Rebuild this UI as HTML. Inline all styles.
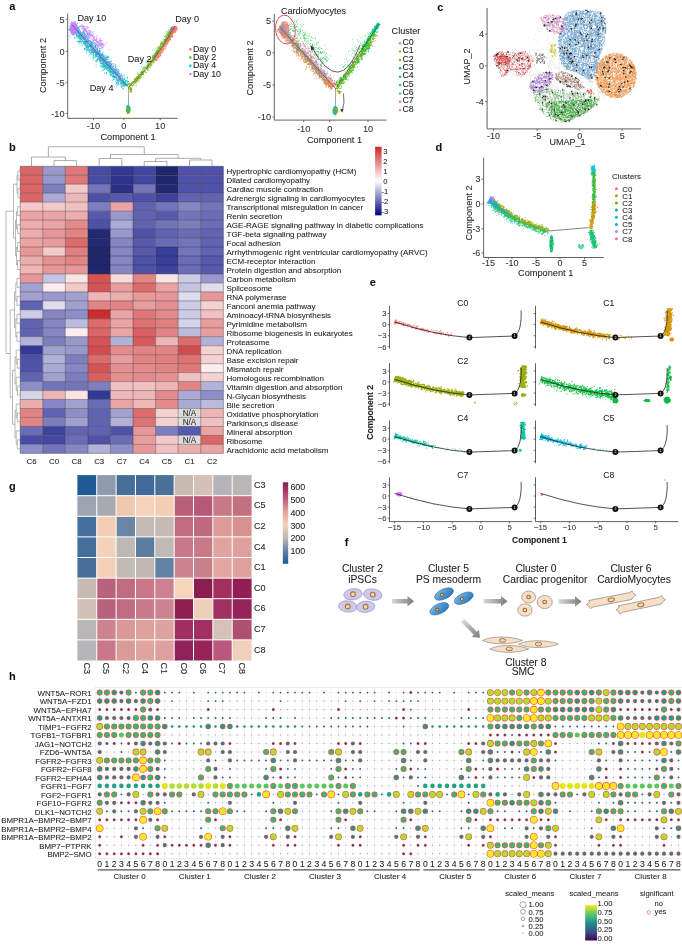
<!DOCTYPE html><html><head><meta charset="utf-8"><title>Figure</title><style>html,body{margin:0;padding:0;background:#fff;}svg{display:block;}svg text{font-family:"Liberation Sans",Arial,sans-serif;stroke:#333;stroke-width:0.18px;stroke-opacity:0.4;}</style></head><body><svg width="682" height="945" viewBox="0 0 682 945"><rect width="682" height="945" fill="#fff"/><text x="9.3" y="10" font-size="11.0" font-weight="bold" fill="#111">a</text>
<text x="9.1" y="151" font-size="11.0" font-weight="bold" fill="#111">b</text>
<text x="437.3" y="10.5" font-size="11.0" font-weight="bold" fill="#111">c</text>
<text x="435.4" y="151" font-size="11.0" font-weight="bold" fill="#111">d</text>
<text x="369.8" y="285.5" font-size="11.0" font-weight="bold" fill="#111">e</text>
<text x="344.8" y="546" font-size="11.0" font-weight="bold" fill="#111">f</text>
<text x="9" y="489.5" font-size="11.0" font-weight="bold" fill="#111">g</text>
<text x="9" y="680" font-size="11.0" font-weight="bold" fill="#111">h</text>
<rect x="20.2" y="166.3" width="22.6" height="9" fill="#db6666"/>
<rect x="42.8" y="166.3" width="22.6" height="9" fill="#9898cc"/>
<rect x="65.3" y="166.3" width="22.6" height="9" fill="#df7878"/>
<rect x="87.9" y="166.3" width="22.6" height="9" fill="#484ca4"/>
<rect x="110.5" y="166.3" width="22.6" height="9" fill="#323896"/>
<rect x="133" y="166.3" width="22.6" height="9" fill="#4347a1"/>
<rect x="155.6" y="166.3" width="22.6" height="9" fill="#1e266c"/>
<rect x="178.2" y="166.3" width="22.6" height="9" fill="#4e51a8"/>
<rect x="200.8" y="166.3" width="22.6" height="9" fill="#4e51a8"/>
<rect x="20.2" y="175.3" width="22.6" height="9" fill="#db6666"/>
<rect x="42.8" y="175.3" width="22.6" height="9" fill="#9898cc"/>
<rect x="65.3" y="175.3" width="22.6" height="9" fill="#df7878"/>
<rect x="87.9" y="175.3" width="22.6" height="9" fill="#484ca4"/>
<rect x="110.5" y="175.3" width="22.6" height="9" fill="#2e348e"/>
<rect x="133" y="175.3" width="22.6" height="9" fill="#4347a1"/>
<rect x="155.6" y="175.3" width="22.6" height="9" fill="#1e266c"/>
<rect x="178.2" y="175.3" width="22.6" height="9" fill="#4e51a8"/>
<rect x="200.8" y="175.3" width="22.6" height="9" fill="#4e51a8"/>
<rect x="20.2" y="184.2" width="22.6" height="9" fill="#db6666"/>
<rect x="42.8" y="184.2" width="22.6" height="9" fill="#7c7ebe"/>
<rect x="65.3" y="184.2" width="22.6" height="9" fill="#f3c9c9"/>
<rect x="87.9" y="184.2" width="22.6" height="9" fill="#7375ba"/>
<rect x="110.5" y="184.2" width="22.6" height="9" fill="#2a3185"/>
<rect x="133" y="184.2" width="22.6" height="9" fill="#7375ba"/>
<rect x="155.6" y="184.2" width="22.6" height="9" fill="#222a74"/>
<rect x="178.2" y="184.2" width="22.6" height="9" fill="#4e51a8"/>
<rect x="200.8" y="184.2" width="22.6" height="9" fill="#4e51a8"/>
<rect x="20.2" y="193.2" width="22.6" height="9" fill="#db6666"/>
<rect x="42.8" y="193.2" width="22.6" height="9" fill="#aaaad5"/>
<rect x="65.3" y="193.2" width="22.6" height="9" fill="#eeb6b6"/>
<rect x="87.9" y="193.2" width="22.6" height="9" fill="#4e51a8"/>
<rect x="110.5" y="193.2" width="22.6" height="9" fill="#575aac"/>
<rect x="133" y="193.2" width="22.6" height="9" fill="#4e51a8"/>
<rect x="155.6" y="193.2" width="22.6" height="9" fill="#3d429d"/>
<rect x="178.2" y="193.2" width="22.6" height="9" fill="#6063b1"/>
<rect x="200.8" y="193.2" width="22.6" height="9" fill="#6063b1"/>
<rect x="20.2" y="202.2" width="22.6" height="9" fill="#f3c9c9"/>
<rect x="42.8" y="202.2" width="22.6" height="9" fill="#f3c9c9"/>
<rect x="65.3" y="202.2" width="22.6" height="9" fill="#f1c0c0"/>
<rect x="87.9" y="202.2" width="22.6" height="9" fill="#7c7ebe"/>
<rect x="110.5" y="202.2" width="22.6" height="9" fill="#eaa4a4"/>
<rect x="133" y="202.2" width="22.6" height="9" fill="#6063b1"/>
<rect x="155.6" y="202.2" width="22.6" height="9" fill="#7375ba"/>
<rect x="178.2" y="202.2" width="22.6" height="9" fill="#8586c3"/>
<rect x="200.8" y="202.2" width="22.6" height="9" fill="#7375ba"/>
<rect x="20.2" y="211.2" width="22.6" height="9" fill="#eaa4a4"/>
<rect x="42.8" y="211.2" width="22.6" height="9" fill="#eaa4a4"/>
<rect x="65.3" y="211.2" width="22.6" height="9" fill="#ecadad"/>
<rect x="87.9" y="211.2" width="22.6" height="9" fill="#575aac"/>
<rect x="110.5" y="211.2" width="22.6" height="9" fill="#9898cc"/>
<rect x="133" y="211.2" width="22.6" height="9" fill="#6063b1"/>
<rect x="155.6" y="211.2" width="22.6" height="9" fill="#575aac"/>
<rect x="178.2" y="211.2" width="22.6" height="9" fill="#7375ba"/>
<rect x="200.8" y="211.2" width="22.6" height="9" fill="#6a6cb6"/>
<rect x="20.2" y="220.1" width="22.6" height="9" fill="#ecadad"/>
<rect x="42.8" y="220.1" width="22.6" height="9" fill="#eaa4a4"/>
<rect x="65.3" y="220.1" width="22.6" height="9" fill="#e48a8a"/>
<rect x="87.9" y="220.1" width="22.6" height="9" fill="#4e51a8"/>
<rect x="110.5" y="220.1" width="22.6" height="9" fill="#aaaad5"/>
<rect x="133" y="220.1" width="22.6" height="9" fill="#6063b1"/>
<rect x="155.6" y="220.1" width="22.6" height="9" fill="#7375ba"/>
<rect x="178.2" y="220.1" width="22.6" height="9" fill="#7c7ebe"/>
<rect x="200.8" y="220.1" width="22.6" height="9" fill="#6a6cb6"/>
<rect x="20.2" y="229.1" width="22.6" height="9" fill="#ecadad"/>
<rect x="42.8" y="229.1" width="22.6" height="9" fill="#e79797"/>
<rect x="65.3" y="229.1" width="22.6" height="9" fill="#e28484"/>
<rect x="87.9" y="229.1" width="22.6" height="9" fill="#222a74"/>
<rect x="110.5" y="229.1" width="22.6" height="9" fill="#9898cc"/>
<rect x="133" y="229.1" width="22.6" height="9" fill="#4e51a8"/>
<rect x="155.6" y="229.1" width="22.6" height="9" fill="#6063b1"/>
<rect x="178.2" y="229.1" width="22.6" height="9" fill="#6a6cb6"/>
<rect x="200.8" y="229.1" width="22.6" height="9" fill="#6063b1"/>
<rect x="20.2" y="238.1" width="22.6" height="9" fill="#eaa4a4"/>
<rect x="42.8" y="238.1" width="22.6" height="9" fill="#e89e9e"/>
<rect x="65.3" y="238.1" width="22.6" height="9" fill="#dc6c6c"/>
<rect x="87.9" y="238.1" width="22.6" height="9" fill="#222a74"/>
<rect x="110.5" y="238.1" width="22.6" height="9" fill="#8586c3"/>
<rect x="133" y="238.1" width="22.6" height="9" fill="#575aac"/>
<rect x="155.6" y="238.1" width="22.6" height="9" fill="#6a6cb6"/>
<rect x="178.2" y="238.1" width="22.6" height="9" fill="#7375ba"/>
<rect x="200.8" y="238.1" width="22.6" height="9" fill="#6063b1"/>
<rect x="20.2" y="247" width="22.6" height="9" fill="#e79797"/>
<rect x="42.8" y="247" width="22.6" height="9" fill="#f3c9c9"/>
<rect x="65.3" y="247" width="22.6" height="9" fill="#e17e7e"/>
<rect x="87.9" y="247" width="22.6" height="9" fill="#1e266c"/>
<rect x="110.5" y="247" width="22.6" height="9" fill="#8586c3"/>
<rect x="133" y="247" width="22.6" height="9" fill="#575aac"/>
<rect x="155.6" y="247" width="22.6" height="9" fill="#383d9a"/>
<rect x="178.2" y="247" width="22.6" height="9" fill="#7375ba"/>
<rect x="200.8" y="247" width="22.6" height="9" fill="#6063b1"/>
<rect x="20.2" y="256" width="22.6" height="9" fill="#ecadad"/>
<rect x="42.8" y="256" width="22.6" height="9" fill="#e59191"/>
<rect x="65.3" y="256" width="22.6" height="9" fill="#e28484"/>
<rect x="87.9" y="256" width="22.6" height="9" fill="#1e266c"/>
<rect x="110.5" y="256" width="22.6" height="9" fill="#8586c3"/>
<rect x="133" y="256" width="22.6" height="9" fill="#4e51a8"/>
<rect x="155.6" y="256" width="22.6" height="9" fill="#383d9a"/>
<rect x="178.2" y="256" width="22.6" height="9" fill="#6a6cb6"/>
<rect x="200.8" y="256" width="22.6" height="9" fill="#575aac"/>
<rect x="20.2" y="265" width="22.6" height="9" fill="#eeb6b6"/>
<rect x="42.8" y="265" width="22.6" height="9" fill="#e79797"/>
<rect x="65.3" y="265" width="22.6" height="9" fill="#e79797"/>
<rect x="87.9" y="265" width="22.6" height="9" fill="#1e266c"/>
<rect x="110.5" y="265" width="22.6" height="9" fill="#8586c3"/>
<rect x="133" y="265" width="22.6" height="9" fill="#4e51a8"/>
<rect x="155.6" y="265" width="22.6" height="9" fill="#3d429d"/>
<rect x="178.2" y="265" width="22.6" height="9" fill="#6a6cb6"/>
<rect x="200.8" y="265" width="22.6" height="9" fill="#575aac"/>
<rect x="20.2" y="273.9" width="22.6" height="9" fill="#e79797"/>
<rect x="42.8" y="273.9" width="22.6" height="9" fill="#c4c4e2"/>
<rect x="65.3" y="273.9" width="22.6" height="9" fill="#f9e4e4"/>
<rect x="87.9" y="273.9" width="22.6" height="9" fill="#d55353"/>
<rect x="110.5" y="273.9" width="22.6" height="9" fill="#f7dbdb"/>
<rect x="133" y="273.9" width="22.6" height="9" fill="#e28484"/>
<rect x="155.6" y="273.9" width="22.6" height="9" fill="#f9e4e4"/>
<rect x="178.2" y="273.9" width="22.6" height="9" fill="#cccce6"/>
<rect x="200.8" y="273.9" width="22.6" height="9" fill="#9898cc"/>
<rect x="20.2" y="282.9" width="22.6" height="9" fill="#a1a1d0"/>
<rect x="42.8" y="282.9" width="22.6" height="9" fill="#fbeded"/>
<rect x="65.3" y="282.9" width="22.6" height="9" fill="#f3c9c9"/>
<rect x="87.9" y="282.9" width="22.6" height="9" fill="#d55353"/>
<rect x="110.5" y="282.9" width="22.6" height="9" fill="#e89e9e"/>
<rect x="133" y="282.9" width="22.6" height="9" fill="#dc6c6c"/>
<rect x="155.6" y="282.9" width="22.6" height="9" fill="#eaa4a4"/>
<rect x="178.2" y="282.9" width="22.6" height="9" fill="#c4c4e2"/>
<rect x="200.8" y="282.9" width="22.6" height="9" fill="#ddddee"/>
<rect x="20.2" y="291.9" width="22.6" height="9" fill="#a1a1d0"/>
<rect x="42.8" y="291.9" width="22.6" height="9" fill="#9898cc"/>
<rect x="65.3" y="291.9" width="22.6" height="9" fill="#a1a1d0"/>
<rect x="87.9" y="291.9" width="22.6" height="9" fill="#eeb6b6"/>
<rect x="110.5" y="291.9" width="22.6" height="9" fill="#ecadad"/>
<rect x="133" y="291.9" width="22.6" height="9" fill="#e79797"/>
<rect x="155.6" y="291.9" width="22.6" height="9" fill="#e79797"/>
<rect x="178.2" y="291.9" width="22.6" height="9" fill="#ddddee"/>
<rect x="200.8" y="291.9" width="22.6" height="9" fill="#e79797"/>
<rect x="20.2" y="300.9" width="22.6" height="9" fill="#6063b1"/>
<rect x="42.8" y="300.9" width="22.6" height="9" fill="#ddddee"/>
<rect x="65.3" y="300.9" width="22.6" height="9" fill="#a1a1d0"/>
<rect x="87.9" y="300.9" width="22.6" height="9" fill="#e28484"/>
<rect x="110.5" y="300.9" width="22.6" height="9" fill="#e28484"/>
<rect x="133" y="300.9" width="22.6" height="9" fill="#e89e9e"/>
<rect x="155.6" y="300.9" width="22.6" height="9" fill="#e59191"/>
<rect x="178.2" y="300.9" width="22.6" height="9" fill="#cccce6"/>
<rect x="200.8" y="300.9" width="22.6" height="9" fill="#f5d2d2"/>
<rect x="20.2" y="309.8" width="22.6" height="9" fill="#cccce6"/>
<rect x="42.8" y="309.8" width="22.6" height="9" fill="#8586c3"/>
<rect x="65.3" y="309.8" width="22.6" height="9" fill="#8e8fc8"/>
<rect x="87.9" y="309.8" width="22.6" height="9" fill="#ca2c2e"/>
<rect x="110.5" y="309.8" width="22.6" height="9" fill="#eaa4a4"/>
<rect x="133" y="309.8" width="22.6" height="9" fill="#df7878"/>
<rect x="155.6" y="309.8" width="22.6" height="9" fill="#e48a8a"/>
<rect x="178.2" y="309.8" width="22.6" height="9" fill="#cccce6"/>
<rect x="200.8" y="309.8" width="22.6" height="9" fill="#f1c0c0"/>
<rect x="20.2" y="318.8" width="22.6" height="9" fill="#6063b1"/>
<rect x="42.8" y="318.8" width="22.6" height="9" fill="#8586c3"/>
<rect x="65.3" y="318.8" width="22.6" height="9" fill="#bbbbdd"/>
<rect x="87.9" y="318.8" width="22.6" height="9" fill="#dc6c6c"/>
<rect x="110.5" y="318.8" width="22.6" height="9" fill="#eaa4a4"/>
<rect x="133" y="318.8" width="22.6" height="9" fill="#de7272"/>
<rect x="155.6" y="318.8" width="22.6" height="9" fill="#e17e7e"/>
<rect x="178.2" y="318.8" width="22.6" height="9" fill="#d4d4ea"/>
<rect x="200.8" y="318.8" width="22.6" height="9" fill="#e89e9e"/>
<rect x="20.2" y="327.8" width="22.6" height="9" fill="#6063b1"/>
<rect x="42.8" y="327.8" width="22.6" height="9" fill="#8586c3"/>
<rect x="65.3" y="327.8" width="22.6" height="9" fill="#fbeded"/>
<rect x="87.9" y="327.8" width="22.6" height="9" fill="#db6666"/>
<rect x="110.5" y="327.8" width="22.6" height="9" fill="#eaa4a4"/>
<rect x="133" y="327.8" width="22.6" height="9" fill="#d96060"/>
<rect x="155.6" y="327.8" width="22.6" height="9" fill="#e28484"/>
<rect x="178.2" y="327.8" width="22.6" height="9" fill="#bbbbdd"/>
<rect x="200.8" y="327.8" width="22.6" height="9" fill="#e89e9e"/>
<rect x="20.2" y="336.7" width="22.6" height="9" fill="#b2b2d9"/>
<rect x="42.8" y="336.7" width="22.6" height="9" fill="#7c7ebe"/>
<rect x="65.3" y="336.7" width="22.6" height="9" fill="#9898cc"/>
<rect x="87.9" y="336.7" width="22.6" height="9" fill="#d55353"/>
<rect x="110.5" y="336.7" width="22.6" height="9" fill="#b2b2d9"/>
<rect x="133" y="336.7" width="22.6" height="9" fill="#d7595a"/>
<rect x="155.6" y="336.7" width="22.6" height="9" fill="#eeb6b6"/>
<rect x="178.2" y="336.7" width="22.6" height="9" fill="#dc6c6c"/>
<rect x="200.8" y="336.7" width="22.6" height="9" fill="#b2b2d9"/>
<rect x="20.2" y="345.7" width="22.6" height="9" fill="#323896"/>
<rect x="42.8" y="345.7" width="22.6" height="9" fill="#a1a1d0"/>
<rect x="65.3" y="345.7" width="22.6" height="9" fill="#9898cc"/>
<rect x="87.9" y="345.7" width="22.6" height="9" fill="#d34c4d"/>
<rect x="110.5" y="345.7" width="22.6" height="9" fill="#e48a8a"/>
<rect x="133" y="345.7" width="22.6" height="9" fill="#e28484"/>
<rect x="155.6" y="345.7" width="22.6" height="9" fill="#e28484"/>
<rect x="178.2" y="345.7" width="22.6" height="9" fill="#d34c4d"/>
<rect x="200.8" y="345.7" width="22.6" height="9" fill="#f5d2d2"/>
<rect x="20.2" y="354.7" width="22.6" height="9" fill="#4e51a8"/>
<rect x="42.8" y="354.7" width="22.6" height="9" fill="#b2b2d9"/>
<rect x="65.3" y="354.7" width="22.6" height="9" fill="#7c7ebe"/>
<rect x="87.9" y="354.7" width="22.6" height="9" fill="#dc6c6c"/>
<rect x="110.5" y="354.7" width="22.6" height="9" fill="#e89e9e"/>
<rect x="133" y="354.7" width="22.6" height="9" fill="#e28484"/>
<rect x="155.6" y="354.7" width="22.6" height="9" fill="#e17e7e"/>
<rect x="178.2" y="354.7" width="22.6" height="9" fill="#de7272"/>
<rect x="200.8" y="354.7" width="22.6" height="9" fill="#f5d2d2"/>
<rect x="20.2" y="363.6" width="22.6" height="9" fill="#4e51a8"/>
<rect x="42.8" y="363.6" width="22.6" height="9" fill="#aaaad5"/>
<rect x="65.3" y="363.6" width="22.6" height="9" fill="#8586c3"/>
<rect x="87.9" y="363.6" width="22.6" height="9" fill="#d55353"/>
<rect x="110.5" y="363.6" width="22.6" height="9" fill="#e59191"/>
<rect x="133" y="363.6" width="22.6" height="9" fill="#e48a8a"/>
<rect x="155.6" y="363.6" width="22.6" height="9" fill="#e28484"/>
<rect x="178.2" y="363.6" width="22.6" height="9" fill="#df7878"/>
<rect x="200.8" y="363.6" width="22.6" height="9" fill="#fbeded"/>
<rect x="20.2" y="372.6" width="22.6" height="9" fill="#6063b1"/>
<rect x="42.8" y="372.6" width="22.6" height="9" fill="#a1a1d0"/>
<rect x="65.3" y="372.6" width="22.6" height="9" fill="#7c7ebe"/>
<rect x="87.9" y="372.6" width="22.6" height="9" fill="#d96060"/>
<rect x="110.5" y="372.6" width="22.6" height="9" fill="#e59191"/>
<rect x="133" y="372.6" width="22.6" height="9" fill="#e48a8a"/>
<rect x="155.6" y="372.6" width="22.6" height="9" fill="#e59191"/>
<rect x="178.2" y="372.6" width="22.6" height="9" fill="#f1c0c0"/>
<rect x="200.8" y="372.6" width="22.6" height="9" fill="#f5d2d2"/>
<rect x="20.2" y="381.6" width="22.6" height="9" fill="#8e8fc8"/>
<rect x="42.8" y="381.6" width="22.6" height="9" fill="#7375ba"/>
<rect x="65.3" y="381.6" width="22.6" height="9" fill="#7375ba"/>
<rect x="87.9" y="381.6" width="22.6" height="9" fill="#7c7ebe"/>
<rect x="110.5" y="381.6" width="22.6" height="9" fill="#f1c0c0"/>
<rect x="133" y="381.6" width="22.6" height="9" fill="#f1c0c0"/>
<rect x="155.6" y="381.6" width="22.6" height="9" fill="#eeb6b6"/>
<rect x="178.2" y="381.6" width="22.6" height="9" fill="#e28484"/>
<rect x="200.8" y="381.6" width="22.6" height="9" fill="#b2b2d9"/>
<rect x="20.2" y="390.6" width="22.6" height="9" fill="#d4d4ea"/>
<rect x="42.8" y="390.6" width="22.6" height="9" fill="#eeb6b6"/>
<rect x="65.3" y="390.6" width="22.6" height="9" fill="#f9e4e4"/>
<rect x="87.9" y="390.6" width="22.6" height="9" fill="#323896"/>
<rect x="110.5" y="390.6" width="22.6" height="9" fill="#eeb6b6"/>
<rect x="133" y="390.6" width="22.6" height="9" fill="#eeb6b6"/>
<rect x="155.6" y="390.6" width="22.6" height="9" fill="#e48a8a"/>
<rect x="178.2" y="390.6" width="22.6" height="9" fill="#aaaad5"/>
<rect x="200.8" y="390.6" width="22.6" height="9" fill="#8e8fc8"/>
<rect x="20.2" y="399.5" width="22.6" height="9" fill="#ecadad"/>
<rect x="42.8" y="399.5" width="22.6" height="9" fill="#8586c3"/>
<rect x="65.3" y="399.5" width="22.6" height="9" fill="#a1a1d0"/>
<rect x="87.9" y="399.5" width="22.6" height="9" fill="#6a6cb6"/>
<rect x="110.5" y="399.5" width="22.6" height="9" fill="#eaa4a4"/>
<rect x="133" y="399.5" width="22.6" height="9" fill="#eeb6b6"/>
<rect x="155.6" y="399.5" width="22.6" height="9" fill="#e48a8a"/>
<rect x="178.2" y="399.5" width="22.6" height="9" fill="#aaaad5"/>
<rect x="200.8" y="399.5" width="22.6" height="9" fill="#bbbbdd"/>
<rect x="20.2" y="408.5" width="22.6" height="9" fill="#e28484"/>
<rect x="42.8" y="408.5" width="22.6" height="9" fill="#6063b1"/>
<rect x="65.3" y="408.5" width="22.6" height="9" fill="#8e8fc8"/>
<rect x="87.9" y="408.5" width="22.6" height="9" fill="#6063b1"/>
<rect x="110.5" y="408.5" width="22.6" height="9" fill="#a1a1d0"/>
<rect x="133" y="408.5" width="22.6" height="9" fill="#dc6c6c"/>
<rect x="155.6" y="408.5" width="22.6" height="9" fill="#f5d2d2"/>
<rect x="178.2" y="408.5" width="22.6" height="9" fill="#dcdcdc"/>
<text x="189.5" y="416.1" font-size="8.2" text-anchor="middle" fill="#333">N/A</text>
<rect x="200.8" y="408.5" width="22.6" height="9" fill="#eeb6b6"/>
<rect x="20.2" y="417.5" width="22.6" height="9" fill="#e28484"/>
<rect x="42.8" y="417.5" width="22.6" height="9" fill="#7c7ebe"/>
<rect x="65.3" y="417.5" width="22.6" height="9" fill="#a1a1d0"/>
<rect x="87.9" y="417.5" width="22.6" height="9" fill="#6063b1"/>
<rect x="110.5" y="417.5" width="22.6" height="9" fill="#b2b2d9"/>
<rect x="133" y="417.5" width="22.6" height="9" fill="#de7272"/>
<rect x="155.6" y="417.5" width="22.6" height="9" fill="#f5d2d2"/>
<rect x="178.2" y="417.5" width="22.6" height="9" fill="#dcdcdc"/>
<text x="189.5" y="425.1" font-size="8.2" text-anchor="middle" fill="#333">N/A</text>
<rect x="200.8" y="417.5" width="22.6" height="9" fill="#f1c0c0"/>
<rect x="20.2" y="426.4" width="22.6" height="9" fill="#6a6cb6"/>
<rect x="42.8" y="426.4" width="22.6" height="9" fill="#3d429d"/>
<rect x="65.3" y="426.4" width="22.6" height="9" fill="#6063b1"/>
<rect x="87.9" y="426.4" width="22.6" height="9" fill="#6063b1"/>
<rect x="110.5" y="426.4" width="22.6" height="9" fill="#4e51a8"/>
<rect x="133" y="426.4" width="22.6" height="9" fill="#e79797"/>
<rect x="155.6" y="426.4" width="22.6" height="9" fill="#7c7ebe"/>
<rect x="178.2" y="426.4" width="22.6" height="9" fill="#575aac"/>
<rect x="200.8" y="426.4" width="22.6" height="9" fill="#eaa4a4"/>
<rect x="20.2" y="435.4" width="22.6" height="9" fill="#484ca4"/>
<rect x="42.8" y="435.4" width="22.6" height="9" fill="#4347a1"/>
<rect x="65.3" y="435.4" width="22.6" height="9" fill="#6a6cb6"/>
<rect x="87.9" y="435.4" width="22.6" height="9" fill="#4e51a8"/>
<rect x="110.5" y="435.4" width="22.6" height="9" fill="#6a6cb6"/>
<rect x="133" y="435.4" width="22.6" height="9" fill="#e89e9e"/>
<rect x="155.6" y="435.4" width="22.6" height="9" fill="#f3c9c9"/>
<rect x="178.2" y="435.4" width="22.6" height="9" fill="#dcdcdc"/>
<text x="189.5" y="443.1" font-size="8.2" text-anchor="middle" fill="#333">N/A</text>
<rect x="200.8" y="435.4" width="22.6" height="9" fill="#db6666"/>
<rect x="20.2" y="444.4" width="22.6" height="9" fill="#8e8fc8"/>
<rect x="42.8" y="444.4" width="22.6" height="9" fill="#7375ba"/>
<rect x="65.3" y="444.4" width="22.6" height="9" fill="#8586c3"/>
<rect x="87.9" y="444.4" width="22.6" height="9" fill="#b2b2d9"/>
<rect x="110.5" y="444.4" width="22.6" height="9" fill="#8e8fc8"/>
<rect x="133" y="444.4" width="22.6" height="9" fill="#e79797"/>
<rect x="155.6" y="444.4" width="22.6" height="9" fill="#f1c0c0"/>
<rect x="178.2" y="444.4" width="22.6" height="9" fill="#ecadad"/>
<rect x="200.8" y="444.4" width="22.6" height="9" fill="#eaa4a4"/>
<path d="M20.2 166.30H223.3M20.2 175.27H223.3M20.2 184.24H223.3M20.2 193.21H223.3M20.2 202.18H223.3M20.2 211.15H223.3M20.2 220.12H223.3M20.2 229.09H223.3M20.2 238.06H223.3M20.2 247.03H223.3M20.2 256.00H223.3M20.2 264.97H223.3M20.2 273.94H223.3M20.2 282.91H223.3M20.2 291.88H223.3M20.2 300.85H223.3M20.2 309.82H223.3M20.2 318.79H223.3M20.2 327.76H223.3M20.2 336.73H223.3M20.2 345.70H223.3M20.2 354.67H223.3M20.2 363.64H223.3M20.2 372.61H223.3M20.2 381.58H223.3M20.2 390.55H223.3M20.2 399.52H223.3M20.2 408.49H223.3M20.2 417.46H223.3M20.2 426.43H223.3M20.2 435.40H223.3M20.2 444.37H223.3M20.2 453.34H223.3M20.20 166.3V453.3M42.77 166.3V453.3M65.34 166.3V453.3M87.91 166.3V453.3M110.48 166.3V453.3M133.05 166.3V453.3M155.62 166.3V453.3M178.19 166.3V453.3M200.76 166.3V453.3M223.33 166.3V453.3" stroke="#2e2630" stroke-width="0.75" stroke-opacity="0.5" fill="none"/>
<text x="226.5" y="174.4" font-size="8.0" fill="#1a1a1a">Hypertrophic cardiomyopathy (HCM)</text>
<text x="226.5" y="183.4" font-size="8.0" fill="#1a1a1a">Dilated cardiomyopathy</text>
<text x="226.5" y="192.3" font-size="8.0" fill="#1a1a1a">Cardiac muscle contraction</text>
<text x="226.5" y="201.3" font-size="8.0" fill="#1a1a1a">Adrenergic signaling in cardiomyocytes</text>
<text x="226.5" y="210.3" font-size="8.0" fill="#1a1a1a">Transcriptional misregulation in cancer</text>
<text x="226.5" y="219.2" font-size="8.0" fill="#1a1a1a">Renin secretion</text>
<text x="226.5" y="228.2" font-size="8.0" fill="#1a1a1a">AGE-RAGE signaling pathway in diabetic complications</text>
<text x="226.5" y="237.2" font-size="8.0" fill="#1a1a1a">TGF-beta signaling pathway</text>
<text x="226.5" y="246.1" font-size="8.0" fill="#1a1a1a">Focal adhesion</text>
<text x="226.5" y="255.1" font-size="8.0" fill="#1a1a1a">Arrhythmogenic right ventricular cardiomyopathy (ARVC)</text>
<text x="226.5" y="264.1" font-size="8.0" fill="#1a1a1a">ECM-receptor interaction</text>
<text x="226.5" y="273.1" font-size="8.0" fill="#1a1a1a">Protein digestion and absorption</text>
<text x="226.5" y="282" font-size="8.0" fill="#1a1a1a">Carbon metabolism</text>
<text x="226.5" y="291" font-size="8.0" fill="#1a1a1a">Spliceosome</text>
<text x="226.5" y="300" font-size="8.0" fill="#1a1a1a">RNA polymerase</text>
<text x="226.5" y="308.9" font-size="8.0" fill="#1a1a1a">Fanconi anemia pathway</text>
<text x="226.5" y="317.9" font-size="8.0" fill="#1a1a1a">Aminoacyl-tRNA biosynthesis</text>
<text x="226.5" y="326.9" font-size="8.0" fill="#1a1a1a">Pyrimidine metabolism</text>
<text x="226.5" y="335.8" font-size="8.0" fill="#1a1a1a">Ribosome biogenesis in eukaryotes</text>
<text x="226.5" y="344.8" font-size="8.0" fill="#1a1a1a">Proteasome</text>
<text x="226.5" y="353.8" font-size="8.0" fill="#1a1a1a">DNA replication</text>
<text x="226.5" y="362.8" font-size="8.0" fill="#1a1a1a">Base excision repair</text>
<text x="226.5" y="371.7" font-size="8.0" fill="#1a1a1a">Mismatch repair</text>
<text x="226.5" y="380.7" font-size="8.0" fill="#1a1a1a">Homologous recombination</text>
<text x="226.5" y="389.7" font-size="8.0" fill="#1a1a1a">Vitamin digestion and absorption</text>
<text x="226.5" y="398.6" font-size="8.0" fill="#1a1a1a">N-Glycan biosynthesis</text>
<text x="226.5" y="407.6" font-size="8.0" fill="#1a1a1a">Bile secretion</text>
<text x="226.5" y="416.6" font-size="8.0" fill="#1a1a1a">Oxidative phosphorylation</text>
<text x="226.5" y="425.5" font-size="8.0" fill="#1a1a1a">Parkinson,s disease</text>
<text x="226.5" y="434.5" font-size="8.0" fill="#1a1a1a">Mineral absorption</text>
<text x="226.5" y="443.5" font-size="8.0" fill="#1a1a1a">Ribosome</text>
<text x="226.5" y="452.5" font-size="8.0" fill="#1a1a1a">Arachidonic acid metabolism</text>
<text x="31.5" y="463.9" font-size="7.9" text-anchor="middle" fill="#1a1a1a">C6</text>
<text x="54.1" y="463.9" font-size="7.9" text-anchor="middle" fill="#1a1a1a">C0</text>
<text x="76.6" y="463.9" font-size="7.9" text-anchor="middle" fill="#1a1a1a">C8</text>
<text x="99.2" y="463.9" font-size="7.9" text-anchor="middle" fill="#1a1a1a">C3</text>
<text x="121.8" y="463.9" font-size="7.9" text-anchor="middle" fill="#1a1a1a">C7</text>
<text x="144.3" y="463.9" font-size="7.9" text-anchor="middle" fill="#1a1a1a">C4</text>
<text x="166.9" y="463.9" font-size="7.9" text-anchor="middle" fill="#1a1a1a">C5</text>
<text x="189.5" y="463.9" font-size="7.9" text-anchor="middle" fill="#1a1a1a">C1</text>
<text x="212" y="463.9" font-size="7.9" text-anchor="middle" fill="#1a1a1a">C2</text>
<defs><linearGradient id="gb" x1="0" y1="0" x2="0" y2="1"><stop offset="0" stop-color="#cd2626"/><stop offset="0.5" stop-color="#ffffff"/><stop offset="1" stop-color="#000080"/></linearGradient></defs>
<rect x="375.1" y="146.8" width="6.5" height="68.5" fill="url(#gb)"/>
<text x="383.2" y="154.1" font-size="7.6" fill="#222">3</text>
<text x="383.2" y="164.1" font-size="7.6" fill="#222">2</text>
<text x="383.2" y="174.1" font-size="7.6" fill="#222">1</text>
<text x="383.2" y="184.2" font-size="7.6" fill="#222">0</text>
<text x="381.6" y="194.2" font-size="7.6" fill="#222">-1</text>
<text x="381.6" y="204.2" font-size="7.6" fill="#222">-2</text>
<text x="381.6" y="214.2" font-size="7.6" fill="#222">-3</text>
<path d="M54.1 166.3V160.6H76.6V166.3M31.5 166.3V157.0H65.3V160.6M99.2 166.3V158.5H121.8V166.3M144.3 166.3V161.5H166.9V166.3M189.5 166.3V160.0H212.0V166.3M155.6 161.5V158.3H200.8V160.0M110.5 158.5V154.5H178.2V158.3M48.4 157.0V146.8H144.3V154.5" stroke="#8a8a8a" stroke-width="0.7" fill="none"/>
<path d="M17.9 175.3H17.0V193.2H17.9M20.2 170.8H17.9V179.8H20.2M20.2 188.7H17.9V197.7H20.2M16.5 220.1H15.5V256.0H16.5M17.6 211.2H16.5V229.1H17.6M20.2 206.7H17.6V215.6H20.2M20.2 224.6H17.6V233.6H20.2M17.6 247.0H16.5V265.0H17.6M20.2 242.5H17.6V251.5H20.2M20.2 260.5H17.6V269.5H20.2M15.8 291.9H14.5V327.8H15.8M17.0 282.9H15.8V300.9H17.0M20.2 278.4H17.0V287.4H20.2M20.2 296.4H17.0V305.3H20.2M17.0 318.8H15.8V336.7H17.0M20.2 314.3H17.0V323.3H20.2M20.2 332.2H17.0V341.2H20.2M16.2 356.9H15.0V383.8H16.2M20.2 350.2H16.2V363.6H17.3M20.2 359.2H17.3V368.1H20.2M20.2 377.1H16.2V390.6H17.3M20.2 386.1H17.3V395.0H20.2M16.2 410.7H15.0V437.6H16.2M20.2 404.0H16.2V417.5H17.3M20.2 413.0H17.3V421.9H20.2M20.2 430.9H16.2V444.4H17.3M20.2 439.9H17.3V448.9H20.2M17.0 184.2H13.5V238.1H15.5M15.0 370.4H12.5V424.2H15.0M14.5 309.8H10.2V397.3H12.5M13.5 211.2H6.0V353.5H10.2" stroke="#8a8a8a" stroke-width="0.6" fill="none"/>
<rect x="77.4" y="475.1" width="19.4" height="20.6" fill="#1F5A94"/>
<rect x="96.8" y="475.1" width="19.4" height="20.6" fill="#8E9BAE"/>
<rect x="116.1" y="475.1" width="19.4" height="20.6" fill="#456E99"/>
<rect x="135.5" y="475.1" width="19.4" height="20.6" fill="#41699A"/>
<rect x="154.8" y="475.1" width="19.4" height="20.6" fill="#4C7099"/>
<rect x="174.2" y="475.1" width="19.4" height="20.6" fill="#C9BAB0"/>
<rect x="193.5" y="475.1" width="19.4" height="20.6" fill="#D4C0B4"/>
<rect x="212.9" y="475.1" width="19.4" height="20.6" fill="#B4B4B8"/>
<rect x="232.2" y="475.1" width="19.4" height="20.6" fill="#B9B6B6"/>
<rect x="77.4" y="495.7" width="19.4" height="20.6" fill="#9DA5B0"/>
<rect x="96.8" y="495.7" width="19.4" height="20.6" fill="#A8AAB0"/>
<rect x="116.1" y="495.7" width="19.4" height="20.6" fill="#F0C8B0"/>
<rect x="135.5" y="495.7" width="19.4" height="20.6" fill="#F5D2B8"/>
<rect x="154.8" y="495.7" width="19.4" height="20.6" fill="#F3CDB4"/>
<rect x="174.2" y="495.7" width="19.4" height="20.6" fill="#B8607A"/>
<rect x="193.5" y="495.7" width="19.4" height="20.6" fill="#B65878"/>
<rect x="212.9" y="495.7" width="19.4" height="20.6" fill="#C87886"/>
<rect x="232.2" y="495.7" width="19.4" height="20.6" fill="#C27082"/>
<rect x="77.4" y="516.3" width="19.4" height="20.6" fill="#466F9B"/>
<rect x="96.8" y="516.3" width="19.4" height="20.6" fill="#F2CCB4"/>
<rect x="116.1" y="516.3" width="19.4" height="20.6" fill="#6A85A5"/>
<rect x="135.5" y="516.3" width="19.4" height="20.6" fill="#C6BCB6"/>
<rect x="154.8" y="516.3" width="19.4" height="20.6" fill="#C6BAB4"/>
<rect x="174.2" y="516.3" width="19.4" height="20.6" fill="#C06C80"/>
<rect x="193.5" y="516.3" width="19.4" height="20.6" fill="#C06A80"/>
<rect x="212.9" y="516.3" width="19.4" height="20.6" fill="#DC9A98"/>
<rect x="232.2" y="516.3" width="19.4" height="20.6" fill="#D8908F"/>
<rect x="77.4" y="536.9" width="19.4" height="20.6" fill="#456E9B"/>
<rect x="96.8" y="536.9" width="19.4" height="20.6" fill="#F4D2BA"/>
<rect x="116.1" y="536.9" width="19.4" height="20.6" fill="#BEB8B4"/>
<rect x="135.5" y="536.9" width="19.4" height="20.6" fill="#5C7CA0"/>
<rect x="154.8" y="536.9" width="19.4" height="20.6" fill="#C0BAB4"/>
<rect x="174.2" y="536.9" width="19.4" height="20.6" fill="#C87888"/>
<rect x="193.5" y="536.9" width="19.4" height="20.6" fill="#C87A88"/>
<rect x="212.9" y="536.9" width="19.4" height="20.6" fill="#E0A4A0"/>
<rect x="232.2" y="536.9" width="19.4" height="20.6" fill="#DEA09C"/>
<rect x="77.4" y="557.5" width="19.4" height="20.6" fill="#476F9A"/>
<rect x="96.8" y="557.5" width="19.4" height="20.6" fill="#F3CFB5"/>
<rect x="116.1" y="557.5" width="19.4" height="20.6" fill="#C2BAB4"/>
<rect x="135.5" y="557.5" width="19.4" height="20.6" fill="#BEB7B4"/>
<rect x="154.8" y="557.5" width="19.4" height="20.6" fill="#6383A5"/>
<rect x="174.2" y="557.5" width="19.4" height="20.6" fill="#CE8490"/>
<rect x="193.5" y="557.5" width="19.4" height="20.6" fill="#C8808A"/>
<rect x="212.9" y="557.5" width="19.4" height="20.6" fill="#E2A8A0"/>
<rect x="232.2" y="557.5" width="19.4" height="20.6" fill="#DEA29E"/>
<rect x="77.4" y="578.1" width="19.4" height="20.6" fill="#C8BBB4"/>
<rect x="96.8" y="578.1" width="19.4" height="20.6" fill="#B8627C"/>
<rect x="116.1" y="578.1" width="19.4" height="20.6" fill="#C06C80"/>
<rect x="135.5" y="578.1" width="19.4" height="20.6" fill="#C87888"/>
<rect x="154.8" y="578.1" width="19.4" height="20.6" fill="#CC8090"/>
<rect x="174.2" y="578.1" width="19.4" height="20.6" fill="#F6D6BA"/>
<rect x="193.5" y="578.1" width="19.4" height="20.6" fill="#8A1E50"/>
<rect x="212.9" y="578.1" width="19.4" height="20.6" fill="#A0305E"/>
<rect x="232.2" y="578.1" width="19.4" height="20.6" fill="#921E55"/>
<rect x="77.4" y="598.7" width="19.4" height="20.6" fill="#D0C0B6"/>
<rect x="96.8" y="598.7" width="19.4" height="20.6" fill="#B8627C"/>
<rect x="116.1" y="598.7" width="19.4" height="20.6" fill="#C06C80"/>
<rect x="135.5" y="598.7" width="19.4" height="20.6" fill="#C87A88"/>
<rect x="154.8" y="598.7" width="19.4" height="20.6" fill="#CC8290"/>
<rect x="174.2" y="598.7" width="19.4" height="20.6" fill="#8C1E50"/>
<rect x="193.5" y="598.7" width="19.4" height="20.6" fill="#F0CFB8"/>
<rect x="212.9" y="598.7" width="19.4" height="20.6" fill="#A0305E"/>
<rect x="232.2" y="598.7" width="19.4" height="20.6" fill="#96245A"/>
<rect x="77.4" y="619.3" width="19.4" height="20.6" fill="#B8B6B6"/>
<rect x="96.8" y="619.3" width="19.4" height="20.6" fill="#CC8490"/>
<rect x="116.1" y="619.3" width="19.4" height="20.6" fill="#DA9896"/>
<rect x="135.5" y="619.3" width="19.4" height="20.6" fill="#DEA29C"/>
<rect x="154.8" y="619.3" width="19.4" height="20.6" fill="#DEA29E"/>
<rect x="174.2" y="619.3" width="19.4" height="20.6" fill="#A02E60"/>
<rect x="193.5" y="619.3" width="19.4" height="20.6" fill="#A03060"/>
<rect x="212.9" y="619.3" width="19.4" height="20.6" fill="#D4C2B8"/>
<rect x="232.2" y="619.3" width="19.4" height="20.6" fill="#B05070"/>
<rect x="77.4" y="639.9" width="19.4" height="20.6" fill="#B6B6B8"/>
<rect x="96.8" y="639.9" width="19.4" height="20.6" fill="#C8788A"/>
<rect x="116.1" y="639.9" width="19.4" height="20.6" fill="#DA9A98"/>
<rect x="135.5" y="639.9" width="19.4" height="20.6" fill="#E0A49E"/>
<rect x="154.8" y="639.9" width="19.4" height="20.6" fill="#DEA09E"/>
<rect x="174.2" y="639.9" width="19.4" height="20.6" fill="#90205A"/>
<rect x="193.5" y="639.9" width="19.4" height="20.6" fill="#962458"/>
<rect x="212.9" y="639.9" width="19.4" height="20.6" fill="#B8587A"/>
<rect x="232.2" y="639.9" width="19.4" height="20.6" fill="#F0D0B8"/>
<path d="M77.4 495.70H251.6M96.75 475.1V660.5M77.4 516.30H251.6M116.10 475.1V660.5M77.4 536.90H251.6M135.45 475.1V660.5M77.4 557.50H251.6M154.80 475.1V660.5M77.4 578.10H251.6M174.15 475.1V660.5M77.4 598.70H251.6M193.50 475.1V660.5M77.4 619.30H251.6M212.85 475.1V660.5M77.4 639.90H251.6M232.20 475.1V660.5" stroke="#fff" stroke-width="1" fill="none"/>
<text x="254" y="487.8" font-size="9.1" fill="#222">C3</text>
<text x="0" y="0" transform="translate(83.9,662.4) rotate(90)" font-size="9.1" fill="#222">C3</text>
<text x="254" y="508.4" font-size="9.1" fill="#222">C5</text>
<text x="0" y="0" transform="translate(103.2,662.4) rotate(90)" font-size="9.1" fill="#222">C5</text>
<text x="254" y="529" font-size="9.1" fill="#222">C2</text>
<text x="0" y="0" transform="translate(122.6,662.4) rotate(90)" font-size="9.1" fill="#222">C2</text>
<text x="254" y="549.6" font-size="9.1" fill="#222">C4</text>
<text x="0" y="0" transform="translate(141.9,662.4) rotate(90)" font-size="9.1" fill="#222">C4</text>
<text x="254" y="570.2" font-size="9.1" fill="#222">C1</text>
<text x="0" y="0" transform="translate(161.3,662.4) rotate(90)" font-size="9.1" fill="#222">C1</text>
<text x="254" y="590.8" font-size="9.1" fill="#222">C0</text>
<text x="0" y="0" transform="translate(180.6,662.4) rotate(90)" font-size="9.1" fill="#222">C0</text>
<text x="254" y="611.4" font-size="9.1" fill="#222">C6</text>
<text x="0" y="0" transform="translate(200.0,662.4) rotate(90)" font-size="9.1" fill="#222">C6</text>
<text x="254" y="632" font-size="9.1" fill="#222">C7</text>
<text x="0" y="0" transform="translate(219.3,662.4) rotate(90)" font-size="9.1" fill="#222">C7</text>
<text x="254" y="652.6" font-size="9.1" fill="#222">C8</text>
<text x="0" y="0" transform="translate(238.7,662.4) rotate(90)" font-size="9.1" fill="#222">C8</text>
<defs><linearGradient id="gg" x1="0" y1="0" x2="0" y2="1"><stop offset="0" stop-color="#8b1a4f"/><stop offset="0.18" stop-color="#b85476"/><stop offset="0.36" stop-color="#e4a29c"/><stop offset="0.52" stop-color="#f3d2b9"/><stop offset="0.68" stop-color="#bbb8b8"/><stop offset="0.85" stop-color="#5f7fa3"/><stop offset="1" stop-color="#1f5a94"/></linearGradient></defs>
<rect x="282.8" y="482.3" width="5.4" height="81.5" fill="url(#gg)"/>
<text x="290.4" y="490.1" font-size="8.9" fill="#222">600</text>
<text x="290.4" y="502.9" font-size="8.9" fill="#222">500</text>
<text x="290.4" y="515.7" font-size="8.9" fill="#222">400</text>
<text x="290.4" y="528.5" font-size="8.9" fill="#222">300</text>
<text x="290.4" y="541.2" font-size="8.9" fill="#222">200</text>
<text x="290.4" y="554" font-size="8.9" fill="#222">100</text>
<path d="M99.70 687.3V858.5M106.94 687.3V858.5M114.17 687.3V858.5M121.41 687.3V858.5M128.64 687.3V858.5M135.88 687.3V858.5M143.11 687.3V858.5M150.34 687.3V858.5M157.58 687.3V858.5M164.81 687.3V858.5M172.05 687.3V858.5M179.29 687.3V858.5M186.52 687.3V858.5M193.75 687.3V858.5M200.99 687.3V858.5M208.23 687.3V858.5M215.46 687.3V858.5M222.69 687.3V858.5M229.93 687.3V858.5M237.17 687.3V858.5M244.40 687.3V858.5M251.63 687.3V858.5M258.87 687.3V858.5M266.11 687.3V858.5M273.34 687.3V858.5M280.57 687.3V858.5M287.81 687.3V858.5M295.05 687.3V858.5M302.28 687.3V858.5M309.51 687.3V858.5M316.75 687.3V858.5M323.99 687.3V858.5M331.22 687.3V858.5M338.46 687.3V858.5M345.69 687.3V858.5M352.93 687.3V858.5M360.16 687.3V858.5M367.39 687.3V858.5M374.63 687.3V858.5M381.87 687.3V858.5M389.10 687.3V858.5M396.33 687.3V858.5M403.57 687.3V858.5M410.81 687.3V858.5M418.04 687.3V858.5M425.27 687.3V858.5M432.51 687.3V858.5M439.75 687.3V858.5M446.98 687.3V858.5M454.22 687.3V858.5M461.45 687.3V858.5M468.69 687.3V858.5M475.92 687.3V858.5M483.16 687.3V858.5M490.39 687.3V858.5M497.62 687.3V858.5M504.86 687.3V858.5M512.10 687.3V858.5M519.33 687.3V858.5M526.57 687.3V858.5M533.80 687.3V858.5M541.04 687.3V858.5M548.27 687.3V858.5M555.50 687.3V858.5M562.74 687.3V858.5M569.98 687.3V858.5M577.21 687.3V858.5M584.45 687.3V858.5M591.68 687.3V858.5M598.92 687.3V858.5M606.15 687.3V858.5M613.39 687.3V858.5M620.62 687.3V858.5M627.86 687.3V858.5M635.09 687.3V858.5M642.33 687.3V858.5M649.56 687.3V858.5M656.80 687.3V858.5M664.03 687.3V858.5M671.27 687.3V858.5M678.50 687.3V858.5M95.3 692.60H681M95.3 701.08H681M95.3 709.56H681M95.3 718.04H681M95.3 726.52H681M95.3 735.00H681M95.3 743.48H681M95.3 751.96H681M95.3 760.44H681M95.3 768.92H681M95.3 777.40H681M95.3 785.88H681M95.3 794.36H681M95.3 802.84H681M95.3 811.32H681M95.3 819.80H681M95.3 828.28H681M95.3 836.76H681M95.3 845.24H681M95.3 853.72H681" stroke="#e6e6e6" stroke-width="0.4" fill="none"/>
<rect x="95.3" y="687.3" width="587" height="171.2" fill="none" stroke="#e2e2e2" stroke-width="0.6"/>
<path d="M106.9 752h0m0 76.3h0m0 8.5h0m0 8.4h0m7.3-93.2h0m0 76.3h0m0 8.5h0m0 8.4h0m7.2-16.9h0m0 16.9h0m7.2-93.2h0m0 76.3h0m0 8.5h0m0 8.4h0m7.3 0h0m7.2-50.8h0m7.2-42.4h0m0 76.3h0m0 8.5h0m0 8.4h0m14.5-144.1h0m0 8.5h0m0 25.4h0m0 84.8h0m0 33.9h0m7.3-144.1h0m0 25.4h0m0 17h0m0 8.4h0m0 8.5h0m0 8.5h0m0 25.4h0m0 17h0m0 8.5h0m0 8.5h0m0 16.9h0m7.2-152.6h0m0 8.5h0m0 25.4h0m0 17h0m0 8.4h0m0 8.5h0m0 8.5h0m0 25.4h0m0 17h0m0 8.5h0m0 8.5h0m0 16.9h0m7.2-152.6h0m0 8.5h0m0 8.4h0m0 17h0m0 17h0m0 8.4h0m0 8.5h0m0 8.5h0m0 17h0m0 8.4h0m0 17h0m0 8.5h0m0 8.5h0m0 16.9h0m7.3-152.6h0m0 8.5h0m0 25.4h0m0 17h0m0 8.4h0m0 8.5h0m0 8.5h0m0 25.4h0m0 17h0m0 8.5h0m0 8.5h0m0 16.9h0m7.2-152.6h0m0 8.5h0m0 25.4h0m0 25.4h0m0 8.5h0m0 33.9h0m0 17h0m0 33.9h0m7.2-118.7h0m0 42.4h0m0 17h0m0 33.9h0m0 25.4h0m7.3-144.1h0m0 25.4h0m0 17h0m0 50.8h0m0 25.5h0m0 8.5h0m0 16.9h0m7.2-144.1h0m0 25.4h0m0 25.4h0m0 8.5h0m0 33.9h0m0 17h0m0 33.9h0m7.2-152.6h0m0 8.5h0m0 25.4h0m0 84.8h0m0 33.9h0m7.3-152.6h0m0 8.5h0m0 8.4h0m0 17h0m0 8.5h0m0 8.5h0m0 16.9h0m0 8.5h0m0 25.4h0m0 17h0m0 8.5h0m0 8.5h0m0 8.4h0m0 8.5h0m7.2-152.6h0m0 8.5h0m0 8.4h0m0 17h0m0 8.5h0m0 8.5h0m0 16.9h0m0 8.5h0m0 25.4h0m0 17h0m0 8.5h0m0 8.5h0m0 8.4h0m0 8.5h0m7.2-152.6h0m0 8.5h0m0 8.4h0m0 17h0m0 8.5h0m0 8.5h0m0 16.9h0m0 8.5h0m0 25.4h0m0 8.5h0m0 8.5h0m0 8.5h0m0 8.5h0m0 8.4h0m0 8.5h0m7.3-152.6h0m0 8.5h0m0 8.4h0m0 17h0m0 8.5h0m0 8.5h0m0 16.9h0m0 8.5h0m0 25.4h0m0 8.5h0m0 8.5h0m0 8.5h0m0 8.5h0m0 8.4h0m0 8.5h0m7.2-152.6h0m0 8.5h0m0 25.4h0m0 8.5h0m0 59.3h0m0 17h0m0 25.4h0m0 8.5h0m7.2-152.6h0m0 33.9h0m0 59.4h0m0 59.3h0m7.3-144.1h0m0 25.4h0m0 17h0m0 50.8h0m0 25.5h0m0 8.5h0m0 8.4h0m0 8.5h0m7.2-152.6h0m0 8.5h0m0 8.4h0m0 17h0m0 67.8h0m0 17h0m0 33.9h0m7.2-152.6h0m0 8.5h0m0 25.4h0m0 84.8h0m0 33.9h0m7.3-152.6h0m0 8.5h0m0 8.4h0m0 17h0m0 8.5h0m0 8.5h0m0 16.9h0m0 8.5h0m0 25.4h0m0 8.5h0m0 8.5h0m0 8.5h0m0 8.5h0m0 8.4h0m0 8.5h0m7.2-152.6h0m0 8.5h0m0 8.4h0m0 17h0m0 8.5h0m0 8.5h0m0 16.9h0m0 8.5h0m0 25.4h0m0 8.5h0m0 8.5h0m0 8.5h0m0 8.5h0m0 8.4h0m0 8.5h0m7.3-152.6h0m0 8.5h0m0 8.4h0m0 17h0m0 8.5h0m0 8.5h0m0 16.9h0m0 8.5h0m0 25.4h0m0 8.5h0m0 8.5h0m0 8.5h0m0 8.5h0m0 8.4h0m0 8.5h0m7.2-152.6h0m0 8.5h0m0 8.4h0m0 17h0m0 8.5h0m0 8.5h0m0 16.9h0m0 8.5h0m0 25.4h0m0 8.5h0m0 8.5h0m0 8.5h0m0 8.5h0m0 8.4h0m0 8.5h0m7.2-152.6h0m0 8.5h0m0 25.4h0m0 8.5h0m0 59.3h0m0 17h0m0 25.4h0m0 8.5h0m7.3-152.6h0m0 33.9h0m0 118.7h0m7.2-144.1h0m0 25.4h0m0 17h0m0 50.8h0m0 25.5h0m0 8.5h0m0 8.4h0m0 8.5h0m7.2-152.6h0m0 8.5h0m0 25.4h0m0 67.8h0m0 17h0m0 33.9h0m7.3-144.1h0m0 25.4h0m0 50.9h0m0 33.9h0m0 33.9h0m7.2-152.6h0m0 8.5h0m0 25.4h0m0 8.5h0m0 8.5h0m0 8.4h0m0 8.5h0m0 8.5h0m0 8.5h0m0 16.9h0m0 17h0m0 8.5h0m0 8.5h0m0 8.4h0m0 8.5h0m7.2-144.1h0m0 16.9h0m0 8.5h0m0 8.5h0m0 8.5h0m0 8.4h0m0 8.5h0m0 8.5h0m0 8.5h0m0 16.9h0m0 17h0m0 8.5h0m0 8.5h0m0 8.4h0m0 8.5h0m7.3-152.6h0m0 8.5h0m0 16.9h0m0 8.5h0m0 8.5h0m0 8.5h0m0 8.4h0m0 8.5h0m0 8.5h0m0 8.5h0m0 16.9h0m0 8.5h0m0 8.5h0m0 8.5h0m0 8.5h0m0 8.4h0m0 8.5h0m7.2-144.1h0m0 16.9h0m0 8.5h0m0 8.5h0m0 8.5h0m0 8.4h0m0 8.5h0m0 8.5h0m0 8.5h0m0 16.9h0m0 8.5h0m0 8.5h0m0 8.5h0m0 8.5h0m0 8.4h0m0 8.5h0m7.2-144.1h0m0 16.9h0m0 8.5h0m0 8.5h0m0 16.9h0m0 25.5h0m0 16.9h0m0 17h0m0 25.4h0m0 8.5h0m7.3-118.7h0m0 50.9h0m0 8.5h0m7.2-67.9h0m0 8.5h0m0 17h0m0 33.9h0m0 16.9h0m0 25.5h0m0 8.5h0m0 8.4h0m7.2-135.6h0m0 16.9h0m0 8.5h0m0 25.4h0m0 42.4h0m0 17h0m0 33.9h0m7.3-152.6h0m0 8.5h0m0 25.4h0m0 84.8h0m0 33.9h0m7.2-152.6h0m0 8.5h0m0 8.4h0m0 17h0m0 8.5h0m0 8.5h0m0 8.4h0m0 8.5h0m0 8.5h0m0 25.4h0m0 17h0m0 8.5h0m0 8.5h0m0 8.4h0m0 8.5h0m7.2-152.6h0m0 8.5h0m0 8.4h0m0 17h0m0 8.5h0m0 8.5h0m0 8.4h0m0 8.5h0m0 8.5h0m0 25.4h0m0 17h0m0 8.5h0m0 8.5h0m0 8.4h0m0 8.5h0m7.3-152.6h0m0 8.5h0m0 8.4h0m0 17h0m0 8.5h0m0 8.5h0m0 8.4h0m0 8.5h0m0 8.5h0m0 25.4h0m0 8.5h0m0 8.5h0m0 8.5h0m0 8.5h0m0 8.4h0m0 8.5h0m7.2-152.6h0m0 8.5h0m0 8.4h0m0 17h0m0 8.5h0m0 8.5h0m0 8.4h0m0 8.5h0m0 8.5h0m0 25.4h0m0 8.5h0m0 8.5h0m0 8.5h0m0 8.5h0m0 8.4h0m0 8.5h0m7.2-152.6h0m0 8.5h0m0 25.4h0m0 8.5h0m0 16.9h0m0 42.4h0m0 17h0m0 25.4h0m0 8.5h0m7.3-152.6h0m0 33.9h0m0 118.7h0m7.2-152.6h0m0 8.5h0m0 25.4h0m0 17h0m0 8.4h0m0 42.4h0m0 25.5h0m0 8.5h0m0 8.4h0m0 8.5h0m7.3-152.6h0m0 8.5h0m0 25.4h0m0 67.8h0m0 17h0m0 33.9h0m7.2-67.8h0m7.2 0h0m0 42.4h0m0 8.5h0m7.3-50.9h0m0 50.9h0m7.2-50.9h0m0 8.5h0m0 16.9h0m0 25.5h0m7.2-50.9h0m0 42.4h0m0 8.5h0m7.3-50.9h0m7.2 0h0m0 8.5h0m7.2-8.5h0m0 50.9h0m7.3-50.9h0m7.2-17h0m0 8.5h0m0 42.4h0m7.2-76.3h0m0 8.5h0m0 8.4h0m0 8.5h0m0 8.5h0m0 25.4h0m0 8.5h0m0 8.5h0m0 8.5h0m0 8.5h0m0 8.4h0m7.3-101.7h0m0 8.5h0m0 8.4h0m0 8.5h0m0 8.5h0m0 25.4h0m0 17h0m0 8.5h0m0 8.5h0m0 8.4h0m7.2-101.7h0m0 8.5h0m0 8.4h0m0 8.5h0m0 8.5h0m0 25.4h0m0 8.5h0m0 8.5h0m0 8.5h0m0 8.5h0m0 8.4h0m7.2-101.7h0m0 8.5h0m0 8.4h0m0 8.5h0m0 8.5h0m0 25.4h0m0 8.5h0m0 8.5h0m0 8.5h0m0 8.5h0m0 8.4h0m7.3-101.7h0m0 16.9h0m0 8.5h0m0 33.9h0m0 17h0m0 25.4h0m7.2-50.8h0m0 33.9h0m7.3-76.3h0m0 50.8h0m0 25.5h0m0 8.5h0m0 8.4h0m7.2-84.8h0m0 8.5h0m0 8.5h0m0 42.4h0m14.5 8.5h0m0 8.5h0m0 8.4h0m7.2-16.9h0m0 8.5h0m0 8.4h0m7.2-33.9h0m0 17h0m0 8.5h0m0 8.4h0m7.3-16.9h0m0 8.5h0m0 8.4h0m7.2 0h0m7.2-50.8h0m7.3 42.4h0m0 8.4h0m7.2 0h0" stroke="#6f7fae" stroke-width="0.90" stroke-linecap="round" fill="none" opacity="1.0"/>
<path d="M106.9 811.3h0m14.5-67.8h0m0 8.5h0m0 42.4h0m0 16.9h0m7.2 0h0m7.3-118.7h0m7.2 135.7h0m21.7-135.7h0m0 25.4h0m0 42.4h0m0 8.5h0m0 8.5h0m0 25.4h0m7.3-110.2h0m0 8.5h0m0 16.9h0m0 25.5h0m0 67.8h0m7.2-118.7h0m0 25.4h0m0 93.3h0m7.2-67.8h0m0 67.8h0m7.3-118.7h0m0 25.4h0m0 25.5h0m0 67.8h0m7.2-93.3h0m0 25.5h0m0 67.8h0m0 17h0m7.2-135.7h0m0 8.5h0m0 16.9h0m0 84.8h0m7.3-110.2h0m0 8.5h0m0 16.9h0m0 42.4h0m7.2-67.8h0m0 8.5h0m0 16.9h0m0 59.4h0m7.2-84.8h0m0 25.4h0m0 50.9h0m0 8.5h0m7.3-84.8h0m0 67.8h0m0 50.9h0m7.2-118.7h0m0 67.8h0m0 50.9h0m7.2-50.9h0m0 34h0m7.3-101.8h0m0 67.8h0m7.2-42.4h0m0 42.4h0m0 8.5h0m0 42.4h0m0 17h0m7.2-135.7h0m0 25.4h0m0 59.4h0m0 25.4h0m0 25.5h0m7.3-135.7h0m0 8.5h0m0 16.9h0m0 42.4h0m7.2-67.8h0m0 67.8h0m0 8.5h0m0 8.5h0m7.2-84.8h0m0 25.4h0m0 50.9h0m0 8.5h0m7.3-84.8h0m0 33.9h0m0 33.9h0m7.2-67.8h0m0 33.9h0m0 33.9h0m7.3-33.9h0m0 33.9h0m0 34h0m7.2-101.8h0m0 33.9h0m0 33.9h0m7.2-42.4h0m0 8.5h0m0 33.9h0m0 8.5h0m0 42.4h0m0 17h0m7.3-135.7h0m0 25.4h0m0 8.5h0m0 50.9h0m0 17h0m0 8.4h0m0 25.5h0m7.2-135.7h0m0 8.5h0m0 16.9h0m0 8.5h0m0 33.9h0m7.2-67.8h0m0 25.4h0m0 8.5h0m0 33.9h0m0 8.5h0m0 8.5h0m7.3-84.8h0m0 8.5h0m0 16.9h0m0 8.5h0m0 42.4h0m0 8.5h0m7.2-84.8h0m0 25.4h0m0 8.5h0m0 84.8h0m7.2-118.7h0m0 8.5h0m0 16.9h0m0 93.3h0m7.3-93.3h0m0 76.4h0m7.2-101.8h0m0 8.5h0m0 16.9h0m7.2-16.9h0m0 67.8h0m0 42.4h0m0 17h0m7.3-135.7h0m0 8.5h0m0 25.4h0m0 17h0m0 33.9h0m0 25.4h0m0 25.5h0m7.2-127.2h0m0 8.5h0m0 8.4h0m0 25.5h0m0 16.9h0m7.2-67.8h0m0 8.5h0m0 16.9h0m0 50.9h0m0 8.5h0m0 8.5h0m7.3-93.3h0m0 25.4h0m0 50.9h0m0 8.5h0m7.2-84.8h0m0 118.7h0m7.2-118.7h0m0 118.7h0m7.3-16.9h0m7.2-101.8h0m7.2 25.4h0m0 50.9h0m0 42.4h0m0 17h0m7.3-135.7h0m0 25.4h0m0 59.4h0m0 17h0m0 8.4h0m0 25.5h0m7.2-135.7h0m0 25.4h0m7.3-25.4h0m0 25.4h0m0 42.4h0m0 8.5h0m0 8.5h0m14.4-25.4h0m0 25.4h0m0 33.9h0m7.3-59.3h0m0 16.9h0m0 8.5h0m0 33.9h0m0 17h0m7.2-93.3h0m0 33.9h0m0 8.5h0m0 50.9h0m7.2-76.3h0m0 16.9h0m0 8.5h0m0 33.9h0m7.3 0h0m7.2 17h0m7.2-76.3h0m14.5-25.5h0m0 33.9h0m0 42.4h0m7.2-76.3h0m7.3 0h0m0 84.8h0m7.2-84.8h0m0 67.9h0m7.2-67.9h0m7.3 0h0m0 84.8h0m0 17h0m7.2-101.8h0m0 17h0m0 33.9h0m0 25.4h0m7.3-76.3h0m0 17h0m0 16.9h0m7.2-33.9h0m0 76.3h0m14.5-50.8h0m0 8.4h0m0 8.5h0m0 8.5h0m0 25.4h0m0 8.5h0m7.2-59.3h0m0 8.4h0m0 8.5h0m0 8.5h0m0 25.4h0m0 8.5h0m7.2-50.9h0m0 8.5h0m0 8.5h0m0 17h0m0 8.4h0m7.3-50.8h0m0 8.4h0m0 8.5h0m0 8.5h0m0 25.4h0m0 8.5h0m7.2-50.9h0m0 42.4h0m0 8.5h0m7.2-33.9h0m0 50.9h0m7.3-76.3h0m0 50.8h0m0 25.5h0m7.2-67.9h0m0 8.5h0m0 8.5h0" stroke="#3a5a8c" stroke-width="1.90" stroke-linecap="round" fill="none" opacity="1.0"/>
<path d="M172.1 726.5h0m7.2 0h0m7.2 0h0m7.3 0h0m7.2 0h0m14.5 0h0m21.7 0h0m7.2 0h0m7.2 0h0m7.3 0h0m7.2 0h0m7.2 0h0m7.3 0h0m7.2 0h0m7.2 0h0m137.5 0h0m7.2 0h0m7.3 0h0m7.2 0h0m7.2 0h0m7.3 0h0m7.2 0h0m7.3 0h0" stroke="#2a8a8c" stroke-width="2.70" stroke-linecap="round" fill="none" opacity="1.0"/>
<path d="M99.7 709.6h0m0 110.2h0m0 17h0m0 8.4h0m0 8.5h0m7.2-144.1h0m0 33.9h0m0 76.3h0m0 33.9h0m7.3-144.1h0m0 33.9h0m0 76.3h0m0 33.9h0m7.2-144.1h0m0 93.2h0m0 17h0m0 17h0m0 16.9h0m7.2-144.1h0m0 33.9h0m0 59.3h0m0 17h0m0 33.9h0m7.3-144.1h0m0 93.2h0m0 17h0m0 33.9h0m7.2-8.5h0m0 8.5h0m7.2 0h0m7.3-144.1h0m0 110.2h0m0 25.4h0m0 8.5h0m7.2-16.9h0m7.3 8.4h0m7.2-101.7h0m0 101.7h0m7.2 0h0m7.3 0h0m7.2 0h0m7.2-135.6h0m7.3 110.2h0m0 25.4h0m14.4-101.7h0m0 93.3h0m0 8.4h0m43.4-135.6h0m0 33.9h0m0 101.7h0m7.3-101.7h0m0 25.4h0m0 8.5h0m0 42.4h0m7.2 25.4h0m7.2-101.7h0m0 93.3h0m0 8.4h0m43.5-135.6h0m0 33.9h0m0 101.7h0m7.2-101.7h0m0 25.4h0m0 8.5h0m0 42.4h0m7.2 25.4h0m7.3-101.7h0m0 93.3h0m0 8.4h0m36.1-127.2h0m7.3-8.4h0m0 8.4h0m0 127.2h0m0 8.5h0m7.2-161.1h0m0 76.3h0m0 50.9h0m0 33.9h0m7.2-110.2h0m0 101.7h0m7.3-101.7h0m0 93.3h0m0 8.4h0m43.4-135.6h0m0 33.9h0m0 101.7h0m7.2-101.7h0m0 25.4h0m0 8.5h0m0 42.4h0m7.3 25.4h0m7.2-110.2h0m0 84.8h0m0 17h0m7.2-101.8h0m0 33.9h0m0 50.9h0m7.3-84.8h0m0 84.8h0m7.2-67.8h0m0 67.8h0m7.2-84.8h0m0 84.8h0m7.3-84.8h0m0 84.8h0m7.2-84.8h0m0 42.4h0m7.2-42.4h0m0 84.8h0m7.3-84.8h0m0 84.8h0m7.2-76.3h0m0 8.5h0m0 84.8h0m0 8.4h0m43.4 0h0m7.3-76.3h0m0 8.5h0m0 42.4h0m7.2-76.3h0m0 101.7h0m7.2-135.6h0m0 59.3h0m0 8.5h0m0 42.4h0m0 17h0m0 8.4h0m7.3-135.6h0m0 33.9h0m0 76.3h0m7.2-110.2h0m0 33.9h0m0 76.3h0m7.2-110.2h0m0 33.9h0m0 8.5h0m0 67.8h0m7.3-110.2h0m0 33.9h0m0 76.3h0m7.2-110.2h0m0 59.3h0m0 50.9h0m7.2 25.4h0m7.3-135.6h0m0 110.2h0m7.2 0h0" stroke="#e5533d" stroke-width="3.00" stroke-linecap="round" fill="none" opacity="1.0"/>
<path d="M99.7 709.6h0m0 110.2h0m0 17h0m0 8.4h0m0 8.5h0m7.2-144.1h0m0 33.9h0m0 76.3h0m0 33.9h0m7.3-144.1h0m0 33.9h0m0 76.3h0m0 33.9h0m7.2-144.1h0m0 93.2h0m0 17h0m0 17h0m0 16.9h0m7.2-144.1h0m0 33.9h0m0 59.3h0m0 17h0m0 33.9h0m7.3-144.1h0m0 93.2h0m0 17h0m0 33.9h0m7.2-8.5h0m0 8.5h0m7.2 0h0m7.3-144.1h0m0 110.2h0m0 25.4h0m0 8.5h0m7.2-16.9h0m7.3 8.4h0m7.2-101.7h0m0 101.7h0m7.2 0h0m7.3 0h0m7.2 0h0m7.2-135.6h0m7.3 110.2h0m0 25.4h0m14.4-101.7h0m0 93.3h0m0 8.4h0m43.4-135.6h0m0 33.9h0m0 101.7h0m7.3-101.7h0m0 25.4h0m0 8.5h0m0 42.4h0m7.2 25.4h0m7.2-101.7h0m0 93.3h0m0 8.4h0m43.5-135.6h0m0 33.9h0m0 101.7h0m7.2-101.7h0m0 25.4h0m0 8.5h0m0 42.4h0m7.2 25.4h0m7.3-101.7h0m0 93.3h0m0 8.4h0m36.1-127.2h0m7.3-8.4h0m0 8.4h0m0 127.2h0m0 8.5h0m7.2-161.1h0m0 76.3h0m0 50.9h0m0 33.9h0m7.2-110.2h0m0 101.7h0m7.3-101.7h0m0 93.3h0m0 8.4h0m43.4-135.6h0m0 33.9h0m0 101.7h0m7.2-101.7h0m0 25.4h0m0 8.5h0m0 42.4h0m7.3 25.4h0m7.2-110.2h0m0 84.8h0m0 17h0m7.2-101.8h0m0 33.9h0m0 50.9h0m7.3-84.8h0m0 84.8h0m7.2-67.8h0m0 67.8h0m7.2-84.8h0m0 84.8h0m7.3-84.8h0m0 84.8h0m7.2-84.8h0m0 42.4h0m7.2-42.4h0m0 84.8h0m7.3-84.8h0m0 84.8h0m7.2-76.3h0m0 8.5h0m0 84.8h0m0 8.4h0m43.4 0h0m7.3-76.3h0m0 8.5h0m0 42.4h0m7.2-76.3h0m0 101.7h0m7.2-135.6h0m0 59.3h0m0 8.5h0m0 42.4h0m0 17h0m0 8.4h0m7.3-135.6h0m0 33.9h0m0 76.3h0m7.2-110.2h0m0 33.9h0m0 76.3h0m7.2-110.2h0m0 33.9h0m0 8.5h0m0 67.8h0m7.3-110.2h0m0 33.9h0m0 76.3h0m7.2-110.2h0m0 59.3h0m0 50.9h0m7.2 25.4h0m7.3-135.6h0m0 110.2h0m7.2 0h0" stroke="#453a80" stroke-width="2.00" stroke-linecap="round" fill="none" opacity="1.0"/>
<path d="M99.7 743.5h0m0 8.5h0m0 42.4h0m7.2-76.4h0m0 50.9h0m0 8.5h0m0 25.4h0m7.3-84.8h0m0 50.9h0m0 8.5h0m0 25.4h0m0 8.5h0m7.2-118.7h0m0 8.5h0m0 16.9h0m0 50.9h0m0 8.5h0m7.2-59.4h0m0 50.9h0m0 8.5h0m0 17h0m7.3-93.3h0m0 42.4h0m0 67.8h0m0 17h0m0 8.5h0m14.4-127.2h0m0 33.9h0m0 59.3h0m0 17h0m7.3-50.9h0m0 25.5h0m0 8.4h0m0 34h0m7.2-93.3h0m0 8.5h0m0 42.4h0m0 50.8h0m29-50.8h0m7.2 42.4h0m7.2-93.3h0m0 16.9h0m7.3-16.9h0m0 25.4h0m0 8.5h0m7.2-33.9h0m0 8.5h0m0 84.8h0m0 8.4h0m7.2-93.2h0m0 8.4h0m0 42.4h0m36.2 34h0m21.7-93.3h0m0 8.5h0m0 84.8h0m7.2-84.8h0m0 8.4h0m0 42.4h0m36.2 34h0m21.7-93.3h0m0 8.5h0m0 84.8h0m7.3-84.8h0m0 8.4h0m0 42.4h0m36.1 34h0m14.5-59.4h0m7.2-25.4h0m0 84.8h0m7.3-84.8h0m0 8.4h0m0 42.4h0m36.1 34h0m21.8-93.3h0m0 8.5h0m0 84.8h0m7.2-67.9h0m0 8.5h0m0 17h0m7.2-34h0m7.3 0h0m0 34h0m7.2-34h0m7.2 0h0m0 34h0m7.3-34h0m0 67.9h0m0 8.5h0m14.4-76.4h0m0 17h0m0 50.9h0m7.3-67.9h0m0 8.5h0m0 8.5h0m0 17h0m0 42.4h0m7.2-42.4h0m0 59.3h0m7.2 0h0m7.3 0h0m7.2 0h0m7.2-59.3h0m0 59.3h0m7.3-16.9h0m0 16.9h0m7.2-93.3h0m0 93.3h0m7.3 0h0m7.2-101.7h0m0 84.8h0m0 16.9h0m7.2-93.3h0m0 34h0m0 59.3h0m7.3-152.6h0m0 16.9h0m0 135.7h0m7.2-152.6h0m0 16.9h0m0 135.7h0m7.2-161.1h0m0 8.5h0m0 16.9h0m0 135.7h0m7.3-152.6h0m0 16.9h0m0 76.4h0m0 59.3h0m7.2-161.1h0m0 8.5h0m0 42.4h0m0 84.8h0m0 8.5h0m0 16.9h0m7.2-50.9h0m0 50.9h0m7.3-110.2h0m0 16.9h0m0 8.5h0m0 8.5h0m0 76.3h0m7.2-144.1h0m0 84.8h0m0 8.4h0m0 34h0m0 16.9h0" stroke="#e5533d" stroke-width="4.20" stroke-linecap="round" fill="none" opacity="1.0"/>
<path d="M99.7 743.5h0m0 8.5h0m0 42.4h0m7.2-76.4h0m0 50.9h0m0 8.5h0m0 25.4h0m7.3-84.8h0m0 50.9h0m0 8.5h0m0 25.4h0m0 8.5h0m7.2-118.7h0m0 8.5h0m0 16.9h0m0 50.9h0m0 8.5h0m7.2-59.4h0m0 50.9h0m0 8.5h0m0 17h0m7.3-93.3h0m0 42.4h0m0 67.8h0m0 17h0m0 8.5h0m14.4-127.2h0m0 33.9h0m0 59.3h0m0 17h0m7.3-50.9h0m0 25.5h0m0 8.4h0m0 34h0m7.2-93.3h0m0 8.5h0m0 42.4h0m0 50.8h0m29-50.8h0m7.2 42.4h0m7.2-93.3h0m0 16.9h0m7.3-16.9h0m0 25.4h0m0 8.5h0m7.2-33.9h0m0 8.5h0m0 84.8h0m0 8.4h0m7.2-93.2h0m0 8.4h0m0 42.4h0m36.2 34h0m21.7-93.3h0m0 8.5h0m0 84.8h0m7.2-84.8h0m0 8.4h0m0 42.4h0m36.2 34h0m21.7-93.3h0m0 8.5h0m0 84.8h0m7.3-84.8h0m0 8.4h0m0 42.4h0m36.1 34h0m14.5-59.4h0m7.2-25.4h0m0 84.8h0m7.3-84.8h0m0 8.4h0m0 42.4h0m36.1 34h0m21.8-93.3h0m0 8.5h0m0 84.8h0m7.2-67.9h0m0 8.5h0m0 17h0m7.2-34h0m7.3 0h0m0 34h0m7.2-34h0m7.2 0h0m0 34h0m7.3-34h0m0 67.9h0m0 8.5h0m14.4-76.4h0m0 17h0m0 50.9h0m7.3-67.9h0m0 8.5h0m0 8.5h0m0 17h0m0 42.4h0m7.2-42.4h0m0 59.3h0m7.2 0h0m7.3 0h0m7.2 0h0m7.2-59.3h0m0 59.3h0m7.3-16.9h0m0 16.9h0m7.2-93.3h0m0 93.3h0m7.3 0h0m7.2-101.7h0m0 84.8h0m0 16.9h0m7.2-93.3h0m0 34h0m0 59.3h0m7.3-152.6h0m0 16.9h0m0 135.7h0m7.2-152.6h0m0 16.9h0m0 135.7h0m7.2-161.1h0m0 8.5h0m0 16.9h0m0 135.7h0m7.3-152.6h0m0 16.9h0m0 76.4h0m0 59.3h0m7.2-161.1h0m0 8.5h0m0 42.4h0m0 84.8h0m0 8.5h0m0 16.9h0m7.2-50.9h0m0 50.9h0m7.3-110.2h0m0 16.9h0m0 8.5h0m0 8.5h0m0 76.3h0m7.2-144.1h0m0 84.8h0m0 8.4h0m0 34h0m0 16.9h0" stroke="#2b7d8c" stroke-width="3.20" stroke-linecap="round" fill="none" opacity="1.0"/>
<path d="M99.7 785.9h0m7.2 0h0m7.3 0h0m7.2 0h0m7.2 0h0m7.3 0h0m7.2 0h0m7.2 0h0m7.3 0h0m101.3 8.5h0m101.3 0h0m28.9 0h0m36.2-8.5h0m7.2 0h0m7.2 0h0m7.3 0h0m7.2 0h0m7.2 0h0m7.3 0h0m7.2 0h0m7.3 0h0m14.4 8.5h0" stroke="#22a384" stroke-width="4.60" stroke-linecap="round" fill="none" opacity="1.0"/>
<path d="M99.7 701.1h0m0 16.9h0m0 50.9h0m0 8.5h0m7.2-76.3h0m7.3-8.5h0m0 8.5h0m14.4 0h0m7.3 67.8h0m7.2-67.8h0m0 42.4h0m0 33.9h0m0 25.4h0m7.2-84.8h0m7.3-25.4h0m0 8.5h0m0 16.9h0m0 25.5h0m0 8.5h0m0 25.4h0m7.2-50.9h0m43.4 0h0m0 118.7h0m14.5-118.7h0m7.2 0h0m36.2 50.9h0m7.2-17h0m7.3 50.9h0m7.2 17h0m50.7-67.9h0m7.2 50.9h0m7.2 17h0m43.4-50.9h0m7.3-17h0m0 50.9h0m7.2 0h0m7.2 17h0m7.3-101.8h0m0 84.8h0m36.1-33.9h0m7.3-17h0m0 50.9h0m7.2 0h0m7.3 17h0m7.2-76.3h0m0 8.4h0m7.2-33.9h0m7.3 0h0m7.2 0h0m0 17h0m0 59.3h0m7.2-76.3h0m7.3 0h0m0 42.4h0m14.4-42.4h0m0 42.4h0m0 25.5h0m0 8.4h0m0 8.5h0m7.3-84.8h0m0 25.5h0m7.2-42.4h0m0 101.7h0m7.2-101.7h0m7.3 0h0m7.2-17h0m0 8.5h0m0 8.5h0m7.2 0h0m7.3-17h0m0 17h0m0 67.8h0m7.2-8.5h0m7.3 42.4h0m7.2-101.7h0m0 118.7h0m7.2-135.7h0m0 8.5h0m0 16.9h0m0 25.5h0m0 8.5h0m0 50.8h0m7.3-110.2h0m7.2 0h0m14.5 0h0m7.2 25.4h0m7.2-25.4h0m0 8.5h0m0 16.9h0m0 25.5h0m0 16.9h0m7.3-42.4h0m0 93.3h0m7.2-118.7h0m0 8.5h0m0 16.9h0m0 34h0m0 76.3h0" stroke="#e5533d" stroke-width="5.55" stroke-linecap="round" fill="none" opacity="1.0"/>
<path d="M99.7 701.1h0m0 16.9h0m0 50.9h0m0 8.5h0m7.2-76.3h0m7.3-8.5h0m0 8.5h0m14.4 0h0m7.3 67.8h0m7.2-67.8h0m0 42.4h0m0 33.9h0m0 25.4h0m7.2-84.8h0m7.3-25.4h0m0 8.5h0m0 16.9h0m0 25.5h0m0 8.5h0m0 25.4h0m7.2-50.9h0m43.4 0h0m0 118.7h0m14.5-118.7h0m7.2 0h0m36.2 50.9h0m7.2-17h0m7.3 50.9h0m7.2 17h0m50.7-67.9h0m7.2 50.9h0m7.2 17h0m43.4-50.9h0m7.3-17h0m0 50.9h0m7.2 0h0m7.2 17h0m7.3-101.8h0m0 84.8h0m36.1-33.9h0m7.3-17h0m0 50.9h0m7.2 0h0m7.3 17h0m7.2-76.3h0m0 8.4h0m7.2-33.9h0m7.3 0h0m7.2 0h0m0 17h0m0 59.3h0m7.2-76.3h0m7.3 0h0m0 42.4h0m14.4-42.4h0m0 42.4h0m0 25.5h0m0 8.4h0m0 8.5h0m7.3-84.8h0m0 25.5h0m7.2-42.4h0m0 101.7h0m7.2-101.7h0m7.3 0h0m7.2-17h0m0 8.5h0m0 8.5h0m7.2 0h0m7.3-17h0m0 17h0m0 67.8h0m7.2-8.5h0m7.3 42.4h0m7.2-101.7h0m0 118.7h0m7.2-135.7h0m0 8.5h0m0 16.9h0m0 25.5h0m0 8.5h0m0 50.8h0m7.3-110.2h0m7.2 0h0m14.5 0h0m7.2 25.4h0m7.2-25.4h0m0 8.5h0m0 16.9h0m0 25.5h0m0 16.9h0m7.3-42.4h0m0 93.3h0m7.2-118.7h0m0 8.5h0m0 16.9h0m0 34h0m0 76.3h0" stroke="#23978a" stroke-width="4.45" stroke-linecap="round" fill="none" opacity="1.0"/>
<path d="M121.4 735h0m115.8 50.9h0m7.2 0h0m7.2 0h0m7.3 0h0m7.2 0h0m14.5 0h0m21.7 0h0m7.2 0h0m7.3 0h0m7.2 0h0m7.2 0h0m14.5 0h0m231.5-50.9h0m50.7 50.9h0m7.2 0h0m7.2 0h0m7.3 0h0m7.2 0h0m14.5 0h0" stroke="#5cc65e" stroke-width="5.00" stroke-linecap="round" fill="none" opacity="1.0"/>
<path d="M99.7 692.6h0m0 42.4h0m0 67.8h0m7.2-110.2h0m0 33.9h0m0 8.5h0m0 25.4h0m0 34h0m7.3-67.9h0m0 8.5h0m0 25.4h0m0 34h0m7.2-67.9h0m0 33.9h0m7.2-67.8h0m0 33.9h0m0 8.5h0m0 25.4h0m7.3-42.4h0m0 8.5h0m0 8.5h0m0 25.4h0m7.2-67.8h0m0 17h0m0 8.4h0m0 8.5h0m0 8.5h0m7.2-42.4h0m0 8.5h0m0 25.4h0m0 8.5h0m0 25.4h0m0 8.5h0m0 8.5h0m0 17h0m0 16.9h0m7.3-84.8h0m0 8.5h0m0 25.4h0m0 67.9h0m7.2-17h0m7.3-16.9h0m7.2 0h0m21.7-17h0m7.2-8.5h0m0 42.4h0m0 8.5h0m7.3-25.4h0m0 16.9h0m7.2-16.9h0m0 33.9h0m7.2-42.4h0m0 8.5h0m0 16.9h0m7.3-16.9h0m7.2 0h0m21.7-42.4h0m7.2 16.9h0m0 17h0m0 25.4h0m0 8.5h0m14.5-33.9h0m0 8.5h0m7.2-8.5h0m0 8.5h0m0 16.9h0m7.3-16.9h0m7.2 0h0m14.5 0h0m7.2-42.4h0m0 25.4h0m7.3-8.5h0m0 17h0m0 25.4h0m0 8.5h0m14.4-33.9h0m0 8.5h0m7.3 16.9h0m7.2-16.9h0m7.2 0h0m21.7-42.4h0m7.3 0h0m0 16.9h0m0 50.9h0m14.4-25.4h0m7.3 0h0m28.9 0h0m7.2-42.4h0m7.3 16.9h0m0 50.9h0m14.5-25.4h0m7.2-84.8h0m0 16.9h0m0 84.8h0m7.2-101.7h0m0 33.9h0m0 59.3h0m0 42.4h0m7.3-135.6h0m0 33.9h0m0 59.3h0m0 42.4h0m7.2-152.6h0m0 17h0m0 135.6h0m7.2-135.6h0m0 8.4h0m0 25.5h0m0 59.3h0m0 42.4h0m7.3-152.6h0m0 17h0m0 33.9h0m0 59.3h0m0 42.4h0m7.2-118.7h0m0 33.9h0m0 8.5h0m0 42.4h0m7.2-101.7h0m0 33.9h0m0 101.7h0m7.3-152.6h0m0 17h0m0 93.2h0m0 25.5h0m7.2-135.7h0m0 8.5h0m0 16.9h0m0 17h0m7.2-42.4h0m0 8.5h0m0 16.9h0m0 17h0m0 59.4h0m7.3-101.8h0m0 8.5h0m0 16.9h0m0 17h0m0 59.4h0m7.2-76.4h0m7.2-25.4h0m0 8.5h0m0 16.9h0m0 17h0m7.3-33.9h0m0 33.9h0m0 17h0m7.2-59.4h0m0 42.4h0m0 76.3h0m7.3-110.2h0m0 8.5h0m0 25.4h0m7.2-42.4h0m0 8.5h0m0 16.9h0m0 17h0m0 59.4h0m0 16.9h0m7.2-25.4h0m0 25.4h0m7.3-16.9h0m7.2 0h0m21.7-17h0m7.2-67.8h0m0 59.3h0m0 17h0m0 25.4h0m7.3-118.7h0m0 8.5h0m0 93.3h0m7.2-50.9h0m0 42.4h0" stroke="#e5533d" stroke-width="6.05" stroke-linecap="round" fill="none" opacity="1.0"/>
<path d="M99.7 692.6h0m0 42.4h0m0 67.8h0m7.2-110.2h0m0 33.9h0m0 8.5h0m0 25.4h0m0 34h0m7.3-67.9h0m0 8.5h0m0 25.4h0m0 34h0m7.2-67.9h0m0 33.9h0m7.2-67.8h0m0 33.9h0m0 8.5h0m0 25.4h0m7.3-42.4h0m0 8.5h0m0 8.5h0m0 25.4h0m7.2-67.8h0m0 17h0m0 8.4h0m0 8.5h0m0 8.5h0m7.2-42.4h0m0 8.5h0m0 25.4h0m0 8.5h0m0 25.4h0m0 8.5h0m0 8.5h0m0 17h0m0 16.9h0m7.3-84.8h0m0 8.5h0m0 25.4h0m0 67.9h0m7.2-17h0m7.3-16.9h0m7.2 0h0m21.7-17h0m7.2-8.5h0m0 42.4h0m0 8.5h0m7.3-25.4h0m0 16.9h0m7.2-16.9h0m0 33.9h0m7.2-42.4h0m0 8.5h0m0 16.9h0m7.3-16.9h0m7.2 0h0m21.7-42.4h0m7.2 16.9h0m0 17h0m0 25.4h0m0 8.5h0m14.5-33.9h0m0 8.5h0m7.2-8.5h0m0 8.5h0m0 16.9h0m7.3-16.9h0m7.2 0h0m14.5 0h0m7.2-42.4h0m0 25.4h0m7.3-8.5h0m0 17h0m0 25.4h0m0 8.5h0m14.4-33.9h0m0 8.5h0m7.3 16.9h0m7.2-16.9h0m7.2 0h0m21.7-42.4h0m7.3 0h0m0 16.9h0m0 50.9h0m14.4-25.4h0m7.3 0h0m28.9 0h0m7.2-42.4h0m7.3 16.9h0m0 50.9h0m14.5-25.4h0m7.2-84.8h0m0 16.9h0m0 84.8h0m7.2-101.7h0m0 33.9h0m0 59.3h0m0 42.4h0m7.3-135.6h0m0 33.9h0m0 59.3h0m0 42.4h0m7.2-152.6h0m0 17h0m0 135.6h0m7.2-135.6h0m0 8.4h0m0 25.5h0m0 59.3h0m0 42.4h0m7.3-152.6h0m0 17h0m0 33.9h0m0 59.3h0m0 42.4h0m7.2-118.7h0m0 33.9h0m0 8.5h0m0 42.4h0m7.2-101.7h0m0 33.9h0m0 101.7h0m7.3-152.6h0m0 17h0m0 93.2h0m0 25.5h0m7.2-135.7h0m0 8.5h0m0 16.9h0m0 17h0m7.2-42.4h0m0 8.5h0m0 16.9h0m0 17h0m0 59.4h0m7.3-101.8h0m0 8.5h0m0 16.9h0m0 17h0m0 59.4h0m7.2-76.4h0m7.2-25.4h0m0 8.5h0m0 16.9h0m0 17h0m7.3-33.9h0m0 33.9h0m0 17h0m7.2-59.4h0m0 42.4h0m0 76.3h0m7.3-110.2h0m0 8.5h0m0 25.4h0m7.2-42.4h0m0 8.5h0m0 16.9h0m0 17h0m0 59.4h0m0 16.9h0m7.2-25.4h0m0 25.4h0m7.3-16.9h0m7.2 0h0m21.7-17h0m7.2-67.8h0m0 59.3h0m0 17h0m0 25.4h0m7.3-118.7h0m0 8.5h0m0 93.3h0m7.2-50.9h0m0 42.4h0" stroke="#3cb574" stroke-width="4.95" stroke-linecap="round" fill="none" opacity="1.0"/>
<path d="M172.1 785.9h0m7.2 0h0m7.2 0h0m7.3 0h0m7.2 0h0m14.5 0h0" stroke="#b2dd2c" stroke-width="5.50" stroke-linecap="round" fill="none" opacity="1.0"/>
<path d="M99.7 726.5h0m0 33.9h0m0 50.9h0m36.2-59.3h0m0 42.4h0m7.2-42.4h0m0 59.3h0m21.7 17h0m36.2-76.3h0m0 42.4h0m7.2-42.4h0m21.7 76.3h0m43.4-76.3h0m0 84.8h0m7.3-42.4h0m7.2 16.9h0m7.2 17h0m43.5-76.3h0m0 84.8h0m7.2-42.4h0m7.2 16.9h0m7.3 17h0m36.1-33.9h0m7.3 42.4h0m7.2-42.4h0m7.2 16.9h0m7.3 17h0m7.2-33.9h0m7.2 0h0m29-42.4h0m0 84.8h0m7.2-42.4h0m7.3 16.9h0m7.2-118.7h0m0 8.5h0m0 42.4h0m0 101.7h0m7.2-152.6h0m0 8.5h0m0 16.9h0m0 135.7h0m7.3-161.1h0m0 8.5h0m0 16.9h0m0 135.7h0m7.2-152.6h0m0 16.9h0m0 135.7h0m7.2-161.1h0m0 8.5h0m0 152.6h0m7.3-152.6h0m0 50.9h0m0 25.4h0m0 17h0m0 59.3h0m7.2-161.1h0m0 50.9h0m0 59.3h0m7.2-84.8h0m7.3-16.9h0m0 16.9h0m0 93.3h0m0 33.9h0m0 8.5h0m7.2-25.4h0m36.2-110.3h0m0 76.4h0m7.2-93.3h0m0 8.5h0m0 8.4h0m0 34h0m0 67.8h0m0 17h0m7.3-144.2h0m0 25.4h0m0 76.4h0m21.7-67.9h0m7.2 0h0m7.2 0h0m7.3 0h0m7.2 0h0m0 25.5h0m0 42.4h0m7.2-67.9h0m0 93.3h0m0 17h0m7.3-110.3h0m7.2 0h0m0 84.8h0" stroke="#e5533d" stroke-width="6.80" stroke-linecap="round" fill="none" opacity="1.0"/>
<path d="M99.7 726.5h0m0 33.9h0m0 50.9h0m36.2-59.3h0m0 42.4h0m7.2-42.4h0m0 59.3h0m21.7 17h0m36.2-76.3h0m0 42.4h0m7.2-42.4h0m21.7 76.3h0m43.4-76.3h0m0 84.8h0m7.3-42.4h0m7.2 16.9h0m7.2 17h0m43.5-76.3h0m0 84.8h0m7.2-42.4h0m7.2 16.9h0m7.3 17h0m36.1-33.9h0m7.3 42.4h0m7.2-42.4h0m7.2 16.9h0m7.3 17h0m7.2-33.9h0m7.2 0h0m29-42.4h0m0 84.8h0m7.2-42.4h0m7.3 16.9h0m7.2-118.7h0m0 8.5h0m0 42.4h0m0 101.7h0m7.2-152.6h0m0 8.5h0m0 16.9h0m0 135.7h0m7.3-161.1h0m0 8.5h0m0 16.9h0m0 135.7h0m7.2-152.6h0m0 16.9h0m0 135.7h0m7.2-161.1h0m0 8.5h0m0 152.6h0m7.3-152.6h0m0 50.9h0m0 25.4h0m0 17h0m0 59.3h0m7.2-161.1h0m0 50.9h0m0 59.3h0m7.2-84.8h0m7.3-16.9h0m0 16.9h0m0 93.3h0m0 33.9h0m0 8.5h0m7.2-25.4h0m36.2-110.3h0m0 76.4h0m7.2-93.3h0m0 8.5h0m0 8.4h0m0 34h0m0 67.8h0m0 17h0m7.3-144.2h0m0 25.4h0m0 76.4h0m21.7-67.9h0m7.2 0h0m7.2 0h0m7.3 0h0m7.2 0h0m0 25.5h0m0 42.4h0m7.2-67.9h0m0 93.3h0m0 17h0m7.3-110.3h0m7.2 0h0m0 84.8h0" stroke="#b2dd2c" stroke-width="5.60" stroke-linecap="round" fill="none" opacity="1.0"/>
<path d="M164.8 785.9h0m43.4 0h0m14.5 0h0m340 0h0m7.3 0h0m7.2 0h0m7.2 0h0m7.3 0h0m50.6-50.9h0" stroke="#e3e418" stroke-width="6.00" stroke-linecap="round" fill="none" opacity="1.0"/>
<path d="M99.7 828.3h0m36.2-50.9h0m7.2-17h0m0 8.5h0m0 50.9h0m0 17h0m14.5-25.5h0m50.6 25.5h0m14.5-25.5h0m43.4-16.9h0m65.1 0h0m130.2 0h0m29-76.4h0m0 84.8h0m0 25.5h0m0 25.4h0m36.2-135.7h0m7.2-16.9h0m0 8.5h0m0 8.4h0m0 34h0m0 67.8h0m0 17h0m0 8.4h0m0 8.5h0m7.2-161.1h0m0 8.5h0m0 152.6h0m7.3-110.2h0m7.2 42.4h0m43.4 0h0m7.3 0h0m7.2 0h0m7.2-59.4h0m0 8.5h0m0 93.3h0m7.3-93.3h0m7.2 0h0m14.5 0h0m7.2 0h0m7.2 0h0m0 17h0m7.3-17h0m7.2 0h0" stroke="#e5533d" stroke-width="7.60" stroke-linecap="round" fill="none" opacity="1.0"/>
<path d="M99.7 828.3h0m36.2-50.9h0m7.2-17h0m0 8.5h0m0 50.9h0m0 17h0m14.5-25.5h0m50.6 25.5h0m14.5-25.5h0m43.4-16.9h0m65.1 0h0m130.2 0h0m29-76.4h0m0 84.8h0m0 25.5h0m0 25.4h0m36.2-135.7h0m7.2-16.9h0m0 8.5h0m0 8.4h0m0 34h0m0 67.8h0m0 17h0m0 8.4h0m0 8.5h0m7.2-161.1h0m0 8.5h0m0 152.6h0m7.3-110.2h0m7.2 42.4h0m43.4 0h0m7.3 0h0m7.2 0h0m7.2-59.4h0m0 8.5h0m0 93.3h0m7.3-93.3h0m7.2 0h0m14.5 0h0m7.2 0h0m7.2 0h0m0 17h0m7.3-17h0m7.2 0h0" stroke="#fde725" stroke-width="6.40" stroke-linecap="round" fill="none" opacity="1.0"/>
<text x="91.6" y="696" font-size="7.9" text-anchor="end" fill="#1a1a1a">WNT5A−ROR1</text>
<text x="91.6" y="704.4" font-size="7.9" text-anchor="end" fill="#1a1a1a">WNT5A−FZD1</text>
<text x="91.6" y="712.9" font-size="7.9" text-anchor="end" fill="#1a1a1a">WNT5A−EPHA7</text>
<text x="91.6" y="721.4" font-size="7.9" text-anchor="end" fill="#1a1a1a">WNT5A−ANTXR1</text>
<text x="91.6" y="729.9" font-size="7.9" text-anchor="end" fill="#1a1a1a">TIMP1−FGFR2</text>
<text x="91.6" y="738.4" font-size="7.9" text-anchor="end" fill="#1a1a1a">TGFB1−TGFBR1</text>
<text x="91.6" y="746.8" font-size="7.9" text-anchor="end" fill="#1a1a1a">JAG1−NOTCH2</text>
<text x="91.6" y="755.3" font-size="7.9" text-anchor="end" fill="#1a1a1a">FZD6−WNT5A</text>
<text x="91.6" y="763.8" font-size="7.9" text-anchor="end" fill="#1a1a1a">FGFR2−FGFR3</text>
<text x="91.6" y="772.3" font-size="7.9" text-anchor="end" fill="#1a1a1a">FGFR2−FGF8</text>
<text x="91.6" y="780.8" font-size="7.9" text-anchor="end" fill="#1a1a1a">FGFR2−EPHA4</text>
<text x="91.6" y="789.2" font-size="7.9" text-anchor="end" fill="#1a1a1a">FGFR1−FGF7</text>
<text x="91.6" y="797.7" font-size="7.9" text-anchor="end" fill="#1a1a1a">FGF2−FGFR1</text>
<text x="91.6" y="806.2" font-size="7.9" text-anchor="end" fill="#1a1a1a">FGF10−FGFR2</text>
<text x="91.6" y="814.7" font-size="7.9" text-anchor="end" fill="#1a1a1a">DLK1−NOTCH2</text>
<text x="91.6" y="823.2" font-size="7.9" text-anchor="end" fill="#1a1a1a">BMPR1A−BMPR2−BMP7</text>
<text x="91.6" y="831.6" font-size="7.9" text-anchor="end" fill="#1a1a1a">BMPR1A−BMPR2−BMP4</text>
<text x="91.6" y="840.1" font-size="7.9" text-anchor="end" fill="#1a1a1a">BMPR1A−BMPR2−BMP2</text>
<text x="91.6" y="848.6" font-size="7.9" text-anchor="end" fill="#1a1a1a">BMP7−PTPRK</text>
<text x="91.6" y="857.1" font-size="7.9" text-anchor="end" fill="#1a1a1a">BMP2−SMO</text>
<text x="99.7" y="867.4" font-size="8.6" text-anchor="middle" fill="#222">0</text>
<text x="106.9" y="867.4" font-size="8.6" text-anchor="middle" fill="#222">1</text>
<text x="114.2" y="867.4" font-size="8.6" text-anchor="middle" fill="#222">2</text>
<text x="121.4" y="867.4" font-size="8.6" text-anchor="middle" fill="#222">3</text>
<text x="128.6" y="867.4" font-size="8.6" text-anchor="middle" fill="#222">4</text>
<text x="135.9" y="867.4" font-size="8.6" text-anchor="middle" fill="#222">5</text>
<text x="143.1" y="867.4" font-size="8.6" text-anchor="middle" fill="#222">6</text>
<text x="150.3" y="867.4" font-size="8.6" text-anchor="middle" fill="#222">7</text>
<text x="157.6" y="867.4" font-size="8.6" text-anchor="middle" fill="#222">8</text>
<text x="164.8" y="867.4" font-size="8.6" text-anchor="middle" fill="#222">0</text>
<text x="172.1" y="867.4" font-size="8.6" text-anchor="middle" fill="#222">1</text>
<text x="179.3" y="867.4" font-size="8.6" text-anchor="middle" fill="#222">2</text>
<text x="186.5" y="867.4" font-size="8.6" text-anchor="middle" fill="#222">3</text>
<text x="193.8" y="867.4" font-size="8.6" text-anchor="middle" fill="#222">4</text>
<text x="201" y="867.4" font-size="8.6" text-anchor="middle" fill="#222">5</text>
<text x="208.2" y="867.4" font-size="8.6" text-anchor="middle" fill="#222">6</text>
<text x="215.5" y="867.4" font-size="8.6" text-anchor="middle" fill="#222">7</text>
<text x="222.7" y="867.4" font-size="8.6" text-anchor="middle" fill="#222">8</text>
<text x="229.9" y="867.4" font-size="8.6" text-anchor="middle" fill="#222">0</text>
<text x="237.2" y="867.4" font-size="8.6" text-anchor="middle" fill="#222">1</text>
<text x="244.4" y="867.4" font-size="8.6" text-anchor="middle" fill="#222">2</text>
<text x="251.6" y="867.4" font-size="8.6" text-anchor="middle" fill="#222">3</text>
<text x="258.9" y="867.4" font-size="8.6" text-anchor="middle" fill="#222">4</text>
<text x="266.1" y="867.4" font-size="8.6" text-anchor="middle" fill="#222">5</text>
<text x="273.3" y="867.4" font-size="8.6" text-anchor="middle" fill="#222">6</text>
<text x="280.6" y="867.4" font-size="8.6" text-anchor="middle" fill="#222">7</text>
<text x="287.8" y="867.4" font-size="8.6" text-anchor="middle" fill="#222">8</text>
<text x="295" y="867.4" font-size="8.6" text-anchor="middle" fill="#222">0</text>
<text x="302.3" y="867.4" font-size="8.6" text-anchor="middle" fill="#222">1</text>
<text x="309.5" y="867.4" font-size="8.6" text-anchor="middle" fill="#222">2</text>
<text x="316.8" y="867.4" font-size="8.6" text-anchor="middle" fill="#222">3</text>
<text x="324" y="867.4" font-size="8.6" text-anchor="middle" fill="#222">4</text>
<text x="331.2" y="867.4" font-size="8.6" text-anchor="middle" fill="#222">5</text>
<text x="338.5" y="867.4" font-size="8.6" text-anchor="middle" fill="#222">6</text>
<text x="345.7" y="867.4" font-size="8.6" text-anchor="middle" fill="#222">7</text>
<text x="352.9" y="867.4" font-size="8.6" text-anchor="middle" fill="#222">8</text>
<text x="360.2" y="867.4" font-size="8.6" text-anchor="middle" fill="#222">0</text>
<text x="367.4" y="867.4" font-size="8.6" text-anchor="middle" fill="#222">1</text>
<text x="374.6" y="867.4" font-size="8.6" text-anchor="middle" fill="#222">2</text>
<text x="381.9" y="867.4" font-size="8.6" text-anchor="middle" fill="#222">3</text>
<text x="389.1" y="867.4" font-size="8.6" text-anchor="middle" fill="#222">4</text>
<text x="396.3" y="867.4" font-size="8.6" text-anchor="middle" fill="#222">5</text>
<text x="403.6" y="867.4" font-size="8.6" text-anchor="middle" fill="#222">6</text>
<text x="410.8" y="867.4" font-size="8.6" text-anchor="middle" fill="#222">7</text>
<text x="418" y="867.4" font-size="8.6" text-anchor="middle" fill="#222">8</text>
<text x="425.3" y="867.4" font-size="8.6" text-anchor="middle" fill="#222">0</text>
<text x="432.5" y="867.4" font-size="8.6" text-anchor="middle" fill="#222">1</text>
<text x="439.7" y="867.4" font-size="8.6" text-anchor="middle" fill="#222">2</text>
<text x="447" y="867.4" font-size="8.6" text-anchor="middle" fill="#222">3</text>
<text x="454.2" y="867.4" font-size="8.6" text-anchor="middle" fill="#222">4</text>
<text x="461.4" y="867.4" font-size="8.6" text-anchor="middle" fill="#222">5</text>
<text x="468.7" y="867.4" font-size="8.6" text-anchor="middle" fill="#222">6</text>
<text x="475.9" y="867.4" font-size="8.6" text-anchor="middle" fill="#222">7</text>
<text x="483.2" y="867.4" font-size="8.6" text-anchor="middle" fill="#222">8</text>
<text x="490.4" y="867.4" font-size="8.6" text-anchor="middle" fill="#222">0</text>
<text x="497.6" y="867.4" font-size="8.6" text-anchor="middle" fill="#222">1</text>
<text x="504.9" y="867.4" font-size="8.6" text-anchor="middle" fill="#222">2</text>
<text x="512.1" y="867.4" font-size="8.6" text-anchor="middle" fill="#222">3</text>
<text x="519.3" y="867.4" font-size="8.6" text-anchor="middle" fill="#222">4</text>
<text x="526.6" y="867.4" font-size="8.6" text-anchor="middle" fill="#222">5</text>
<text x="533.8" y="867.4" font-size="8.6" text-anchor="middle" fill="#222">6</text>
<text x="541" y="867.4" font-size="8.6" text-anchor="middle" fill="#222">7</text>
<text x="548.3" y="867.4" font-size="8.6" text-anchor="middle" fill="#222">8</text>
<text x="555.5" y="867.4" font-size="8.6" text-anchor="middle" fill="#222">0</text>
<text x="562.7" y="867.4" font-size="8.6" text-anchor="middle" fill="#222">1</text>
<text x="570" y="867.4" font-size="8.6" text-anchor="middle" fill="#222">2</text>
<text x="577.2" y="867.4" font-size="8.6" text-anchor="middle" fill="#222">3</text>
<text x="584.4" y="867.4" font-size="8.6" text-anchor="middle" fill="#222">4</text>
<text x="591.7" y="867.4" font-size="8.6" text-anchor="middle" fill="#222">5</text>
<text x="598.9" y="867.4" font-size="8.6" text-anchor="middle" fill="#222">6</text>
<text x="606.2" y="867.4" font-size="8.6" text-anchor="middle" fill="#222">7</text>
<text x="613.4" y="867.4" font-size="8.6" text-anchor="middle" fill="#222">8</text>
<text x="620.6" y="867.4" font-size="8.6" text-anchor="middle" fill="#222">0</text>
<text x="627.9" y="867.4" font-size="8.6" text-anchor="middle" fill="#222">1</text>
<text x="635.1" y="867.4" font-size="8.6" text-anchor="middle" fill="#222">2</text>
<text x="642.3" y="867.4" font-size="8.6" text-anchor="middle" fill="#222">3</text>
<text x="649.6" y="867.4" font-size="8.6" text-anchor="middle" fill="#222">4</text>
<text x="656.8" y="867.4" font-size="8.6" text-anchor="middle" fill="#222">5</text>
<text x="664" y="867.4" font-size="8.6" text-anchor="middle" fill="#222">6</text>
<text x="671.3" y="867.4" font-size="8.6" text-anchor="middle" fill="#222">7</text>
<text x="678.5" y="867.4" font-size="8.6" text-anchor="middle" fill="#222">8</text>
<line x1="97.7" y1="869.8" x2="159.4" y2="869.8" stroke="#555" stroke-width="1.3"/>
<text x="129.6" y="879.2" font-size="8.0" text-anchor="middle" fill="#222">Cluster 0</text>
<line x1="162.8" y1="869.8" x2="224.5" y2="869.8" stroke="#555" stroke-width="1.3"/>
<text x="194.8" y="879.2" font-size="8.0" text-anchor="middle" fill="#222">Cluster 1</text>
<line x1="227.9" y1="869.8" x2="289.6" y2="869.8" stroke="#555" stroke-width="1.3"/>
<text x="259.9" y="879.2" font-size="8.0" text-anchor="middle" fill="#222">Cluster 2</text>
<line x1="293" y1="869.8" x2="354.7" y2="869.8" stroke="#555" stroke-width="1.3"/>
<text x="325" y="879.2" font-size="8.0" text-anchor="middle" fill="#222">Cluster 3</text>
<line x1="358.2" y1="869.8" x2="419.8" y2="869.8" stroke="#555" stroke-width="1.3"/>
<text x="390.1" y="879.2" font-size="8.0" text-anchor="middle" fill="#222">Cluster 4</text>
<line x1="423.3" y1="869.8" x2="485" y2="869.8" stroke="#555" stroke-width="1.3"/>
<text x="455.2" y="879.2" font-size="8.0" text-anchor="middle" fill="#222">Cluster 5</text>
<line x1="488.4" y1="869.8" x2="550.1" y2="869.8" stroke="#555" stroke-width="1.3"/>
<text x="520.3" y="879.2" font-size="8.0" text-anchor="middle" fill="#222">Cluster 6</text>
<line x1="553.5" y1="869.8" x2="615.2" y2="869.8" stroke="#555" stroke-width="1.3"/>
<text x="585.4" y="879.2" font-size="8.0" text-anchor="middle" fill="#222">Cluster 7</text>
<line x1="618.6" y1="869.8" x2="680.3" y2="869.8" stroke="#555" stroke-width="1.3"/>
<text x="650.6" y="879.2" font-size="8.0" text-anchor="middle" fill="#222">Cluster 8</text>
<text x="529.8" y="895.8" font-size="7.6" text-anchor="middle" fill="#222">scaled_means</text>
<circle cx="523" cy="904.7" r="3.1" fill="none" stroke="#555" stroke-width="0.5"/>
<text x="528.6" y="907.4" font-size="7.6" fill="#222">1.00</text>
<circle cx="523" cy="911.8" r="2.4" fill="none" stroke="#555" stroke-width="0.5"/>
<text x="528.6" y="914.5" font-size="7.6" fill="#222">0.75</text>
<circle cx="523" cy="918.9" r="1.7" fill="none" stroke="#555" stroke-width="0.5"/>
<text x="528.6" y="921.6" font-size="7.6" fill="#222">0.50</text>
<circle cx="523" cy="926" r="1" fill="none" stroke="#555" stroke-width="0.5"/>
<text x="528.6" y="928.7" font-size="7.6" fill="#222">0.25</text>
<circle cx="523" cy="933.1" r="0.3" fill="none" stroke="#555" stroke-width="0.5"/>
<text x="528.6" y="935.8" font-size="7.6" fill="#222">0.00</text>
<text x="594" y="895.8" font-size="7.6" text-anchor="middle" fill="#222">scaled_means</text>
<defs><linearGradient id="gv" x1="0" y1="0" x2="0" y2="1"><stop offset="0" stop-color="#fde725"/><stop offset="0.25" stop-color="#5dc863"/><stop offset="0.5" stop-color="#21908c"/><stop offset="0.75" stop-color="#3b528b"/><stop offset="1" stop-color="#440154"/></linearGradient></defs>
<rect x="585.2" y="905" width="11.8" height="35.5" fill="url(#gv)"/>
<text x="597.6" y="906.3" font-size="7.6" fill="#222">1.00</text>
<text x="597.6" y="915" font-size="7.6" fill="#222">0.75</text>
<text x="597.6" y="923.7" font-size="7.6" fill="#222">0.50</text>
<text x="597.6" y="932.4" font-size="7.6" fill="#222">0.25</text>
<text x="597.6" y="941.1" font-size="7.6" fill="#222">0.00</text>
<text x="656.8" y="895.8" font-size="7.6" text-anchor="middle" fill="#222">significant</text>
<text x="654.6" y="906.3" font-size="7.6" fill="#222">no</text>
<text x="654.6" y="913.6" font-size="7.6" fill="#222">yes</text>
<circle cx="648.8" cy="912.4" r="1.8" fill="none" stroke="#e5533d" stroke-width="0.6"/>
<defs><linearGradient id="arr" x1="0" y1="0" x2="1" y2="0"><stop offset="0" stop-color="#d8d8d8"/><stop offset="1" stop-color="#7a7a7a"/></linearGradient><linearGradient id="arrd" x1="0" y1="0" x2="1" y2="1"><stop offset="0" stop-color="#d8d8d8"/><stop offset="1" stop-color="#7a7a7a"/></linearGradient><linearGradient id="blu" x1="0" y1="0" x2="1" y2="1"><stop offset="0" stop-color="#7cc0ea"/><stop offset="1" stop-color="#1c6fb6"/></linearGradient></defs>
<text x="362.5" y="572.4" font-size="10.3" text-anchor="middle" fill="#222">Cluster 2</text>
<text x="362.5" y="583.2" font-size="10.3" text-anchor="middle" fill="#222">iPSCs</text>
<text x="448.5" y="572.4" font-size="10.3" text-anchor="middle" fill="#222">Cluster 5</text>
<text x="448.5" y="583.2" font-size="10.3" text-anchor="middle" fill="#222">PS mesoderm</text>
<text x="536" y="572.4" font-size="10.3" text-anchor="middle" fill="#222">Cluster 0</text>
<text x="545.1" y="583.2" font-size="10.3" text-anchor="middle" fill="#222">Cardiac progenitor</text>
<text x="631" y="572.4" font-size="10.3" text-anchor="middle" fill="#222">Cluster 6</text>
<text x="634.1" y="583.2" font-size="10.3" text-anchor="middle" fill="#222">CardioMyocytes</text>
<text x="525.8" y="665.6" font-size="10.3" text-anchor="middle" fill="#222">Cluster 8</text>
<text x="523.1" y="675" font-size="10.3" text-anchor="middle" fill="#222">SMC</text>
<ellipse cx="353.0" cy="594.3" rx="9.3" ry="5.6" transform="rotate(-8 353.0 594.3)" fill="#cdc8ec" stroke="#8e88b8" stroke-width="0.6"/>
<circle cx="353.0" cy="594.3" r="2.4" fill="#f0d8b0" stroke="#a8743c" stroke-width="1.1"/>
<ellipse cx="372.8" cy="594.6" rx="9.3" ry="5.6" transform="rotate(8 372.8 594.6)" fill="#cdc8ec" stroke="#8e88b8" stroke-width="0.6"/>
<circle cx="372.8" cy="594.6" r="2.4" fill="#f0d8b0" stroke="#a8743c" stroke-width="1.1"/>
<ellipse cx="347.8" cy="606.5" rx="9.3" ry="5.6" transform="rotate(5 347.8 606.5)" fill="#cdc8ec" stroke="#8e88b8" stroke-width="0.6"/>
<circle cx="347.8" cy="606.5" r="2.4" fill="#f0d8b0" stroke="#a8743c" stroke-width="1.1"/>
<ellipse cx="365.6" cy="606.8" rx="9.3" ry="5.6" transform="rotate(-5 365.6 606.8)" fill="#cdc8ec" stroke="#8e88b8" stroke-width="0.6"/>
<circle cx="365.6" cy="606.8" r="2.4" fill="#f0d8b0" stroke="#a8743c" stroke-width="1.1"/>
<path d="M392.0 599.1H407.5V596.1L414.0 601.3L407.5 606.5V603.5H392.0Z" fill="url(#arr)"/>
<ellipse cx="444.0" cy="594.0" rx="10.2" ry="5.0" transform="rotate(-25 444.0 594.0)" fill="url(#blu)" stroke="#2a5f95" stroke-width="0.5"/>
<circle cx="442.0" cy="594.8" r="1.5" fill="#f0d8b0" stroke="#8a5a2a" stroke-width="1.1"/>
<ellipse cx="463.8" cy="598.2" rx="10.2" ry="5.0" transform="rotate(-25 463.8 598.2)" fill="url(#blu)" stroke="#2a5f95" stroke-width="0.5"/>
<circle cx="461.8" cy="599.0" r="1.5" fill="#f0d8b0" stroke="#8a5a2a" stroke-width="1.1"/>
<ellipse cx="439.3" cy="608.8" rx="10.2" ry="5.0" transform="rotate(-25 439.3 608.8)" fill="url(#blu)" stroke="#2a5f95" stroke-width="0.5"/>
<circle cx="437.3" cy="609.6" r="1.5" fill="#f0d8b0" stroke="#8a5a2a" stroke-width="1.1"/>
<path d="M483.5 599.1H501.0V596.1L507.5 601.3L501.0 606.5V603.5H483.5Z" fill="url(#arr)"/>
<ellipse cx="528.6" cy="597.0" rx="7.0" ry="6.0" fill="#f6dfc6" stroke="#6d6258" stroke-width="0.5"/>
<circle cx="528.6" cy="597.0" r="1.8" fill="#f0d8b0" stroke="#9a6a3a" stroke-width="1.1"/>
<ellipse cx="544.7" cy="602.0" rx="7.6" ry="6.6" fill="#f6dfc6" stroke="#6d6258" stroke-width="0.5"/>
<circle cx="544.7" cy="602.0" r="1.8" fill="#f0d8b0" stroke="#9a6a3a" stroke-width="1.1"/>
<ellipse cx="524.9" cy="610.0" rx="7.2" ry="6.2" fill="#f6dfc6" stroke="#6d6258" stroke-width="0.5"/>
<circle cx="524.9" cy="610.0" r="1.8" fill="#f0d8b0" stroke="#9a6a3a" stroke-width="1.1"/>
<path d="M558.5 599.3H575.0V596.3L581.5 601.5L575.0 606.7V603.7H558.5Z" fill="url(#arr)"/>
<g transform="translate(611.2,599.8) rotate(-10.9)"><path d="M-25.2 0 L-21.2 -2.5 L-22.2 -3.6 L19.2 -3.6 L22.2 -4.7 L23.2 -1.8 L25.2 0 L21.2 2.2 L20.2 3.6 L-19.2 3.6 L-22.2 4.7 L-23.2 1.8Z" fill="#f6dfc6" stroke="#6d6258" stroke-width="0.5" stroke-dasharray=""/><ellipse cx="0" cy="0" rx="3.2" ry="1.9" fill="#f0d8b0" stroke="#a8743c" stroke-width="1"/></g>
<g transform="translate(640.8,604.8) rotate(-12.0)"><path d="M-25.3 0 L-21.3 -2.5 L-22.3 -3.6 L19.3 -3.6 L22.3 -4.7 L23.3 -1.8 L25.3 0 L21.3 2.2 L20.3 3.6 L-19.3 3.6 L-22.3 4.7 L-23.3 1.8Z" fill="#f6dfc6" stroke="#6d6258" stroke-width="0.5" stroke-dasharray=""/><ellipse cx="0" cy="0" rx="3.2" ry="1.9" fill="#f0d8b0" stroke="#a8743c" stroke-width="1"/></g>
<g transform="translate(462.6,620.5) rotate(45)"><path d="M0 -2.2H18V-5.2L24.5 0L18 5.2V2.2H0Z" fill="url(#arr)"/></g>
<g transform="translate(502.5,640.4) rotate(0.0)"><path d="M-20.0 0 C-10.0 -4.6 8.0 -4.6 20.0 0 C8.0 4.6 -10.0 4.6 -20.0 0Z" fill="#f6dfc6" stroke="#6d6258" stroke-width="0.5" stroke-dasharray=""/><ellipse cx="0" cy="0" rx="3.2" ry="1.9" fill="#f0d8b0" stroke="#a8743c" stroke-width="1"/></g>
<g transform="translate(538.5,644.1) rotate(0.0)"><path d="M-20.0 0 C-10.0 -4.6 8.0 -4.6 20.0 0 C8.0 4.6 -10.0 4.6 -20.0 0Z" fill="#f6dfc6" stroke="#6d6258" stroke-width="0.5" stroke-dasharray=""/><ellipse cx="0" cy="0" rx="3.2" ry="1.9" fill="#f0d8b0" stroke="#a8743c" stroke-width="1"/></g>
<g transform="translate(509.3,648.9) rotate(0.0)"><path d="M-19.5 0 C-9.7 -4.6 7.8 -4.6 19.5 0 C7.8 4.6 -9.7 4.6 -19.5 0Z" fill="#f6dfc6" stroke="#6d6258" stroke-width="0.5" stroke-dasharray=""/><ellipse cx="0" cy="0" rx="3.2" ry="1.9" fill="#f0d8b0" stroke="#a8743c" stroke-width="1"/></g>
<line x1="67.7" y1="13.5" x2="67.7" y2="118.3" stroke="#3a3a3a" stroke-width="0.8"/>
<line x1="65.7" y1="19.4" x2="67.7" y2="19.4" stroke="#3a3a3a" stroke-width="0.7"/>
<text x="64.5" y="22.6" font-size="9.2" text-anchor="end" fill="#333">5</text>
<line x1="65.7" y1="51.4" x2="67.7" y2="51.4" stroke="#3a3a3a" stroke-width="0.7"/>
<text x="64.5" y="54.6" font-size="9.2" text-anchor="end" fill="#333">0</text>
<line x1="65.7" y1="82.8" x2="67.7" y2="82.8" stroke="#3a3a3a" stroke-width="0.7"/>
<text x="64.5" y="86" font-size="9.2" text-anchor="end" fill="#333">-5</text>
<line x1="65.7" y1="113.5" x2="67.7" y2="113.5" stroke="#3a3a3a" stroke-width="0.7"/>
<text x="64.5" y="116.7" font-size="9.2" text-anchor="end" fill="#333">-10</text>
<line x1="67.7" y1="118.3" x2="177.5" y2="118.3" stroke="#3a3a3a" stroke-width="0.8"/>
<line x1="93.4" y1="118.3" x2="93.4" y2="120.3" stroke="#3a3a3a" stroke-width="0.7"/>
<text x="93.4" y="129" font-size="9.2" text-anchor="middle" fill="#333">-10</text>
<line x1="123.9" y1="118.3" x2="123.9" y2="120.3" stroke="#3a3a3a" stroke-width="0.7"/>
<text x="123.9" y="129" font-size="9.2" text-anchor="middle" fill="#333">0</text>
<line x1="160.2" y1="118.3" x2="160.2" y2="120.3" stroke="#3a3a3a" stroke-width="0.7"/>
<text x="160.2" y="129" font-size="9.2" text-anchor="middle" fill="#333">10</text>
<text x="128" y="139.6" font-size="9.2" text-anchor="middle" fill="#222">Component 1</text>
<text x="0" y="0" transform="translate(43.6,65.5) rotate(-90)" font-size="9.2" text-anchor="middle" fill="#222" dominant-baseline="middle">Component 2</text>
<path d="M73.9 24.9h0m.5 .6h0m-.8 .1h0m-.6 .1h0m.8 0h0m1.1 .4h0m-1 .2h0m-1.8 .2h0m2.3 .4h0m.4 .3h0m-1.1 .1h0m-2.8 .1h0m-.2 .2h0m.7 .3h0m2.2 .2h0m1.2 0h0m-4.6 0h0m2.7 .1h0m.5 .1h0m.8 .1h0m-.8 .1h0m-.2 .2h0m1 .1h0m-1 0h0m-2.1 .2h0m1.6 0h0m-1 .1h0m1.3 .2h0m-.7 .1h0m2.3 0h0m-.9 .1h0m-.8 .2h0m-1.1 .1h0m.3 0h0m-2.7 .2h0m3.2 .4h0m-1.3 .1h0m-.8 .2h0m3.8 .6h0m-.1 .2h0m-2.4 .2h0m3.1 .5h0m-2.1 .1h0m.4 0h0m1 .1h0m.3 1.5h0m.3 3.7h0m-.3 .4h0m2.7-14.5h0m-2 1.2h0m1.2 .2h0m-.1 .5h0m-.2 .2h0m3.6 1.1h0m-3.9 .2h0m-.3 .3h0m3 .1h0m-2 .1h0m1 .1h0m-1.2 .1h0m-1.2 .1h0m3 .3h0m-1.4 0h0m1.5 .1h0m-.5 .1h0m-.9 .2h0m.3 0h0m-.8 0h0m2.5 .4h0m-.8 0h0m-1.8 .1h0m3.2 .4h0m-3.9 .4h0m1 .3h0m1.3 0h0m-.1 .1h0m2 0h0m-4.4 .2h0m1.3 0h0m-.6 .1h0m.4 .1h0m-.1 .2h0m.4 0h0m1.4 0h0m-2.5 .2h0m2.4 .2h0m2.1 0h0m-1.7 .2h0m-2.5 .1h0m1.3 0h0m1 0h0m-.6 .2h0m.7 0h0m1.5 .1h0m-.1 .1h0m-1.4 .1h0m.5 .3h0m-2.3 0h0m-.9 .1h0m5 .2h0m0 .1h0m-2.9 0h0m1.9 .2h0m-3.6 .1h0m3.3 .3h0m-.3 0h0m1.4 0h0m-2.5 0h0m.9 .1h0m-1.2 0h0m-1.8 .3h0m4.5 .1h0m-1.6 .1h0m1.4 .2h0m-1.1 .1h0m1.8 0h0m-1.5 .1h0m-.7 0h0m.5 .1h0m.1 .2h0m-.6 0h0m.6 .1h0m-3 0h0m2.7 .2h0m-1.8 .1h0m-.6 0h0m2.7 0h0m.1 .1h0m.9 .5h0m-2.7 0h0m-.9 .1h0m.5 .4h0m2.7 0h0m1.1 .1h0m-3.2 0h0m1.6 .1h0m-1.7 .1h0m1.7 0h0m.7 .2h0m-.4 .3h0m-2.8 0h0m1.4 .1h0m1.7 .2h0m-4.8 .6h0m5.6 .3h0m-1.6 0h0m1.6 .4h0m-1.4 .1h0m1.1 .1h0m-.1 .4h0m.3 .2h0m-.9 1.3h0m-2.1 .7h0m1.6 .1h0m1.4 .2h0m-1.2 .3h0m-.9 .1h0m4.8-10.2h0m-.2 .5h0m-1.2 .5h0m1.9 .8h0m-2 .2h0m2.7 0h0m.7 .5h0m-3.4 0h0m-.7 .1h0m1.5 0h0m-.1 0h0m-.5 .3h0m-.8 .3h0m.9 .1h0m.8 0h0m.6 .2h0m.6 0h0m2.4 .1h0m-2.8 .2h0m-2.2 .1h0m.8 .1h0m1.5 .1h0m.4 .1h0m0 .1h0m-1.5 .5h0m3.6 0h0m-.8 .1h0m-3.7 .2h0m2.8 0h0m-2.3 .1h0m.1 .2h0m-1.2 0h0m1.9 0h0m.8 .1h0m-2.9 0h0m1.5 .2h0m3.2 0h0m-2.5 .1h0m.1 0h0m-.8 .1h0m2.9 .1h0m-1 0h0m-1.8 .2h0m2.8 0h0m-2.2 .2h0m1.6 .4h0m-.6 .1h0m-2 0h0m1.8 .1h0m1.1 .1h0m0 .2h0m-1.6 .2h0m-1.5 0h0m-.4 .1h0m-.6 .9h0m3.6 0h0m-2.3 .1h0m2.8 .1h0m.7 0h0m0 .1h0m.3 .1h0m-.4 .2h0m.6 0h0m.1 .1h0m.3 0h0m-.7 .2h0m-.9 .2h0m-1.4 .1h0m-.8 0h0m-.4 .1h0m-.7 .1h0m3.9 0h0m-.9 .3h0m-.7 0h0m2.4 .1h0m.1 .2h0m-1.8 0h0m-.6 .1h0m2.5 .1h0m-1.8 .1h0m-1.3 .1h0m2.7 .3h0m-5.1 .1h0m5.2 .1h0m-2.8 .2h0m2 0h0m-.2 0h0m1.3 0h0m-2.5 .9h0m1 .4h0m.7 .6h0m.6 .7h0m.1 .3h0m-.3 .5h0m.2 .5h0m-.2 .1h0m-1.6 .9h0m.6 .2h0m-.7 1h0m2.8-15.2h0m-.3 1.5h0m.1 .1h0m1.8 1.1h0m-1.1 2.5h0m0 .5h0m2 .8h0m-2.1 .2h0m1.2 .3h0m-1.2 0h0m2.8 .1h0m-3.3 .1h0m1.5 0h0m1.5 .1h0m-3.1 0h0m0 .2h0m.1 .1h0m1 .2h0m-1.1 .2h0m1.6 0h0m-.5 .1h0m.2 0h0m3 .1h0m.3 .1h0m-1.2 .2h0m.4 .2h0m-.8 .2h0m-3 .2h0m4.4 .1h0m-4 .1h0m2.7 .3h0m.9 .1h0m-3.7 .2h0m3.5 0h0m.5 .1h0m-1.3 0h0m2.6 0h0m-4.8 .3h0m-.1 0h0m4.3 0h0m-.5 .1h0m-4.5 .2h0m4.5 .3h0m0 .2h0m-.7 0h0m-3.8 .2h0m-.1 0h0m5 0h0m-4.8 0h0m3.4 .1h0m-.2 0h0m-1 0h0m-1.4 .1h0m4.3 0h0m-1.8 0h0m-.3 .5h0m1.2 .1h0m-3.4 0h0m2.2 0h0m.8 .2h0m-1.1 .1h0m-.9 .1h0m-.7 0h0m-.2 .1h0m3.9 0h0m-4.8 0h0m-.1 .4h0m1.1 .2h0m.1 .4h0m3.5 .1h0m.9 .6h0m-.4 .5h0m-.9 .2h0m.7 .2h0m-.7 0h0m.2 0h0m-2 .2h0m2.9 .3h0m-.1 0h0m-2.3 .2h0m2.1 .6h0m-2.2 0h0m-2.2 .1h0m3.4 .3h0m1.2 .1h0m-.9 .3h0m1.3 .8h0m-2.9 .2h0m1.9 .2h0m0 0h0m-1.1 .8h0m2.1 1.2h0m1.6-11.7h0m-1.5 0h0m3.3 1.8h0m-.4 .1h0m-2.8 .7h0m2.1 .1h0m-2.2 .1h0m4.9 .1h0m-2.1 0h0m-.2 .1h0m-1.4 .8h0m3.8 0h0m-4 .1h0m.7 .2h0m.9 0h0m-1.5 .1h0m0 .2h0m.1 .2h0m-1 0h0m.9 .2h0m-.3 .3h0m-.4 0h0m.5 .6h0m-.7 0h0m4.3 0h0m-1.1 .4h0m-1.3 .2h0m2.3 .1h0m-.4 .1h0m-2.1 0h0m.9 .1h0m-2 0h0m.7 .3h0m2.6 .2h0m-4 .3h0m1.5 .1h0m1.1 .2h0m-1.8 .1h0m.5 0h0m3.1 .1h0m1.2 .1h0m-1.6 .1h0m-3.8 .2h0m2.5 .2h0m2.4 0h0m-.5 .1h0m-3.3 .1h0m2.2 0h0m.8 .1h0m-1.6 .4h0m-1.8 0h0m4.6 0h0m-3.5 .1h0m.1 0h0m-1.1 0h0m2 .2h0m-3 0h0m4.5 0h0m0 .2h0m-.9 .1h0m2 .1h0m-2.9 0h0m2.7 .2h0m.3 .1h0m-1.7 .2h0m-.6 .1h0m.3 0h0m-1.4 .2h0m.1 0h0m.2 0h0m.9 .1h0m1.2 .2h0m.2 0h0m.5 .2h0m.3 .1h0m-.3 0h0m-2.4 .2h0m1.3 0h0m-1.5 .2h0m.8 .1h0m-2.9 .3h0m3.5 .1h0m-.9 .2h0m-.5 .2h0m.2 0h0m.3 .3h0m-2.8 .4h0m2.2 .1h0m1.3 .1h0m1.5 0h0m-1.1 .1h0m1.1 1.7h0m.2 .1h0m-.3 .1h0m.5 .6h0m-1.5 .5h0m1.8-10.8h0m.4 .1h0m-.3 1.4h0m.3 .4h0m-.5 1h0m.7 .3h0m-.4 .2h0m3.4 .1h0m-3.7 .2h0m.8 .2h0m-.7 .3h0m1.2 .6h0m1.8 .2h0m-1.9 .1h0m1.2 .7h0m-1.5 .1h0m2.5 .1h0m-2.1 0h0m3 .1h0m-3.9 0h0m3.5 .1h0m-2.2 .1h0m.5 .1h0m-.4 .3h0m1.7 .2h0m-.3 0h0m-1.6 .2h0m3.9 0h0m-3.9 .3h0m-.9 .2h0m1.2 .3h0m-.1 .1h0m-1.5 0h0m.5 .3h0m2.9 .1h0m-2.1 0h0m.2 .1h0m-1.1 .1h0m3.3 .2h0m-1.2 .4h0m-2.4 0h0m1.8 .2h0m.9 .2h0m.2 .1h0m-3 .1h0m.4 .1h0m1 0h0m3.6 .2h0m-.1 .1h0m-2 .1h0m-.2 0h0m1.3 .2h0m.5 .1h0m-1.9 .1h0m-.3 0h0m2.4 0h0m-1.4 0h0m1.7 .1h0m-2.1 .2h0m1.5 .2h0m-3.6 0h0m3.7 .1h0m-3 .1h0m-.4 0h0m-.9 .1h0m1.5 0h0m-.3 0h0m.1 .1h0m1.5 0h0m1.5 .1h0m-3.8 .1h0m1.7 .1h0m-.7 .2h0m-.1 0h0m1.1 .3h0m2.5 .1h0m-.2 .6h0m-1.6 .1h0m.6 .3h0m.5 .3h0m-3.5 .2h0m4.2 .1h0m-2.4 .4h0m-1.5 .2h0m2.8 0h0m-2.4 .2h0m1.9 .2h0m0 1.2h0m1.7 .3h0m-1.1 .1h0m-2.2 .3h0m2.7 .1h0m-.1 .4h0m-1.8 .6h0m1.1 0h0m1.3 .3h0m-.1 2.1h0m3.4-13.1h0m-.8 .9h0m-1.7 .5h0m1.9 .1h0m1.1 0h0m-1.7 .4h0m-.6 .1h0m-1.2 .5h0m2 .7h0m0 .1h0m-2 .2h0m3.9 0h0m-3.8 .2h0m.4 .5h0m1.1 .2h0m-1.6 0h0m1.6 .4h0m0 .4h0m-1.5 .3h0m1.3 0h0m1.3 0h0m.1 0h0m-2.4 0h0m2.9 .6h0m-.3 0h0m-2 0h0m3 0h0m-.3 0h0m-3.2 .1h0m2.1 .1h0m-1.1 0h0m3.4 .2h0m-4.5 0h0m.1 .2h0m2 .3h0m-.9 .1h0m1 .2h0m2.6 0h0m-3.4 0h0m-1.5 .3h0m-.1 0h0m2.3 .2h0m3.3 0h0m-3.3 .1h0m-.4 .1h0m.6 0h0m-1.8 .1h0m3.5 0h0m-2.6 0h0m.1 .1h0m.4 .1h0m2.4 .1h0m-3.3 .1h0m4 .1h0m-1.4 .3h0m-1.3 0h0m-1.2 .1h0m4 0h0m-4.3 .1h0m2.7 .2h0m-.8 .2h0m2 .1h0m-2.4 .1h0m-2.7 .1h0m3.2 .1h0m1.6 .1h0m-4.5 .3h0m3.2 0h0m1.9 .1h0m-.7 .1h0m-.8 .2h0m-2.5 .2h0m.5 0h0m1.6 .1h0m1.7 .2h0m-2.8 .3h0m-.2 .2h0m1.7 .1h0m.3 .3h0m-3.1 .3h0m4.7 0h0m-3 .1h0m-.7 .1h0m1.8 0h0m.6 0h0m-2.7 .2h0m2.2 0h0m1.9 .1h0m-1.5 .2h0m.3 .2h0m.6 .9h0m-1.7 .2h0m-.9 .2h0m1.7 .3h0m1.1 .3h0m-1.2 .1h0m1 .1h0m-.5 .7h0m1 .1h0m-4.5 .2h0m-.1 .9h0m4.1 .2h0m-.1 .9h0m0 1.1h0m.9-14.5h0m2.2 2.6h0m-1.8 .9h0m-.1 .1h0m.2 .3h0m-.5 .2h0m4.3 .6h0m-3.6 .4h0m1.5 .2h0m-1.2 .4h0m3.7 0h0m-3.1 .5h0m-.7 0h0m3.5 .1h0m-2.4 .4h0m1.7 .4h0m-3.2 0h0m1.4 .2h0m-1.7 0h0m1.4 .2h0m2 .2h0m-2.7 .1h0m-.8 .2h0m1.6 0h0m3 .1h0m-3.8 .1h0m2.5 0h0m2.3 .5h0m-1.7 0h0m.2 0h0m-.6 .1h0m-2 0h0m2.1 0h0m-3.2 .1h0m-.3 .2h0m4.3 .2h0m-.5 .1h0m-.4 .2h0m-.8 .4h0m-2.7 .1h0m1.1 0h0m3.8 .1h0m-2.7 0h0m.2 .1h0m.4 0h0m0 0h0m-2.5 .1h0m1.7 0h0m-.5 .1h0m1.7 0h0m-2.1 0h0m.4 0h0m-.1 0h0m-.2 .1h0m.2 .1h0m.5 0h0m1.8 0h0m-.9 .4h0m-1.6 0h0m4.2 .1h0m-4.8 0h0m2.1 0h0m.4 .1h0m1.7 .1h0m-3.8 .5h0m.3 .1h0m.3 0h0m-.6 .2h0m2.2 0h0m-1 .3h0m2.9 .4h0m-3.4 .1h0m2.4 .1h0m1.6 .3h0m-5.3 .1h0m4.6 0h0m-.7 0h0m.9 .3h0m-5.1 .1h0m3.7 .1h0m-1.3 .1h0m-1 .9h0m-.1 .1h0m2.8 0h0m-1.2 .1h0m-1 .1h0m.2 .1h0m3.1 .3h0m-4.1 .1h0m1 .1h0m1.4 .1h0m1.1 0h0m-1.5 .1h0m-.1 .2h0m1.4 .1h0m-.3 0h0m1.3 .2h0m-.3 1h0m-2.7 .7h0m3.2 .3h0m-4.1 .3h0m4.1 .3h0m-.3 2.3h0m0 1h0m.4-15h0m1.7 1h0m-1.2 1.3h0m.9 .3h0m-.6 .7h0m.1 .2h0m.3 .2h0m-.1 .2h0m-.8 .4h0m0 0h0m1.6 0h0m-.9 .3h0m1 0h0m.4 .3h0m.2 0h0m-1.2 0h0m3.2 .2h0m-4 .2h0m0 .3h0m0 0h0m.6 .5h0m-.8 .3h0m4.5 .2h0m0 .2h0m-4.5 0h0m.6 .1h0m1.8 .1h0m-1.5 .1h0m1.6 0h0m-.6 .1h0m-1.6 .1h0m1.3 0h0m.8 .2h0m2 .4h0m-2.2 0h0m-.8 .3h0m3.1 .1h0m-1.9 0h0m-1.4 .6h0m2.2 .1h0m-.3 .3h0m-3.4 0h0m2.9 .2h0m0 .2h0m3 .1h0m-4.4 0h0m.5 0h0m1.2 .3h0m.4 .1h0m1.6 0h0m-3.9 .3h0m1.8 .1h0m-1.1 .1h0m.8 0h0m-2 .3h0m2 0h0m.4 0h0m.1 .1h0m2.6 0h0m-3.1 .1h0m.6 .2h0m-.6 .1h0m.3 .1h0m-1.5 .1h0m1.9 .1h0m2.3 0h0m-1.3 .1h0m-1.1 0h0m.7 0h0m.7 .1h0m.6 .3h0m-4.9 .2h0m3.2 .1h0m-2.8 .2h0m3.3 .5h0m.2 0h0m.1 .4h0m0 0h0m.1 0h0m-.5 .1h0m-.1 .1h0m.8 .1h0m-1 .3h0m-2.3 .1h0m2.7 0h0m.3 .5h0m1.1 .3h0m-1.6 .5h0m0 .3h0m1.8 .8h0m-1.1 .9h0m1.2 2.1h0m1.1-13.3h0m.2 1.9h0m3.2 0h0m.1 .8h0m-2.7 .5h0m-.1 .1h0m-.5 .9h0m.4 .2h0m-1.2 .2h0m0 0h0m-.1 .2h0m3.8 .1h0m-3.7 .2h0m2.8 .3h0m-.6 .1h0m.1 .1h0m2.7 .5h0m-5.2 .1h0m4 .1h0m-3.2 0h0m0 .4h0m1.4 0h0m.1 .1h0m0 .1h0m-1.1 .1h0m-.8 0h0m4 .2h0m-4 0h0m-.4 .3h0m1.1 .3h0m0 .3h0m1.7 .2h0m-1.1 .2h0m-.4 .1h0m-.2 0h0m-1.3 0h0m.2 .1h0m3.4 .1h0m-3.2 0h0m5 .1h0m-3.2 0h0m2.8 0h0m-.2 0h0m-3.1 .1h0m1.5 .3h0m-1.9 .3h0m2.8 .2h0m-.5 0h0m-3 0h0m2.1 .1h0m-1.4 .1h0m2.9 0h0m.2 0h0m-.1 .1h0m-2.8 .5h0m-1.3 0h0m2.7 0h0m3-2.5h0m.3 .5h0" stroke="#00bfc4" stroke-width="1.20" stroke-linecap="round" fill="none" opacity="0.9"/>
<path d="M68.7 29.4h0m.1 6.6h0m6.1-10.9h0m-1.5 1.1h0m1.1 .2h0m-.1 .3h0m-1.7 .4h0m1.6 .2h0m-.5 .2h0m.7 .1h0m-2.1 0h0m-.8 .2h0m-.3 .2h0m3.4 .6h0m-2.3 .7h0m1.2 .3h0m-4.3 .1h0m3.4 1h0m-1.1 .9h0m3 1h0m-.7 .2h0m-2.3 .2h0m.8 .1h0m2.6 .2h0m-3.6 .2h0m1.2 .1h0m-2.2 1.1h0m2.6 .4h0m-.2 0h0m-2.4 2.2h0m4.9-14h0m.6 2.1h0m2.1 2h0m-1.9 .3h0m-.2 .7h0m2.4 .2h0m-.3 .6h0m0 .8h0m-1.6 .3h0m2 .3h0m-1.9 .4h0m3.8 .1h0m-3.8 .6h0m4.4 .2h0m-2.9 .1h0m-2.6 0h0m.8 .2h0m1.4 .1h0m1.9 .7h0m.1 0h0m-2.7 .4h0m2.5 .3h0m-.4 0h0m-3.4 .2h0m.9 .4h0m4.1 .1h0m-4.2 .7h0m2.3 .6h0m.1 .7h0m-.4 .3h0m-.1 .2h0m1.6 .1h0m-1.6 .1h0m2.2 .4h0m-3 .9h0m2 .2h0m.3 .6h0m.7 2.6h0m-4.1 0h0m3.7 .4h0m-.2 .8h0m-.9 .6h0m3.4-18.3h0m-.4 7.1h0m4.5 .5h0m-2.7 .4h0m.2 0h0m-2.8 1.2h0m1.1 .2h0m2.9 .2h0m-2.5 .5h0m1.3 0h0m-2.1 .3h0m3.1 1h0m-3.9 0h0m4 .2h0m-2.7 .2h0m1.8 .1h0m.8 .1h0m-2.3 .1h0m-1 .2h0m1.3 .2h0m-1.1 .4h0m0 0h0m1.3 .4h0m-.8 .2h0m2.3 .1h0m0 .1h0m-.5 .5h0m2.7 0h0m-1.5 .5h0m-.3 0h0m-.9 1.4h0m2.6 .2h0m-1.8 .6h0m-.8 .8h0m1.4 0h0m-3.7 .2h0m2.6 .4h0m1.2 .3h0m-1 .1h0m0 .7h0m-2.3 .2h0m2.4 0h0m1.4 .4h0m-5 .4h0m5.8 .2h0m-.8 .5h0m.1 1.6h0m.2 1.7h0m.1 .8h0m.2 1.6h0m-.6 1.2h0m2.5-17.7h0m.2 .8h0m-.5 .5h0m-.8 .2h0m0 1.2h0m-.4 .1h0m.4 .5h0m.8 .3h0m.4 1.3h0m-.1 .2h0m-.4 .5h0m-.6 .8h0m-.6 .8h0m4 .1h0m-3.3 .3h0m5 .1h0m-3.6 1h0m-1 .5h0m3.1 .2h0m-1.7 .1h0m-.8 .5h0m2.1 .1h0m-.1 0h0m2.1 .1h0m-2.3 .1h0m-2.2 0h0m2.9 1.5h0m-1.1 .1h0m.3 .3h0m.5 .4h0m-2.2 .3h0m-1.3 0h0m.9 .2h0m3.8 .1h0m-.9 .6h0m-2.3 .3h0m-1.9 .3h0m1.3 .2h0m1.9 .2h0m-1.2 .1h0m-.5 .3h0m3.9 .1h0m-1.5 .9h0m-1.4 .1h0m2.3 1.1h0m.8 4.5h0m2.5-14.5h0m-2.1 .1h0m3.7 1.5h0m-2.3 0h0m.8 .8h0m.6 .4h0m-2.8 .3h0m2.3 .7h0m.8 .5h0m-2.1 .1h0m.9 .3h0m.9 .1h0m-2.6 .1h0m.1 .7h0m3.7 .4h0m-2 .1h0m.3 .1h0m-1.2 .4h0m2.8 .4h0m-1.9 .5h0m-1.3 .5h0m.4 0h0m-.2 .2h0m.1 .1h0m2 .3h0m-1 0h0m2.3 .1h0m-4 0h0m4.9 .1h0m-3.3 .5h0m3.3 .1h0m-1.3 .3h0m.3 .1h0m-.2 .1h0m-.3 .1h0m-.7 .1h0m.5 .2h0m-2.9 0h0m1.9 .4h0m-1.8 .1h0m-.3 .1h0m5.2 .7h0m-1.3 .2h0m-1 .1h0m-.8 .4h0m3.4 .4h0m-.2 .3h0m-3.4 0h0m3.4 .4h0m-1.1 .2h0m-1.8 .1h0m-1.9 1.4h0m4.7 .6h0m-2.3 1.7h0m1.2 0h0m-1.5 .1h0m1.4 .1h0m-.2 .3h0m-1.9 .2h0m1 .6h0m-.2 4.2h0m4.4-25.4h0m-.3 4.8h0m.4 3.5h0m.5 1.6h0m-1.3 1.4h0m-.6 1h0m2.3 .8h0m-2 0h0m1.1 .8h0m-.8 .2h0m.8 .4h0m.7 .1h0m-.5 .3h0m-1.5 0h0m2.9 .4h0m1.9 .4h0m-1.4 .2h0m.4 .3h0m-.2 .1h0m.7 .4h0m.9 .1h0m-4.3 .1h0m.6 .1h0m-.4 .1h0m4.3 .1h0m-1.8 .2h0m-1.4 .1h0m-.9 .1h0m1.9 .1h0m-2.2 .2h0m3 0h0m-3.2 .2h0m-.1 .1h0m.2 0h0m3.2 0h0m-3.5 .7h0m-.4 .3h0m4 .2h0m-.1 0h0m1 .4h0m-4.4 .1h0m4.5 .1h0m-3.1 .1h0m-1.2 .4h0m3.9 .2h0m-4.5 .1h0m.2 .3h0m2.3 .1h0m1.3 .1h0m-1.5 .4h0m1.3 .1h0m.5 .3h0m-.2 .2h0m.2 0h0m.4 .2h0m-2.2 .5h0m.3 .7h0m.2 .1h0m.8 .1h0m.5 0h0m-.3 .6h0m.8 1.1h0m-.6 .2h0m-1 .1h0m2.2 0h0m-3 .2h0m2.7 1.7h0m-1.7 2.2h0m1.6 2.6h0m4.2-23.2h0m-3.4 4.7h0m1.4 1.4h0m-.6 .7h0m.9 .1h0m2.1 .1h0m-2.2 .5h0m-1.2 .6h0m.5 1.7h0m-.4 0h0m.4 .4h0m-.3 .2h0m-.4 .4h0m2.8 1h0m2.7 .1h0m-5 0h0m3.8 .1h0m-1.4 0h0m-2.5 .1h0m-.2 .1h0m3.6 .3h0m.6 .5h0m-1.8 .3h0m.6 0h0m.8 .4h0m-3.7 .1h0m2.1 0h0m-1.9 1.7h0m4 .1h0m-2.8 .4h0m1 0h0m-2.3 .3h0m4.9 .2h0m-2.2 .2h0m-.7 0h0m.8 .2h0m2.2 .3h0m-3 .3h0m2.3 .5h0m-4.6 .3h0m3.9 .2h0m-3.2 .4h0m3.7 .3h0m-.2 0h0m-1.1 .4h0m1.2 .2h0m-1.1 .6h0m2.3-8.7h0m4.2 2.6h0m-3.2 .7h0m2.1 .1h0" stroke="#00bfc4" stroke-width="1.00" stroke-linecap="round" fill="none" opacity="0.75"/>
<path d="M73.9 24.6h0m-1 .9h0m-.3 .2h0m-1.1 .9h0m1.8 .4h0m-1.5 .8h0m2.1 .3h0m.6 .5h0m-3.2 0h0m-.4 .2h0m3.8 .5h0m0 .2h0m-.3 0h0m-.9 .2h0m1.3 1.1h0m-1.2 .5h0m.9 .1h0m-1.1 .4h0m3.5-7.6h0m-.9 1.4h0m.8 .4h0m.8 .3h0m-1.3 1.7h0m1.2 .3h0m-1.4 .6h0m.7 .9h0m.1 .3h0m1.7 .4h0m1.1 .4h0m-4.6 .4h0m2.4 0h0m-1 .3h0m.2 0h0m-1.1 .1h0m.2 .2h0m2.4 .6h0m-1.4 .2h0m-1 0h0m4.2 .1h0m-.8 .1h0m-1.3 .1h0m-1.5 .1h0m4 .4h0m-4.6 .3h0m4.7 .5h0m-1.3 .4h0m-1.2 .8h0m2.8 1.5h0m3.4-4.6h0m-.9 1.4h0m-1.2 .7h0m.6 .8h0m-.7 0h0m2.9 .1h0m-.7 .6h0m-1.6 .1h0m-.1 .3h0m1 .2h0m1.7 .1h0m-1.1 .1h0m-2.8 .2h0m-.3 0h0m3 .2h0m-.7 .1h0m3.1 .1h0m-3.1 .1h0m-1.2 .1h0m2.9 .3h0m1.6 .7h0m-.7 0h0m-2.1 .1h0m.7 .2h0m.3 0h0m-1.4 0h0m-.6 .1h0m3.2 .1h0m-1.7 .2h0m2.1 .1h0m-2.3 .1h0m1.4 .9h0m.2 .1h0m-1.3 .5h0m-.2 2.9h0m1.7 2.5h0m3-8.3h0m-1.6 .5h0m.7 0h0m-.5 .3h0m.4 1.2h0m3 .9h0m-1.5 .4h0m-1.7 .3h0m3.7 .2h0m-3.7 0h0m3.3 .6h0m-3.6 .3h0m2.6 0h0m-.4 .1h0m-1.4 .3h0m-1.1 .3h0m3 .1h0m-3 .3h0m.5 0h0m.1 .5h0m4.6 .1h0m.1 1.2h0m-.4 .3h0m-.6 .1h0m1.1 .6h0m-.4 .5h0m-.5 .4h0m1.1 0h0m-.2 .1h0m-1.5 .5h0m.1 .4h0m1.1 .9h0m1.7-6.7h0m.7 3.5h0m-.3 .7h0m-.4 0h0m-.6 .3h0m4 0h0m-3.4 .7h0m.9 .1h0m-1 .2h0m.3 .3h0m3 .2h0m-.4 .1h0m-1.4 .4h0m-1.7 0h0m3.3 .2h0m-2.5 .1h0m.2 .1h0m1.5 .1h0m-2.2 0h0m.1 0h0m3.6 .1h0m-1.1 .3h0m-2.4 .1h0m1.1 .8h0m-1.6 .1h0m3 .2h0m-.1 .3h0m1 .1h0m-2.3 .3h0m.2 0h0m1.4 .3h0m2.2 .3h0m-5.3 .3h0m2.1 .1h0m.1 .1h0m2.2 .1h0m-.9 1.4h0m-1.4 .3h0m.7 .1h0m-.2 .5h0m2.3 1.2h0m-.9 1h0m-.3 1.2h0m2.1-6.5h0m.8 .5h0m-.9 .3h0m.8 .7h0m.5 .5h0m2 0h0m-1.9 .1h0m-1.4 0h0m.3 .9h0m.8 .2h0m2.6 .3h0m-.1 0h0m-2.5 0h0m1.3 .4h0m1.9 .4h0m-1.8 .4h0m1.7 .3h0m-1.1 .1h0m-2.1 .6h0m2.3 .5h0m.1 0h0m-.1 .4h0m1.4 .2h0m-2.7 .2h0m1 .5h0m.3 0h0m-.4 .3h0m.9 .1h0m.7 .3h0m-.2 .2h0m-1.6 .1h0m1.7 0h0m-1.6 .1h0m-.1 .3h0m2.5 .1h0m0 1.1h0m-1.6 1h0m2.1-5.2h0m1.9 1.1h0m-.4 .4h0m-.4 .3h0m.6 1h0m-1 0h0m-.3 .1h0m.5 .2h0m1 .3h0m-1 .2h0m3.7 0h0m-4.7 .1h0m2.4 .3h0m-1.1 .1h0m.7 .5h0m1.7 .3h0m1.6 0h0m-2.6 .4h0m.4 .1h0m-.2 .4h0m-1 .2h0m-1.3 .1h0m4.3 0h0m-2.3 .3h0m.4 .1h0m1.3 .3h0m.6 .1h0m-3.6 .2h0m3.3 2.2h0m1.1 1.6h0m1-5.7h0m1.5 .2h0m-1.4 2h0m.1 .9h0m.7 .1h0m-1.1 .8h0m2.4 .9h0m.2 .4h0m-1.4 .1h0m1.5 .2h0m-.5 .1h0m-.4 .2h0m-.6 .2h0m-.7 0h0m1.1 .1h0m1 .3h0m2.8 .3h0m-3.2 .7h0m.9 0h0m2.2 .1h0m-.5 .1h0m-.9 .2h0m-2.2 0h0m.3 .3h0m-.7 .1h0m.6 .3h0m2.1 .1h0m-2.1 .1h0m2.9 .6h0m-.9 0h0m.7 .2h0m-.1 .1h0m.8 1.1h0m-.1 .5h0m-.4 .3h0m-2.3 .5h0m.6 .3h0m1.4 .5h0m.3 .1h0m1-6.3h0m2 .8h0m-1.6 .2h0m-.2 1h0m-.1 .3h0m.1 0h0m1 1.6h0m.1 0h0m.5 .4h0m1.5 .3h0m-.7 .2h0m-2.2 .1h0m4.1 .5h0m-2 .1h0m1.4 .2h0m1.5 .2h0m-5.2 .1h0m3.5 .2h0m-2.1 0h0m1.1 .1h0m.5 .1h0m-2.2 .3h0m.6 .6h0m2 .1h0m-2.7 .2h0m.5 .1h0m3.7 .1h0m-2.1 .1h0m.5 .4h0m-1.1 .2h0m-1.1 .5h0m.4 .2h0m2.5 .7h0m-.3 .3h0m-2.2 .3h0" stroke="#c77cff" stroke-width="1.10" stroke-linecap="round" fill="none" opacity="0.8"/>
<path d="M80.1 26.1h0m.8 .1h0m-1.4 .5h0m1 .2h0m-1.8 .9h0m-.4 0h0m.4 0h0m.1 1.9h0m3.4-5.4h0m.2 .8h0m-.2 .5h0m-.2 .2h0m1.6 .2h0m-.2 .2h0m-.7 .1h0m-1.1 .1h0m-.5 0h0m0 .1h0m3.3 0h0m.7 .2h0m1.3 0h0m-2.8 0h0m-.5 .2h0m3 .3h0m-3.2 .1h0m-.2 .2h0m1.5 .3h0m1.8 .2h0m-2 .1h0m-.6 .3h0m1.4 .1h0m-2.2 .1h0m-1 0h0m3.5 .2h0m0 .2h0m-2.2 0h0m1.5 .1h0m1 0h0m-.7 .1h0m0 0h0m.7 .5h0m.6 0h0m-2 0h0m.5 .1h0m-1 .1h0m-.1 .1h0m3.1 0h0m-1.4 .3h0m-.5 .1h0m.1 .1h0m-1.4 .3h0m3.7 .2h0m-.7 0h0m-.5 .1h0m.5 .1h0m-3.3 .1h0m3.9 .1h0m-.3 0h0m-.9 0h0m-1.6 .2h0m.2 .2h0m-.2 .2h0m.7 .1h0m-.2 .2h0m2.1 .5h0m-4.6 .3h0m3.8 .5h0m1 .3h0m-1.7 0h0m-2.5 .3h0m2.8 .9h0m2.1-8h0m.9 .4h0m.3 0h0m-1.4 .1h0m-.2 1.2h0m2.3 1.9h0m-1.1 0h0m.4 .1h0m2 0h0m-1.5 .2h0m1.6 .5h0m-3.7 .1h0m3.2 .3h0m-.4 .1h0m.9 .3h0m-1.1 0h0m-1.2 0h0m4.2 .3h0m-5.6 0h0m.2 .4h0m.5 0h0m2.2 .1h0m-.2 .1h0m-.9 0h0m-1.8 .4h0m1.8 .1h0m2.9 0h0m-3.3 .1h0m-.9 0h0m1.3 .1h0m1.7 .2h0m-1.2 0h0m.4 .2h0m-1.9 0h0m.4 .2h0m1.2 0h0m-.4 .2h0m2.1 0h0m-1.1 .1h0m-.2 0h0m.6 .2h0m1 .2h0m-1.7 0h0m.4 .1h0m1.7 0h0m.3 .1h0m-1 .2h0m-2.6 .2h0m1.8 .2h0m1.8 .1h0m.5 .2h0m-.4 .1h0m-1.1 .3h0m-3.6 .6h0m2.4 .3h0m-.5 .3h0m2.7 0h0m-2.2 .9h0m2.7 .2h0m-2 1h0m.8 0h0m1.2 1.4h0m-.4 .1h0m.9-10.1h0m-.1 .3h0m.1 2.2h0m-.3 .9h0m.2 .5h0m3.7 .1h0m0 .9h0m-2.8 .4h0m.4 0h0m.5 .3h0m2.6 .7h0m-3.2 .1h0m-.8 0h0m-.1 .1h0m3.2 .1h0m-3.2 .1h0m2.9 .5h0m-2.2 .1h0m2.7 .6h0m-1.1 .1h0m-1.9 0h0m1.9 0h0m-1.6 .1h0m2.5 .2h0m-.6 .3h0m-.7 0h0m-1.1 0h0m-1.3 .1h0m2.6 .1h0m-.8 0h0m.2 .3h0m-.6 .1h0m-1 .1h0m2.8 0h0m-.2 .1h0m-2.6 0h0m-.1 .2h0m4.2 .2h0m.4 .1h0m-1.2 0h0m1.1 .3h0m-4.6 0h0m3.8 .1h0m-.4 .1h0m1.5 0h0m.3 .2h0m-.7 .2h0m-1.8 .1h0m2.2 .1h0m-.9 .1h0m-.8 0h0m1.4 .4h0m-1.9 .1h0m-2.6 .1h0m5 .2h0m-2.4 .3h0m1.9 .3h0m-3.3 .3h0m3.1 .4h0m-1.8 0h0m2.9 .2h0m-.6 .1h0m-.2 .1h0m-1 .1h0m.9 .5h0m.4 2h0m2-9.3h0m.7 .5h0m-1.3 .7h0m-.2 .5h0m.1 .5h0m.5 0h0m2.1 .1h0m-.5 0h0m-.6 .2h0m-.8 .6h0m-.3 .1h0m.5 .2h0m.5 .5h0m-.7 .4h0m1 0h0m.9 .5h0m-3 0h0m.3 0h0m2.4 .1h0m.3 .4h0m-2.9 0h0m1.3 .1h0m.9 .1h0m-1.4 .1h0m.7 0h0m2.5 0h0m-.5 0h0m-3.6 .1h0m2.1 .3h0m1.1 .1h0m-.2 0h0m1.8 .1h0m-4.6 .2h0m2.6 .1h0m.3 .1h0m-1.5 0h0m.5 0h0m2.3 .2h0m-4 .1h0m2 0h0m0 .1h0m1.6 0h0m1.1 .1h0m-4.1 .2h0m-.5 0h0m1.4 .3h0m1.5 0h0m.9 .1h0m-3.8 .1h0m1.8 .5h0m-1.9 .3h0m.9 0h0m2.9 .3h0m-1.2 .2h0m-.4 .2h0m.4 .2h0m.8 .1h0m-.7 .2h0m3.7-5h0m-.7 .9h0" stroke="#c77cff" stroke-width="1.00" stroke-linecap="round" fill="none" opacity="0.75"/>
<path d="M74.6 21.9h0m-1.8 .2h0m-.9 .1h0m.8 0h0m.1 .1h0m-.2 .1h0m-1.1 0h0m1.1 .1h0m.2 .2h0m1.7 0h0m-2.7 .2h0m.6 .2h0m1.2 0h0m-1.5 0h0m-.1 0h0m.6 .1h0m.3 .3h0m-.2 0h0m-.5 0h0m1.8 .1h0m-1.1 .1h0m-2.2 0h0m-.1 .2h0m4.3 0h0m-3.1 .2h0m-.9 0h0m3.1 0h0m-1.2 .1h0m-1.3 0h0m2.7 .3h0m-.7 .1h0m-1.6 .1h0m1.9 0h0m-2.4 0h0m1 .1h0m.4 0h0m.8 0h0m-2.5 .2h0m1.3 0h0m-1.3 0h0m-.5 .1h0m1.4 .1h0m-1 0h0m1.6 .1h0m-2.1 0h0m2.6 .2h0m-1.8 .1h0m3.4 .2h0m-.4 0h0m-2.1 0h0m-2.1 0h0m2 0h0m.5 0h0m1.3 .1h0m-.3 .1h0m-2.1 0h0m1.3 0h0m1.7 .1h0m.5 .1h0m-4.8 0h0m3.8 .3h0m.1 0h0m-.2 .1h0m-3 0h0m3 0h0m-.1 .1h0m-1.9 .1h0m-.5 .1h0m-.3 0h0m.1 0h0m1.2 0h0m-.7 .2h0m-.7 0h0m1.7 0h0m-.4 .1h0m1 0h0m-1.9 .1h0m1.8 0h0m-2.8 0h0m4.2 0h0m-3.8 .1h0m2.3 .2h0m1 .1h0m-2.5 0h0m.3 .1h0m-1.9 .1h0m4.5 0h0m-3.1 0h0m.1 0h0m.1 .2h0m-.8 0h0m3.1 .1h0m-.6 0h0m1.4 0h0m-3.9 0h0m2.5 0h0m-1.7 .1h0m.7 .2h0m-.8 .1h0m3.3 0h0m-2.9 0h0m-1.2 0h0m4.2 .1h0m-1.3 0h0m-3.1 .1h0m2.7 0h0m-2.9 0h0m3.2 0h0m-3 0h0m.9 .1h0m.3 .1h0m3.3 .1h0m-4.9 0h0m2.8 .1h0m1.1 .1h0m.4 .1h0m-2.4 0h0m1.7 0h0m-.5 0h0m-.9 .1h0m-.5 0h0m.1 0h0m2.9 0h0m-.1 .1h0m.2 0h0m-2.8 .1h0m-.4 0h0m-1.5 0h0m2.8 .1h0m-2.8 0h0m.2 0h0m4.5 .1h0m-2.1 0h0m1.9 .1h0m.3 0h0m-1.8 .1h0m-2.3 0h0m3.4 0h0m0 .1h0m-1.3 .1h0m1.1 0h0m-3.9 .1h0m2.8 0h0m-2.5 0h0m.8 .1h0m2.7 0h0m-1.3 .1h0m1.2 0h0m1 0h0m-.3 0h0m-2.7 .1h0m-1.1 .1h0m.9 .1h0m.5 0h0m1.2 0h0m-2.4 .1h0m-.4 0h0m1.9 0h0m-.4 .2h0m2 .1h0m.4 0h0m-2.4 0h0m-1.4 .1h0m1.9 0h0m1.3 0h0m-1.4 .1h0m.5 .1h0m.5 0h0m-.1 0h0m-1.2 .1h0m-.2 0h0m-1.3 .1h0m2.3 0h0m-.6 0h0m.8 .1h0m-2.4 .1h0m3.4 0h0m-1.5 0h0m.4 .1h0m1.8 .1h0m-2.9 .1h0m2.5 0h0m-2.8 .2h0m2.9 .2h0m-1.2 0h0m1.2 0h0m-1.2 .1h0m-1 .1h0m.7 0h0m-1.3 .1h0m-.6 0h0m3.2 0h0m-.1 .1h0m-.6 .3h0m-2.2 0h0m.1 0h0m2 0h0m-1.9 .1h0m1 .2h0m1.5 0h0m-1.2 0h0m1.1 .2h0m-.9 .2h0m-.5 .4h0m1.1 0h0m-.2 .2h0m1.6-12.5h0m-.1 0h0m.4 1.2h0m-.4 .5h0m.2 .2h0m.5 .1h0m-.2 .2h0m.6 .3h0m-.3 .3h0m-.1 .2h0m.2 .4h0m-.2 .1h0m1.1 .2h0m-.3 .1h0m-.6 .1h0m0 0h0m-.1 .1h0m.9 .2h0m-.9 .2h0m-.8 .1h0m.4 .7h0m.8 0h0m-.8 .3h0m.1 .2h0m.1 0h0m-.6 .3h0m1.8 .1h0m-1.8 .2h0m1.8 .2h0m-1.5 .4h0m1.3 0h0m-.3 0h0m-1.2 0h0m1.2 .2h0m-1.2 .2h0m.1 .2h0m-.2 .1h0m.3 .4h0m1.3 0h0m-.7 .1h0m-.2 0h0m.4 0h0m.6 .1h0m-.3 0h0m-.7 .2h0m.4 .1h0m0 .6h0m-.6 .4h0m-.5 .2h0m.5 .4h0m.6 .1h0m0 .2h0m-1.1 .7h0m.2 .2h0" stroke="#c77cff" stroke-width="1.30" stroke-linecap="round" fill="none" opacity="0.9"/>
<path d="M85.9 49h0m4.2-2.6h0m2 .2h0m-2.9 .1h0m1.6 0h0m-3.6 1h0m4.6 .3h0m-3.9 .1h0m2.9 1.1h0m-3.3 .3h0m2.4 .1h0m-2.8 0h0m4.2 .1h0m-1.4 .6h0m-2.3 .3h0m4.9 .1h0m-2.6 .3h0m1.5 1.1h0m1.2 .1h0m-3.5 .1h0m2.4 .5h0m-.7 1.4h0m.1 .5h0m-1.7 .1h0m0 .6h0m3.6 4.1h0m1.8-8h0m1.3 .4h0m-.6 .6h0m1.8 1.4h0m-1.1 .2h0m2 .2h0m.9 .4h0m-2.7 .1h0m-2.7 .1h0m-.4 0h0m3 .3h0m-2.2 0h0m3.2 1.4h0m-3.1 .5h0m-1 .1h0m5.8 .1h0m-3.4 .4h0m-1.1 .2h0m3.8 .3h0m-4.3 .2h0m3.6 1h0m-.7 .5h0m-3 .2h0m4.1 .1h0m-1.5 2h0m-.1 2.5h0m3.3-11h0m-.3 1.7h0m4.1 1.3h0m-3 .3h0m-.9 .6h0m.4 .7h0m.3 .1h0m4.5 .4h0m-3 .8h0m2.6 .2h0m-1.4 .3h0m1.4 1.1h0m-1.6 .2h0m-1.4 .5h0m2.4 0h0m-.9 .4h0m-.9 .1h0m-1.8 .4h0m3.5 .2h0m-1.1 .3h0m.2 1h0m2.1 0h0m0 .1h0m-.5 .6h0m-3.6 .4h0m2.5 .5h0m-2.8 .2h0m-.5 .3h0m5.1 .5h0m-.9 .3h0m-.5 .8h0m-1.8 0h0m2.3 1.1h0m-.7 .3h0m.5 .5h0m-.8 .5h0m-1.8 1h0m4.1-8.9h0m1.1 1.7h0m2.3 .1h0m-2.1 .7h0m.5 .6h0m-1.3 .4h0m.1 .5h0m3.7 0h0m.9 .5h0m-5 .4h0m.3 .1h0m.3 .1h0m3.9 .2h0m0 .6h0m-2.9 .3h0m-1 0h0m.4 .9h0m2.8 2.7h0m-2.7 1.5h0m7.5-4h0m-1 2.2h0m2.5 .6h0m.1 .5h0m-1.3 0h0m-2.6 1h0m2.2 .3h0m-2.3 1.1h0m1.4 .2h0m-1 .1h0m1.4 .1h0m-.2 0h0m1.6 1.1h0m-.3 .4h0m-.3 .2h0m-.5 .9h0m2.2 2.1h0m-.6 .7h0m1.5 1h0m-1.3 1.9h0m1 2.4h0m1.1-14h0m.3 1.8h0m2.2 3.5h0m-.1 .6h0m1.4 .7h0m-1.9 1.7h0m-.8 .5h0m-1.1 .8h0m2.7 .1h0m-2.4 .1h0m4.4 0h0m-1.1 .2h0m-3.7 .3h0m1.1 0h0m3 .3h0m.9 .4h0m-4.8 .2h0m2.8 0h0m-1.9 .3h0m-1 .4h0m3 .4h0m-3.5 .2h0m.7 .5h0m4.8 .2h0m-.2 .2h0m-1.4 .4h0m.5 .6h0m1.7-5.5h0m.5 5.1h0m-.7 2.4h0m.1 .1h0" stroke="#00bfc4" stroke-width="0.90" stroke-linecap="round" fill="none" opacity="0.6"/>
<path d="M97.8 58.7h0m5-4.4h0m-.8 1.3h0m-2.5 1.9h0m3.9 .3h0m-1.6 .2h0m.1 .7h0m1.2 .8h0m-3.4 .4h0m.8 .3h0m-.5 .1h0m1.2 .2h0m2.3 .2h0m.9 .2h0m-1 4.9h0m3.6-6.6h0m3.2 1.9h0m-3.2 1.5h0m-.9 .2h0m3.6 .4h0m-3.7 .1h0m.1 .3h0m.1 .2h0m0 .7h0m1.4 .1h0m2.8 1.1h0m-2.2 0h0m-2.1 .5h0m0 .2h0m1.2 .1h0m1 .2h0m-1.4 .1h0m.8 .3h0m2 .2h0m.5 .1h0m-1 .3h0m.4 .2h0m-2.7 .1h0m3.7 .1h0m-3.4 .1h0m2.2 .1h0m-1.9 .1h0m.6 1.6h0m1 .1h0m-1.6 .7h0m3.6-7.7h0m.5 1.6h0m-.1 .6h0m2.3 .3h0m-.5 2.7h0m-.8 1.2h0m3.9 .6h0m-3.3 .3h0m-.7 .7h0m2.4 .4h0m-2.7 .3h0m1.5 .9h0m1.8 .2h0m-1.4 .2h0m-.7 .2h0m.8 0h0m2 .1h0m-3.4 .2h0m3.4 .6h0m.3 .5h0m-1.1 1.7h0m.2 .4h0m-.8 .4h0m-.5 1.1h0m.6 1.1h0m.4 0h0m2.3-7.6h0m3.5 2.9h0m-3.9 .3h0m3.8 .9h0m-.8 .4h0m-.1 .2h0m-.8 .1h0m1.2 1h0m-3.3 .3h0m-.1 .4h0m1.2 .1h0m1.5 .3h0m-.3 .4h0m-.4 1.2h0m3.5 .3h0m-5.1 .1h0m1.7 .5h0m.9 .1h0m3 .7h0m0 .1h0m-1.3 .1h0m.8 .1h0m-1.6 .5h0m1.7 .4h0m-.5 .3h0m.3 .3h0m-2.2 .1h0m2.8 .3h0m-4.6 .5h0m1.1 0h0m2.3 2.1h0m.8 1.3h0m.8-8.8h0m-.2 1.6h0m2.2 0h0m-.4 .7h0m-1.9 .2h0m1.6 .1h0m1 .7h0m.1 .3h0m-.6 .6h0m.7 .7h0m1.9 0h0m-2.2 .3h0m-.4 .2h0m-1.1 .1h0m2.5 .3h0m-3.3 .5h0m1.4 .8h0" stroke="#5aa0c8" stroke-width="0.90" stroke-linecap="round" fill="none" opacity="0.6"/>
<path d="M127 84.8h0m1.8 .9h0m.1 1h0m5.7-8.3h0m.4 .6h0m-.1 .6h0m-.6 .3h0m-1.3 1.3h0m1.3 .1h0m.3 .1h0m-.5 0h0m.1 .1h0m-.6 0h0m1 .1h0m.3 .5h0m-2.3 0h0m-.4 .2h0m.8 0h0m1.5 .1h0m-2.9 0h0m3.1 .2h0m-.3 .2h0m-3.1 0h0m-.1 .1h0m2.7 .2h0m-2.3 0h0m2.3 .3h0m.1 .1h0m-3.1 0h0m3 0h0m-3.2 .2h0m-1.1 .1h0m2.4 0h0m1.8 0h0m-3.5 .2h0m-.2 .3h0m3.3 0h0m-2.5 .2h0m.5 .2h0m2.2 .1h0m-3.1 0h0m-.8 .2h0m1.9 .1h0m1.4 .1h0m-1.1 .1h0m.3 .3h0m-.5 0h0m-1.8 .2h0m2.5 .1h0m-2.6 .9h0m-.3 .5h0m1.3 .2h0m-.3 .5h0m1.1 .6h0m9-15.9h0m-1.3 1h0m-1 .6h0m.7 .1h0m1.2 .2h0m-1.1 0h0m-.2 .6h0m-.5 .1h0m.4 .1h0m0 .1h0m1.6 .8h0m-1 .1h0m-1.8 0h0m2.7 0h0m-.9 0h0m.8 .1h0m-1.6 .2h0m-1.9 0h0m2.5 0h0m-1.3 .1h0m1.3 .3h0m1.3 .1h0m-4.4 .1h0m.8 .1h0m2.1 0h0m-.9 0h0m1.4 .4h0m-.8 0h0m-1.8 0h0m2.6 0h0m-.4 .1h0m-1.5 .2h0m.4 .1h0m-2.2 .3h0m1 .1h0m3.4 0h0m-.8 .1h0m-3.2 0h0m3.7 .1h0m-2.4 0h0m1.7 0h0m-3.5 .1h0m2.8 .1h0m-3.1 .1h0m2.2 .2h0m-1.8 .4h0m1.2 .3h0m2.2 0h0m-1.5 .1h0m-.3 .3h0m-1 .1h0m1.1 .4h0m0 .1h0m-1.9 .1h0m.9 .3h0m2.2 .2h0m-3.2 .6h0m.5 0h0m-.8 .5h0m1 .7h0m0 2.3h0m10.8-19.9h0m-.1 .5h0m-1.3 1.2h0m.5 .3h0m-1.6 0h0m-.8 0h0m3 .1h0m-.6 0h0m-2.4 .6h0m3.3 0h0m-2.8 .1h0m2.2 .1h0m-.5 .2h0m.1 0h0m.7 .3h0m-4.5 .4h0m1.9 .7h0m-.1 .3h0m1.1 .1h0m-3.1 .3h0m1.6 0h0m.7 .1h0m-3.2 .2h0m1.2 .3h0m2 0h0m.5 0h0m-1.6 .3h0m.3 .1h0m2.1 .1h0m-4.4 0h0m2 .1h0m-.1 .1h0m-1.1 0h0m1 .4h0m-.7 0h0m.7 0h0m3.1 0h0m-2.9 .2h0m-.3 .1h0m.5 .1h0m-1 0h0m-.3 .1h0m-.4 .1h0m-.3 0h0m-.3 .6h0m1.6 0h0m.3 .1h0m-1.3 .1h0m.2 .3h0m-.4 .1h0m1.4 0h0m.7 .1h0m-2.4 .3h0m.1 .3h0m.2 .4h0m-.4 1.6h0m.1 .2h0m11.3-21.1h0m-.1 1.9h0m-3.7 .6h0m2.2 .4h0m1.9 .4h0m-.3 .4h0m-1.9 .1h0m.9 .1h0m.6 .1h0m-1.1 .2h0m1.4 .2h0m-.5 .2h0m-.9 .4h0m-.6 .4h0m1.9 .1h0m-1.9 0h0m2 .2h0m-1.1 .2h0m.1 0h0m.6 0h0m-3.7 0h0m3 .1h0m.8 0h0m-.9 .2h0m-3.8 .1h0m3.9 .1h0m-1.2 0h0m.5 .1h0m-.6 .1h0m-2.8 0h0m1.4 .3h0m2.4 .1h0m0 0h0m-2.5 .1h0m2 .1h0m-.1 0h0m0 0h0m-1.5 .5h0m3 .2h0m-3.8 0h0m1 .1h0m2 0h0m-1.4 .1h0m.2 .1h0m-2 0h0m-.1 0h0m.8 .4h0m0 .2h0m-.4 .1h0m-.3 0h0m3.7 .1h0m-3.8 .2h0m2.8 .1h0m-2.7 0h0m2.1 .1h0m-1.3 0h0m1.9 0h0m-.7 .2h0m-2.8 .4h0m1.4 0h0m-.1 .3h0m.6 .1h0m-1.6 0h0m1.2 .2h0m2.1 .1h0m-3.4 0h0m1.4 .1h0m.7 0h0m.1 .2h0m-1.5 .5h0m-.9 .1h0m.9 .4h0m-.5 .3h0m-.4 .6h0m1.1 .4h0m-.8 .7h0m8.7-19.1h0m.4 .2h0m1.9 .2h0m0 .1h0m.3 .3h0m-1 .1h0m-.4 .2h0m.4 .1h0m.4 0h0m-.1 .3h0m-1.4 .1h0m1.7 .2h0m-.2 .1h0m.2 0h0m.7 .2h0m-2.3 0h0m-.3 .1h0m-.1 0h0m1.8 0h0m-2 .3h0m.7 .5h0m.6 0h0m-1.6 .2h0m-1.6 .3h0m1.7 .1h0m1.5 .1h0m.6 0h0m-1.1 0h0m-.5 .1h0m-.5 0h0m.5 0h0m1.1 .1h0m-2.5 .1h0m.4 0h0m-2 .1h0m.6 .2h0m4.4 .1h0m-2.2 .1h0m-.9 .1h0m2.7 .2h0m-1.1 .1h0m-1.3 .1h0m2 .1h0m-2.5 0h0m3.1 .3h0m0 .1h0m-3.5 .1h0m2.3 .1h0m-1.5 0h0m-.9 .1h0m.2 .1h0m.8 .2h0m-.4 0h0m0 0h0m.1 .2h0m-1.7 .1h0m4.8 0h0m-2.9 0h0m-.8 0h0m-.4 .5h0m1.4 .3h0m-2.5 .1h0m1 .3h0m1.7 .5h0m-2.6 .1h0m2.2 .1h0m-1.7 .1h0m1.5 .7h0m1.1 .1h0m-3.1 .3h0m.3 0h0m-.4 .2h0m0 0h0m-.2 .3h0m1.4 .7h0m-.4 0h0m.2 .3h0m-1.2 .9h0m6.6-10.8h0m-.4 .7h0m0 .9h0m-.1 1h0" stroke="#7cae00" stroke-width="1.10" stroke-linecap="round" fill="none" opacity="0.9"/>
<path d="M152.9 57.3h0m-.3 1.2h0m5.7-7.5h0m-.5 1.7h0m1.2 .2h0m-.8 .2h0m.4 .1h0m-1.3 0h0m-1.3 .1h0m2.7 .1h0m-.4 0h0m-1.7 .3h0m1.5 0h0m.3 0h0m-2.2 .2h0m1.8 0h0m-1.7 .3h0m-.1 .1h0m1.3 0h0m-.5 .1h0m1.1 .1h0m-.1 .1h0m-1.2 0h0m.7 .1h0m.3 .1h0m-.2 .1h0m-.5 .1h0m.9 0h0m-2.7 0h0m.7 0h0m-.2 .2h0m1.5 0h0m-.2 .1h0m1.3 .1h0m-1.8 .1h0m-1.1 0h0m2.2 .1h0m.4 .1h0m-.5 .4h0m-.7 .1h0m-.4 0h0m-.2 .1h0m1.6 .1h0m-3.5 0h0m.5 .1h0m.7 .2h0m1.1 .1h0m-.1 .1h0m-2.9 0h0m3.9 0h0m.5 .2h0m-2.1 0h0m.4 .1h0m-2.9 0h0m3.5 0h0m-1.9 .1h0m-.9 .1h0m1.4 0h0m1 .1h0m2.3 .2h0m-3.6 0h0m-.7 .2h0m2.3 0h0m.5 .1h0m-.5 .2h0m-2.1 .1h0m-.4 .3h0m.8 .2h0m-1.2 .2h0m3.3 .1h0m-3.1 0h0m3 .1h0m-1 .2h0m-.8 0h0m-1.4 .1h0m1.7 .1h0m.1 .1h0m-1.3 0h0m.3 .1h0m.3 .2h0m.5 0h0m.4 0h0m-.6 .2h0m.6 .1h0m-.7 .1h0m1.4 0h0m7.5-18.1h0m-1.5 1h0m-.6 .8h0m2.8 0h0m-1.1 .8h0m.9 0h0m-.1 .3h0m-.8 .2h0m-.7 .1h0m1.6 .1h0m-.4 .6h0m-1.8 0h0m0 .1h0m-.4 0h0m1.9 .1h0m-4.8 .2h0m4.3 .1h0m-.1 .1h0m-.1 .2h0m.1 .1h0m1.5 .3h0m-2.6 0h0m.8 .1h0m1.8 0h0m-2.7 .1h0m.7 0h0m-.1 0h0m-3.2 .2h0m2.5 0h0m1 .1h0m-.6 .1h0m.4 0h0m-1.6 .2h0m-1.6 .1h0m-.1 .1h0m4 .4h0m0 .1h0m-3.3 0h0m2.2 0h0m-.4 0h0m2 .1h0m-2.9 .1h0m-1.4 0h0m4 .1h0m-1.6 .1h0m1.1 .1h0m-.6 .3h0m-1.6 0h0m2.3 0h0m-2 .2h0m-.4 0h0m-1.2 0h0m1.1 .1h0m-1.1 .1h0m.4 .1h0m3.3 0h0m-1.7 0h0m-2.3 0h0m2.4 .1h0m.3 0h0m-2.3 .3h0m.6 0h0m.5 0h0m-.6 .3h0m.7 .1h0m-.4 0h0m-.6 .1h0m2.8 .3h0m-2.9 0h0m-.9 .1h0m1.6 0h0m1.1 .2h0m-1.8 .1h0m2.5 0h0m-3.1 .2h0m3.4 .1h0m-2.1 .2h0m-.9 .1h0m.2 .2h0m2.1 .1h0m-2 .1h0m-.5 .3h0m.8 .2h0m1 .2h0m-1.7 .1h0m-.3 .1h0m.3 .1h0m-.2 0h0m-.3 .3h0m1.3 .1h0m-.1 .3h0m.4 .9h0m-.2 0h0m-.4 .1h0m0 .5h0m-.5 .1h0m-.4 .3h0m10.5-27.1h0m1.2 2h0m-.7 1.4h0m.3 .1h0m-1.1 1.1h0m-.4 .4h0m.8 .1h0m-1 0h0m1.4 .4h0m.1 .3h0m.1 .3h0m.3 0h0m-2.4 0h0m2.3 .1h0m.1 .1h0m-.5 .3h0m-.3 0h0m-2 .4h0m2.8 .2h0m0 0h0m-1.4 .1h0m1.2 .1h0m-.2 .2h0m-.6 .1h0m-.3 0h0m-1.3 .2h0m2.3 .4h0m-1.9 0h0m-1.1 0h0m1 .1h0m1.3 .1h0m-.4 .1h0m-2.2 .1h0m1.1 .1h0m.3 .2h0m.8 .1h0m-1.4 .1h0m-.3 0h0m.3 0h0m-.9 .2h0m2.8 .1h0m-.4 0h0m.7 0h0m-1.6 .1h0m1.5 0h0m-2.3 .3h0m1.5 0h0m-2.4 .1h0m.8 .1h0m2.1 .1h0m-2.7 .1h0m.1 0h0m-1 0h0m2.2 .2h0m-1.4 .1h0m.7 0h0m2.9 .1h0m-2.2 .2h0m-2 .1h0m2.3 0h0m-1.7 .2h0m.3 .2h0m-1.4 .2h0m1.1 0h0m1.6 .5h0m-.6 0h0m-1.1 .1h0m.5 .1h0m-.3 .2h0m1.3 .1h0m-1.6 .1h0m-.4 0h0m.4 .1h0m1.6 .2h0m-2.7 0h0m1.6 .1h0m.7 0h0m-2.2 0h0m.6 .1h0m1.6 0h0m-1.6 .3h0m1.2 .2h0m-.9 0h0m.2 0h0m-.6 .4h0m.8 .3h0m-1.4 .2h0m-.2 .1h0m-.4 .1h0m.9 0h0m.3 0h0m-.3 0h0m1.7 .1h0m-1.7 0h0m-.7 .1h0m.8 .5h0m-.2 0h0m.1 .4h0m.1 0h0m-.4 0h0m-.1 .1h0m-.3 0h0m.5 .3h0m-.2 .7h0m1.1 .4h0m-1.7 1.4h0m.7 .1h0m8.4-22h0m.4 .3h0m-1.4 0h0m2.5 .2h0m.3 0h0m.3 0h0m-.3 .1h0m-1.8 .4h0m1.4 .1h0m.1 .1h0m0 0h0m-2.8 .1h0m1.8 .3h0m-1.1 .2h0m.2 .1h0m1.5 0h0m.3 0h0m-1.3 .1h0m1.4 .1h0m1.3 0h0m-4.1 .2h0m0 0h0m2.3 .2h0m-2.9 .1h0m2.9 .1h0m-1.8 0h0m1.5 .1h0m.7 .3h0m-2.1 .2h0m1.1 0h0m-.6 0h0m-.7 .1h0m.2 .3h0m1.4 .4h0m.2 0h0m.6 .3h0m-1.5 0h0m.7 .1h0m2.1 .3h0m-4 .1h0m.8 0h0m-1.7 0h0m2.3 0h0m1 .1h0m-2.3 .1h0m1.5 0h0m-.9 .1h0m.7 .2h0m-1.6 0h0m1.1 .1h0m-.8 0h0m.3 0h0m-.4 .1h0m.1 .2h0m.4 .1h0m-.1 .1h0m1.1 0h0m1.2 .1h0m-1.4 .1h0m-1.8 .1h0m-.3 0h0m-.1 .2h0m-.5 .1h0m.5 0h0m.9 0h0m-1.7 .2h0m1.1 0h0m-.2 .5h0m-.9 .2h0m.3 .1h0m.2 .4h0m.2 0h0m.4 .1h0m-.2 0h0m.4 .8h0m.1 0h0m-.1 0h0m0 0h0m-1.2 .2h0m1.2 .4h0m-.4 .4h0m-.6 .3h0m.1 .1h0m1.6 .4h0m-1.1 .1h0m-.6 .1h0m5.6-8.5h0m.1 .1h0m-.2 .3h0m.2 .8h0" stroke="#f8766d" stroke-width="1.10" stroke-linecap="round" fill="none" opacity="0.95"/>
<path d="M170.5 31.5h0m-.5 .8h0m1 .5h0m-.9 1h0m-.3 .9h0m.9 0h0m-1.7 .1h0m.9 .4h0m.7 0h0m-.5 .2h0m-.3 .1h0m-.2 .1h0m0 .1h0m.2 .1h0m.5 0h0m-.3 .2h0m-.6 0h0m-.5 0h0m-.5 .1h0m1.1 .1h0m-1.7 .6h0m2.5 .1h0m-2.2 .1h0m1.5 .1h0m1.1 0h0m-2.2 .1h0m1.3 .2h0m-1.6 .1h0m-1.1 .3h0m1.6 0h0m-1.4 .1h0m2.2 0h0m-1.6 .1h0m1.6 0h0m-.7 0h0m.2 .2h0m-1.2 0h0m.1 .1h0m.1 0h0m-1.2 .3h0m3 0h0m-1.1 .2h0m-.4 0h0m-1.3 0h0m1 .2h0m0 0h0m-.2 .2h0m.5 0h0m-2.7 0h0m2 .2h0m-.4 0h0m1.8 .1h0m-.2 0h0m-1.7 0h0m3.1 .2h0m-1.4 .1h0m-2.2 .2h0m1.5 0h0m-2.1 0h0m.5 0h0m2.9 .1h0m-1.5 0h0m.1 .1h0m-1.3 0h0m1.4 0h0m-.1 0h0m-2.2 .2h0m.4 .2h0m-.2 .6h0m.4 .3h0m1.1 .2h0m.2 .2h0m-.5 .2h0m8.4-15.6h0m-.6 0h0m-1 0h0m1.3 .1h0m.5 .2h0m-.7 0h0m-.6 0h0m.4 .1h0m1.8 .2h0m-.8 .3h0m-.5 .1h0m-.9 0h0m-1.3 0h0m2 .2h0m1.4 0h0m-.1 .2h0m-.2 0h0m-1.5 .1h0m.4 .2h0m-2.3 .3h0m.6 0h0m2 0h0m.8 .2h0m-3.5 0h0m3.7 0h0m-2.6 .1h0m.9 .1h0m.3 0h0m-.1 0h0m-1.4 .1h0m1 .1h0m-.3 .3h0m-1.3 0h0m0 .1h0m-.7 0h0m3.9 .2h0m-1.7 .1h0m-1 .2h0m1.8 0h0m-2.3 .1h0m.9 0h0m-1.3 .3h0m.1 .3h0m-.2 .1h0m-1.3 .1h0m1.4 0h0m1.4 .4h0m-1.2 0h0m.8 .1h0m-2.2 0h0m3.4 .3h0m-3.2 .3h0m1.1 0h0m.3 .1h0m-1.4 0h0m0 0h0m1.2 0h0m.1 .1h0m.5 .1h0m-1.2 0h0m.1 .2h0m.3 0h0m-1.2 .1h0m1.7 .1h0m-1 .1h0m0 0h0m1.8 .1h0m-1.9 .1h0m1.1 .5h0m-1.4 .2h0m.9 0h0m-.7 .3h0m-.4 .2h0m-.3 .2h0m.5 0h0m.1 .7h0m.7 .8h0" stroke="#f8766d" stroke-width="1.20" stroke-linecap="round" fill="none" opacity="0.95"/>
<path d="M152.6 55.1h0m-.2 1.6h0m-.3 1.1h0m.4 .3h0m4.9-10.7h0m.9 .4h0m-.1 .3h0m-.1 .4h0m.5 .6h0m-.4 .3h0m.6 .5h0m-.8 .3h0m-1.4 .2h0m.5 .1h0m.8 .3h0m.2 0h0m-1.3 .3h0m1.3 0h0m-.8 0h0m-.2 .1h0m0 0h0m.8 .2h0m.7 .1h0m-.9 .2h0m.1 .1h0m.4 .2h0m-2.8 .5h0m1 .1h0m-.5 .4h0m.8 0h0m-1 0h0m.6 0h0m.8 .1h0m-1.3 .2h0m-.6 .1h0m1.8 0h0m-.2 .2h0m.1 .3h0m-.8 0h0m-1.1 0h0m-.8 .1h0m2.6 .9h0m-1.4 .2h0m-1.1 .5h0m-1.1 .4h0m1.6 .4h0m-.3 .2h0m0 0h0m3.9 .1h0m-3.9 .1h0m-.7 .1h0m-.6 .1h0m-.1 .6h0m.2 0h0m2.4 .1h0m-1.3 .9h0m10-21.6h0m.3 2.8h0m-1.7 .2h0m1.9 0h0m-.2 0h0m-.1 .3h0m.3 .2h0m-.7 .5h0m.3 .2h0m-.3 .2h0m.5 .2h0m-2.5 .1h0m2.1 .2h0m-.7 .3h0m.8 .1h0m-1.5 .2h0m-1.3 .3h0m2.3 .1h0m-.1 0h0m-1.8 .2h0m.5 .1h0m.1 0h0m-1.1 0h0m-.8 .2h0m-.3 .1h0m2.3 0h0m-.1 0h0m.8 .1h0m-2.3 .3h0m2.6 .1h0m.3 0h0m-1.4 .1h0m.1 0h0m1.2 .2h0m-3.1 0h0m2 0h0m1.3 .2h0m-.3 0h0m.2 0h0m-3.2 .3h0m2.6 .4h0m-.9 .4h0m-.5 0h0m-1.4 .1h0m-.5 .2h0m1.2 .1h0m.1 .1h0m2.3 .3h0m-3.8 0h0m.1 .1h0m.3 .1h0m-.2 .1h0m1.1 .6h0m.4 .1h0m-2.1 0h0m.5 .4h0m1.2 0h0m-1.1 0h0m-.5 .5h0m1.1 .1h0m-1 .3h0m1.2 .4h0m-1.4 .3h0m1.4 .3h0m-1.4 .4h0m2.3 0h0m7.2-19.9h0m-.8 .4h0m.9 .2h0m.5 .7h0m-.3 0h0m.9 .2h0m-3.5 .2h0m3.3 0h0m-.7 0h0m1 .1h0m-.4 0h0m.6 .2h0m.2 0h0m-1.5 .1h0m.1 .1h0m-1.1 .2h0m-.7 0h0m2.2 .2h0m-1.1 .1h0m.7 0h0m.3 0h0m-1.2 0h0m1.6 .1h0m-1.4 .3h0m.6 .1h0m.2 0h0m.9 .1h0m.7 .1h0m-2.2 .3h0m.3 0h0m-2.7 .1h0m1.2 .1h0m3.2 .1h0m-1.9 0h0m-1.9 .1h0m.2 .3h0m1.9 .1h0m-1.9 .1h0m.3 0h0m.3 .4h0m1.8 .1h0m-1.5 .1h0m-2.6 0h0m2.6 .4h0m.7 .1h0m-1.9 .3h0m1.3 0h0m-.8 .1h0m-1 .2h0m-.9 .1h0m1.2 .2h0m.5 .8h0m-.3 .3h0m-.7 0h0m1.8 .1h0m-1.8 .6h0m-.4 .1h0m.6 .5h0m-.8 .1h0m-.6 0h0m1.2 .1h0m-.4 0h0m.6 .1h0m-.5 .1h0m-.8 .3h0m.4 .2h0m1.6 .1h0m1.2 0h0m-3.3 0h0m.3 .1h0m-.2 0h0m.9 .1h0m-.4 .1h0m0 .5h0m-.5 0h0m.6 .1h0m-.4 .3h0m.2 1.5h0" stroke="#7cae00" stroke-width="1.00" stroke-linecap="round" fill="none" opacity="0.85"/>
<path d="M140 68.8h0m-1.9 3.7h0m2.2 .5h0m-3.2 .6h0m3.5 .9h0m5.5-14.3h0m.6 1.2h0m-.8 .5h0m.7 .8h0m-4.1 2h0m3.7 1h0m-1.8 .3h0m-2.5 .6h0m-.6 .1h0m3.6 0h0m.2 0h0m-1.6 .3h0m-2 .1h0m5.3 .8h0m-4.2 .3h0m.8 1.6h0m-1.6 2.4h0m1.5 1.2h0m-.3 3h0m9.4-26.3h0m-1.4 4h0m-1.1 5.1h0m-2.4 .9h0m1.6 1h0m1.9 .3h0m-3.1 3.6h0m2.2 .3h0m7.9-18.9h0m-1.7 1.5h0m1.3 .4h0m-1.5 .5h0m-1.2 .8h0m2.6 .2h0m.6 .4h0m-3.9 .3h0m1.9 1.7h0m1.7 1.1h0m-3.9 .6h0m.9 0h0m1.4 1h0m-1.7 0h0m.8 .5h0m.9 .3h0m-2.3 .1h0m1.8 .1h0m-1.6 .1h0m-.4 .6h0m.7 3h0m-1.4 .5h0m0 1.9h0m9.3-25.2h0m2.4 .1h0m.1 3h0m-1.3 0h0m-.4 .1h0m-1.5 1.5h0m-.8 .3h0m.6 2.2h0m2.5 0h0m-2.6 .3h0m.7 2.5h0m-1.4 .1h0m5.9-15.6h0m.3 .5h0m2.5 1.1h0m-4.1 .5h0m3.7 .4h0m-2.2 .4h0m3.6 1.3h0m-1.9 .4h0m.2 .2h0m-2.8 .3h0m3.2 .2h0m-3.8 0h0m.5 .5h0" stroke="#00bfc4" stroke-width="0.80" stroke-linecap="round" fill="none" opacity="0.6"/>
<path d="M170.8 28.9h0m-.4 .8h0m.3 .2h0m-.1 .4h0m.3 .4h0m1.2-3.5h0m-.6 .1h0m-.4 .2h0m.6 .1h0m-.2 0h0m-.3 .4h0m1.7 .3h0m-.6 .2h0m-1.1 0h0m1.2 .7h0m.3 0h0m-.1 0h0m-.3 .1h0m-.5 .3h0m-.5 .2h0" stroke="#6a7fd0" stroke-width="1.20" stroke-linecap="round" fill="none" opacity="1.0"/>
<line x1="128.5" y1="87.5" x2="128.5" y2="106" stroke="#666" stroke-width="0.6"/>
<path d="M72 25 L128.5 87.5 Q155 62 175 26" stroke="#2a2a2a" stroke-width="0.55" fill="none" opacity="0.8"/>
<path d="M128.3 104.8h0m-.1 .4h0m-.2 .2h0m-.7 .1h0m.7 .5h0m.7 .1h0m-1.7 0h0m-.1 .1h0m1.6 0h0m.1 .3h0m-.3 .1h0m-1.2 .1h0m1.5 0h0m.1 0h0m-1.5 .3h0m-.6 0h0m1.5 .1h0m-.1 .3h0m-1 .1h0m-.3 0h0m1 0h0m-.8 .1h0m.2 .1h0m1.7 .1h0m-1.7 .1h0m1.7 .1h0m-1.3 .1h0m-.4 .2h0m1.4 0h0m-.7 .2h0m.2 .1h0m-.3 .1h0m-.4 .2h0m-.7 0h0m.7 .2h0m1.5 .1h0m-2.1 .3h0m.6 .3h0m1.3 0h0m-.9 .2h0m.8 .1h0m-.5 0h0m.2 0h0m-1.4 .1h0m.7 .1h0m1.2 .1h0m-1.2 0h0m-.8 .2h0m1 0h0m-1 .2h0m.3 0h0m.9 .1h0m-.2 0h0m.3 .2h0m.8 .2h0m-1.9 .2h0m1.2 .3h0m.5 0h0m-.4 .3h0m-1 .2h0m1.4 .1h0m-1.1 .2h0m.7 .2h0m1.5-6.3h0m0 .8h0m.5 .7h0m-.6 .1h0m-.3 .2h0m.6 0h0m-.5 .1h0m0 .1h0m.5 .1h0m0 .1h0m0 .1h0m.3 .2h0m-.2 .1h0m0 .7h0m-1 .2h0m.1 .3h0m-.1 .1h0m.7 0h0m-.4 .1h0m.8 .1h0m-.9 0h0m.2 .3h0m.3 .1h0m0 .6h0m-.4 .7h0m0 .3h0m-.2 .2h0" stroke="#00bfc4" stroke-width="1.20" stroke-linecap="round" fill="none" opacity="1.0"/>
<path d="M128.3 108.6h0m-.1 .2h0m0 .1h0m.4 .1h0m-1 0h0m.6 .3h0m-.6 0h0m0 .2h0m-.5 .3h0m-.2 0h0m1.2 0h0m-.2 .1h0m-1.5 .2h0m1.8 .1h0m-.5 .1h0m.1 0h0m-.3 .4h0m1 .2h0m-1.4 0h0m1.3 .3h0m.3 0h0m-1.4 .1h0m1 0h0m-1.1 .8h0m1 0h0m-.3 .1h0m1 .2h0m-1.4 0h0m.1 .2h0m.1 0h0m-.3 .1h0m.1 .1h0m0 .1h0m.3 0h0m.5 .1h0m-.4 .1h0m-.3 .3h0m1.7-4.1h0m-.2 .5h0m-.1 0h0m.5 .1h0m0 0h0m0 .7h0m-.4 0h0m.1 .5h0m.3 .3h0m-.5 .2h0m.6 .1h0m-.1 .1h0m-.5 .9h0" stroke="#7cae00" stroke-width="1.20" stroke-linecap="round" fill="none" opacity="1.0"/>
<path d="M131 87.9h0m-.7 .1h0m-.3 .2h0m-.2 .2h0m1.2 .2h0m.1 0h0m-1.5 .4h0m.6 .1h0m-.2 .1h0m1.1 .1h0m.8 .2h0m-.1 .3h0m-1.1 .4h0m0 .5h0m-.1 .2h0m.2 .3h0m.9 .1h0m-.3 0h0m-.8 .7h0m-.7 0h0" stroke="#7cae00" stroke-width="1.20" stroke-linecap="round" fill="none" opacity="1.0"/>
<text x="77.4" y="20.8" font-size="9.1" fill="#222">Day 10</text>
<text x="175.2" y="22" font-size="9.1" fill="#222">Day 0</text>
<text x="127.8" y="62.4" font-size="9.1" fill="#222">Day 2</text>
<text x="89.7" y="91" font-size="9.1" fill="#222">Day 4</text>
<circle cx="190.4" cy="49.2" r="1.2" fill="#f8766d"/>
<text x="192.9" y="51.7" font-size="8.9" fill="#222">Day 0</text>
<circle cx="190.4" cy="57.5" r="1.2" fill="#7cae00"/>
<text x="192.9" y="60" font-size="8.9" fill="#222">Day 2</text>
<circle cx="190.4" cy="65.7" r="1.2" fill="#00bfc4"/>
<text x="192.9" y="68.2" font-size="8.9" fill="#222">Day 4</text>
<circle cx="190.4" cy="73.9" r="1.2" fill="#c77cff"/>
<text x="192.9" y="76.5" font-size="8.9" fill="#222">Day 10</text>
<line x1="274.3" y1="14" x2="274.3" y2="120.1" stroke="#3a3a3a" stroke-width="0.8"/>
<line x1="272.3" y1="21.1" x2="274.3" y2="21.1" stroke="#3a3a3a" stroke-width="0.7"/>
<text x="271.1" y="24.3" font-size="9.2" text-anchor="end" fill="#333">5</text>
<line x1="272.3" y1="52.8" x2="274.3" y2="52.8" stroke="#3a3a3a" stroke-width="0.7"/>
<text x="271.1" y="56" font-size="9.2" text-anchor="end" fill="#333">0</text>
<line x1="272.3" y1="85" x2="274.3" y2="85" stroke="#3a3a3a" stroke-width="0.7"/>
<text x="271.1" y="88.2" font-size="9.2" text-anchor="end" fill="#333">-5</text>
<line x1="272.3" y1="117" x2="274.3" y2="117" stroke="#3a3a3a" stroke-width="0.7"/>
<text x="271.1" y="120.2" font-size="9.2" text-anchor="end" fill="#333">-10</text>
<line x1="274.3" y1="120.1" x2="386.5" y2="120.1" stroke="#3a3a3a" stroke-width="0.8"/>
<line x1="303.7" y1="120.1" x2="303.7" y2="122.1" stroke="#3a3a3a" stroke-width="0.7"/>
<text x="303.7" y="131.8" font-size="9.2" text-anchor="middle" fill="#333">-10</text>
<line x1="329.7" y1="120.1" x2="329.7" y2="122.1" stroke="#3a3a3a" stroke-width="0.7"/>
<text x="329.7" y="131.8" font-size="9.2" text-anchor="middle" fill="#333">0</text>
<line x1="368" y1="120.1" x2="368" y2="122.1" stroke="#3a3a3a" stroke-width="0.7"/>
<text x="368" y="131.8" font-size="9.2" text-anchor="middle" fill="#333">10</text>
<text x="334.5" y="142.6" font-size="9.2" text-anchor="middle" fill="#222">Component 1</text>
<text x="0" y="0" transform="translate(250.5,68) rotate(-90)" font-size="9.2" text-anchor="middle" fill="#222" dominant-baseline="middle">Component 2</text>
<text x="313.5" y="14" font-size="9.1" text-anchor="middle" fill="#222">CardioMyocytes</text>
<path d="M278.3 29.1h0m.4 .2h0m-.1 .1h0m-.6 .4h0m.8 .3h0m-1.5 1.2h0m6.5-6.9h0m.9 1.7h0m-2.3 .7h0m-2.2 .5h0m3.9 0h0m-.3 .5h0m-2.2 .1h0m-2 .1h0m2.8 .2h0m-2.7 0h0m2.4 .3h0m-1.2 .3h0m-1.2 .2h0m.4 0h0m2.2 .1h0m-3 .1h0m1.2 0h0m-.2 .1h0m-1.2 .1h0m2.1 .1h0m.2 .2h0m1 0h0m0 0h0m-.7 .4h0m.1 .3h0m-1.3 .1h0m-.4 .5h0m-.4 .2h0m5.2 .1h0m-2 .1h0m-.4 0h0m-2.8 .1h0m5.1 0h0m.1 .1h0m-2.1 0h0m-3.1 .1h0m.6 .2h0m4.3 .1h0m-2.6 0h0m.8 0h0m-1.4 .3h0m-.6 .1h0m3.9 .3h0m.2 0h0m-4.7 .1h0m2.5 .2h0m-.7 .1h0m2.4 0h0m-.4 .1h0m-2.8 .4h0m.8 0h0m1.5 .1h0m-.9 .1h0m1 .1h0m-.2 .2h0m.7 0h0m.4 1.4h0m-1 .9h0m-1.8 0h0m2.1 .3h0m1 .4h0m-2 1.2h0m0 .1h0m2.7-9.8h0m-.2 .7h0m0 .1h0m.3 1.3h0m.8 .6h0m-.5 .2h0m2.5 .1h0m-2.8 .3h0m3 .9h0m-1.5 .4h0m-.4 0h0m1 .1h0m-2.3 .1h0m-.3 .6h0m4.1 0h0m-1 .1h0m-.9 .1h0m-2.2 .1h0m2.5 .2h0m-1.6 .1h0m0 .2h0m1.1 .1h0m1.4 0h0m.2 .3h0m1.3 .2h0m-2.7 .5h0m.1 0h0m-1.5 0h0m.8 .3h0m.6 .2h0m2.9 .1h0m-2.8 0h0m1 .2h0m2.3 .1h0m-.9 .2h0m1 0h0m-2.8 .3h0m-3 0h0m5.5 0h0m-2.5 .2h0m-2.9 0h0m3.8 .1h0m1.1 .2h0m-.9 .1h0m.1 .1h0m.2 .1h0m.5 0h0m.1 .2h0m-2.9 .1h0m2.7 .3h0m-2.7 .2h0m1.3 .3h0m1.1 .1h0m0 .1h0m1.2 .3h0m-.6 .4h0m-3.1 .1h0m.4 0h0m-1.4 0h0m3.1 .4h0m-.8 .4h0m-.3 0h0m-2.6 .1h0m4.8 .5h0m-3.3 .3h0m2.7 .4h0m-2 .6h0m4.5-7.4h0m0 .1h0m3.3 .8h0m-4 .5h0m5 .9h0m-3.7 .4h0m3.1 .3h0m-3.6 .4h0m-.3 .1h0m1.7 .7h0m-1.2 .2h0m-.8 .4h0m2.3 .2h0m-2.6 0h0m5.5 .1h0m-5 .9h0m.2 .2h0m.9 0h0m3.8 .3h0m-3.2 .1h0m-1 .6h0m2.1 .1h0m1.5 .1h0m-5 0h0m3.9 .4h0m.6 0h0m-3.3 0h0m2.1 .1h0m1.1 0h0m-4.2 .1h0m2.2 .1h0m-.2 .2h0m-.6 0h0m1.4 0h0m-.5 .1h0m-1.4 0h0m.4 .2h0m4.3 0h0m-1.4 .1h0m.2 .1h0m1.1 .6h0m-1.4 .3h0m1.2 .1h0m-.5 .1h0m-3 .1h0m-.4 .1h0m-.5 0h0m-.8 .1h0m1 .2h0m.4 0h0m1.1 0h0m2.8 .1h0m-3.8 .3h0m.4 .2h0m2.9 0h0m-.3 0h0m-.6 .3h0m.7 .8h0m-.7 0h0m-2.2 .1h0m1.6 .2h0m-1.2 1.3h0m3.2 .1h0m-.3 .4h0m-1.7 1.5h0m-1.1 .2h0m1.3 .6h0m-.5 .1h0m1.7 .8h0m.7 2.2h0m.4-14h0m.5 .6h0m1 1.7h0m1.7 .4h0m-3 .5h0m.9 .3h0m-.6 .2h0m.8 .1h0m1.9 0h0m-3.4 .8h0m.8 .1h0m.1 .1h0m2.6 .3h0m-3.1 .1h0m1.7 .2h0m.1 .2h0m-1.9 .2h0m0 .2h0m-.2 .2h0m.1 0h0m1.8 .2h0m-.1 .1h0m-1.7 .5h0m.4 .5h0m1.9 .1h0m3.2 0h0m-2.7 .4h0m-1.3 .1h0m1.8 .1h0m-.9 .2h0m.8 .2h0m.6 .1h0m-1.8 .1h0m-1.8 0h0m1.9 .2h0m2.4 0h0m-1.2 .1h0m-2 .2h0m-1.4 .1h0m2.7 .1h0m-2.6 0h0m4.8 .3h0m-2.2 0h0m1.2 0h0m-4 .1h0m5.8 .5h0m-4 .1h0m-1.7 .3h0m1 .1h0m2.8 0h0m1.2 0h0m.2 0h0m.5 .1h0m-4.4 0h0m-.1 .1h0m1.9 .3h0m-2.4 0h0m4.3 0h0m.9 .2h0m-5.8 .8h0m1 0h0m2.3 .1h0m1.1 0h0m1.3 .2h0m-2.3 .2h0m1.6 .2h0m-3.7 .5h0m2.4 .2h0m-.2 0h0m-.3 .2h0m-1.6 .3h0m2.7 .5h0m.2 1h0m.7 1.4h0m-1 .5h0m-1.4 1h0m5.8-11.2h0m-2.1 .5h0m1.4 1h0m2.8 0h0m-4 1.5h0m-.3 .1h0m1 .8h0m4 .1h0m-1.7 0h0m1.6 .6h0m-4.3 .3h0m-1 .1h0m2.8 .2h0m-1.4 .4h0m2.3 .2h0m-1.8 .1h0m-1.3 .1h0m-.3 0h0m2.5 .1h0m1.2 0h0m-3.1 .1h0m.1 0h0m2.1 .1h0m-1.3 .1h0m.1 .1h0m.7 .6h0m.9 0h0m-2.4 0h0m4.6 .1h0m-3.1 .1h0m-1.9 .5h0m2.9 .1h0m1.1 .1h0m-.1 0h0m-2.7 .1h0m-.7 0h0m4 .3h0m-.9 0h0m-2.5 .8h0m2 .1h0m-1.8 0h0m2.5 .2h0m1 0h0m-1.2 .1h0m1.2 .6h0m-2.7 .1h0m-1.7 .2h0m-.8 0h0m2.6 .1h0m1.9 0h0m-2.2 0h0m2.8 .3h0m-2 .1h0m1.4 .1h0m-1 0h0m-1.2 0h0m.4 .1h0m-2.3 .1h0m3.7 0h0m-2.8 .1h0m3.1 .1h0m-3.8 0h0m2.8 .4h0m1.2 .1h0m-.8 .1h0m1.5 .1h0m-.5 .1h0m-1.5 .5h0m2.1 0h0m-5.6 .2h0m3.1 .3h0m-.1 0h0m-1.9 .5h0m1.4 .1h0m3.1 .9h0m-1.8 .7h0m1.1 .5h0m.6 0h0m-2.3 2.3h0m2.4 .7h0m-2.9 1.1h0m4.6-13.9h0m-1.2 .4h0m1.2 1.2h0m3.2 .8h0m-2.7 .5h0m-1.8 .6h0m.5 1.2h0m1.8 .1h0m-.7 .3h0m-.8 .1h0m2.7 .6h0m-2.6 .3h0m2.6 .1h0m-1.5 .1h0m1.3 .5h0m-3.6 .2h0m1.4 .1h0m2.2 .2h0m-1.6 .3h0m2.2 .4h0m-1.7 .2h0m1.8 .1h0m-4.1 .1h0m3.5 .2h0m-1.3 .1h0m2.1 .1h0m-2.6 .1h0m.1 0h0m-.6 .1h0m-.2 .2h0m1.5 .1h0m-.6 .1h0m-1.9 .4h0m4.5 .1h0m-1.6 0h0m-1.1 .2h0m4 .3h0m-5.4 0h0m1.6 .1h0m2 .3h0m.8 0h0m-1.2 .1h0m.2 .2h0m1.5 0h0m-.8 .5h0m.2 .1h0m1 .1h0m-2 0h0m2 .2h0m-1.7 .9h0m1.1 .2h0m0 0h0m-.2 .9h0m-1.9 0h0m1.7 .1h0m-.5 .2h0m0 .2h0m-2.7 .6h0m3 1.1h0m-1.4 .1h0m2.3 1.4h0m-.1 .8h0m-.5 .6h0m1.6-13h0m-.3 1.4h0m1.5 2h0m-1.3 .3h0m.1 .3h0m1.2 .1h0m.1 .6h0m-1.2 .9h0m0 .1h0m-.5 .7h0m2.2 .1h0m-1.6 .5h0m-.5 0h0m4.8 .1h0m-3.7 .2h0m2.3 0h0m-.5 .1h0m-1.1 .3h0m1.2 .1h0m-2.1 0h0m2 0h0m.2 .2h0m-.1 0h0m.7 .5h0m.4 0h0m-.7 .1h0m-1.4 .2h0m1.2 0h0m-3.2 .1h0m.5 .1h0m1 0h0m-.3 .1h0m.7 .1h0m-1.1 .1h0m2.2 .2h0m-2.6 0h0m1.1 .2h0m-1.1 .3h0m.7 .1h0m1.8 .2h0m-.7 .2h0m3 .2h0m-.4 .1h0m.8 .1h0m-1 0h0m-4.4 0h0m3.4 .4h0m1.3 .1h0m-1.2 .1h0m-2.5 0h0m.8 .2h0m2.7 .3h0m-1.4 .1h0m-2.1 .2h0m1.3 0h0m1.9 .1h0m-.4 .2h0m-2 .1h0m2.9 .2h0m-1.9 .2h0m2.3 .1h0m-3 .1h0m2 0h0m-.7 .3h0m-.1 0h0m.5 .2h0m1.3 .1h0m-.1 .6h0m-4.6 .3h0m4 .3h0m-.6 .7h0m.8 .5h0m-.3 .2h0m-3.1 .9h0m2.4 .2h0m2.3-12.7h0m0 2.9h0m.7 1.6h0m1.9 .6h0m-2.1 1.2h0m2.3 .2h0m-.4 .2h0m-2 .3h0m1.3 .1h0m1.6 .1h0m-1.1 .5h0m1.7 .1h0m.8 .1h0m-4.8 .1h0m3.3 0h0m-.7 .4h0m-.5 .1h0m.3 0h0m1.3 .2h0m-3.6 .3h0m3.3 0h0m-3 .2h0m-.3 .2h0m1.9 .2h0m-.3 .3h0m3.1 .5h0m-4.8 0h0m1.4 .1h0m1.6 0h0m-2 .1h0m1.4 .1h0m.7 0h0m-3.4 .4h0m5.7 .1h0m-3.2 0h0m-2.1 .1h0m3.5 0h0m-3.5 .2h0m2.4 .3h0m-.7 0h0m1.8 0h0m1.8 .3h0m-2.9 .1h0m2.7 .2h0m-.3 .1h0m-3.7 0h0m3.8 0h0m.4 0h0m-4.4 0h0m2.2 .1h0m-1.9 .8h0m.3 .2h0m1.6 .1h0m.6 .1h0m.2 .2h0m-1.6 0h0m.7 .3h0m2.6 0h0m-.4 .1h0m-4 .2h0m3.6 .8h0m-1.5 .3h0m.4 .2h0m-.7 0h0m2 .4h0m-2.1 .5h0m2 .2h0m-2.2 .7h0m1.5 .3h0m.8 .5h0m-1.2 .1h0m1.3 .4h0m0 .7h0m-.1 1.6h0m3.9-11.7h0m-1.6 1.2h0m2.2 .5h0m-3.3 .2h0m1.4 .5h0m2.7 .2h0m-1.9 .7h0m.6 .4h0m2.1 1.3h0m-1.8 .2h0m-2.7 .1h0m1.5 .1h0m-2.2 .3h0m1.2 .1h0m0 .2h0m-1.3 .2h0m1.7 .3h0m-1.1 .1h0m1 .1h0m-.8 0h0m1.7 .3h0m-1.6 .5h0m-.2 .2h0m1 .2h0m-1.8 .2h0m.8 .1h0m-.3 .1h0m4.6 .1h0m0 0h0m.5 .2h0m-2.2 .1h0m-.7 0h0m-1.5 .3h0m3.7 .1h0m-2.8 .1h0m-1.1 0h0m2.2 .2h0m-.3 .2h0m2.5 .1h0m0 .6h0m-2.8 0h0m.9 0h0m.3 0h0m1.5 .1h0m-3.6 .1h0m4.1 .4h0m-1.3 .2h0m-.2 .1h0m.4 .1h0m-3.2 0h0m2.1 0h0m-1.3 .1h0m2.2 .1h0m-.6 .1h0m1.3 0h0m-1.8 0h0m.1 .7h0m-.2 0h0m-.2 .3h0m1.7 .4h0m-1.7 .2h0m4.3-8h0m-1.4 2.1h0m1.2 .1h0m-.6 .8h0m.9 .7h0m-.4 .3h0m-.7 .2h0m.7 0h0m-1.1 .2h0m2.6 .3h0m-2.5 .3h0m0 .1h0m.8 .9h0m.4 .1h0" stroke="#f8766d" stroke-width="1.20" stroke-linecap="round" fill="none" opacity="0.85"/>
<path d="M278.8 28.9h0m-.8 .1h0m.9 .5h0m-.1 .5h0m2.6-3h0m-.7 .5h0m.5 .5h0m1.3 .4h0m-.1 0h0m.5 .5h0m-2.1 .6h0m.6 0h0m-.7 .4h0m2.7 0h0m-.5 .1h0m-2.6 .3h0m1.3 .1h0m.6 .4h0m.5 .2h0m.6 .6h0m-4.2 0h0m2.2 0h0m2.1 .1h0m-.3 .2h0m-1.6 .2h0m1.9 .1h0m-3.5 0h0m3.6 .1h0m1 0h0m-5.3 .1h0m3.1 0h0m.4 0h0m1.5 .2h0m-2.7 .1h0m-.9 .3h0m1.2 .4h0m.8 .1h0m.9 0h0m.6 .1h0m-3.6 .1h0m2.2 0h0m1.1 .1h0m-1.7 .5h0m1.6 .2h0m1.2 .1h0m-3.4 .1h0m1.6 1.4h0m.2 .8h0m1.2 .6h0m-.5 1.1h0m1.2-7.5h0m.1 .1h0m-.1 .9h0m-.1 .3h0m1 .1h0m1.1 .3h0m-.1 .4h0m.4 .2h0m2.4 0h0m-3 .3h0m-.3 .5h0m2.3 0h0m-2.6 .1h0m1 .9h0m-2 .1h0m-.1 .2h0m1.7 .4h0m-.7 .5h0m-.8 .1h0m3.2 .4h0m.7 .1h0m-.8 .1h0m-1.4 .1h0m-.5 0h0m-.9 .7h0m2.2 0h0m2.5 .1h0m-1.9 .1h0m-.9 .1h0m1.6 .3h0m-.5 .1h0m1.5 .2h0m0 .5h0m-3.2 .5h0m3.7 .1h0m-2.7 .5h0m2.5 .4h0m.1 .9h0m-1.1 .3h0m-.6 .7h0m2.8-6.1h0m3 2.7h0m-1 .2h0m.6 .6h0m1.2 .4h0m-2.3 .1h0m.1 1h0m2 .2h0m-2.5 .2h0m1.6 .3h0m-1.3 .1h0m-1.3 .1h0m2.2 0h0m.5 .2h0m-.5 .1h0m1 .3h0m1.6 .1h0m-2.8 .5h0m1.2 .2h0m-1.6 0h0m0 .4h0m-.7 .6h0m2.2 0h0m-.7 .4h0m.7 .1h0m-1.9 .2h0m1.5 .2h0m-1.9 .3h0m1.5 .2h0m2.5 .3h0m-1.6 .9h0m.8 .2h0m-.9 .2h0m.7 0h0m1.1 .7h0m-.8 .7h0m.3 .1h0m.1 .3h0m.6 .6h0m-5.1 .4h0m5 1h0m-.7 .2h0m.2 1.9h0m2.1-9.5h0m-.1 1.1h0m.2 .3h0m.4 1.2h0m-1 .1h0m.8 .1h0m2.5 1.1h0m-2 0h0m-1.3 .5h0m4.6 .1h0m-3.6 .2h0m-1.6 0h0m2.5 .3h0m-1.9 .1h0m1.9 .5h0m-1.5 0h0m.6 .3h0m2.4 .2h0m-.7 .4h0m.4 .2h0m-3.8 .2h0m4.2 0h0m-.2 .1h0m.5 .1h0m-.4 0h0m-.1 0h0m1.6 .1h0m-.8 0h0m-2.4 .3h0m1.2 .5h0m2.2 .2h0m-5.9 .1h0m3.7 .2h0m.4 0h0m1.4 1h0m-.1 2.1h0m-4.5 .1h0m1.3 .1h0m3.4 .5h0m-.5 .6h0m-3.5 1.1h0m4.1 0h0m3.1-11h0m-.3 5h0m-1 .8h0m-1.1 .5h0m-.2 .5h0m3.5 .5h0m-2.5 .1h0m2.7 0h0m-1.3 1h0m-2.2 .2h0m-.2 0h0m-.2 .1h0m1.3 .1h0m-1.2 .1h0m4 0h0m-2.2 .3h0m1.2 .3h0m-2.6 0h0m1.8 .7h0m-.8 .2h0m1.6 .1h0m2.3 .5h0m-3.3 .3h0m1.4 .2h0m0 .2h0m1.4 .3h0m-2.4 0h0m-.5 .1h0m1.5 .1h0m.6 .1h0m1.5 0h0m-.8 .6h0m-4 .1h0m5 .2h0m-1.4 .1h0m-1.5 .2h0m1.1 .5h0m-2.1 .3h0m.6 .5h0m.6 .3h0m2.2 1.2h0m-.6 .2h0m.6 .2h0m-.9 0h0m1.1 .5h0m-2.4 2h0m4.8-9.6h0m-.7 1.6h0m3.7 .1h0m-2.9 .1h0m0 .9h0m.8 .7h0m-1.9 .4h0m-.6 0h0m1.2 0h0m-.7 .7h0m1.2 .1h0m-.7 0h0m1.7 .4h0m-1 .3h0m-1.5 .1h0m4.9 .1h0m-4.5 .1h0m-1 .2h0m3.8 .2h0m-2.9 .1h0m.5 0h0m.4 .2h0m2 .1h0m-1.2 0h0m.2 .2h0m-1.1 .1h0m.1 .2h0m1.4 .2h0m-.2 .2h0m.5 1.1h0m2 .1h0m-2.2 .3h0m-1 .5h0m.3 .1h0m1.3 .4h0m1.8 .1h0m-2 .2h0m-3.6 0h0m5.4 .7h0m-2.3 .2h0m2.5 .3h0m-.9 .7h0m-1.5 .1h0m-.7 .1h0m1.8 2.5h0m2.3-7.9h0m-.4 .6h0m2.5 .5h0m-1.6 1.3h0m-.6 .5h0m2.5 .2h0m-2.2 .5h0m.4 .2h0m-1 .1h0m1.1 1.4h0m.6 .1h0m3.5 0h0m-1.6 .2h0m-2.4 0h0m1.1 .2h0m2.1 .1h0m-3.9 0h0m2.4 .6h0m1 .3h0m-2.6 0h0m-.4 .2h0m3 .1h0m-4.1 .1h0m2.3 .2h0m1.4 0h0m-2.3 .6h0m-.5 0h0m.5 0h0m3 0h0m.9 0h0m.1 .2h0m-3.3 .2h0m2.3 .7h0m-.7 .5h0m.9 .1h0m1.1 .1h0m-.8 .3h0m.1 .2h0m-2 .3h0m1.9 0h0m-.3 .5h0m-1.8 .1h0m1.5 .5h0m.2 .1h0m.4 .3h0m.4 .2h0m-1.7 .5h0m.8 .1h0m.9 1.2h0m1-11h0m-.4 2.5h0m0 .1h0m1 1.8h0m.2 2.2h0m4.4 0h0m-1.8 .5h0m-3.5 .2h0m-.3 .2h0m4.3 .2h0m-2 .8h0m2.4 .1h0m-1.8 0h0m1.6 .7h0m-1.5 .3h0m-.7 .3h0m-.4 .3h0m-1.7 .1h0m2.3 0h0m-1.8 .2h0m-.4 .1h0m4.9 .7h0m.2 0h0m.1 .1h0m-2.9 .1h0m-.2 .1h0m-.1 .8h0m.6 0h0m-2.5 .1h0m4.4 .3h0m-2 .3h0m2.8 .3h0m-1.1 .1h0m-1.2 0h0m1.4 .4h0m1.2 0h0m-2.6 .2h0m-.2 .2h0m2.6 .5h0m-3.4 .4h0m1.7 .1h0m.4 .2h0m-.4 1h0m.6 .3h0m1 .3h0m-1 2.2h0m1.6-8.4h0m1 .3h0m1.3 .1h0m1 .3h0m-3.4 1.1h0m1.5 0h0m2.6 .4h0m-2.9 .3h0m-1.2 .1h0m1.5 .1h0m-1.5 .2h0m0 .1h0m1.8 .3h0m.8 .2h0m2.7 .1h0m-2.5 .5h0m-1.4 .1h0m3.3 .1h0m-2.2 .1h0m-1.7 .1h0m2.3 .1h0m1 0h0m-3.7 .1h0m2.8 .2h0m-1.5 0h0m.1 .1h0m1.2 .2h0m1.4 .4h0m-3.1 .1h0m3.5 .1h0m-.5 0h0m-1 .2h0m-3 .3h0m1.2 .1h0m.9 .1h0m.2 .3h0m-1.3 0h0m-.2 .1h0m1.6 0h0m-1.5 .8h0m.4 0h0m3.5 .2h0m-2.2 .3h0m.2 0h0m-2.1 .1h0m1 0h0m2.2 .1h0m-2.2 .1h0m2.6 0h0m-2.1 .2h0m1.5 .1h0m-2.4 .4h0m2.8 .9h0m-.4 .9h0m.4 .4h0m-1.4 1.1h0m5.5-6.4h0m-2.4 1.2h0m.4 1.5h0" stroke="#d39200" stroke-width="1.10" stroke-linecap="round" fill="none" opacity="0.8"/>
<path d="M277.7 30.4h0m-.5 .1h0m6.3-4h0m-1.6 .2h0m-.5 .3h0m-.4 1.1h0m-.8 .1h0m-1 .5h0m5.6 1h0m-4.5 .6h0m2.2 .2h0m-.6 .2h0m-1.9 .7h0m4 .6h0m-.7 0h0m1.6 .1h0m-1.9 1.7h0m-.7 .3h0m.6 .5h0m.2 .5h0m5.6-4.7h0m-2.1 .3h0m-.2 .4h0m-.9 .8h0m3.8 .9h0m-4 .4h0m3.8 .3h0m-1.4 1h0m2.8 .3h0m-.9 .2h0m-2.5 .1h0m1.8 .4h0m-2.8 .1h0m1.7 .2h0m3.2 .3h0m-5.4 0h0m.5 .5h0m.7 .2h0m3.3 .1h0m-1.9 .9h0m2.1 .2h0m-3.1 .5h0m-1.6 .2h0m4.5 1.1h0m.4 0h0m-.6 .2h0m.5 .6h0m-1 .5h0m-1 .8h0m5.3-6.1h0m-.7 1.4h0m-.9 .6h0m.5 .1h0m.7 .5h0m-1.4 .4h0m2.9 .1h0m-.9 .7h0m-1.9 .3h0m-.9 .2h0m1.3 0h0m.9 .8h0m-2.2 .1h0m5.2 .4h0m-2.6 1.7h0m-2.5 .6h0m1.7 .1h0m1.7 .4h0m.4 .1h0m.8 .9h0m1.1 1.3h0m-2.9 1.7h0m2.9 2.5h0m1.4-9h0m-1.2 2h0m-.1 .5h0m.6 .1h0m1.6 1.8h0m-1.2 1.7h0m3.2 .1h0m1.4 .5h0m-4.2 .2h0m-.9 .9h0m0 .3h0m5.4 .1h0m-5.1 0h0m4.2 .7h0m-1.2 .2h0m1.7 .2h0m-.1 1h0m.2 2.2h0m-3.1 .1h0m3 0h0m-.6 .2h0m2.9-4h0m-1.7 .6h0m2.5 .6h0m-1.4 .2h0m-.7 .7h0m.8 .5h0m.9 0h0m1.9 .3h0m-2.2 .4h0m-.5 1.3h0m.3 .1h0m1.2 .2h0m-1.7 .3h0m2 .4h0m-.9 .4h0m.6 .4h0m-.3 0h0m3.3 .3h0m-3.7 .1h0m.7 .3h0m1.7 .3h0m.3 3.2h0m-2 0h0m2.9 .1h0m-3.5 .3h0m6.3-5h0m-1.9 1.4h0m1 0h0m-1.1 .5h0m-.4 1.7h0m1.2 .1h0m.2 .1h0m1.3 .9h0m1.2 .4h0m-3.2 .1h0m1.1 .1h0m1.1 0h0m.6 .8h0m2 .2h0m-1.3 1h0m1.5 0h0m-2.5 .2h0m-1.8 .3h0m3.8 .4h0m-1.6 .7h0m-.6 1h0m-.7 .9h0m2.7 .8h0m.2 .9h0m.1 0h0m.3 .3h0m.5-8.3h0m2.6 3.4h0m-2.6 .3h0m-.1 .3h0m2.9 .6h0m1.1 .9h0m-1.4 0h0m-2.5 .5h0m5.4 .2h0m-3.4 0h0m1.6 .3h0m-.4 .4h0m-3.1 .5h0m3.1 .3h0m.7 .6h0m-.3 .6h0m0 .2h0m1.1 0h0m-.6 .7h0m-3.2 .6h0m4.7 .1h0m-1.9 .7h0m.2 .3h0m-3.9 .8h0m1.8 .3h0m7.3-2.8h0m.5 .4h0m-.2 1.1h0m-1.4 .5h0m1.3 1h0m-.3 .1h0m2.4 .8h0m-1.3 .4h0m-2.7 .4h0m-1.5 0h0m1.5 .3h0m1.3 0h0m-1.4 .1h0m-1.1 .3h0m.1 .1h0m3.7 .1h0m.4 1.1h0m-3.5 .2h0m3.1 0h0m.6 .2h0m1.1 .9h0m-2.4 .5h0m1.1 1.1h0m.5 2h0m-1.1 .8h0m4.2-5.1h0m.4 .6h0m1 .7h0m-2.7 1h0m2.2 .8h0m-1.4 1.5h0" stroke="#619cff" stroke-width="1.00" stroke-linecap="round" fill="none" opacity="0.6"/>
<path d="M279 29.2h0m4.6-4.1h0m-.5 2h0m-2.4 .6h0m.7 1.1h0m1.5 .1h0m-3.6 .1h0m3.3 .3h0m1.4 .7h0m-1.7 .1h0m0 1.5h0m.8 .7h0m-1.7 .3h0m2.6 1.8h0m4.4-3.9h0m-2.2 .8h0m2.4 .1h0m-2.2 .4h0m3.8 1.1h0m-4.4 .2h0m2.2 1.2h0m-2.4 0h0m3.5 .4h0m-3 .5h0m3.3 .1h0m-2.7 .2h0m1.5 1h0m2.4 .6h0m-2.4 .6h0m-3.1 1.2h0m6.4-2.2h0m-.3 3.3h0m2.2 0h0m-.9 .1h0m.4 1.9h0m3.2 1.4h0m-1.7 .2h0m2.5 .4h0m-3.7 .3h0m.1 .1h0m.4 .8h0m.9 2.2h0m1.5 .2h0m.6 1.4h0m.8-6.2h0m.1 .7h0m-.2 2h0m1.1 .1h0m2.1 1.2h0m-1.7 .1h0m-1.6 .5h0m2.1 .2h0m-.3 .3h0m-1.5 .3h0m.7 .3h0m-.4 .5h0m.3 .4h0m.7 .1h0m4.1 .4h0m-5 .6h0m-.8 .1h0m5.6 .7h0m-3 .1h0m-.1 .3h0m1.9 .5h0m1.1 2h0m-1.8 3.1h0m3.2-6.7h0m4.2 .5h0m-3.8 .9h0m-1.1 .1h0m1.5 .5h0m3.8 1.3h0m-3.5 1.6h0m.6 .8h0m2.8 0h0m-1.8 .1h0m-1.3 .1h0m1.5 .5h0m.6 1.7h0m-.3 .3h0m.2 .8h0m2.7-4h0m-1.1 3.6h0m.2 .4h0m1.2 0h0m1.4 .4h0m-2.5 .4h0m.9 .2h0m-.8 .4h0m.6 1h0m1.8 1.4h0m-.5 .7h0m2.6 .1h0m-.7 .8h0m.2 2.5h0m-2.2 .3h0m1.3 .9h0m3.6-7.5h0m.3 0h0m-.1 1.6h0m2.6 .3h0m1.7 1.5h0m-5.6 .2h0m3.1 2.5h0m-1.9 .2h0m-.4 .3h0m-.5 .3h0m-.3 0h0m4.9 .9h0m-3.5 1.2h0m1.4 .6h0m-1.6 1.7h0m2.1 .2h0m.9 .6h0m-.9 .4h0m.8 1.5h0m.5 .6h0m1.6-10.2h0m1.6 .9h0m.6 3.6h0m-2.5 .1h0m.5 .2h0m.9 1.3h0m-.2 .1h0m1.2 .6h0m1.2 .2h0m-3.4 .1h0m3.8 .5h0m-2.8 .4h0m.4 .3h0m1.2 .9h0m2.9 .3h0m-1 .4h0m-4.4 .3h0m3.9 .2h0m-.2 .8h0m.4 0h0m.9 .9h0m.1 .1h0m-.6 1.5h0m-.2 1.5h0m-.7 .4h0m2.4-9.4h0m.3 .9h0m2.3 5.9h0m-1.7 .5h0m3.1 .3h0m-2.7 1.6h0m4.8-3.8h0" stroke="#00b9e3" stroke-width="1.00" stroke-linecap="round" fill="none" opacity="0.6"/>
<path d="M290.8 24.2h0m-1.1 .7h0m-.2 .2h0m1 1.3h0m-.3 2.2h0m-1.9 .6h0m2.6 .3h0m-.5 0h0m-5.4 .1h0m5.5 2.7h0m-.5 2.5h0m6.9-13.5h0m-2.4 .3h0m1.8 .3h0m-4.6 1.7h0m.9 1.1h0m3.1 .1h0m-1 .5h0m1.5 1h0m.4 .1h0m-5.5 .1h0m2 .1h0m3.3 0h0m-1.3 .3h0m0 .1h0m-1.6 0h0m.4 1.4h0m.9 0h0m-2.8 .3h0m4.5 1.2h0m-3.8 .1h0m2.6 .5h0m-2.9 .1h0m.6 .1h0m.4 0h0m-.2 .5h0m1.8 .1h0m-1.1 .1h0m2.3 2.8h0m-.3 4.4h0m1.8-18.6h0m-.2 3.6h0m.1 .8h0m2.6 .3h0m1 1.1h0m1 .6h0m-4.8 .4h0m2.5 2h0m.6 .6h0m-3 .8h0m1 0h0m1.8 .7h0m2.5 .1h0m-2.7 .1h0m.3 .4h0m-2.7 .2h0m.2 0h0m-.5 0h0m2.5 .5h0m-.5 .8h0m1.1 .1h0m-2.1 .5h0m3.9 .2h0m-3.9 .2h0m.4 1h0m.5 0h0m-1.8 .1h0m4.6 .7h0m-4.7 1.1h0m3.5 1.4h0m0 .4h0m-3.7 .1h0m1.9 1.2h0m-1 .3h0m1 .9h0m3.7 .8h0m-2 1.2h0m-1.7 .7h0m4.6-19.3h0m1.9 7.4h0m-2.2 .4h0m.7 .5h0m1.8 .5h0m-1.5 .5h0m.8 .6h0m-.8 .5h0m-.8 .3h0m1.1 0h0m1.5 .2h0m1.9 .5h0m-4 .1h0m-.5 .1h0m3.5 .7h0m-2.4 .7h0m-1.3 .2h0m2 0h0m-1.2 .1h0m-.4 .4h0m2.1 0h0m2.4 .1h0m-3.3 .2h0m1 .1h0m-1.4 .6h0m2.5 .9h0m-2.5 .5h0m3.3 .1h0m-2.8 .2h0m3 .7h0m-1.5 .5h0m-3 1.1h0m2 0h0m2.3 .4h0m-4 1.1h0m.9 1.6h0m4.4-12.6h0m.6 1.9h0m1.8 1h0m.1 .5h0m1.3 1.2h0m-2.3 .5h0m-.2 1.6h0m1.2 .2h0m-2.7 2.2h0m1.5 .5h0m4.2 .7h0m-2.5 .2h0m-2.4 .3h0m2.5 .2h0m.3 .5h0m-.1 0h0m.4 .2h0m.1 .8h0m1.1 .4h0m-5.1 .3h0m4.1 .7h0m-.4 .3h0m-3.3 .2h0m-.4 .4h0m5.4 .6h0m-1.8 .1h0m.4 0h0m1.2 .7h0m-1.5 .4h0m-.5 1h0m-2.3 .1h0m-.5 .2h0m5.5 .3h0m-3.6 .2h0m-.7 .1h0m3.9 1.7h0m-.3 .4h0m-.3 .2h0m.5 .9h0m-3 1.8h0m1.6 10.1h0m2.1-29.7h0m.5 1.3h0m2.8 3.5h0m-.5 0h0m-1.2 .8h0m.3 .8h0m-.3 .6h0m2.8 2.6h0m-3 .2h0m-1.4 .3h0m3.4 .4h0m-.5 .4h0m-.8 .5h0m2.5 .4h0m-3.9 0h0m2.9 1.7h0m-2.6 .1h0m4.3 .2h0m-3.7 0h0m.6 .1h0m.7 .3h0m.9 .3h0m1.4 .1h0m.3 .1h0m-.6 .8h0m-1.5 .7h0m-2 .5h0m-.6 .2h0m1.5 .1h0m-.9 .4h0m.7 .4h0m-1.2 .1h0m2 .8h0m-.5 .2h0m1 0h0m-2.6 .7h0m5 0h0m-.1 1.3h0m-.1 .3h0m-3 .2h0m.6 .3h0m-1.7 1.3h0m-.8 1.3h0m4.7 2.6h0m-4.2 5.1h0m8.5-24.1h0m-3.6 2.7h0m-.1 0h0m.7 .3h0m2.3 3.3h0m-1.8 .2h0m1.9 .1h0m-1.6 .2h0m1.7 .4h0m-3.3 0h0m.2 .3h0m5.3 .1h0m-4.9 .4h0m4 1.1h0m-.1 1.6h0m1 0h0m-3.1 1.2h0m1.6 .4h0m-.6 .3h0m-1.8 0h0m1.1 0h0m1.9 .5h0m1.2 .5h0m-1.3 .2h0m-.3 0h0m-1.1 .2h0m-2.6 .1h0m5.5 .7h0m-4.5 .5h0m3.8 .5h0m.5 0h0m-3.8 .6h0m-1.2 1h0m-.5 .3h0m1.6 .3h0m-1.4 1.2h0m8.7-8.9h0m-3 1.5h0m1.1 1.7h0m-.8 1.7h0" stroke="#00ba38" stroke-width="0.90" stroke-linecap="round" fill="none" opacity="0.7"/>
<path d="M302.4 42.4h0m-3.5 1.4h0m3.4 .8h0m.1 .1h0m-.9 .6h0m-1.6 .3h0m-.2 2.2h0m6.8-5.4h0m-3.2 .9h0m1.2 1.5h0m3.2 .1h0m-2.7 .4h0m-.1 .4h0m-1.8 .3h0m1.2 .3h0m1 .2h0m-.2 .1h0m2.3 .4h0m-3.5 .4h0m2.5 1.2h0m2 .3h0m-1 .1h0m-2.8 .5h0m-.1 2h0m1.1 .1h0m1.4 .1h0m-3.5 .2h0m3.8 0h0m.9 .5h0m-2.5 .5h0m1.5 .3h0m-1 .3h0m2.4 1.7h0m.5-7h0m.9 2.5h0m2.3 .2h0m-.2 .1h0m-2.5 .2h0m1 .1h0m2 .9h0m-1.6 1.4h0m-.4 .6h0m1.1 .8h0m-1.6 .3h0m.5 .7h0m1.8 0h0m-.6 .1h0m.1 .1h0m.7 .4h0m-.7 .3h0m-.8 .3h0m1.4 .4h0m1.4 .4h0m.2 .1h0m-3.5 .1h0m1.8 .2h0m-.9 .1h0m1.3 .4h0m1.3 2.2h0m.4 1.1h0m-.6 .4h0m.1 .1h0m-2 .6h0m2.9 .1h0m-1.8 .4h0m-.5 1.5h0m5.6-9.9h0m-1.6 3.3h0m-1.5 .4h0m1.4 .8h0m-.3 .3h0m1.9 .5h0m2.5 .4h0m-5.2 .7h0m1 .8h0m1.2 .4h0m-1 .2h0m-.5 .1h0m2 .5h0m-2.6 .4h0m3.6 .3h0m-1.5 .8h0m3 .2h0m-2.6 1.1h0m2.8 .1h0m-3.6 .5h0m1.3 .4h0m-1.3 .2h0m3.6 1.2h0m-.2 1h0m-1.7 .8h0m1.9 0h0m-2.8 .1h0m7.5-1.8h0m-2.6 1.1h0m1.1 .5h0m-2.2 .1h0m2.2 .7h0m-.3 .3h0m-2.1 1.5h0m2 1.3h0m3.1 .6h0m-3.8 .9h0m1 .9h0m2 .5h0m1 .7h0m-3.2 .9h0m2.9 .5h0m-1.7 .3h0m1.4 .1h0m.1 .4h0m1.4-5.7h0m0 3h0m-.6 2.1h0m1.2 0h0m-.7 0h0m.8 .1h0m3.2 .4h0m-.3 .8h0m-2.7 .1h0m2.4 .1h0m-2.4 0h0m2.8 .4h0m-2 .7h0m-2.3 .1h0m3.7 .3h0m-.6 1.1h0m2 0h0m.5 0h0m.1 .7h0m-1.3 .3h0m1.2 1.2h0m-.7 .2h0m.3 1.7h0m2.3-6.2h0m.5 1.2h0m-1.1 .3h0m-.4 .3h0m1.4 1.1h0m-.1 .9h0" stroke="#ff61c3" stroke-width="1.00" stroke-linecap="round" fill="none" opacity="0.6"/>
<path d="M283.9 21.8h0m-.4 .1h0m1.2 .4h0m-.9 .1h0m-1.6 .1h0m1.4 .3h0m1.2 .1h0m-1.8 .1h0m-1.3 .1h0m.2 .1h0m1.8 .1h0m-.1 .2h0m-.6 .1h0m.8 .1h0m-1.8 .1h0m-.2 .3h0m.5 .1h0m-.1 .2h0m.9 0h0m-1.6 0h0m2.8 .3h0m-2.1 .1h0m-.2 .1h0m2.7 .1h0m-3.5 0h0m-.2 .3h0m2.1 0h0m.2 .1h0m-1.3 .1h0m1.7 .2h0m-2.6 .2h0m1 .2h0m-1.7 .1h0m1.1 0h0m-.2 .3h0m1.2 0h0m1.3 0h0m0 .1h0m1 0h0m-.8 .2h0m-3.5 0h0m3.2 0h0m-3.2 .1h0m.9 0h0m-.3 0h0m.2 0h0m-.3 0h0m-.1 .3h0m.3 0h0m1.7 .2h0m-1.4 0h0m.2 .1h0m-1.8 .1h0m3.4 .1h0m-2.8 0h0m3.7 .3h0m.2 0h0m-4.4 0h0m.1 .3h0m1.6 .1h0m-.3 0h0m2.2 0h0m-2.7 .1h0m-1 .2h0m3.2 .1h0m-2 0h0m1.2 .2h0m-.1 0h0m-.7 .1h0m1.4 0h0m-1.9 .2h0m.4 0h0m1.4 .2h0m-2.2 .3h0m1.2 .2h0m2.8 .1h0m-1.6 .1h0m.5 0h0m.7 0h0m-.4 0h0m-3.7 0h0m.7 .1h0m-.4 .1h0m-.3 .1h0m4.8 0h0m-1.4 .2h0m-2.8 0h0m.9 .1h0m-.3 0h0m.7 .1h0m.7 .1h0m.8 0h0m-1.7 .1h0m1 0h0m1.2 0h0m-3.5 .1h0m.6 0h0m3.3 .2h0m-.5 0h0m-.2 .1h0m.6 .1h0m.4 0h0m-2.8 .1h0m-.6 .1h0m3 .7h0m-1.4 .1h0m-1.3 .1h0m2.8 .2h0m.4 .1h0m-2.8 .1h0m-1.1 .1h0m2.7 .1h0m1.3 0h0m-2.9 .1h0m-.6 .1h0m1.3 0h0m1.7 .1h0m-3.6 .3h0m2.2 0h0m1.3 .2h0m-2.1 0h0m.8 .3h0m1.9 .2h0m-2.9 .1h0m2.5 0h0m-3 .1h0m1.2 .2h0m-.2 .2h0m-1.2 .1h0m2 0h0m1.5 .3h0m-.2 0h0m.2 .2h0m-.7 .1h0m-.4 0h0m-.7 0h0m0 .1h0m1.9 .1h0m-1.1 .1h0m-.9 .2h0m2 0h0m-1.4 .1h0m1.1 .1h0m-1.8 .3h0m.8 .1h0m.8 .3h0m1.1-15.5h0m-.2 .1h0m-.2 0h0m.7 .3h0m.4 .1h0m.7 .4h0m.8 1h0m-1.6 .3h0m.7 .1h0m0 .1h0m.7 .1h0m-1.2 .1h0m-1.3 .1h0m3 .3h0m-1.5 .1h0m-1.5 0h0m1.1 0h0m.5 .1h0m1.2 .1h0m-.3 0h0m-.6 .1h0m1.2 .1h0m-3 .1h0m1.4 0h0m1.2 0h0m-1.9 .1h0m2.9 .2h0m-1.7 .1h0m-1.3 .1h0m-.4 0h0m2.4 .1h0m.4 .1h0m-.5 .5h0m1.1 .2h0m-2.5 0h0m1.4 .1h0m.5 .3h0m-1.9 0h0m-.8 0h0m2.7 .1h0m-1.6 .2h0m2.6 .1h0m-1.3 .1h0m-2.1 0h0m2.6 .3h0m-2.3 .2h0m-.6 .3h0m2.8 0h0m-1.7 .1h0m-.6 0h0m.1 .1h0m1.4 .1h0m-.1 .1h0m-1.4 .1h0m.7 .1h0m-1.6 .4h0m2.7 .1h0m.8 .1h0m-1.6 0h0m2 .1h0m-2.1 .1h0m2.3 0h0m-2.2 .1h0m1.9 .2h0m-3.2 .1h0m2.8 .4h0m-3.1 .2h0m-.3 .1h0m3.3 0h0m-1.3 .1h0m-.6 0h0m-1.2 .2h0m.2 .1h0m.1 0h0m-.1 .3h0m3 .1h0m-3.4 0h0m1.3 .1h0m-1.2 .1h0m2 0h0m-.9 0h0m1.4 0h0m-2.5 .1h0m1.1 .3h0m.7 .1h0m-1.8 .1h0m2.7 .2h0m-1.9 0h0m.6 .1h0m.6 .1h0m.2 .3h0m-.6 .2h0m-.8 .2h0m1.7 .5h0m-1.8 .3h0m2.3 0h0m0 0h0m-2.6 .4h0m.5 0h0m.1 .2h0m-.2 0h0m.7 .1h0m-.5 .1h0m-.8 .1h0m.6 .1h0m-.9 .3h0m1 .3h0m.3 .2h0m-.7 .3h0m-.5 .2h0m1 0h0m-1 0h0m.9 0h0m-.9 .4h0" stroke="#e58472" stroke-width="1.30" stroke-linecap="round" fill="none" opacity="0.9"/>
<path d="M283.4 25h0m-1.4 .3h0m1.1 .2h0m.6 .2h0m-2.1 .1h0m2 0h0m-1.6 .4h0m1.9 .7h0m.4 0h0m-.3 .3h0m-1.1 .2h0m1.1 .1h0m-2.8 0h0m3.1 .1h0m-.1 0h0m-2.5 0h0m2.6 .1h0m-1.5 .3h0m-1.8 .9h0m2.9 .8h0m-1.2 .3h0m-.2 0h0m.8 .1h0m.4 .1h0m-1.5 0h0m-1.4 .2h0m-.1 .4h0m2.3 0h0m-2.1 0h0m1.2 .1h0m.1 0h0m1.3 .1h0m-1.6 0h0m2.6 .4h0m-.9 .2h0m-1.3 .5h0m2.6 .1h0m-3.3 .1h0m2 0h0m1 0h0m-.7 .3h0m-2.1 0h0m.6 .1h0m-.6 .2h0m.1 .2h0m3 .3h0m-.4 .2h0m-1 .1h0m.1 .2h0m.2 0h0m-.9 .2h0m3.2-6.8h0m0 2.8h0m0 .1h0m-.7 0h0m-.4 .2h0m1.3 .1h0m-1.3 0h0m1.1 .6h0m-.4 1.4h0" stroke="#619cff" stroke-width="1.10" stroke-linecap="round" fill="none" opacity="0.6"/>
<path d="M337.2 80.7h0m-.2 .4h0m2 .3h0m-2.9 .3h0m.7 0h0m-.2 .8h0m1.5 .7h0m-2.3 .4h0m.6 .7h0m-.8 .1h0m2 .1h0m.5 0h0m-.9 1h0m.5 .8h0m.5 0h0m.6 0h0m-1.2 .1h0m.8 1.2h0m5.1-12.6h0m.4 0h0m-.5 .5h0m0 .9h0m.7 .1h0m.1 .1h0m.6 .1h0m-.7 .4h0m.8 .3h0m-4.8 0h0m1.3 0h0m3 .4h0m-1 .3h0m-2.4 .5h0m-.8 .3h0m2.7 .1h0m.3 0h0m-3 .1h0m.3 0h0m1.2 .1h0m2.6 .3h0m-1 0h0m-1.9 .3h0m-.8 .1h0m2.2 .2h0m-3.7 0h0m4.3 0h0m-1.2 0h0m-2.4 .1h0m1.1 0h0m1.4 .2h0m1.1 .2h0m-2.7 .2h0m-.9 0h0m3.2 0h0m-.1 0h0m-1.2 .1h0m-.2 .1h0m.6 .1h0m.1 .1h0m.6 .1h0m-1 0h0m-1.8 .1h0m-.1 .2h0m4.3 .3h0m-2.8 .1h0m-1.3 .3h0m.2 .2h0m-.8 .1h0m.3 .1h0m4.3 0h0m-.9 .3h0m-2.8 .2h0m.5 0h0m2.8 0h0m-2.9 .1h0m2 .2h0m-3.1 .1h0m-.3 1.1h0m1.3 .2h0m-1 1.8h0m1.7 .2h0m-.6 1.6h0m-1.4 .1h0m9.6-22.6h0m1.2 .6h0m.1 .4h0m.4 .2h0m-1.9 .3h0m1.4 .2h0m.4 0h0m-.5 .4h0m.6 .1h0m-.2 .6h0m-.3 0h0m-.7 .6h0m-.9 0h0m-1.4 .3h0m1.8 .2h0m1.2 0h0m-.8 .1h0m1.5 .5h0m-1.3 .1h0m-2.1 .2h0m3.5 .2h0m-2.9 .3h0m1.2 0h0m1.7 .4h0m-5.1 .3h0m0 .2h0m2.3 .4h0m1.6 0h0m-1.8 .2h0m1.4 .2h0m.3 .2h0m-2.9 .2h0m1.4 .2h0m-.9 .1h0m-.7 0h0m1.9 .1h0m1 .2h0m-3.3 0h0m1.8 .1h0m-2 .1h0m1.1 .1h0m-.7 .1h0m2.4 0h0m-3 0h0m.8 .1h0m-1.6 .1h0m.3 .1h0m0 .2h0m.5 0h0m-.5 1.2h0m.6 .1h0m3.3 .1h0m-3.2 .1h0m-.4 .2h0m.7 .1h0m-.8 .1h0m1.8 .1h0m-2.1 .4h0m.6 .2h0m.4 .3h0m-.6 .3h0m-.3 .6h0m.5 .2h0m.8 .1h0m.1 .2h0m-1 .6h0m2.4 .1h0m8.7-22.1h0m0 .8h0m-.1 .2h0m-1.7 .8h0m1.6 .5h0m.1 0h0m-1.6 1.3h0m-.9 .1h0m1.2 0h0m-2.6 .1h0m2.7 .4h0m-1.5 0h0m-1.7 .4h0m2.8 .2h0m-1.9 0h0m2.8 .1h0m-.6 0h0m-1.6 0h0m1.3 .2h0m-1.7 .9h0m-.1 .1h0m3.1 .3h0m-1.7 .3h0m-1 .3h0m1.3 0h0m-.9 0h0m-.6 .3h0m-.8 .1h0m2 .1h0m-3.2 .1h0m3.5 0h0m-2.9 .2h0m.7 0h0m1 .6h0m-1.6 .3h0m1.5 0h0m-.7 .1h0m-.3 0h0m-.8 .3h0m2.7 .1h0m-2.1 .1h0m1 .1h0m-.1 .3h0m0 .1h0m1.7 0h0m-3.7 .2h0m.5 .8h0m.1 .5h0m1.3 1h0m-1.2 .2h0m1.1 .1h0m-1 .3h0m-.4 .5h0m-.1 .1h0m.3 1.3h0m.1 .1h0m0 .2h0m10.4-24.8h0m0 2.1h0m-1.5 .4h0m1.2 .2h0m-.4 .1h0m1.2 0h0m-2.1 .4h0m-1 .2h0m2.4 .8h0m-2.8 .1h0m2 .1h0m1 .4h0m-1.1 .2h0m.6 .1h0m.9 .3h0m-.9 .3h0m-1.3 0h0m2.3 .1h0m-2.3 .1h0m1.4 0h0m-.6 0h0m-.9 .1h0m-2.6 .1h0m3.4 .4h0m-1.3 0h0m.3 .1h0m-2.4 .3h0m4.5 .5h0m-.9 0h0m-1.1 .1h0m.5 0h0m-1.5 .1h0m1.8 .1h0m-1.5 .4h0m.8 .1h0m-3.2 .2h0m4.9 0h0m-1.8 .1h0m-2 .2h0m1.3 .1h0m2 .1h0m-.6 0h0m.1 .6h0m-3.1 .1h0m3 0h0m.3 .5h0m-.1 .4h0m-3.8 .1h0m-.3 .1h0m.2 .2h0m.6 0h0m2.9 .2h0m-2.6 0h0m2.8 .3h0m-3.9 .2h0m4.9 0h0m-3.5 .1h0m.2 .1h0m-1 .7h0m-.6 .2h0m.6 .2h0m.3 .3h0m-1.2 .1h0m2.4 .2h0m-1.2 .4h0m.5 .1h0m-.8 .3h0m.8 0h0m.4 .1h0m-2 .1h0m.5 .3h0m-.3 .9h0m-.1 3.1h0m11.5-22.9h0m-.8 .9h0m-2 .2h0m2.2 .3h0m-.9 .2h0m.2 .3h0m1.5 .1h0m-.3 .2h0m-.1 .1h0m-3.1 .3h0m3.4 .1h0m-2.2 .2h0m-2.5 .1h0m-.5 0h0m5.1 .5h0m-3 .3h0m.2 0h0m.7 0h0m1.9 .2h0m-1 0h0m-.3 .1h0m1 .1h0m.5 0h0m-1.3 0h0m-3 .2h0m3.2 0h0m-1 .1h0m.1 .3h0m-2.7 0h0m3.3 .1h0m-3.2 0h0m0 .1h0m3.1 .3h0m-1.7 .1h0m2.8 0h0m0 .3h0m-2.3 .3h0m.2 .1h0m-.9 .4h0m2.9 .4h0m-2.6 .2h0m-.6 .1h0m0 .1h0m.3 .1h0m-.6 0h0m-.9 .2h0m4.8 0h0m-4.7 .3h0m1 1h0m1.1 .6h0m-1.2 .1h0m-.6 .1h0m.9 .7h0m.3 .1h0m-1.4 0h0m-.7 .2h0m6.3-10.9h0m.3 .2h0m-.4 .1h0m.4 .6h0m1.4 .4h0m-2 .3h0m1.2 0h0m-1 .2h0m3.1 .5h0m-3.5 .3h0m.1 .1h0m.3 .2h0m0 .8h0m.3 .6h0m-.6 .6h0" stroke="#00ba38" stroke-width="1.10" stroke-linecap="round" fill="none" opacity="0.85"/>
<path d="M339 78.7h0m-.9 2.7h0m-1.5 1h0m1.3 .1h0m0 .3h0m-1.3 .8h0m1.8 .5h0m-.5 .2h0m.6 .9h0m-2.5 .1h0m1.9 0h0m-.8 0h0m.9 .3h0m.3 .1h0m.5 0h0m.2 .5h0m-.2 .4h0m-1.5 .6h0m7.3-13.9h0m-.7 1.6h0m1 .8h0m-.6 .8h0m-1.1 .2h0m1.3 .2h0m0 1.5h0m-1.8 .3h0m-1.1 .1h0m1.2 0h0m-1.3 .4h0m-1.4 .8h0m1.9 .1h0m-1.5 .1h0m1.1 .4h0m-.6 .3h0m.1 .1h0m-1.6 0h0m.1 .2h0m2.1 0h0m.1 .3h0m-.8 .3h0m.5 .4h0m-2.4 .2h0m.4 .1h0m1.9 0h0m.8 0h0m-1.1 .1h0m.4 .1h0m-1.4 0h0m0 .4h0m-.6 0h0m1.8 .3h0m1.2 0h0m-.7 .2h0m-1.6 .9h0m1.5 .7h0m9.1-19.9h0m-1 .9h0m1.2 .9h0m-.1 .2h0m-1.2 .7h0m-.3 .8h0m-1.2 .6h0m1.7 .7h0m.1 .1h0m-.7 .6h0m.8 0h0m-5 .3h0m5.3 0h0m-2 .3h0m.2 .1h0m-.6 0h0m-.3 .2h0m1.8 .3h0m-1.1 .2h0m-.3 0h0m-.5 0h0m1 .1h0m.7 .2h0m1.5 .1h0m-.9 .1h0m-3.5 .2h0m2.4 0h0m.7 .2h0m-3.2 .1h0m1.1 .2h0m-1.4 0h0m1.6 .1h0m-1.7 .2h0m.5 .5h0m-.8 .1h0m2.5 .3h0m-1 .2h0m1.4 .6h0m-1.6 .1h0m-1.7 .4h0m2.2 .2h0m-2.4 .1h0m.5 0h0m.5 .2h0m-.4 .1h0m.4 .4h0m-.2 .6h0m-.8 .9h0m11.9-22.2h0m-.3 1.8h0m-1.3 .4h0m1.2 1h0m-.2 0h0m.5 .8h0m-3.9 .7h0m3 .4h0m.9 .1h0m-3.9 .4h0m2.3 .4h0m-.4 .1h0m.8 .4h0m.6 .3h0m-.7 0h0m-1.8 .1h0m.2 .5h0m1.1 .4h0m-2 .1h0m-.3 .2h0m-.5 .2h0m.4 1.1h0m.9 .2h0m.4 .3h0m-1 .1h0m.4 .1h0m1 .3h0m-.9 0h0m-1 .5h0m1.4 .1h0m-1.3 .1h0m-1.1 .4h0m.4 0h0m.4 .2h0m1.3 .8h0m-1.6 .5h0m.5 .8h0m-.4 .4h0m-.5 .2h0m11.2-21.4h0m-.7 .5h0m.3 .3h0m-2.8 0h0m2.9 .6h0m-.5 .2h0m.9 .4h0m.1 .3h0m-2.5 .1h0m-1.1 .9h0m.1 .1h0m1.7 .7h0m.5 .2h0m-.4 .2h0m0 .1h0m-1.5 .1h0m2.8 .1h0m-.6 0h0m-.9 .2h0m.5 .2h0m.8 .6h0m.1 .1h0m-3.3 .2h0m3.2 0h0m-1.1 .3h0m-1 .1h0m-2 .2h0m2.7 0h0m0 .3h0m-3.6 .3h0m3 .2h0m-2.1 .2h0m-.2 .1h0m3.3 0h0m-4.1 .8h0m.4 .3h0m.3 .1h0m.9 0h0m4 .3h0m-4.9 0h0m-.9 .2h0m0 .1h0m2.8 .4h0m-1.5 0h0m1.3 .3h0m-1.1 .2h0m.1 .4h0m.1 .5h0m-1.2 .5h0m-.3 1.4h0m11.7-20.4h0m-.9 .8h0m.4 .2h0m.1 .4h0m-1.1 .1h0m1 .6h0m.1 .1h0m-2.1 .2h0m1.8 .1h0m-.4 .2h0m-.4 .5h0m-3 .1h0m3.6 0h0m-1.8 .2h0m2.2 .1h0m.4 .1h0m-.3 .9h0m-2.8 0h0m-.6 .3h0m2.7 .1h0m-2.8 .2h0m3 .1h0m-1.4 .1h0m.6 .1h0m-1.1 .1h0m-.3 .9h0m-1.7 .3h0m-.5 .2h0m2.6 0h0m-3.1 .2h0m2.6 .1h0m-2.5 0h0m2.1 .1h0m.6 .1h0m-1.3 .1h0m.4 .1h0m.9 .2h0m-1 .7h0m-1.3 .1h0m.3 .2h0m0 .3h0m-.2 0h0m0 .1h0m3 .5h0m-3.4 1.1h0m.2 .6h0m.5 .5h0m0 .6h0m10.3-20.7h0m-.2 .3h0m.7 .8h0m-3.4 .2h0m1.9 .2h0m.8 .3h0m.8 .1h0m-.2 .3h0m-1 .1h0m-.4 0h0m.1 .2h0m.4 .4h0m.1 1h0m-2.5 0h0m2.7 .4h0m-1.6 .1h0m1.8 .2h0m-3.6 .4h0m2.3 0h0m-1.7 .1h0m1.4 0h0m-.5 .1h0m.9 .1h0m.5 .5h0m-3 .1h0m-1.3 .5h0m1.9 .2h0m-1.4 .2h0m1.7 .3h0m-1.1 0h0m3.1 .2h0m-.8 .3h0m-2.5 .1h0m2.4 .2h0m-1.8 .1h0m.4 0h0m-1.9 .2h0m2.3 .5h0m-1.1 .2h0m-.1 0h0m.3 .1h0m.4 0h0m.1 .3h0m-1.8 .2h0m-.1 .2h0m.1 0h0m.8 .2h0m-1 1.1h0m0 2.7h0m6-13.1h0m1.6 .1h0m-1.7 0h0m1.2 .6h0m1.5 .4h0m-2.1 .1h0m-.1 .1h0m.4 .1h0m1.2 1.1h0m-1.9 1.1h0m0 2.3h0" stroke="#93aa00" stroke-width="1.00" stroke-linecap="round" fill="none" opacity="0.85"/>
<path d="M363 44.6h0m-.1 .2h0m-.1 1.3h0m0 .4h0m-.1 1.1h0m-.9 .4h0m-.2 .2h0m1.4 .3h0m-.1 .1h0m-1.7 0h0m1.8 .1h0m-.9 0h0m-.7 .2h0m.4 .1h0m.9 .3h0m.3 .5h0m5.4-13.2h0m-.5 1.2h0m.6 .6h0m-.8 .1h0m.5 .2h0m-.4 .2h0m.6 0h0m.4 .1h0m-.9 .1h0m-.6 .7h0m.6 .1h0m.4 .1h0m-1.8 0h0m2.4 0h0m-1.4 .1h0m.8 .4h0m-1 .1h0m.6 .5h0m.5 .1h0m-.6 .1h0m-3.1 .2h0m-.3 .1h0m2 0h0m1.1 .1h0m-.8 0h0m1.6 .1h0m-.1 0h0m-1 .1h0m.3 0h0m-1.2 0h0m.3 .1h0m.9 .1h0m.3 .2h0m-1.3 .1h0m.8 0h0m.4 .2h0m-2.1 .2h0m.1 .1h0m1.7 .1h0m-1.8 0h0m0 .2h0m1.9 0h0m-1.8 .1h0m.9 0h0m-.8 0h0m2.1 .2h0m-1.3 0h0m.3 .1h0m.3 .1h0m0 .1h0m-2.4 0h0m.5 .3h0m1 0h0m-.7 .1h0m-1.6 .6h0m.7 .2h0m.3 0h0m.3 .1h0m-1.6 0h0m1.9 .1h0m.8 .1h0m-2.8 0h0m3.6 .1h0m-1.8 0h0m-.6 .1h0m1 .2h0m-.7 0h0m1.2 .1h0m-1.9 0h0m0 .2h0m1.7 .1h0m-2 .1h0m.3 0h0m1.4 .1h0m-.5 .1h0m-.8 0h0m-.3 .3h0m-.2 0h0m-.1 .2h0m-.5 .2h0m-.2 1.6h0m0 .1h0m0 .4h0m.9 .1h0m.2 .4h0m-1.2 .3h0m2.3 .9h0m9.2-24.8h0m0 .6h0m-.4 2h0m-2 .4h0m.1 .5h0m2.4 .1h0m-1.1 .1h0m-.1 .2h0m.9 .1h0m-.1 .1h0m-1.6 .4h0m1.9 .3h0m-1 .2h0m.5 .1h0m-.4 .1h0m0 .5h0m-1.9 0h0m1 .1h0m1.1 0h0m-.6 .3h0m.6 .5h0m-.1 .2h0m-1.3 .1h0m-.2 .1h0m0 .1h0m-1.8 .1h0m1.6 .2h0m1 0h0m1.5 .1h0m-2.2 .1h0m-1.8 .1h0m.7 .4h0m2.9 0h0m-1.3 .3h0m-1.6 .3h0m1.4 0h0m-1.3 .1h0m.6 0h0m-2.4 .4h0m3.1 .3h0m-1.7 0h0m1.1 .3h0m.1 .2h0m-1.8 0h0m.7 .1h0m-.8 .2h0m0 .1h0m-1.3 .1h0m2.7 0h0m-.6 0h0m-.6 0h0m.9 .2h0m-.5 .2h0m-.5 0h0m2.4 .3h0m-2.8 .3h0m-.3 .1h0m-.1 .3h0m1 0h0m-.3 .2h0m-.9 .1h0m.9 .1h0m-1.3 0h0m1.4 .3h0m-1 .4h0m.8 .2h0m-.4 .2h0m.1 .4h0m-.7 .5h0m1.5 .6h0m-.6 1.4h0m7.7-18.9h0m0 0h0m.7 .3h0m.8 .5h0m-2.2 .1h0m1.5 .1h0m1.3 .3h0m-1.6 0h0m.7 .5h0m-2.9 .2h0m1.7 .6h0m-.1 0h0m-.1 0h0m-2.2 .1h0m1.7 .1h0m.1 .2h0m-.6 .1h0m.4 0h0m.4 0h0m-.3 .1h0m1.3 .2h0m-2.2 .3h0m2.4 .3h0m-1.4 0h0m-.2 .1h0m1.7 0h0m-3.6 0h0m3.6 .1h0m-2.5 .2h0m.8 .2h0m.1 .1h0m-1.5 0h0m.4 .1h0m-.2 .2h0m0 .1h0m1.1 .4h0m-.2 .1h0m-1.5 .4h0m.1 .3h0m.3 .8h0m0 0h0m-.5 .2h0m.2 .6h0m2.6 .3h0m-2.6 .4h0m1.5 .2h0" stroke="#00ba38" stroke-width="1.10" stroke-linecap="round" fill="none" opacity="0.9"/>
<path d="M374.5 27.8h0m-.1 .4h0m-.4 1.1h0m.4 .2h0m0 .1h0m-.1 0h0m-1.4 .4h0m-.1 .1h0m1.3 0h0m.3 .6h0m.5 0h0m-1.8 .6h0m.5 .4h0m.7 .2h0m-3.2 .1h0m1.5 0h0m-.2 .2h0m1.2 0h0m-1.5 .2h0m-2.2 .3h0m4.3 .4h0m-1.8 .6h0m1 .3h0m.2 .1h0m-.5 .3h0m5.3-11.3h0m.2 .1h0m.4 0h0m-1.7 .2h0m-.2 .3h0m1.7 .1h0m0 .2h0m-1.7 .1h0m1.3 .2h0m-.5 .1h0m-.7 0h0m.5 0h0m1.1 0h0m.4 .1h0m.4 .3h0m-2.3 0h0m.8 0h0m-1.6 .1h0m2.1 .1h0m-.8 0h0m-.4 0h0m-.6 0h0m1.7 .2h0m-.4 .1h0m.6 0h0m-1.6 .3h0m.6 0h0m-.6 .1h0m-.5 0h0m.6 .2h0m0 .4h0m-.3 .1h0m.1 0h0m.4 .3h0m-.3 .1h0m.7 .1h0m-1.7 .1h0m-1 .3h0m3.3 .3h0m-1.1 .1h0m-2.1 .6h0m1.2 .2h0m-.8 0h0m.2 .1h0m.5 .1h0m-1.1 0h0m.6 .1h0m0 0h0m-.5 .3h0m-.2 0h0m2.2 .1h0m-1.4 .3h0m-.6 .8h0m.3 1.2h0m1.3 .2h0" stroke="#00c19f" stroke-width="1.10" stroke-linecap="round" fill="none" opacity="0.9"/>
<path d="M344.4 59.7h0m-.1 2.6h0m-2.9 2h0m-1.5 .9h0m4.5 .5h0m-1.1 .7h0m-.1 .7h0m.3 .1h0m-.9 .5h0m2 1.2h0m5.7-18.3h0m-1.6 1h0m-3.3 2.6h0m4.2 1h0m-2.8 1.6h0m-.5 2.1h0m1.8 1.6h0m-.6 1.4h0m2.1 2h0m-4.1 .2h0m2.6 .7h0m-.4 .1h0m.9 .4h0m-3.4 1.2h0m4.2 .3h0m-1.3 4.1h0m4.8-31.4h0m1.9 6.9h0m1.6 1.1h0m-4.3 .4h0m3.6 .8h0m-3.6 .5h0m4.6 .2h0m-2.1 .9h0m-1.5 .2h0m2.1 .6h0m-2.2 .2h0m.9 .1h0m.2 1.4h0m-1.5 .9h0m1.7 .2h0m.8 .4h0m1.7 .1h0m-5.3 .5h0m4.8 1h0m-3.3 .9h0m1 1.3h0m2.7 1h0m-4.9 2.8h0m7.3-26.9h0m3.1 1.9h0m-1.8 .8h0m-2.8 1.8h0m1.5 2h0m-1 .1h0m4.9 .9h0m-2 .3h0m-2.9 .4h0m2.4 .4h0m1.4 1h0m-.8 .4h0m1.1 .7h0m-.2 .3h0m.5 1h0m-5.3 1.2h0m2.8 .1h0m2.6 .9h0m-3.2 0h0m2.2 .1h0m-3.9 1.1h0m4.8 .9h0m-1.4 .1h0m-.6 .3h0m-1.7 .6h0m0 .4h0m.5 0h0m-1.7 .9h0m.3 1.2h0m-.8 2h0m10.9-23.6h0m-1 1.1h0m1.6 .1h0m-3.9 .9h0m.5 .4h0m2.8 .7h0m-2 .3h0m1.7 1.7h0m-2.5 1.2h0m-.2 1.3h0m-1.8 2.1h0m1.1 0h0m3.1 .8h0m-3.9 1.9h0m-.4 1.7h0m6.1-12.3h0m.5 1.4h0m3.8 2.1h0m-3.1 .3h0m2.7 .1h0m1.1 2.1h0" stroke="#00ba38" stroke-width="0.80" stroke-linecap="round" fill="none" opacity="0.6"/>
<path d="M338.5 87.5h0m-1.4 .7h0m.7 0h0m-.5 .2h0m-1.2 .1h0m1.3 .3h0m-1.7 .1h0m1.8 0h0m-.2 2h0m.7 .3h0m0 0h0m-.3 .3h0m.3 0h0m-.7 .1h0m1.3 0h0m0 1.7h0m.5-2.5h0m.6 .2h0m1 .6h0m-1.3 .4h0m-.2 .1h0m1.2 .2h0m-.6 .6h0m-.3 .5h0m-.3 .1h0" stroke="#93aa00" stroke-width="1.20" stroke-linecap="round" fill="none" opacity="1.0"/>
<line x1="335.5" y1="88.5" x2="335.5" y2="107.5" stroke="#666" stroke-width="0.6"/>
<path d="M279 26 L335.5 88.5 L379 24" stroke="#2a2a2a" stroke-width="0.55" fill="none" opacity="0.8"/>
<path d="M335.9 106.5h0m-1 .2h0m-.6 .1h0m.1 .3h0m-.6 .2h0m1.4 .1h0m-.4 .1h0m1.2 0h0m.9 .1h0m-.8 .4h0m-2.1 .1h0m3.1 .1h0m-2.2 .3h0m-.9 .1h0m2.3 .1h0m-2.1 0h0m-.8 .1h0m2.7 0h0m1.3 .1h0m-1.2 0h0m-1.4 .1h0m.6 .1h0m-.4 .3h0m-1.6 0h0m1.6 0h0m-.4 0h0m-.7 .1h0m.9 .2h0m-.4 0h0m-.5 .1h0m-.8 .1h0m-.1 0h0m2.5 .1h0m1.9 .2h0m-.6 .1h0m.5 0h0m-3.6 0h0m1.7 .1h0m-.7 0h0m2.3 .1h0m-.9 0h0m-.2 0h0m.8 .1h0m-2.6 .1h0m2.7 0h0m-3.7 .1h0m3.9 .1h0m-1.1 0h0m1.1 .1h0m-.1 0h0m-3.7 0h0m2.7 .1h0m-1.6 .1h0m-.8 0h0m4 .1h0m-3.8 .2h0m3.2 .1h0m-2.6 0h0m1.1 .1h0m-.8 0h0m.2 .1h0m-1.7 .1h0m0 .2h0m.6 .2h0m3.3 .2h0m-1.3 0h0m-2.3 .1h0m.1 .1h0m2.9 0h0m-2.5 .1h0m-.4 .1h0m2.6 .2h0m-1.7 .2h0m-.8 0h0m-.1 .1h0m2.2 .1h0m-.1 0h0m-.7 .1h0m.6 .1h0m-.5 0h0m-.5 0h0m1.2 .1h0m-.5 .1h0m.6 .3h0m-.2 .1h0m-1 .1h0m1.3 0h0m-1 .1h0m.1 .1h0m.7 .1h0" stroke="#00b9e3" stroke-width="1.20" stroke-linecap="round" fill="none" opacity="1.0"/>
<path d="M336.4 108.5h0m-.5 0h0m-.1 0h0m.2 0h0m-.7 .1h0m.4 0h0m1.1 .4h0m-2.1 .1h0m.6 .1h0m-.5 .4h0m.3 0h0m2.2 .5h0m-2.1 .2h0m.3 .1h0m-.4 .2h0m1.8 0h0m.4 .1h0m-2.2 0h0m-.2 0h0m1.7 0h0m1.2 .2h0m-3.3 0h0m1.3 .1h0m-.8 .1h0m1.7 0h0m-2.5 0h0m2.1 .1h0m-1.6 .1h0m1.1 .1h0m-1.3 .2h0m2.2 .1h0m-1.8 .1h0m1.7 .1h0m1 .2h0m-2.6 .2h0m-.4 .3h0m.6 .3h0m1.2 0h0m-.7 .1h0m.8 .3h0" stroke="#93aa00" stroke-width="1.20" stroke-linecap="round" fill="none" opacity="1.0"/>
<ellipse cx="285.4" cy="29.6" rx="9.8" ry="14.6" transform="rotate(-8 285.4 29.6)" fill="none" stroke="#e0303c" stroke-width="0.8"/>
<path d="M360 45 Q339.6 98.5 311.5 46.6" stroke="#333" stroke-width="0.8" fill="none"/>
<path d="M310.5 45.0 L311.2 50.6 L314.6 48.2 Z" fill="#333"/>
<path d="M343.5 93.5 Q345 103 342.3 111.2" stroke="#333" stroke-width="0.7" fill="none"/>
<path d="M342.0 112.8 L340.3 108.8 L343.6 109.4 Z" fill="#333"/>
<text x="391.6" y="33.8" font-size="9.1" fill="#222">Cluster</text>
<circle cx="400" cy="43.3" r="1.2" fill="#f8766d"/>
<text x="402.5" y="44.9" font-size="8.8" fill="#222">C0</text>
<circle cx="400" cy="51.6" r="1.2" fill="#d39200"/>
<text x="402.5" y="53.2" font-size="8.8" fill="#222">C1</text>
<circle cx="400" cy="60" r="1.2" fill="#93aa00"/>
<text x="402.5" y="61.6" font-size="8.8" fill="#222">C2</text>
<circle cx="400" cy="68.3" r="1.2" fill="#00ba38"/>
<text x="402.5" y="69.9" font-size="8.8" fill="#222">C3</text>
<circle cx="400" cy="76.7" r="1.2" fill="#00c19f"/>
<text x="402.5" y="78.3" font-size="8.8" fill="#222">C4</text>
<circle cx="400" cy="85" r="1.2" fill="#00b9e3"/>
<text x="402.5" y="86.6" font-size="8.8" fill="#222">C5</text>
<circle cx="400" cy="93.4" r="1.2" fill="#619cff"/>
<text x="402.5" y="95" font-size="8.8" fill="#222">C6</text>
<circle cx="400" cy="101.8" r="1.2" fill="#db72fb"/>
<text x="402.5" y="103.3" font-size="8.8" fill="#222">C7</text>
<circle cx="400" cy="110.1" r="1.2" fill="#ff61c3"/>
<text x="402.5" y="111.7" font-size="8.8" fill="#222">C8</text>
<line x1="487.1" y1="7.9" x2="487.1" y2="128.8" stroke="#3a3a3a" stroke-width="0.8"/>
<line x1="485.1" y1="34.2" x2="487.1" y2="34.2" stroke="#3a3a3a" stroke-width="0.7"/>
<text x="483.9" y="37.4" font-size="9.0" text-anchor="end" fill="#333">4</text>
<line x1="485.1" y1="65.7" x2="487.1" y2="65.7" stroke="#3a3a3a" stroke-width="0.7"/>
<text x="483.9" y="68.9" font-size="9.0" text-anchor="end" fill="#333">0</text>
<line x1="485.1" y1="101.6" x2="487.1" y2="101.6" stroke="#3a3a3a" stroke-width="0.7"/>
<text x="483.9" y="104.8" font-size="9.0" text-anchor="end" fill="#333">-4</text>
<line x1="487.1" y1="128.9" x2="641" y2="128.9" stroke="#3a3a3a" stroke-width="0.8"/>
<line x1="493.6" y1="128.9" x2="493.6" y2="130.9" stroke="#3a3a3a" stroke-width="0.7"/>
<text x="493.6" y="139.3" font-size="9.0" text-anchor="middle" fill="#333">-10</text>
<line x1="537.2" y1="128.9" x2="537.2" y2="130.9" stroke="#3a3a3a" stroke-width="0.7"/>
<text x="537.2" y="139.3" font-size="9.0" text-anchor="middle" fill="#333">-5</text>
<line x1="579.7" y1="128.9" x2="579.7" y2="130.9" stroke="#3a3a3a" stroke-width="0.7"/>
<text x="579.7" y="139.3" font-size="9.0" text-anchor="middle" fill="#333">0</text>
<line x1="622.2" y1="128.9" x2="622.2" y2="130.9" stroke="#3a3a3a" stroke-width="0.7"/>
<text x="622.2" y="139.3" font-size="9.0" text-anchor="middle" fill="#333">5</text>
<text x="567.5" y="145" font-size="9.0" text-anchor="middle" fill="#222">UMAP_1</text>
<text x="0" y="0" transform="translate(467.2,66.5) rotate(-90)" font-size="9.0" text-anchor="middle" fill="#222" dominant-baseline="middle">UMAP_2</text>
<path d="M618.5 92.7 619.3 93.9 620.2 95.1 621.1 96.3 M560.6 102.6 559.4 103.5 558.3 104.5 557.2 105.4 555.9 106.2 554.7 107.1 553.5 108.0 M590.9 106.5 590.1 107.8 589.5 109.2 588.7 110.5 588.0 111.7 587.3 113.1 M613.3 81.0 612.0 81.8 610.7 82.6 609.4 83.3 608.0 83.9 606.6 84.3 M570.3 105.2 568.9 104.6 567.6 103.9 566.2 103.4 564.9 102.6 M631.1 80.8 631.4 82.2 631.7 83.7 632.3 85.1 633.0 86.4 633.6 87.8 634.3 89.1 M587.3 64.8 585.9 64.2 584.5 63.6 583.1 63.1 581.7 62.6 580.3 61.9 578.9 61.4 577.5 60.8 M627.1 69.2 628.0 70.5 628.9 71.6 629.9 72.8 630.8 74.0 M563.0 59.8 562.7 58.3 562.4 56.8 562.0 55.4 561.7 53.9 561.4 52.4 561.1 51.0 560.8 49.5 560.6 48.0 M497.1 66.0 498.0 67.2 498.9 68.4 500.0 69.4 501.2 70.4 M551.5 60.0 552.2 61.3 553.0 62.6 553.8 63.8 554.6 65.1 M558.5 26.4 558.1 24.9 558.0 23.4 557.8 22.0 557.8 20.5 558.1 19.0 558.3 17.5 558.6 16.0 M562.2 63.3 563.4 64.1 564.7 64.9 565.9 65.8 567.1 66.7 568.2 67.7 569.4 68.6 M547.3 96.2 546.2 97.3 545.2 98.3 544.0 99.3 542.8 100.1 541.4 100.7 540.1 101.4 538.7 102.1 537.4 102.7 M548.4 59.2 547.1 58.3 545.9 57.5 544.6 56.7 543.3 56.0 542.0 55.2 540.8 54.4 539.6 53.5 538.3 52.6 M583.0 65.2 583.9 64.0 584.8 62.8 585.7 61.6 586.6 60.4 M598.0 77.2 599.0 78.4 599.9 79.6 600.8 80.8 601.6 82.0 602.6 83.2 603.6 84.3 M536.9 32.4 536.1 33.6 535.4 35.0 534.7 36.3 534.0 37.6 M574.4 18.3 575.1 17.0 575.6 15.6 576.2 14.2 576.9 12.9 577.7 11.6 M584.1 98.0 582.8 98.8 581.5 99.5 580.2 100.2 578.9 100.9 577.4 101.3 576.0 101.7 574.5 102.1 573.1 102.5 M534.4 76.1 535.9 76.0 537.4 76.2 538.9 76.1 540.4 76.0 541.9 76.2 M500.7 58.6 499.5 57.8 498.1 57.1 496.8 56.4 495.4 55.8 494.0 55.3 492.5 54.9 M546.7 62.5 547.5 63.7 548.3 65.0 549.1 66.3 549.9 67.5 550.7 68.8 551.4 70.1 552.1 71.5 552.7 72.8 M603.6 29.5 602.1 29.3 600.6 29.2 599.1 29.1 597.6 29.1 596.1 29.0 594.6 28.8 593.1 28.8 M615.7 54.9 616.8 56.0 618.0 56.8 619.3 57.5 620.6 58.3 621.9 59.0 623.2 59.9 624.4 60.8 625.5 61.7 M575.4 92.7 576.9 92.5 578.4 92.5 579.9 92.5 581.3 92.6 582.8 92.7 584.3 92.8 M600.5 93.3 599.7 92.1 598.8 90.9 597.7 89.8 596.7 88.7 M584.9 94.4 584.6 93.0 584.6 91.5 584.9 90.0 585.3 88.6 585.6 87.1 585.8 85.6 586.0 84.1 M556.6 108.2 556.4 109.7 556.1 111.2 555.9 112.7 555.7 114.2 M564.0 98.9 563.8 97.4 563.8 95.9 563.8 94.4 563.8 92.9 563.6 91.4 563.3 89.9 563.0 88.4 562.7 87.0 562.3 85.5 M615.9 87.4 616.9 88.6 617.8 89.8 618.7 90.9 619.8 92.0 M589.3 79.6 589.2 78.1 589.1 76.6 588.9 75.1 588.7 73.7 588.7 72.2 588.8 70.7 589.0 69.2 589.1 67.7 M568.0 27.7 566.5 27.9 565.0 27.8 563.5 27.6 562.0 27.5 560.5 27.6 M569.6 80.6 571.1 81.0 572.5 81.4 574.0 81.8 575.5 82.0 577.0 82.2 M551.3 34.2 552.1 35.5 552.9 36.7 553.5 38.1 554.0 39.5 M628.9 68.7 627.5 69.1 626.0 69.3 624.5 69.5 623.0 69.6 621.5 69.7 620.0 69.9 618.5 70.0 617.0 70.2 615.5 70.3 M573.4 28.7 572.3 27.6 571.1 26.7 570.1 25.6 569.1 24.5 M571.5 65.5 573.0 65.9 574.4 66.4 575.7 67.1 577.0 67.9 578.3 68.6 579.6 69.4 580.9 70.1 582.3 70.7 M582.4 48.2 583.1 46.9 583.9 45.6 584.6 44.3 585.2 42.9 585.8 41.5 586.4 40.2 587.1 38.8 587.6 37.4 M618.9 58.0 617.7 58.8 616.4 59.7 615.4 60.7 614.4 61.9 613.6 63.2 612.7 64.4 611.8 65.5 610.8 66.7 M587.9 51.4 587.2 50.1 586.3 48.9 585.4 47.7 584.6 46.4 583.6 45.3 M560.4 50.0 561.9 50.1 563.4 50.5 564.8 51.0 566.1 51.7 567.5 52.3 M575.0 83.1 575.5 84.4 576.2 85.8 576.7 87.2 577.3 88.6 577.8 90.0 M566.0 74.1 566.0 72.6 566.1 71.1 566.1 69.6 566.2 68.1 566.2 66.6 M617.8 55.9 616.7 54.9 615.6 53.9 614.5 52.9 M578.0 42.7 577.7 44.1 577.3 45.6 577.0 47.1 576.5 48.5 575.9 49.9 575.3 51.2 M537.7 73.4 536.3 73.8 534.8 74.1 533.3 74.4 531.9 74.8 530.4 75.0 528.9 75.2 527.4 75.2 M547.2 18.6 545.7 19.0 544.2 19.2 542.8 19.5 541.3 19.8 539.9 20.3 M593.2 78.7 592.0 79.6 591.0 80.7 590.1 81.9 589.5 83.3 M602.6 72.0 601.7 73.1 600.7 74.3 600.0 75.6 599.0 76.8 598.0 77.9 597.0 79.0 595.8 79.9 594.7 80.9 M601.0 62.2 602.0 61.1 602.9 59.9 603.9 58.8 604.7 57.5 605.5 56.2 606.3 55.0 M530.4 79.3 530.3 77.8 530.1 76.3 529.9 74.8 529.7 73.3 529.3 71.9 528.8 70.5 M597.6 96.2 598.3 94.8 598.9 93.5 599.5 92.1 599.9 90.6 600.4 89.2 M565.2 120.7 566.4 121.6 567.6 122.4 M541.5 58.5 543.0 58.5 544.5 58.2 546.0 57.8 547.4 57.7 548.9 57.7 550.4 57.6 551.9 57.5 553.4 57.4 M545.8 22.7 546.7 21.5 547.6 20.3 548.5 19.1 549.5 18.0 550.6 16.9 551.6 15.8 M570.2 29.5 569.2 28.4 568.3 27.2 567.2 26.1 566.1 25.1 565.1 24.0 564.0 22.9 563.1 21.8 M610.4 79.9 611.8 79.4 613.3 79.0 614.7 78.4 616.0 77.8 617.3 77.0 M625.9 69.1 625.4 70.5 624.7 71.9 624.1 73.3 623.7 74.7 623.4 76.2 622.9 77.6 622.5 79.0 621.9 80.4 M553.0 100.3 551.7 99.5 550.4 98.8 549.1 98.1 547.9 97.2 546.6 96.5 545.2 95.8 M605.6 62.4 604.2 62.0 602.7 61.7 601.2 61.5 599.7 61.3 M515.3 55.6 514.4 56.8 513.6 58.1 512.8 59.4 512.0 60.6 511.2 61.9 M547.4 32.4 547.1 30.9 546.8 29.4 546.5 28.0 546.2 26.5 546.0 25.0 545.7 23.5 M572.9 89.1 572.1 90.4 571.4 91.7 570.6 93.0 569.9 94.3 569.2 95.6 568.8 97.1 568.3 98.5 567.8 99.9 567.3 101.3 M588.0 21.7 587.9 20.2 588.0 18.7 587.9 17.2 587.7 15.7 587.3 14.2 587.2 12.8 M598.2 95.8 598.1 94.3 598.0 92.8 597.9 91.3 597.8 89.8 597.8 88.3 M520.8 61.6 522.1 60.7 523.3 59.9 524.6 59.1 525.7 58.1 527.0 57.3 528.1 56.3 529.1 55.2 530.2 54.2 M579.3 13.0 578.3 11.9 577.2 10.8 M513.5 53.0 513.0 51.6 512.6 50.2 512.4 48.7 M612.5 91.8 611.2 92.5 609.8 93.1 608.5 93.7 607.2 94.5 606.0 95.4 M576.1 73.1 574.9 72.3 573.7 71.4 572.4 70.6 571.0 69.9 569.7 69.2 M517.0 75.7 515.5 75.4 514.0 75.2 512.5 75.2 511.0 75.3 M598.6 34.4 598.8 32.9 598.9 31.4 599.0 29.9 599.1 28.4 599.3 27.0 599.6 25.5 M543.8 56.3 542.7 55.3 541.7 54.2 540.6 53.2 539.5 52.1 M590.0 19.1 588.5 19.5 587.2 20.1 585.8 20.7 584.4 21.3 583.0 21.8 M551.5 47.3 550.8 46.0 550.1 44.6 549.5 43.3 549.0 41.9 548.5 40.5 547.9 39.1 547.4 37.6 546.9 36.2 M557.5 92.9 557.8 94.3 558.0 95.8 558.3 97.3 558.3 98.8 558.4 100.3 558.2 101.8 558.2 103.3 M551.0 26.7 549.9 25.8 548.6 24.9 547.5 24.0 546.3 23.0 545.2 22.1 543.9 21.3 542.5 20.6 541.1 20.1 M553.2 106.6 553.0 105.1 552.9 103.7 552.9 102.2 552.7 100.7 552.6 99.2 552.3 97.7 552.1 96.2 M550.0 63.4 551.3 64.2 552.6 64.8 554.0 65.5 555.3 66.1 556.7 66.7 M628.5 66.5 629.8 67.2 631.2 67.8 632.6 68.4 633.9 69.2 635.2 69.8 636.6 70.3 M510.9 57.7 511.9 58.8 513.0 59.8 514.3 60.7 515.3 61.8 516.5 62.8 517.5 63.9 518.6 64.9 M506.3 70.2 507.7 70.6 509.2 71.0 510.7 71.2 512.2 71.4 513.6 71.5 515.1 71.5 516.6 71.4 518.1 71.6 M601.8 65.4 600.4 64.9 599.0 64.3 597.6 63.7 596.3 63.0 595.1 62.1 593.8 61.3 M604.5 26.1 603.1 25.5 601.7 25.0 600.2 24.6 598.8 24.3 597.3 23.9 595.9 23.4 594.6 22.7 M587.1 98.5 586.0 99.6 585.2 100.8 584.3 102.0 583.5 103.2 582.4 104.4 581.5 105.5 580.4 106.6 M557.0 106.0 555.6 106.4 554.1 106.8 552.7 107.1 551.2 107.5 549.8 108.0 548.4 108.4 M583.2 49.7 584.4 48.8 585.7 48.0 586.8 47.0 587.9 46.0 M542.1 24.5 543.3 25.4 544.4 26.4 545.5 27.4 546.6 28.5 547.7 29.5 548.8 30.4 550.0 31.4 M622.0 70.7 621.7 72.2 621.4 73.6 621.0 75.1 620.6 76.5 M554.0 35.1 553.7 33.6 553.5 32.1 553.1 30.6 552.8 29.2 M595.4 93.1 593.9 92.8 592.4 92.7 590.9 92.6 589.4 92.4 M627.0 76.0 628.3 76.8 629.7 77.5 630.9 78.3 632.1 79.2 633.3 80.1 634.4 81.1 M575.7 27.0 574.4 27.8 573.1 28.6 571.7 29.2 570.3 29.7 568.9 30.1 567.4 30.4 M568.2 103.3 568.9 104.6 569.7 105.9 570.4 107.2 571.3 108.4 572.1 109.7 573.0 110.9 573.9 112.1 574.9 113.2 M577.8 95.6 576.3 95.7 574.8 95.8 573.3 95.8 571.9 96.0 570.4 96.2 568.9 96.3 567.4 96.3 565.9 96.3 M542.9 73.2 541.5 72.8 540.1 72.2 538.8 71.5 537.4 70.8 536.2 69.9 M592.5 76.1 593.2 77.5 593.9 78.8 594.6 80.1 595.2 81.5 595.9 82.8 M603.4 35.4 602.2 36.3 600.9 37.0 599.6 37.7 598.2 38.3 596.9 39.0 595.4 39.4 594.0 39.7 592.5 40.0 M545.4 83.8 546.7 84.4 548.1 85.1 549.3 85.8 550.6 86.6 552.0 87.3 553.4 87.7 M608.5 64.5 607.1 64.8 605.6 65.0 604.1 65.3 602.6 65.5 601.2 66.0 599.8 66.5 M597.5 68.8 597.3 67.4 596.9 65.9 596.6 64.4 596.4 62.9 596.2 61.5 596.0 60.0 M605.2 72.7 606.7 72.5 608.2 72.2 609.6 71.9 611.1 71.5 M595.4 66.3 594.1 65.5 592.8 64.8 591.4 64.2 590.0 63.7 M564.6 39.9 566.0 40.4 567.4 40.9 568.9 41.3 570.3 41.8 571.7 42.4 573.1 42.8 M591.8 70.9 593.1 70.2 594.4 69.5 595.8 68.9 597.1 68.2 598.5 67.7 599.9 67.1 601.3 66.6 M496.7 67.1 496.9 65.6 497.1 64.1 497.3 62.6 497.4 61.1 497.6 59.6 M516.6 75.4 515.3 74.7 514.0 74.0 512.6 73.3 511.4 72.5 510.1 71.8 508.7 71.2 507.3 70.6 M569.8 16.9 570.0 18.4 570.1 19.9 570.2 21.4 570.3 22.9 M617.0 72.9 617.6 71.5 618.2 70.2 618.8 68.8 619.6 67.5 620.3 66.2 621.1 64.9 621.8 63.6 M538.0 92.3 536.5 92.6 535.0 92.9 533.6 93.2 532.1 93.4 M574.1 42.1 575.5 42.6 576.9 43.2 578.3 43.9 579.6 44.5 580.9 45.2 582.1 46.1 583.4 47.0 M593.9 58.4 594.9 57.3 596.0 56.3 597.1 55.3 598.2 54.2 M519.5 59.3 520.8 58.5 522.1 57.8 523.4 57.1 524.8 56.5 526.2 56.1 527.7 55.7 M548.0 92.7 549.1 93.7 550.1 94.8 551.0 96.0 551.8 97.2 552.7 98.5 M546.8 92.1 548.2 91.7 549.6 91.2 551.1 90.8 552.6 90.6 554.0 90.3 555.5 90.0 557.0 89.7 558.5 89.5 M508.5 52.0 507.4 50.9 506.4 49.8 505.3 48.7 M597.8 58.7 598.3 60.1 598.7 61.6 599.1 63.0 599.5 64.4 599.9 65.9 600.3 67.3 600.4 68.8 600.4 70.3 M521.1 64.0 522.1 62.8 523.2 61.8 524.2 60.7 525.2 59.6 526.3 58.5 527.3 57.4 M552.7 106.4 551.8 105.2 550.9 103.9 550.2 102.6 549.2 101.5 548.5 100.1 547.8 98.8 546.9 97.6 546.0 96.4 545.1 95.2 M567.8 54.9 566.7 53.8 565.6 52.8 564.7 51.6 563.8 50.4 563.1 49.1 M601.3 20.8 602.8 20.8 604.3 20.8 M592.2 51.7 590.8 52.3 589.4 52.9 588.0 53.4 586.7 54.1 585.4 54.8 584.1 55.6 582.9 56.5 581.6 57.3 M605.1 37.0 604.1 38.2 603.1 39.3 602.1 40.4 601.0 41.4 599.9 42.5 M550.5 60.4 550.0 61.8 549.6 63.3 549.2 64.7 548.7 66.1 548.4 67.6 548.3 69.1 M552.2 100.1 551.0 99.3 549.9 98.3 548.7 97.4 547.5 96.5 546.2 95.7 544.9 95.0 543.7 94.0 542.5 93.2 541.2 92.4 M595.5 79.1 596.8 78.3 598.1 77.5 599.3 76.6 600.4 75.6 601.4 74.5 602.3 73.3 603.4 72.2 604.4 71.1 M585.4 25.0 586.7 25.8 588.0 26.5 589.2 27.4 590.5 28.3 M566.1 75.1 567.1 76.3 567.8 77.6 568.8 78.7 569.9 79.8 570.8 80.9 571.7 82.2 M586.1 22.5 584.6 22.2 583.1 22.0 581.7 21.6 580.3 21.2 578.9 20.6 577.5 20.0 576.2 19.2 575.0 18.3 573.8 17.5 M575.1 88.6 575.6 90.1 576.2 91.5 576.8 92.8 577.3 94.3 577.8 95.7 578.3 97.1 578.8 98.5 579.4 99.9 M582.8 38.3 582.2 36.9 581.5 35.6 580.7 34.3 579.9 33.1 579.1 31.8 578.3 30.5 M618.0 60.5 616.5 60.5 615.0 60.4 613.5 60.1 612.1 59.7 610.7 59.1 M532.8 54.4 531.6 55.3 530.5 56.2 529.3 57.1 528.1 58.1 M595.0 35.2 596.4 34.7 597.9 34.4 599.3 34.0 600.7 33.5 602.1 33.0 M616.7 54.5 615.2 54.8 613.8 55.2 612.3 55.5 610.8 55.8 609.4 56.2 607.9 56.4 606.4 56.4 M591.5 25.8 592.5 24.7 593.2 23.4 594.1 22.2 595.0 20.9 595.8 19.7 596.6 18.4 M536.4 76.9 537.8 77.5 539.2 78.0 540.7 78.3 542.2 78.4 543.6 78.7 545.1 78.9 M579.0 45.8 580.0 47.0 580.8 48.2 581.7 49.4 582.5 50.7 583.3 52.0 584.0 53.3 584.7 54.6 585.5 55.9 M569.2 109.0 570.0 107.7 571.0 106.6 572.0 105.5 573.1 104.5 574.4 103.7 575.6 102.8 576.8 101.9 578.0 101.0 M559.8 83.6 560.5 82.3 561.1 80.9 561.7 79.6 562.4 78.2 M596.9 26.5 597.7 27.8 598.5 29.0 599.3 30.3 599.9 31.6 600.8 32.9 601.5 34.2 602.4 35.4 603.2 36.7 M593.1 81.5 591.6 81.7 590.1 81.9 588.6 82.1 587.2 82.4 585.7 82.5 584.2 82.6 582.7 82.7 581.2 82.9 M583.9 44.1 584.0 45.6 584.2 47.1 584.6 48.5 584.9 50.0 585.1 51.5 585.4 53.0 585.6 54.4 585.9 55.9 M586.9 88.1 587.8 89.3 588.5 90.6 589.3 91.8 590.3 93.0 591.0 94.3 591.7 95.6 592.7 96.8 M603.0 81.6 603.9 82.9 604.8 84.0 605.7 85.2 606.6 86.5 607.4 87.7 M556.4 27.1 557.8 27.7 559.2 28.2 560.5 28.8 561.9 29.5 563.2 30.1 564.5 30.8 565.9 31.5 567.3 32.0 M537.9 94.5 539.3 93.9 540.7 93.5 542.1 93.0 543.5 92.4 544.8 91.7 546.2 91.1 547.6 90.6 549.0 90.0 M558.6 67.7 558.9 66.2 559.2 64.7 559.2 63.2 559.3 61.7 559.4 60.2 559.7 58.8 560.0 57.3 560.3 55.8 560.8 54.4 M553.7 67.8 555.2 67.9 556.6 68.2 558.1 68.4 559.6 68.8 M582.4 37.8 581.3 38.8 580.1 39.8 579.0 40.8 577.9 41.8 M586.9 84.6 588.2 85.4 589.3 86.4 590.6 87.2 591.8 88.1 593.1 88.8 594.4 89.6 595.7 90.3 M606.0 93.4 607.5 93.8 608.9 94.0 610.4 94.1 611.9 94.1 M549.7 13.3 548.4 14.0 547.1 14.7 545.7 15.2 544.2 15.7 M557.0 97.5 558.3 98.3 559.5 99.1 560.7 100.0 561.9 100.9 563.0 102.0 564.0 103.0 565.0 104.2 565.8 105.5 566.3 106.9 M570.9 65.6 572.1 66.5 573.2 67.6 574.4 68.5 575.5 69.5 576.5 70.5 577.7 71.5 M562.6 56.5 562.6 55.0 562.6 53.5 562.7 52.0 562.7 50.5 562.7 49.0 562.7 47.5 562.8 46.0 M592.5 83.2 591.3 82.2 590.0 81.4 588.9 80.4 587.6 79.6 586.5 78.7 M518.7 75.3 517.5 76.2 516.3 77.1 M530.8 64.7 530.1 66.0 529.5 67.4 529.0 68.8 528.4 70.2 M550.8 84.2 552.1 84.9 553.4 85.6 554.7 86.4 555.9 87.3 557.1 88.2 558.2 89.2 559.5 89.9 560.8 90.7 M617.9 52.6 616.5 53.0 615.0 53.1 613.5 53.4 612.0 53.6 610.6 53.9 M521.9 71.1 522.1 69.6 522.4 68.1 522.7 66.6 523.0 65.2 523.2 63.7 523.4 62.2 M604.0 34.6 604.7 33.3 605.3 31.9 605.9 30.5 606.5 29.1 M519.9 73.1 518.5 72.6 517.0 72.4 515.6 72.0 514.2 71.4 M569.5 36.9 570.3 38.1 571.3 39.3 572.3 40.4 573.4 41.4 574.4 42.5 M559.4 101.4 558.1 102.2 556.7 102.7 555.3 103.3 553.9 103.9 552.6 104.5 551.3 105.2 549.9 105.8 548.6 106.5 M530.5 88.4 531.9 87.9 533.4 87.5 534.8 87.1 536.2 86.5 M569.7 31.7 570.3 33.1 571.0 34.4 571.5 35.8 572.1 37.2 572.6 38.6 573.2 40.0 573.7 41.4 574.3 42.8 574.8 44.2 M583.7 111.1 585.0 110.3 586.3 109.5 587.6 108.9 589.0 108.3 590.5 107.9 M569.6 115.9 568.2 115.7 566.7 115.4 565.2 115.0 563.8 114.8 562.3 114.5 M544.4 100.7 544.9 102.1 545.6 103.5 546.1 104.9 546.6 106.3 547.0 107.7 547.7 109.1 M550.7 90.9 550.1 89.6 549.5 88.2 549.0 86.8 548.5 85.4 547.9 84.0 547.2 82.7 546.7 81.2 546.2 79.8 545.6 78.5 M606.8 86.3 605.3 86.6 603.9 87.1 602.4 87.5 601.0 88.1 M516.1 48.6 515.2 49.8 514.2 50.9 513.1 51.9 512.1 53.0 511.2 54.2 M528.7 85.4 529.3 84.1 529.7 82.6 530.2 81.2 530.7 79.8 530.9 78.3 531.4 76.9 531.9 75.5 M531.2 49.5 532.7 49.6 534.2 50.0 535.7 50.0 537.2 50.2 538.7 50.1 540.2 49.9 541.6 49.5 543.1 49.1 M576.5 95.9 576.0 94.5 575.3 93.1 574.6 91.8 573.7 90.6 M563.3 120.3 564.6 121.1 565.9 121.9 567.2 122.6 M582.4 38.9 581.8 37.5 581.2 36.1 580.8 34.6 580.2 33.3 M533.5 57.8 533.7 59.3 533.9 60.8 534.0 62.3 534.4 63.7 534.7 65.2 534.9 66.7 535.3 68.2 535.7 69.6 M522.6 56.5 521.5 55.5 520.4 54.6 519.3 53.5 518.4 52.3 517.6 51.1 516.5 50.0 515.6 48.8 514.6 47.7 M584.2 41.8 585.7 42.1 587.1 42.5 588.6 42.9 589.9 43.6 591.4 43.9 592.9 44.1 594.4 44.2 595.9 44.4 M612.2 70.2 613.1 71.4 614.1 72.5 614.9 73.8 615.9 74.9 616.7 76.1 617.6 77.4 M595.1 26.4 595.8 27.8 596.6 29.0 597.2 30.4 598.0 31.7 598.8 32.9 599.7 34.2 600.6 35.4 M541.7 31.7 540.2 31.5 538.7 31.3 537.2 31.0 535.8 30.6 M577.4 87.5 576.0 87.0 574.7 86.3 573.4 85.6 572.0 85.0 570.6 84.5 M623.6 71.3 623.6 72.8 623.4 74.3 623.1 75.8 623.0 77.3 622.9 78.7 622.8 80.2 M530.7 75.9 532.2 75.8 533.7 75.7 535.2 75.6 536.6 75.1 M596.7 25.0 598.1 25.5 599.5 26.0 601.0 26.3 602.4 26.7 M577.8 36.9 577.0 35.6 576.2 34.3 575.4 33.1 574.5 31.9 573.5 30.8 572.4 29.7 571.4 28.6 M546.0 101.8 547.4 102.4 548.7 103.1 550.1 103.7 551.5 104.3 552.9 104.8 554.2 105.5 555.6 106.2 M554.9 91.0 556.2 91.7 557.6 92.3 559.0 92.9 560.4 93.3 561.9 93.5 M551.5 79.0 551.6 80.5 551.6 82.0 551.5 83.4 551.2 84.9 551.0 86.4 550.9 87.9 M560.1 103.6 558.6 103.3 557.1 103.1 555.6 102.9 554.2 102.5 552.7 102.3 M530.5 72.1 530.1 70.7 529.7 69.2 529.1 67.9 528.6 66.4 528.1 65.0 527.7 63.6 527.3 62.1 526.8 60.7 M620.0 81.2 618.8 80.3 617.7 79.4 616.5 78.4 615.4 77.4 M568.2 107.4 567.1 106.5 566.0 105.5 564.8 104.6 563.6 103.7 M601.1 87.9 602.5 87.3 603.8 86.7 605.2 86.1 606.5 85.4 608.0 85.0 M565.1 94.3 566.3 95.2 567.5 96.0 568.8 96.8 570.1 97.6 571.3 98.5 572.5 99.3 573.7 100.3 M543.2 28.2 541.7 28.4 540.2 28.5 538.7 28.7 537.2 28.9 M634.7 68.4 633.2 68.5 631.8 68.3 630.3 68.3 628.8 68.2 627.3 68.2 625.8 68.1 624.3 68.2 622.8 68.2 M590.9 72.8 592.1 73.7 593.3 74.6 594.5 75.5 595.8 76.3 597.0 77.1 598.2 78.0 599.4 79.0 600.5 79.9 M580.4 27.9 579.0 27.3 577.6 26.8 576.3 26.1 574.8 25.7 573.4 25.2 572.0 24.8 570.5 24.5 569.0 24.4 M601.2 90.7 601.0 89.2 601.0 87.7 601.0 86.2 600.8 84.7 600.5 83.3 600.3 81.8 M608.2 55.4 608.5 56.9 608.6 58.3 608.8 59.8 609.0 61.3 609.3 62.8 609.6 64.3 M499.7 69.5 501.0 70.2 502.2 71.0 503.5 71.8 504.8 72.6 506.0 73.4 M517.7 51.5 518.2 52.9 518.7 54.4 518.9 55.8 519.0 57.3 519.1 58.8 519.1 60.3 519.1 61.8 519.1 63.3 M552.3 94.1 553.7 93.8 555.2 93.5 556.6 93.0 558.0 92.4 559.3 91.8 560.7 91.1 M563.8 76.4 562.3 76.6 560.9 76.9 559.4 77.3 558.0 77.7 556.5 78.1 555.1 78.4 553.6 78.4 552.1 78.4 M540.9 101.0 540.7 99.5 540.5 98.0 540.6 96.5 540.7 95.0 540.7 93.5 M550.2 82.3 548.8 82.0 547.3 81.7 545.8 81.6 544.3 81.5 542.8 81.3 541.3 81.1 539.8 81.0 M616.6 95.5 618.1 95.2 619.5 94.8 621.0 94.4 622.5 94.1 623.9 93.8 625.4 93.8 626.9 93.8 628.4 93.7 M583.2 78.1 584.7 78.4 586.1 78.9 587.5 79.4 588.9 80.0 590.2 80.7 591.5 81.4 592.9 82.1 M560.5 65.1 560.1 66.6 559.7 68.0 559.4 69.5 559.3 71.0 559.0 72.5 558.6 73.9 M600.8 11.4 599.3 11.3 597.8 11.2 596.3 11.1 594.8 11.0 593.3 11.0 M578.4 60.7 578.6 62.2 578.9 63.7 579.3 65.2 579.4 66.6 579.5 68.1 579.4 69.6 579.3 71.1 M559.9 36.0 560.5 34.6 560.9 33.2 561.4 31.8 562.0 30.4 562.6 29.0 563.2 27.7 563.8 26.3 564.6 25.0 M558.3 110.0 557.2 111.0 556.0 112.0 554.9 113.0 553.7 113.9 M558.0 86.7 557.3 88.0 556.5 89.3 555.6 90.5 554.8 91.8 554.0 93.0 M556.0 113.1 556.9 111.9 557.7 110.7 558.6 109.5 559.4 108.2 M631.0 74.7 631.8 73.5 632.7 72.3 633.6 71.1 634.5 69.8 M573.6 23.6 572.2 24.1 570.7 24.4 569.2 24.7 567.8 25.1 566.3 25.3 M602.5 17.4 603.4 18.5 604.5 19.5 M583.5 27.5 584.8 28.2 586.1 29.0 587.4 29.7 588.7 30.6 589.8 31.5 590.9 32.5 M605.1 97.8 604.3 96.6 603.6 95.3 602.9 94.0 602.2 92.6 601.6 91.3 601.0 89.9 M554.5 53.6 553.1 53.0 551.7 52.5 550.4 51.8 549.1 51.0 547.9 50.2 546.6 49.4 545.3 48.6 M597.2 50.7 597.1 52.2 597.2 53.7 597.3 55.2 597.4 56.7 M588.6 36.9 588.5 38.4 588.5 39.9 588.6 41.4 588.6 42.9 588.6 44.4 588.6 45.9 588.5 47.4 M569.6 46.2 568.9 44.8 568.2 43.5 567.3 42.3 566.4 41.1 565.4 40.0 M573.3 95.3 574.2 94.1 575.0 92.8 575.9 91.6 576.9 90.5 577.8 89.3 578.4 87.9 M593.7 81.1 593.1 82.5 592.4 83.8 591.7 85.1 591.0 86.4 590.3 87.8 589.5 89.1 588.9 90.4 M613.0 73.2 613.0 74.7 612.8 76.2 612.6 77.6 612.5 79.1 612.5 80.6 M550.1 47.5 549.9 49.0 549.5 50.5 549.1 51.9 548.7 53.4 548.2 54.8 547.5 56.1 547.1 57.6 M537.8 41.7 536.6 40.9 535.3 40.1 534.0 39.3 532.8 38.5 M612.5 56.1 611.6 57.3 610.7 58.5 609.8 59.7 608.7 60.8 607.8 61.9 606.9 63.1 606.1 64.4 605.3 65.7 M604.6 56.1 603.8 57.4 603.3 58.8 602.6 60.1 602.0 61.5 601.5 62.9 M518.9 56.6 517.4 56.9 516.0 57.3 514.5 57.6 513.0 57.8 511.6 57.9 510.1 58.2 508.6 58.5 M515.4 66.8 515.6 65.3 515.8 63.8 516.1 62.4 516.5 60.9 517.0 59.5 517.3 58.0 517.7 56.6 518.1 55.1 518.5 53.7 M530.0 78.8 531.1 79.7 532.2 80.8 533.3 81.8 534.4 82.8 M596.7 70.6 595.2 70.5 593.7 70.2 592.2 69.8 590.8 69.5 589.3 69.2 587.8 68.9 586.3 68.8 M502.9 53.6 502.6 55.1 502.4 56.5 502.2 58.0 502.1 59.5 M588.5 21.4 589.4 20.2 590.3 19.0 591.2 17.8 592.1 16.6 592.9 15.3 593.7 14.0 M554.7 58.9 553.3 59.5 551.9 60.0 550.4 60.4 548.9 60.6 M552.4 42.2 551.1 42.8 549.7 43.5 548.5 44.3 547.2 45.1 M624.5 86.0 623.4 87.0 622.3 88.1 621.4 89.2 620.3 90.3 619.3 91.4 M558.2 97.4 557.5 96.1 556.9 94.7 556.2 93.4 555.7 92.0 M508.1 59.3 507.1 58.2 506.2 57.0 505.3 55.8 504.4 54.6 503.5 53.4 502.8 52.1 502.1 50.7 501.5 49.4 M563.5 105.9 562.0 106.2 560.6 106.6 559.1 107.1 557.7 107.7 556.3 108.1 554.9 108.6 M591.7 98.8 593.2 98.6 594.7 98.6 596.2 98.7 597.7 98.8 M563.0 46.3 563.4 44.8 563.8 43.4 564.1 41.9 564.3 40.4 M522.0 75.3 523.2 74.5 524.5 73.8 525.7 72.9 527.0 72.0 M568.7 107.1 567.3 106.7 565.9 106.2 564.5 105.6 563.2 104.9 561.9 104.1 560.5 103.5 559.1 102.9 M541.5 92.0 542.0 93.4 542.5 94.8 543.1 96.2 543.6 97.6 544.0 99.1 544.3 100.5 544.8 101.9 M601.2 12.5 602.4 13.4 603.6 14.3 M580.3 98.6 581.3 99.7 582.4 100.7 583.4 101.8 584.5 102.9 585.5 104.0 586.3 105.3 587.2 106.4 M614.4 59.6 613.4 58.5 612.4 57.3 611.4 56.2 610.4 55.1 609.4 54.0 M573.5 100.8 572.7 102.1 571.8 103.3 570.8 104.4 569.9 105.5 568.9 106.7 M508.2 64.1 506.9 64.8 505.6 65.6 504.2 66.3 502.9 67.0 501.5 67.5 500.2 68.1 498.8 68.7 M619.8 92.9 620.5 91.6 621.3 90.3 622.2 89.1 623.1 87.8 624.1 86.7 625.1 85.6 625.9 84.4" stroke="#8a8a8a" stroke-width="0.3" fill="none" opacity="0.45"/>
<path d="M560.3 28.8h0m.6 .6h0m-.3 0h0m-.2 2.9h0m-.1 0h0m-1 .8h0m1.5 .6h0m.1 .2h0m-.2 .1h0m.2 .4h0m-1.5 1.7h0m-.4 .2h0m.1 .5h0m.3 0h0m.6 .1h0m.6 .1h0m-1.8 .1h0m.9 1.2h0m-.4 .3h0m0 .3h0m.9 .2h0m.2 .4h0m-1.8 .9h0m1.7 .1h0m-.7 .1h0m-.9 .5h0m2.1 .1h0m-1.4 .2h0m1 .3h0m-1.6 .3h0m1.5 .9h0m-1.1 .9h0m.8 .2h0m-1 .3h0m.8 .4h0m-.7 .4h0m1.5 .6h0m-1.4 1.3h0m-1 .2h0m1.1 .2h0m-.9 .1h0m-.4 .3h0m.6 0h0m1.7 .7h0m-.7 .1h0m-.2 .4h0m1.5 .3h0m-1 0h0m.8 .2h0m-1.1 .9h0m.1 .9h0m1 .1h0m-1.6 .3h0m1.6 .2h0m.2 .2h0m-2 .3h0m2 .6h0m-.5 .9h0m.3 1.1h0m-1.4 .1h0m.2 .1h0m1.4 .8h0m-1.1 .3h0m.2 1.7h0m.5 1h0m.1 0h0m-.4 .5h0m5.9-45.6h0m.4 1h0m-.3 .3h0m-1.2 .9h0m.1 0h0m-.1 .3h0m1.4 .9h0m-.7 .2h0m.7 .2h0m.5 .2h0m-2.6 0h0m2.1 0h0m-.7 .3h0m-.7 .2h0m1.2 .5h0m-1.1 .1h0m-1.3 .1h0m2.7 .1h0m-1.9 .1h0m-.1 .2h0m1.7 .1h0m.5 .3h0m-.8 .1h0m.4 .4h0m-2 .1h0m2.1 0h0m-3.1 .7h0m-.1 .1h0m.1 .6h0m-.6 .1h0m.4 .3h0m1.9 .3h0m.8 0h0m-2.7 .6h0m.9 .5h0m1.1 0h0m1.9 .4h0m-1.3 .5h0m-.8 .2h0m.8 .1h0m-3.8 .4h0m3.6 .1h0m-4.4 .4h0m1.8 0h0m.4 0h0m2.5 .1h0m1.2 0h0m-1.2 .6h0m-4.3 .1h0m.7 0h0m4.1 .1h0m-1.9 .6h0m-2.1 .1h0m-.9 0h0m1.4 .1h0m-1 .1h0m1.8 .1h0m.1 0h0m-.1 0h0m-2.2 .5h0m4.8 .1h0m.3 0h0m-.5 .2h0m.2 0h0m-3.7 .3h0m.8 .1h0m-.3 .1h0m2.5 0h0m-2.6 0h0m.1 .3h0m3 0h0m-4.5 .2h0m5.2 0h0m-.1 .2h0m.4 .6h0m-4.5 1h0m-1.5 .2h0m5.1 .1h0m-1.4 .3h0m-2.8 .1h0m2 .4h0m.7 0h0m1 .6h0m-1.9 .1h0m1.9 .1h0m-.9 .1h0m.9 .3h0m0 0h0m-3.6 .1h0m4.2 .3h0m-2.8 .4h0m-2.2 0h0m4.7 .3h0m-1 .1h0m-2.6 .3h0m2.1 0h0m-3 .6h0m2.2 .2h0m-.6 0h0m-.5 .2h0m1.6 .2h0m-.5 0h0m-2.6 0h0m1.6 0h0m.7 .1h0m2.2 .6h0m-4.5 .1h0m6 .2h0m-4.7 0h0m3.3 .1h0m.2 .1h0m-3.3 .5h0m3.4 .1h0m0 .5h0m-4.7 0h0m4.9 0h0m-2.1 .1h0m-2.7 .2h0m5.5 .5h0m-3.6 .1h0m1.7 0h0m-3.4 .3h0m3.1 .3h0m-3 .4h0m4.5 .4h0m-1.9 .2h0m-1.3 .1h0m1.3 .1h0m-.4 .1h0m2.5 0h0m.6 0h0m-3.6 .2h0m1.5 .4h0m.6 .2h0m-2.1 .1h0m2.5 .1h0m1.2 .3h0m-2 .4h0m-3.4 0h0m2.9 .1h0m-.5 .3h0m1.1 .2h0m-1.3 .1h0m-2.2 .4h0m3.9 .1h0m-.2 .2h0m-1.9 .2h0m-1.7 .8h0m-.6 .1h0m2 0h0m-1.3 .2h0m3.5 .1h0m-3.6 .2h0m3.5 .3h0m-3.4 .3h0m-.6 .1h0m3.1 .1h0m1.7 0h0m-.4 .4h0m-2.5 .2h0m1 .3h0m.7 .1h0m-.7 .3h0m1.3 0h0m-3.1 .1h0m0 .6h0m-1.1 .4h0m.1 0h0m.7 .2h0m3.8 .3h0m-1.6 .4h0m1.8 0h0m-.1 .3h0m-.5 .1h0m-3.1 0h0m.4 .2h0m-.8 0h0m2.9 .2h0m-2.6 .2h0m.6 .2h0m1.2 .1h0m-1.6 .4h0m2.8 0h0m-2.3 .1h0m3.7 .3h0m-.6 0h0m-4.8 .7h0m.6 0h0m3 .1h0m-1.5 .2h0m-1.2 0h0m1 .1h0m.4 0h0m.6 .1h0m-2.8 .1h0m4.8 0h0m-1.3 .2h0m1.9 .1h0m-2 0h0m-.4 0h0m-1.3 .3h0m.5 .1h0m1.9 0h0m1.2 .1h0m-1.9 .3h0m-3.7 .5h0m.1 .1h0m2.8 0h0m3.1 0h0m-2.1 .1h0m-1 0h0m-.2 .4h0m-1 .5h0m-1.3 0h0m2.7 .4h0m-.8 .1h0m3.2 0h0m-3.9 0h0m4.3 .1h0m-3.4 0h0m.5 .2h0m0 0h0m0 0h0m-2 .3h0m1.5 0h0m1.4 .1h0m-2.4 0h0m2.8 .1h0m-2 .1h0m3.4 .4h0m-3.6 0h0m-1.7 .1h0m5.1 0h0m-4.8 0h0m2.5 .2h0m-1.2 0h0m.4 .1h0m1.4 0h0m.2 .1h0m1.4 0h0m.2 .6h0m-1.9 .2h0m-2.7 .1h0m1 .2h0m.9 .4h0m1.8 .1h0m-4 .1h0m1.3 .5h0m.9 .2h0m.6 0h0m-2.1 0h0m-.1 .3h0m2.3 .1h0m2 .4h0m-3.2 .3h0m.4 .1h0m-2.4 .3h0m3.8 .1h0m-1.9 .1h0m-1.8 .1h0m4.4 .5h0m-1.5 .1h0m-.6 .2h0m1.9 0h0m-4 .1h0m4.9 0h0m-1.4 0h0m-1.8 .1h0m-1.2 0h0m-.3 .1h0m1.6 1.1h0m1.2 .1h0m.5 .4h0m-.5 .2h0m1 0h0m.5 .1h0m-2.7 .4h0m.4 0h0m2.3 .2h0m.1 .1h0m.3 0h0m-.1 .1h0m0 .3h0m-.1 1h0m-1.5 .1h0m1.9 1.5h0m4.6-57.8h0m.6 0h0m.5 0h0m-2.3 .5h0m-1.6 0h0m2.1 .1h0m-.8 .3h0m-2.4 .1h0m4.6 .2h0m-3.6 .3h0m3.9 .2h0m.3 .1h0m.1 .3h0m-1.3 0h0m-.7 .3h0m1.5 0h0m.5 .2h0m-2.1 .3h0m-.2 .2h0m-2.2 .1h0m4.3 .1h0m-4.4 .1h0m4.5 .2h0m.1 .1h0m-2.1 0h0m1.3 0h0m-2.3 0h0m1.7 .4h0m-3 0h0m3.3 .5h0m-4 .1h0m2.5 0h0m2 .1h0m-3.1 .3h0m-1.4 .1h0m5.1 0h0m-1.7 .2h0m0 .1h0m-3.8 .1h0m1.9 .5h0m-1.2 0h0m1.4 .3h0m3.3 0h0m-.9 .1h0m-.9 .1h0m-3.4 .4h0m5.2 0h0m-5 .3h0m2.7 0h0m-2.9 .1h0m-.2 0h0m5.4 .1h0m-3.1 .3h0m.9 0h0m-2.1 .2h0m2 .1h0m-2.8 .1h0m4.7 .2h0m-2.3 .4h0m-.1 0h0m-.5 .4h0m0 0h0m2.4 .1h0m-3 .1h0m3.3 0h0m-.8 .1h0m-.2 .1h0m-1.2 .3h0m1 .2h0m1.9 .1h0m-5.7 0h0m3.7 0h0m1.6 .1h0m-3 0h0m-1.7 .1h0m1.9 .2h0m.5 .1h0m-3 .2h0m1.6 0h0m2.6 .5h0m-.3 .1h0m-3.1 .3h0m3.5 0h0m-2.2 0h0m1.9 .2h0m1.2 .1h0m-4 0h0m2.5 .1h0m-.1 0h0m.6 0h0m-2 .1h0m1 .2h0m.7 .2h0m-3.3 .3h0m1.4 .5h0m1.4 .7h0m-2.2 0h0m2 .2h0m-.9 .3h0m-.4 0h0m2.4 .1h0m-2.4 .5h0m1.3 .7h0m1.5 0h0m-3.5 .3h0m2.3 0h0m-3.4 0h0m3.2 .3h0m-.6 .2h0m1.2 .1h0m-3.1 .1h0m-.7 .4h0m3.1 .4h0m-2.4 .2h0m3.7 .1h0m0 0h0m-2 .1h0m-.8 .4h0m2.7 .2h0m.2 0h0m-2.6 .4h0m-.7 .4h0m4.3 0h0m-3.5 .1h0m1.9 0h0m.7 .3h0m-1.2 0h0m-2.5 .1h0m1.3 .1h0m2.4 .1h0m-1.1 .3h0m-2.6 .1h0m0 .4h0m4.2 .1h0m-4.8 .2h0m4 .1h0m1 .2h0m.4 .1h0m-2.9 .2h0m0 .1h0m1.4 .1h0m-3.8 .2h0m3.7 .3h0m1.6 .2h0m-2.6 .3h0m-2.1 .2h0m4.7 .1h0m-4.7 0h0m-.2 .4h0m2.4 0h0m-3.1 .2h0m3.7 .1h0m-2.4 .1h0m.6 .4h0m2.2 .1h0m.1 .3h0m-4.1 .1h0m1.2 .2h0m4.1 0h0m-1 0h0m-3.6 .1h0m3.5 .1h0m-1.4 .3h0m-1.7 .2h0m.5 .4h0m-1.8 0h0m1.6 .1h0m3.1 0h0m.8 .1h0m-4.4 .2h0m1.5 0h0m-1 .2h0m-.6 0h0m4.4 .3h0m-.6 0h0m.8 .1h0m-.1 0h0m-2.8 0h0m1.4 .1h0m0 .1h0m-.3 .1h0m.7 .4h0m.6 .1h0m-2 0h0m-.2 .3h0m-1.5 0h0m3.2 .1h0m-4.2 0h0m2.9 .2h0m.9 .1h0m-3.6 0h0m0 .1h0m-.3 .5h0m4.3 0h0m-1.9 0h0m-1 .2h0m-1.7 .2h0m5.2 .1h0m-2.3 .2h0m1.6 .5h0m-1.1 .1h0m2 .1h0m-.2 .1h0m-2.6 .1h0m-2.6 .3h0m.9 .1h0m.3 .1h0m-.3 .1h0m2.5 .1h0m.1 .1h0m-2 .1h0m-.8 .1h0m1.7 .1h0m2.6 .2h0m-5.1 0h0m4.5 0h0m-2 0h0m2.2 .2h0m-1.8 .5h0m1.8 .1h0m-1.2 .1h0m.4 .2h0m-3.5 .1h0m2.3 .2h0m1.4 .4h0m-2.6 .1h0m4.1 .2h0m-2.4 .2h0m.3 .1h0m.9 .1h0m.6 0h0m-1.1 .4h0m-.8 .2h0m-.5 .4h0m3.1 .6h0m-2.9 .2h0m.4 0h0m-.6 0h0m1.5 .1h0m-.6 .1h0m.5 .1h0m.4 .1h0m1 0h0m-3.9 .4h0m4.3 .1h0m-.3 .3h0m-.3 .1h0m-4.6 0h0m1.2 .2h0m1.8 .1h0m-2.7 .3h0m4.3 .1h0m-3.3 .4h0m.3 .8h0m0 0h0m3.3 .1h0m-.4 .1h0m-3.9 0h0m2.7 .2h0m-3.1 .1h0m3.1 .2h0m.2 .3h0m-2.7 .3h0m3.6 .1h0m.3 .2h0m-4.7 0h0m.4 .1h0m4.3 .1h0m-4.4 .2h0m4 .3h0m-1.4 .1h0m1.6 .1h0m-3.8 .1h0m2.9 .2h0m1.2 .4h0m-2.4 .1h0m-1.6 .2h0m3.3 0h0m.4 .1h0m-.1 .1h0m-1.2 .2h0m-3 0h0m2 .3h0m2.2 .4h0m-2.9 .1h0m-1 0h0m4.1 .4h0m-4 .1h0m3.5 .1h0m-2.5 .3h0m2.6 .1h0m-2.5 0h0m0 .1h0m2.7 .2h0m-1.4 0h0m1.4 .2h0m-4.7 0h0m5.4 .2h0m-4.4 .4h0m.2 0h0m2.2 .1h0m-2.1 0h0m2.8 .4h0m-1.9 0h0m1.1 .2h0m-.6 .1h0m-.4 .1h0m-.4 0h0m2.7 .2h0m-4.5 .1h0m4.6 .1h0m-4 .2h0m.2 0h0m3.5 .1h0m.8 .3h0m-4.5 .1h0m.5 .1h0m3.8 .2h0m-.5 .1h0m-.4 .2h0m1 .1h0m-4.9 .3h0m4.6 .2h0m-1.4 .5h0m.6 .2h0m-2.8 .1h0m-.3 .5h0m3.2 .1h0m-4.4 .2h0m4.1 .3h0m-2.1 0h0m0 .1h0m1.3 .2h0m1.2 .1h0m.5 0h0m-4.7 .2h0m3.2 .1h0m1.5 .1h0m-4.6 .3h0m4.9 .7h0m.2 0h0m-4.4 .5h0m2.3 .1h0m-3.3 0h0m5.5 .1h0m-4.7 .5h0m1 .1h0m.9 .3h0m-2.1 .1h0m-.2 .5h0m.9 .2h0m1.2 .6h0m-2.2 .1h0m-.1 .1h0m5.3 .4h0m-.4 .3h0m-4.3 .3h0m1 0h0m3.4 .8h0m-.9 .2h0m-1.3 0h0m8-60.3h0m-1.6 .1h0m-1.8 .2h0m-1.5 .3h0m1.5 0h0m2 .1h0m-1.1 .1h0m1.5 .3h0m-1.5 .2h0m-1.9 .1h0m-.2 0h0m2.8 .6h0m-2.9 0h0m1.4 .3h0m.7 .2h0m.7 .2h0m1.4 .3h0m-2.8 .2h0m.1 0h0m.9 .3h0m.5 .1h0m.9 .4h0m.7 0h0m-1.2 .7h0m1.8 .1h0m-2.4 0h0m-1.2 .4h0m2.8 0h0m-4.8 .2h0m1.1 0h0m-.5 .1h0m5.3 0h0m-5.6 0h0m4.2 .2h0m-.4 .2h0m0 0h0m-3.1 0h0m.3 .2h0m2.8 .2h0m-2.6 .1h0m3.6 .5h0m-1.2 .1h0m-1.9 0h0m-1.6 .1h0m3.4 .3h0m.7 .2h0m1.4 .2h0m-5.5 .1h0m3.3 .1h0m-2 .6h0m1.3 0h0m-2.2 .4h0m4.2 .1h0m-.9 0h0m1.8 .2h0m-4.7 0h0m2.2 .2h0m-1.6 0h0m4 .2h0m-2 0h0m1.6 .1h0m-5 .1h0m4.9 .4h0m-3.1 .1h0m-.5 0h0m.5 .2h0m2.1 .3h0m-2.9 .3h0m-.3 0h0m4 .1h0m-1 .4h0m.6 .4h0m-2 .2h0m1.8 0h0m-3.2 .4h0m2.9 .2h0m.9 .1h0m-2.1 .1h0m-2.4 .1h0m2 0h0m-.4 .2h0m2.9 .1h0m-5.1 .1h0m3.9 0h0m-1.2 .2h0m2 0h0m-.1 .1h0m-4.4 .2h0m4.7 .2h0m-2.9 0h0m3.8 0h0m-2.8 .1h0m.8 .1h0m-2.1 0h0m-1.4 .1h0m4.7 .1h0m-1.5 .2h0m.6 .1h0m-2.6 .3h0m3.7 .1h0m-5.2 .1h0m4.1 .3h0m-.2 .1h0m-3 0h0m1.5 .6h0m.9 0h0m-.3 .1h0m-1.9 .6h0m.4 0h0m2.8 0h0m-3.1 .5h0m.7 .1h0m2.5 .2h0m-1.2 0h0m-1.7 .1h0m.8 .1h0m-1.2 .1h0m4.7 .3h0m-5.5 1.1h0m1.3 .1h0m4.4 .1h0m-1.9 .2h0m-1.5 .2h0m.7 .2h0m-.1 .3h0m1.7 .1h0m-.6 0h0m.5 0h0m.2 .2h0m-3.4 .1h0m2.5 .2h0m-2.5 .2h0m2.5 .1h0m-1.6 .1h0m3.2 0h0m-2.4 .1h0m1.1 .5h0m.5 0h0m-4.2 .1h0m.4 .1h0m4.1 .1h0m.8 .2h0m-2.9 .1h0m-.8 .1h0m.9 0h0m-1 .9h0m.7 .2h0m.2 0h0m-1.5 0h0m1.8 .1h0m-2 .1h0m4.4 .2h0m-5 .1h0m.9 .5h0m.6 .1h0m3.7 0h0m-2.7 0h0m1.8 .3h0m.4 .1h0m-2.2 .2h0m1.3 .1h0m.2 0h0m.6 .1h0m-4.4 0h0m4 .1h0m-2.1 .1h0m2.7 .1h0m-5.2 .2h0m4.6 .1h0m-2.9 .1h0m2.9 0h0m-1.2 .3h0m0 0h0m.2 .2h0m-1.2 .1h0m-2.7 0h0m1.4 .1h0m3.2 .2h0m-3.8 .1h0m4.5 .1h0m-4.7 .1h0m3.5 .1h0m-.2 0h0m-1.1 .1h0m1.4 0h0m-3 .1h0m.2 .1h0m-1.4 0h0m4.6 .3h0m-2 .2h0m-1.5 .1h0m-.1 0h0m4.3 .3h0m-.9 .3h0m.5 .1h0m-1.1 .2h0m-3 .1h0m.4 .1h0m1.2 .3h0m1.5 .1h0m.4 .1h0m.9 .2h0m-1.3 .2h0m-1.6 .1h0m0 .1h0m1.3 .2h0m-3.7 .2h0m4.6 .4h0m-4.3 .4h0m.4 0h0m3.4 .2h0m-.3 0h0m-1 0h0m-2.5 .2h0m1.1 .6h0m1.5 .1h0m-1.5 .2h0m0 0h0m.1 .2h0m1 0h0m2.5 .2h0m-4.1 .3h0m2.6 0h0m1 .2h0m-3 .1h0m1.9 .1h0m-3 .1h0m-.4 .3h0m.1 .1h0m2.3 .4h0m-1.7 .1h0m4.4 .4h0m-1.7 1h0m.4 .1h0m-1 0h0m-1.7 .1h0m-.8 .5h0m1.6 0h0m.9 .1h0m-1.4 0h0m2.7 .1h0m1.8 .5h0m-3.8 .2h0m-1.1 .3h0m3.2 0h0m-1.8 .1h0m.1 .2h0m-1.4 .1h0m.4 .4h0m1.6 .1h0m-1.1 0h0m1.1 .1h0m2.4 .2h0m-1.9 .3h0m-1.4 .1h0m3.1 0h0m.6 .1h0m-3.6 0h0m-1.2 .2h0m1.7 .2h0m.4 0h0m-2.1 .1h0m4.9 0h0m-5.6 .2h0m2.6 .2h0m-1.3 .4h0m3.8 .1h0m-.1 .7h0m-4.5 .1h0m.6 0h0m1.4 0h0m.4 .1h0m1.2 .5h0m-1.2 .3h0m-1.2 .2h0m3.5 0h0m.3 0h0m-3.7 .1h0m-1.2 .1h0m4.5 1h0m-1 .5h0m-2 0h0m.6 .3h0m0 0h0m-1.4 .2h0m1.2 0h0m1.9 .1h0m-1.1 .1h0m-1.8 .1h0m3 .2h0m1.1 0h0m-.8 .1h0m-3.7 .4h0m-.2 .2h0m.6 .4h0m-.1 .3h0m2.1 .1h0m-3.4 .5h0m4.8 .2h0m-2.3 0h0m.2 .1h0m-1.8 .5h0m4 .3h0m.2 .7h0m-5.5 .2h0m3 0h0m-1.1 .1h0m.3 .2h0m-1.1 .1h0m1.8 .2h0m2.2 .2h0m.2 .4h0m-.6 .3h0m-3.5 .1h0m4.6 .2h0m-.8 .1h0m-2 .5h0m-2.7 0h0m2.3 0h0m-2.4 .1h0m4.2 .1h0m-2.6 .1h0m2.1 .5h0m-2.4 .1h0m2.4 0h0m-.4 .2h0m1.6 .1h0m-3.8 .5h0m-.4 0h0m-.2 .1h0m1.9 .1h0m1.1 0h0m1.5 .1h0m-3.3 0h0m2.8 0h0m-1.5 .5h0m2.4 .2h0m-2.2 .1h0m-3 .4h0m.4 0h0m2.2 0h0m1.6 .1h0m-1 0h0m-3 .2h0m1.8 0h0m1.5 .1h0m-1.9 0h0m1.1 .1h0m-.8 .2h0m-.3 .2h0m2.5 .1h0m-2.4 .2h0m.7 0h0m-.6 0h0m3.5 .3h0m-4.5 .1h0m0 .5h0m1.9 .3h0m.1 .1h0m-2.9 0h0m.4 .2h0m.5 0h0m4.6 .3h0m-3.9 .1h0m-1.4 .2h0m3.2 0h0m-1.5 .1h0m1.6 .1h0m-2.7 .1h0m2.7 0h0m1.7 .1h0m-.1 .1h0m.1 0h0m-2.5 .1h0m2 0h0m-1.8 .6h0m-2.4 .2h0m.8 .2h0m1.6 0h0m.5 .2h0m1.1 .4h0m-.2 .5h0m1.8-61.9h0m3 .2h0m-2.7 0h0m3.7 0h0m-4.3 .1h0m.9 0h0m.7 .2h0m1.5 .1h0m.2 0h0m.5 0h0m.9 .2h0m-3.5 .2h0m3.3 .2h0m-.2 .1h0m-.9 .5h0m-.6 .2h0m-1.5 0h0m-.9 0h0m2.9 .1h0m-3.4 0h0m2.4 0h0m-1.5 .1h0m1.2 .1h0m1.2 0h0m-1.3 .1h0m-1.6 .1h0m3.6 0h0m1.8 .2h0m-3.1 .1h0m1.6 .1h0m-.2 .1h0m-1.1 0h0m2.1 .1h0m-.3 .2h0m-3.3 0h0m-.3 .2h0m-.9 .3h0m3.2 .1h0m.2 .2h0m0 .2h0m-1.4 0h0m-1.8 .2h0m.1 .6h0m1.3 .2h0m2.1 .1h0m-1.3 .2h0m1.8 .1h0m-4.1 .1h0m-.3 .6h0m5.5 .2h0m.1 .1h0m-3.8 0h0m-.1 .2h0m3.1 .1h0m.7 .3h0m-5.3 .1h0m2.4 .3h0m-.8 .2h0m1.9 0h0m.7 0h0m-4.4 .1h0m1.3 .1h0m4.4 1.2h0m-1 0h0m-.2 .1h0m-2.7 0h0m3.6 .3h0m-1.6 .1h0m-.3 .2h0m-2.5 0h0m.8 .3h0m.2 .1h0m3 .1h0m.3 .1h0m-.2 .1h0m-.5 .1h0m-.5 .1h0m.1 0h0m-3.6 0h0m.6 .2h0m3.8 .3h0m-3.4 0h0m3.8 0h0m-2.2 .5h0m.3 0h0m1.2 0h0m-1 .3h0m-1.2 .1h0m-1.7 .1h0m.9 .1h0m1 0h0m.1 .1h0m-1.8 .4h0m-.4 .2h0m.5 .1h0m4.5 .1h0m-3.3 .2h0m1.9 0h0m-1.6 .3h0m2.7 .1h0m-1.6 .1h0m-2.7 .1h0m2.7 .5h0m1.1 0h0m.6 0h0m-1.5 .1h0m-3.5 .7h0m1.5 .1h0m0 .1h0m-.1 .2h0m2.2 .2h0m1.3 .2h0m-3.9 .2h0m.6 .3h0m.4 .1h0m2.7 0h0m-2.4 .2h0m-2.4 .4h0m1.4 0h0m3.7 .2h0m-3.3 .4h0m-2.2 .4h0m3.5 0h0m-.4 .3h0m2.6 .4h0m-4.1 .2h0m3.5 0h0m-4.7 .3h0m.8 .4h0m1.9 .2h0m.3 .1h0m-3 0h0m.4 .4h0m1.1 .6h0m2.5 0h0m-4.3 .3h0m-.1 .2h0m2.1 0h0m0 .1h0m-.3 0h0m-1.6 .2h0m3.9 .4h0m-2.6 0h0m3.6 .1h0m-1.2 .6h0m-2.1 .2h0m1.7 .2h0m-2.5 .3h0m.5 .2h0m-1.2 .6h0m4 0h0m-1 0h0m.2 .1h0m-.4 .2h0m1.8 .1h0m-4.7 0h0m1.1 .1h0m2.4 .2h0m.5 .5h0m-1.9 .2h0m.9 .1h0m-.2 .1h0m-1.1 .3h0m.9 .2h0m-2.2 .4h0m1.8 0h0m2.6 .1h0m-3.8 .1h0m3 0h0m.6 .1h0m.7 .1h0m-3.4 .1h0m1.2 .1h0m-.3 .3h0m2.1 .2h0m-.8 .2h0m-.1 .2h0m-1.3 0h0m.9 .4h0m-.3 .3h0m-2.5 .1h0m1 .1h0m.7 .1h0m.1 0h0m-.1 0h0m1.3 .1h0m-1.3 .1h0m.6 .5h0m0 .4h0m-2.2 .1h0m.2 .1h0m3.1 .3h0m-4.2 .2h0m5.5 .1h0m-1.5 .7h0m.5 .4h0m-3 .1h0m-.5 .1h0m1.7 .1h0m.8 .8h0m.5 .1h0m1 .1h0m.1 .3h0m-2.5 .2h0m2.5 0h0m-1.9 .6h0m-1.7 .1h0m.8 0h0m3.3 .1h0m-3.8 0h0m.9 .1h0m2.2 .1h0m-1.6 .2h0m-.9 .1h0m-1.5 .3h0m-.8 0h0m.9 .3h0m4.3 .2h0m-.3 0h0m.5 .2h0m-.1 .6h0m-5.5 .2h0m.1 0h0m4.4 .3h0m1.2 .4h0m-5.5 .1h0m5.2 .5h0m-5.3 .2h0m5.2 .3h0m-1.1 .1h0m-3 .1h0m2.3 .1h0m.7 .3h0m-2.7 .3h0m3.5 .2h0m.5 .2h0m-.6 .4h0m-2.1 0h0m-1.7 .5h0m1.6 .1h0m1.4 .1h0m.2 .1h0m.7 .2h0m.1 0h0m-.3 0h0m-.1 .2h0m.5 0h0m-1.6 .1h0m.2 0h0m-.7 .1h0m1.5 .3h0m-1.3 .3h0m-.4 .1h0m2.2 .1h0m-2 .4h0m-1.7 .3h0m.7 1h0m-.5 0h0m.1 0h0m3.9 .2h0m-1.4 .3h0m-1.5 .1h0m2.8 .2h0m-4.1 0h0m-.1 .1h0m.7 0h0m1.2 .3h0m1.1 .1h0m-2.8 .3h0m.1 0h0m1 .1h0m2.7 .1h0m-4.1 .1h0m4.5 .1h0m-2.8 .1h0m-2.8 0h0m1.5 .6h0m1 0h0m-1.9 .2h0m1.4 .1h0m-1.6 0h0m3.9 .6h0m-.1 .5h0m-1.9 .1h0m1.7 .4h0m-2.5 .1h0m-1 .2h0m1.4 .9h0m1.8 .4h0m-3 0h0m-.4 .1h0m-.5 .3h0m1.1 0h0m2.1 .2h0m-2.7 0h0m3.6 .1h0m0 .3h0m1.7 .3h0m-1.1 0h0m-.7 .3h0m-2.2 .5h0m1.8 .2h0m.9 0h0m-.8 .1h0m0 0h0m-1.3 .1h0m-2.3 .2h0m2.3 .1h0m2.7 .2h0m-5 .1h0m3.4 .4h0m.7 .2h0m-1.1 .2h0m1.9 .2h0m-2 .3h0m-.3 .2h0m.6 0h0m1.2 .5h0m-2.9 .1h0m-.6 .1h0m-.8 .4h0m3.2 .1h0m-1.5 .1h0m-1.8 .3h0m1.4 .3h0m.7 0h0m.1 .1h0m-1.5 .1h0m-.6 .1h0m3.5 0h0m0 .2h0m-2.2 .2h0m.1 .1h0m3.9 .2h0m-1.9 0h0m1 .1h0m-2.4 .4h0m3.1 .1h0m.2 .1h0m-2.3 .1h0m-2.2 .1h0m2.4 .2h0m1.8 .1h0m-3.3 .4h0m-1.3 .1h0m3.6 .1h0m.7 .1h0m.2 0h0m.2 0h0m-4.2 .2h0m2.3 .3h0m2.4 .1h0m-1.1 .1h0m.5 .2h0m.2 .1h0m.1 .2h0m-5.2 0h0m3.3 .1h0m-.9 .1h0m-2.7 0h0m3.6 .2h0m-.9 0h0m-.3 .1h0m2.3 0h0m-1.4 .5h0m-3 .1h0m.9 0h0m3.9 0h0m-2.7 .6h0m-.4 0h0m1.5 .2h0m-.7 .1h0m2.2 .2h0m-1.2 .5h0m-.6 .1h0m1.2 0h0m1.3 1.2h0m1.1-66.5h0m4.8 .4h0m-3.2 .2h0m1.9 .4h0m1.6 0h0m-2.4 .1h0m1.8 .3h0m-3.3 .3h0m3.7 .2h0m-1 .2h0m-.6 0h0m-1.1 0h0m1.4 .2h0m-1.4 .1h0m-1.9 .2h0m1.7 0h0m-2.3 .2h0m-.4 .3h0m5.7 .2h0m-5.1 .1h0m-.4 .1h0m4.1 0h0m-2.4 .1h0m-.2 .1h0m.1 0h0m.3 .3h0m-2.2 .1h0m5.8 .2h0m-4.6 .2h0m3.6 .1h0m-.7 .2h0m-1.3 .1h0m-2 .3h0m4.6 .1h0m-.2 0h0m-.2 0h0m-.7 .3h0m-1.7 0h0m1.4 .7h0m-2 .4h0m2.6 .2h0m-4.2 0h0m5.2 .1h0m-3.4 .3h0m-1.3 .1h0m2.8 0h0m-.7 0h0m-.9 .5h0m2.2 .2h0m1.5 .8h0m-3.9 0h0m3.3 .2h0m-1.1 0h0m-3.6 .1h0m-.1 .3h0m5.3 .2h0m-5.8 .5h0m3.8 .5h0m-1.5 0h0m2.4 .7h0m-.7 0h0m-1.3 .1h0m2.6 .1h0m.4 .8h0m-4.4 .2h0m0 .2h0m4.3 0h0m-3.3 0h0m1.6 .5h0m1.3 .1h0m.8 .2h0m-2.2 .4h0m.1 0h0m1.4 .2h0m-2.2 .1h0m-1.3 .1h0m1 .2h0m-2.3 0h0m2.6 .3h0m1.9 0h0m-3.9 .3h0m.2 .1h0m.3 .1h0m3.9 .2h0m-.8 .1h0m-1.9 .2h0m2.6 .1h0m0 .3h0m-2.8 0h0m1.5 0h0m.5 .1h0m1.4 .1h0m-1.7 0h0m.5 .1h0m-.1 .1h0m.4 .1h0m-3 .1h0m2.2 .7h0m-1.7 0h0m-.9 .4h0m3.9 .2h0m-3.6 .1h0m-.9 .2h0m3.5 .2h0m.5 0h0m.2 .2h0m.5 .1h0m-.9 .1h0m-4.8 .7h0m1.4 .4h0m3 .2h0m-4.5 .1h0m.4 .1h0m2.7 .2h0m-2.3 .2h0m2.8 .5h0m1.3 .1h0m-2 0h0m-1.4 .7h0m2.6 .1h0m-2.5 .1h0m-.4 0h0m3.3 .2h0m1 .3h0m-4.7 .4h0m-.5 0h0m2.1 .7h0m-1.5 .1h0m1.1 .1h0m1.2 0h0m1.1 .2h0m-.2 .1h0m1.3 .1h0m-2.2 .1h0m1 .2h0m-2.7 .1h0m3.4 0h0m-4.5 .2h0m.4 .1h0m1.3 .3h0m3.9 .2h0m-5.4 .1h0m4.1 .1h0m-4.2 0h0m3.6 .3h0m-3.5 .3h0m.8 .3h0m3.1 .1h0m-2.7 .1h0m-1.6 0h0m-.2 .3h0m.2 .1h0m1.7 .1h0m3.8 .1h0m-1.5 .1h0m-.8 .1h0m-2.8 .1h0m4.1 .4h0m-3.5 .2h0m1.1 .5h0m.1 .2h0m-.1 .3h0m-.9 0h0m1.5 .1h0m-2.9 .1h0m5.1 .1h0m-4.9 .1h0m2 .3h0m2.2 .2h0m-.6 .4h0m.6 0h0m1.3 .3h0m-.1 .1h0m-.2 .1h0m.1 .1h0m.5 0h0m-3.7 .6h0m-1.8 .3h0m3.6 0h0m-3.6 .2h0m5.2 0h0m-5.7 .1h0m4.3 0h0m-3.4 .1h0m-.9 .2h0m0 .7h0m1.8 .1h0m1.6 0h0m2.3 .1h0m-.5 .2h0m-4.7 .1h0m2.5 .2h0m-.5 .1h0m-.5 .1h0m-1.3 .1h0m5 .6h0m-3 0h0m1 0h0m1.5 0h0m-.1 1.1h0m-3.2 0h0m.8 0h0m1.9 0h0m.1 .1h0m-3.7 0h0m-.8 .2h0m4.9 0h0m-.1 .2h0m-.4 .2h0m-2 .2h0m1.9 .2h0m-2.1 .1h0m3.5 .3h0m-.7 .2h0m-1.2 .1h0m1.7 0h0m-5.5 .2h0m1.8 .3h0m2.2 0h0m-.1 .1h0m-1.5 0h0m1 .3h0m1.8 0h0m-.4 .1h0m-3.5 .2h0m4 .2h0m-1.5 .1h0m-.4 .5h0m-1.5 .7h0m2.1 .1h0m-1 .6h0m.9 .2h0m.2 0h0m1.1 0h0m-.7 .5h0m.9 .1h0m-3 0h0m.8 .5h0m-1.4 .1h0m-1.9 0h0m.9 0h0m-.1 .1h0m3.3 .2h0m-3 0h0m-1.2 .3h0m.7 .2h0m.2 0h0m4.4 .1h0m-1.9 0h0m-.6 0h0m-.2 .1h0m2.8 .3h0m-2.9 .4h0m-.2 0h0m-2.1 0h0m3.6 .1h0m-1.9 .1h0m1 .2h0m-2.6 0h0m5.6 .1h0m-1.7 .2h0m-2.1 .1h0m-.9 0h0m3.5 0h0m-2.5 .1h0m1.8 .4h0m-2.6 .2h0m3.5 .3h0m-4.2 .1h0m4.6 .4h0m-2.1 0h0m1.2 .1h0m-2.8 0h0m2.5 0h0m.5 .3h0m.5 .1h0m-1.4 .1h0m-3.3 .7h0m4.9 .1h0m.4 0h0m-1.5 .1h0m-2.8 .2h0m2.1 .9h0m-3.4 .2h0m2.9 0h0m2.3 .3h0m-1.8 0h0m-.3 .6h0m2.4 0h0m-5.3 .2h0m2 .5h0m.6 .5h0m2.5 .1h0m-4.2 .8h0m3.1 0h0m-2.8 .2h0m-.7 .6h0m-.2 .1h0m4.2 .1h0m-2.1 .1h0m-.1 .2h0m.9 .1h0m-1.3 0h0m3.8 .1h0m-4.9 .4h0m1.9 .2h0m-1.5 0h0m-.9 .1h0m.6 .2h0m-.5 0h0m3.3 .2h0m-.5 .2h0m-.1 .1h0m.2 .2h0m-.4 .2h0m2.2 0h0m-3.7 .2h0m1.5 0h0m-2 .2h0m4.5 .1h0m-1.2 .4h0m1.3 .5h0m-5.6 .1h0m2.7 0h0m3 .1h0m-1.3 .3h0m-1.4 0h0m1.7 .1h0m-3.7 .1h0m1.9 .3h0m-.5 .2h0m-1.6 .2h0m2.3 0h0m-3 .1h0m.7 .6h0m1.4 .3h0m2.6 0h0m-4.4 .2h0m2.8 .2h0m-.8 .3h0m-.7 .2h0m1.5 .2h0m-.9 .6h0m2.8 0h0m-.4 .3h0m-.3 .2h0m-3.1 .1h0m1.8 .3h0m-2.9 .3h0m2.2 .1h0m1.1 .6h0m-.7 0h0m-1 0h0m3.1 0h0m-2.3 0h0m-1.9 .1h0m1.3 .3h0m2 0h0m1.6 .3h0m-3.4 .1h0m1.2 .1h0m2.4 .1h0m-.4 0h0m-5.1 .1h0m3.4 .1h0m.3 .2h0m-2 0h0m1.5 .2h0m-2.1 .3h0m1.7 .1h0m-.2 0h0m-.9 .3h0m-.2 .2h0m-1.8 0h0m2.6 0h0m1.9 .1h0m.4 .4h0m-2.2 0h0m.4 .1h0m-3.1 0h0m3 .4h0m1.4 .3h0m-3.2 .2h0m4.1 .2h0m-3.1 .1h0m1.1 .3h0m.1 .2h0m.9 .1h0m.7 1h0m2.3-68.7h0m2.7 .3h0m-2.3 .3h0m-1.4 .1h0m2.6 0h0m-2.9 .6h0m2.8 .4h0m2 .2h0m.8 .1h0m-3.1 .4h0m.1 .3h0m1.6 .1h0m-.9 .2h0m.6 .1h0m-1.4 .3h0m1.3 .3h0m1.7 .3h0m-4.4 .1h0m2.6 0h0m.5 .1h0m.5 .2h0m-1.3 .1h0m.4 .2h0m.5 .1h0m-3.3 .1h0m1.7 .1h0m1.9 .4h0m1 0h0m-.8 .2h0m-1.5 0h0m-2.1 .1h0m3.5 .1h0m-.9 .4h0m.1 .1h0m-3.5 .5h0m.7 .1h0m-.6 .1h0m4.2 .1h0m.4 .2h0m-1.6 .3h0m2.1 .1h0m-4 .1h0m1.3 .1h0m.8 0h0m-3.8 .2h0m3.6 0h0m-1.8 .3h0m-.2 .2h0m-1.5 .1h0m3.9 0h0m-2.9 0h0m-1 .1h0m1.4 .3h0m1.8 .1h0m1.6 .2h0m-.2 .5h0m-2 .1h0m-1.4 .2h0m1.9 .1h0m.8 .2h0m-2.8 .1h0m.8 0h0m1.3 .3h0m1.4 0h0m-2.9 .2h0m-1.1 .1h0m1.4 .4h0m.3 .1h0m-1.2 0h0m2.9 .2h0m-3.5 .2h0m4.4 0h0m-.4 .3h0m-3.8 .4h0m1.8 .2h0m1.3 0h0m-1.3 .2h0m1.4 0h0m.4 .2h0m1.2 .2h0m-4.7 .4h0m3.9 .1h0m-.7 .1h0m.3 .1h0m-3.9 0h0m4.5 .2h0m.8 .1h0m-4 .3h0m-1.1 .1h0m5 .9h0m0 .3h0m-1.6 1.4h0m.8 .1h0m-3.1 .1h0m.2 0h0m0 .3h0m2.9 .2h0m-3.7 .2h0m2 0h0m-.9 .4h0m0 0h0m.2 .2h0m.7 .2h0m1 .2h0m-2.8 .1h0m-.5 .4h0m3.9 .1h0m-1.1 0h0m-.5 0h0m.3 .4h0m2.1 0h0m-.4 .4h0m-.6 .2h0m.4 .1h0m-4.3 .1h0m2.7 0h0m-.8 .1h0m2.7 .1h0m-3 .2h0m2.2 .1h0m-2 .3h0m-2 .2h0m4.1 .1h0m.3 .1h0m-2.7 .1h0m2.8 .1h0m.3 0h0m-3.9 0h0m-1.4 0h0m4.5 .4h0m1.3 .2h0m-.5 0h0m-5.1 0h0m4.3 .2h0m.9 .2h0m-2.4 .1h0m-2.5 0h0m2.6 .1h0m1.1 .1h0m-2.6 0h0m-.3 .4h0m.7 .3h0m3.7 .1h0m-4.1 0h0m2 .3h0m.8 .2h0m-4 .1h0m3.3 .3h0m.4 .3h0m-2.3 .1h0m3.5 .2h0m-5.2 .6h0m.1 .2h0m.5 .5h0m3.6 0h0m-3.3 .1h0m2.9 .1h0m.9 .1h0m-4.5 .7h0m3.6 0h0m-.7 .2h0m2 0h0m-2 .1h0m-.1 0h0m-3 .1h0m1 .1h0m2.4 .3h0m-1.8 0h0m-.8 0h0m.9 .1h0m-1.7 0h0m3.4 .2h0m1.1 .3h0m-1.4 .1h0m-1.9 0h0m1 .3h0m0 .1h0m-1.5 0h0m2.9 0h0m.7 0h0m-.3 .9h0m-.4 .1h0m-3.2 .4h0m4.7 .1h0m-4.9 .5h0m4.6 .4h0m-2.6 0h0m-2 0h0m-.2 0h0m4.7 .2h0m-1.8 0h0m-.5 .2h0m-.6 0h0m1.3 .3h0m.4 .1h0m.9 .1h0m-2.7 .1h0m-1.5 .1h0m3.8 .2h0m1.2 .4h0m0 0h0m-2 .3h0m.4 0h0m.5 .1h0m-.5 .7h0m1.1 .3h0m-2.3 0h0m1.8 .1h0m-2.1 0h0m1.7 .1h0m.1 .1h0m-2.2 .1h0m-1.2 .1h0m3.7 .1h0m-3.2 0h0m1.5 .1h0m.8 .4h0m-2.3 .1h0m.7 .2h0m.1 .1h0m1 0h0m2.1 .2h0m.1 0h0m-4.4 0h0m.3 0h0m2 .1h0m-1.1 .2h0m-1.7 .1h0m5.4 0h0m-3.2 .1h0m3.4 0h0m-5.1 0h0m4.6 .2h0m-3 .4h0m2.6 0h0m-4.2 0h0m3.3 0h0m-1.3 .9h0m1.8 0h0m-1.2 .1h0m-2 .5h0m2.2 0h0m-3 0h0m3.1 .4h0m-1.9 .1h0m2.4 .1h0m.9 .1h0m-.5 .1h0m-.8 0h0m-3.5 .2h0m3.2 .3h0m1.6 0h0m-4.9 .2h0m1.5 0h0m-1.2 .2h0m3.9 .1h0m-1 .2h0m-.3 0h0m2.7 .4h0m-1.4 .4h0m1.4 .2h0m.1 .4h0m-4.1 .3h0m2.5 .2h0m.8 .1h0m-.7 .1h0m-2.5 .2h0m2.2 .2h0m-3.3 .1h0m1.3 .2h0m-1 .5h0m3.2 .1h0m.2 .5h0m-1.3 .2h0m1.2 .3h0m-2.2 .8h0m1.4 .3h0m-1.6 .3h0m1.4 .4h0m2.1 .2h0m-.1 .3h0m-1.5 0h0m1.7 .5h0m-4.3 .2h0m3.9 .1h0m-1.2 .3h0m-.4 .2h0m1.1 .5h0m-1.8 .3h0m-.9 0h0m1.8 .1h0m-3.4 .1h0m5.2 0h0m-3.3 0h0m2.7 .1h0m-3.1 0h0m2.4 .3h0m.8 .1h0m-1 .2h0m.2 .1h0m1 0h0m-1 .3h0m.2 .3h0m.4 .1h0m-4.2 .2h0m2.3 .1h0m2.2 .1h0m-.3 .1h0m-2.9 .1h0m-1.2 .3h0m0 .1h0m2.8 .1h0m2.1 .1h0m-3 0h0m0 .2h0m3.2 .1h0m-.7 0h0m-2.1 .1h0m-.9 .4h0m1.9 .2h0m-1.3 0h0m-.8 .1h0m3.1 .1h0m-.4 0h0m-4.2 .2h0m.9 .3h0m2.5 0h0m1.8 .2h0m-2.1 0h0m-3.1 0h0m.2 .3h0m4.1 .1h0m-2.4 0h0m1.2 .2h0m.9 .1h0m-.3 0h0m-3.6 .1h0m1.5 .2h0m.8 .1h0m1 .2h0m-.8 .1h0m-2.6 0h0m4.6 .1h0m-1.5 .3h0m0 .4h0m-1.4 .3h0m-1.5 0h0m1.9 .1h0m-1.3 .1h0m3.6 .1h0m-4.6 .2h0m1.1 0h0m3.1 .1h0m-2.7 .3h0m1 .2h0m0 .1h0m.1 .1h0m-1.7 .1h0m4.4 0h0m-2.3 .1h0m-1.9 .8h0m2.2 0h0m2.1 .3h0m0 .3h0m-1.5 0h0m.8 .2h0m-1.6 .4h0m-1 .2h0m-2 .6h0m.1 .6h0m.5 .1h0m2 .1h0m-.5 .1h0m.4 .1h0m.9 .1h0m-.6 .4h0m.3 .1h0m1.1 0h0m-3.9 .4h0m2.9 .1h0m0 .1h0m-2.2 .1h0m.2 .2h0m.1 .1h0m-.3 .9h0m-.7 .2h0m.5 .3h0m-.5 .2h0m.7 .3h0m-.2 .1h0m5.6-66.5h0m.1 .6h0m2 .4h0m-.8 .1h0m-1.2 .2h0m2.3 0h0m.2 .1h0m.4 .3h0m.1 .3h0m.5 .2h0m-1.7 .1h0m.6 .3h0m-.2 .1h0m.3 .4h0m1.4 .3h0m-4.8 0h0m3.5 .4h0m-.1 .2h0m-1.9 .1h0m-1.1 .8h0m2.6 .1h0m0 0h0m1.6 .3h0m-.1 0h0m-2 .1h0m3.5 0h0m-3.2 .4h0m-1 .2h0m2.3 .4h0m-1.4 .5h0m.3 .1h0m-3 0h0m5.1 .5h0m.2 .1h0m-3.8 .1h0m4.3 0h0m-1.1 .2h0m.4 .2h0m-1.9 .2h0m2.5 0h0m-2.9 0h0m1.8 .1h0m-3.9 .1h0m2 .1h0m-2.3 0h0m1.6 0h0m-.7 .3h0m.2 0h0m-1.4 .4h0m2.7 0h0m.2 .1h0m.1 .2h0m2.4 0h0m-2.8 .3h0m.5 .6h0m-.9 .1h0m3 0h0m-4.2 0h0m-.5 .4h0m3.4 .1h0m-2.8 0h0m-1 .1h0m1.2 0h0m2.3 .2h0m-3 0h0m2 .2h0m-2.7 .1h0m.7 .2h0m3.7 .2h0m.7 0h0m-1.2 .4h0m-1.2 .2h0m-2.1 .2h0m4.3 .3h0m.9 .2h0m-2.1 0h0m-1.5 .2h0m-.5 .2h0m-1.5 .4h0m.4 .3h0m3.2 .1h0m-.1 .2h0m-3.5 .1h0m5.8 .3h0m-.8 0h0m-2.5 .4h0m.1 .6h0m.5 .1h0m-1.6 0h0m-.4 .4h0m2.6 0h0m-2.9 .1h0m4.5 .1h0m-.1 0h0m-1.8 .1h0m-3.6 .5h0m.3 0h0m1.8 .1h0m-.7 0h0m-1.3 0h0m2.2 .2h0m1.1 .1h0m-3.1 .2h0m2.2 .2h0m-1.4 .1h0m4.3 .2h0m0 .4h0m-4.2 .3h0m-.7 .2h0m5 .1h0m-4.7 0h0m2 .1h0m3.1 .5h0m-.2 0h0m-3.9 .2h0m-1.2 .2h0m.4 .1h0m-.9 .1h0m3.8 .2h0m-2.3 .1h0m-.4 .2h0m2.1 .3h0m-2.3 .1h0m1.2 .1h0m2.1 0h0m-1.1 0h0m-.8 .3h0m2.5 .1h0m-2.7 0h0m2.6 .1h0m.6 0h0m-3.4 0h0m-1.1 .2h0m4.5 .4h0m-3 .2h0m-1.8 .3h0m3 0h0m.3 .1h0m-.1 .5h0m-2.9 0h0m2.9 .1h0m.3 0h0m-2.9 .2h0m1.2 0h0m1.1 .1h0m.5 .1h0m-3.8 .1h0m2.5 .1h0m-1.6 .1h0m.7 0h0m2.5 .1h0m.7 .6h0m.6 0h0m-4 .3h0m1 .2h0m.5 .1h0m.7 0h0m-2.2 .3h0m2.2 0h0m-3.8 .1h0m1.8 .2h0m.8 .1h0m2.9 .8h0m-4 0h0m-1.1 .2h0m.3 .2h0m4.4 .3h0m-3.8 0h0m2.4 .1h0m-2.4 .2h0m-1.3 0h0m2.8 .1h0m.6 0h0m1.4 .1h0m-4.3 .6h0m3.7 0h0m-1.5 .3h0m-1.2 .3h0m2.6 0h0m-3.3 .1h0m.1 .4h0m.9 .1h0m1.4 0h0m.1 .1h0m-1.1 0h0m1.4 .6h0m1.7 .1h0m-2.8 .1h0m.5 .1h0m-1.2 .1h0m1.4 .3h0m-1 .1h0m-1.8 .1h0m1.9 .2h0m-1.7 0h0m3.6 .2h0m-2.1 0h0m.7 .1h0m2.1 .1h0m-.2 .4h0m1 .1h0m.1 .2h0m-3.2 .2h0m-.7 .1h0m-1.8 0h0m4.4 0h0m-1.5 0h0m-.4 .6h0m-2 .1h0m2.3 .1h0m2.1 0h0m-2.4 .1h0m.5 0h0m-2.8 .3h0m1.9 .5h0m2.4 .4h0m-3.1 0h0m3.1 .3h0m-3.5 .1h0m0 0h0m.7 .1h0m3.3 0h0m-2.3 0h0m-.4 .1h0m-.5 .3h0m1.9 0h0m-.3 .1h0m-.9 .4h0m1.9 .1h0m-2.3 .3h0m3 .1h0m-3.8 .4h0m1.7 .2h0m.7 0h0m-3.4 0h0m3 0h0m-3.2 .1h0m.1 .1h0m.2 .1h0m.8 .4h0m.7 .2h0m.3 .2h0m0 0h0m1.1 .3h0m-1 .1h0m-1.5 0h0m3.6 .1h0m-1.4 .9h0m-.4 .1h0m-.7 .1h0m-2 0h0m2.6 .3h0m1 .1h0m-1.6 .3h0m.2 1h0m.3 .4h0m-1.5 .1h0m.5 0h0m-.5 .4h0m.1 .1h0m.1 .2h0m-.2 .4h0m1.1 0h0m-.3 .1h0m-1.3 .1h0m-.5 .6h0m1.1 .5h0m.6 .6h0m.6 .1h0m-.8 .7h0m.1 .1h0m-1.4 .1h0m-.1 .4h0m0 .1h0m2.1 .2h0m-2 2.1h0m.6 1h0m.6 .3h0m-.8 .3h0m.2 .9h0m0 1.3h0m-.1 .5h0m-.3 .4h0m-.4 1h0m.1 1.5h0m-.1 .3h0m6.6-53.8h0m.3 0h0m-.1 1.3h0m.1 .3h0m-.2 .8h0m-.5 .1h0m1.9 .4h0m-.5 .1h0m-.2 .6h0m.2 .1h0m.6 .2h0m-2 .8h0m1 .1h0m-.9 .1h0m.9 .3h0m-.1 .1h0m-.2 .4h0m-.3 .3h0m0 .1h0m-.4 .1h0m0 .9h0m2.3 1.8h0m.1 .2h0m-.5 .1h0m-1.8 1.1h0m-.1 .1h0m1.7 1.1h0m.8 .1h0m-1.5 .5h0m1.1 .3h0m-.2 .1h0m-1.5 .3h0m.5 0h0m1.7 .4h0m-2.7 .4h0m.8 .4h0m1.6 .4h0m.1 0h0m-2.1 .2h0m2 .1h0m-1.9 .1h0m1.9 0h0m.2 .3h0m-.6 .3h0m.5 .9h0m-.7 .2h0m.7 .2h0m-.5 1.1h0m.4 .2h0m-.2 .2h0m-1.3 2.3h0m.2 .7h0m.5 .9h0m-1 .1h0m1 1.5h0m-.2 1.5h0m-.2 .4h0m-.4 .1h0m.3 .2h0m-.4 .3h0m.1 .2h0m-.3 1.4h0" stroke="#5896cc" stroke-width="1.10" stroke-linecap="round" fill="none" opacity="0.8"/>
<path d="M596.6 69h0m.2 .6h0m-.5 .5h0m.4 .8h0m-.2 .4h0m.4 .2h0m-.6 1.1h0m.2 .3h0m0 .1h0m-.5 .5h0m.7 1.8h0m-1 .2h0m.6 1h0m0 .1h0m-.6 0h0m.5 .1h0m-.4 .5h0m.8 .1h0m-.7 1h0m-.1 .2h0m.1 .3h0m.7 .4h0m-.7 .3h0m.6 .3h0m.2 1h0m.2 2.2h0m5.9-24.3h0m0 .5h0m-.2 .4h0m-.9 .2h0m1.2 .1h0m-1.1 0h0m-.5 .2h0m0 .1h0m1.6 .3h0m-.9 .6h0m-1.6 .2h0m.2 .3h0m.3 .1h0m-1.1 .4h0m2.6 .1h0m-1.2 .2h0m1.5 .3h0m-1.8 .6h0m-2.1 0h0m1.8 .1h0m-.9 0h0m.4 .1h0m-1.4 0h0m3.6 .1h0m-1.6 .1h0m1.8 0h0m.5 .2h0m-1.2 0h0m.4 0h0m-2.8 .8h0m.3 .1h0m-.5 0h0m.8 .1h0m2.6 0h0m-1.6 0h0m2 .1h0m-4.2 0h0m1.2 0h0m2 .1h0m-.9 .1h0m.1 0h0m1 .1h0m-2.4 0h0m-.2 0h0m2.6 .1h0m-.9 0h0m-.4 .1h0m.5 .1h0m1.5 0h0m-5 .4h0m4.2 .2h0m-4.3 .1h0m1.9 .1h0m3.1 0h0m-3.4 .1h0m1.4 0h0m-2.7 .1h0m2 .1h0m.7 .5h0m-1.7 0h0m2.6 0h0m-3.7 .1h0m.2 0h0m-1 .4h0m4.3 .5h0m-2 0h0m2.2 .1h0m-4.2 .1h0m4.8 0h0m-3.2 .1h0m-1.8 0h0m4.3 .1h0m1 .6h0m-1.7 0h0m-1.5 0h0m-.4 .1h0m1.8 0h0m-1.1 0h0m-.2 .2h0m-.7 .1h0m-.7 .1h0m4.6 .2h0m-1.8 0h0m1.8 .2h0m-5.1 0h0m2.9 0h0m-.1 .2h0m2.2 .1h0m-.8 .2h0m1 .3h0m-3.7 .1h0m0 .1h0m-1.6 0h0m5.4 .1h0m-.3 .2h0m-2 .1h0m2.3 0h0m-.3 .1h0m-4.3 .1h0m1.2 .1h0m.6 .2h0m-2.9 .1h0m4.6 0h0m-3.7 0h0m2.6 0h0m-3.4 0h0m.1 .1h0m5.2 0h0m-.8 0h0m-2.3 .1h0m1.4 .5h0m-.6 .1h0m-2 0h0m-.6 .1h0m.1 .1h0m2.8 .3h0m-2.7 .1h0m4.9 .5h0m-1.5 0h0m1.4 .1h0m-1.6 0h0m.9 .2h0m-3.6 .1h0m3.9 .1h0m-1 .3h0m-1.9 .1h0m2.6 0h0m-2.7 0h0m.7 .1h0m1.3 0h0m1.5 .1h0m-2.2 .1h0m-1.7 .1h0m-1.7 .3h0m2.9 .5h0m1.7 0h0m1.1 .2h0m-2.2 .4h0m-.7 .1h0m-1.1 .6h0m2.5 0h0m-2.1 .1h0m2.8 0h0m-.9 .3h0m-3.8 .1h0m.9 .1h0m.7 0h0m-.9 .3h0m-.7 0h0m2.6 .1h0m-2.9 .1h0m5 0h0m-2.1 .1h0m2.3 .1h0m-4.7 .3h0m4 .1h0m-3.6 .2h0m2.4 .1h0m-3 0h0m2.4 0h0m-1.1 .3h0m3.3 .2h0m-2.4 .1h0m-1.7 .3h0m4 0h0m-.8 .4h0m-2.3 0h0m-1.5 .1h0m.7 .3h0m4.4 .4h0m-5 0h0m4.7 0h0m-3.9 .2h0m2.1 0h0m.5 .1h0m1.2 0h0m-3.4 .2h0m.2 .1h0m1.8 .1h0m-.7 .1h0m-2.6 0h0m4.3 .5h0m-4.5 0h0m3.1 0h0m2.8 .2h0m-3.4 .1h0m1.3 .1h0m-.3 .2h0m.9 0h0m-2.6 0h0m-.3 .1h0m-1 .2h0m1.5 .1h0m-1.8 .1h0m.7 .3h0m4.8 .3h0m-4.5 .1h0m4.2 .1h0m-3.7 0h0m-.3 .1h0m3.2 .1h0m-1.5 .2h0m1.6 .3h0m.4 .1h0m-3.4 0h0m1.7 0h0m-.2 .3h0m-2.2 .4h0m1 .1h0m.6 0h0m1 .3h0m-1.2 .1h0m-1.1 .2h0m3.9 .1h0m-2.3 .1h0m-1.3 .1h0m.9 .1h0m3 .4h0m-3.1 .3h0m1.5 .1h0m-.2 .1h0m.2 .8h0m-.2 .4h0m2 .1h0m-1.8 0h0m1.4 .2h0m-1.2 1h0m1 .3h0m-1 0h0m1.1 1.1h0m.5 .4h0m5.9-37.4h0m.2 .4h0m-.6 .4h0m-2.4 0h0m.5 .2h0m.1 0h0m-.2 0h0m2.2 .1h0m-2.1 .2h0m-.5 .1h0m1.2 .2h0m-2.4 .4h0m1.3 0h0m.9 .1h0m-.8 .1h0m1.8 .2h0m.5 0h0m-3 .1h0m1.1 .2h0m-1.4 0h0m1.5 0h0m-.6 0h0m-1.2 0h0m1.2 .3h0m.3 .1h0m-3.2 .2h0m2.7 .3h0m1.5 .1h0m-3.9 .1h0m4.3 .1h0m.3 .2h0m-2.3 .4h0m-.6 .1h0m.4 0h0m2.1 .2h0m1 .1h0m-.4 .1h0m-2.5 .1h0m2.8 .5h0m-1.5 0h0m.2 .3h0m-.3 .5h0m-1.8 .2h0m-.1 0h0m2.6 0h0m-1.7 .1h0m.4 .2h0m2.5 .2h0m-.4 0h0m-5.3 0h0m4.3 .1h0m-.8 .1h0m-2.2 0h0m3.8 0h0m-4.2 0h0m-.5 .3h0m0 .1h0m5.1 .2h0m-2.1 .1h0m-.1 .2h0m-2.8 0h0m5 .2h0m-5.3 .1h0m4.7 .3h0m-3.5 .1h0m.9 .1h0m0 .2h0m-.1 0h0m1.8 0h0m-2.4 .2h0m3 .1h0m-2.6 0h0m-1.4 .2h0m4.2 .1h0m-4.1 0h0m3.8 .4h0m1.2 .1h0m-3.6 .3h0m-2.1 .1h0m3.7 0h0m-3.5 .1h0m2.7 0h0m1.6 .1h0m-2.1 0h0m1.2 .3h0m-2.2 .1h0m-.2 .2h0m4.3 .3h0m-2 .1h0m-2.9 0h0m1.4 .1h0m1.5 .4h0m-2.7 0h0m4.1 .3h0m-4.7 .3h0m2.6 0h0m-.6 .1h0m.7 0h0m.7 .1h0m.7 .1h0m0 0h0m-3.1 .2h0m.5 0h0m-.5 .1h0m-.2 .2h0m2 .2h0m-1.4 .1h0m2.6 0h0m-.2 .1h0m-.9 0h0m.6 0h0m0 .1h0m-2.5 .3h0m-.9 .1h0m-.2 .4h0m1.3 .2h0m.2 .2h0m2.8 .3h0m-2.3 .2h0m2.9 0h0m-1.1 .2h0m-1.9 .1h0m1.6 0h0m-2.7 .3h0m.6 0h0m1.4 .1h0m1.5 .2h0m-3.1 .1h0m.8 0h0m1.1 .1h0m-.1 0h0m-.3 .2h0m2.7 0h0m-4.8 .2h0m1.9 .2h0m.2 .2h0m-1.6 0h0m2.1 0h0m2.5 .1h0m-2.5 0h0m1.7 .1h0m-2.8 0h0m2.7 0h0m.1 0h0m-1.7 .1h0m.8 .5h0m-3.9 0h0m.4 .1h0m1.5 0h0m3.5 .3h0m-1.5 .1h0m-1.1 0h0m-.2 .2h0m-.7 .1h0m-.5 0h0m4.1 .1h0m-2.5 .3h0m.4 .1h0m-3.5 .4h0m3.5 .3h0m-.7 .1h0m.1 0h0m1 .1h0m-1.2 0h0m.6 .6h0m-2.2 .5h0m1.5 .1h0m2 0h0m-3.7 .1h0m.6 .1h0m2.5 .1h0m-3.1 0h0m3.6 .2h0m-3.2 .3h0m3.8 .1h0m-4.6 .3h0m4.6 .6h0m-1.1 .1h0m-3.6 0h0m3.4 .1h0m1.4 .1h0m-3 .1h0m1.7 0h0m-1.6 .3h0m-.9 0h0m-.5 0h0m.9 .1h0m1.8 .1h0m.4 .1h0m-2.6 .2h0m-1.5 .1h0m3.9 0h0m-.9 .1h0m-1.5 .1h0m-1.5 0h0m1 .2h0m1.6 0h0m1.3 .1h0m-3.3 .3h0m1.5 .1h0m1.8 .2h0m1.7 .1h0m0 0h0m-4.2 0h0m2 .1h0m-1 0h0m1.3 .1h0m.5 0h0m-.6 .1h0m.5 .1h0m-2.9 .1h0m-.2 .1h0m1.5 .4h0m1.4 0h0m.8 0h0m-4.4 .1h0m3.7 0h0m-2.8 0h0m-1 0h0m4.2 .2h0m-1.7 .1h0m.5 .2h0m-.5 .1h0m-1.5 .1h0m1.4 .3h0m-2.6 0h0m3.6 .1h0m1 .1h0m-2.7 .1h0m1.4 0h0m.8 .1h0m-2.4 .1h0m.4 .1h0m-2 0h0m4.6 .1h0m1 .2h0m-1 .1h0m1.1 0h0m-.1 .1h0m-3.4 0h0m1.9 0h0m1 .6h0m-3.5 0h0m-.3 0h0m1.6 .1h0m-2.2 .3h0m2.2 .2h0m-1 .3h0m-2 .2h0m3.9 .1h0m1.1 0h0m-3.4 .1h0m1.6 .1h0m-3 0h0m.6 .1h0m3.8 .1h0m-1 .2h0m-3.1 .1h0m2 .1h0m2.3 .2h0m-4.5 .1h0m3.1 0h0m-1 .1h0m-.1 .1h0m-1.4 0h0m3.4 .2h0m-2.2 0h0m-1.6 .1h0m1.2 0h0m1.3 0h0m-1.5 .6h0m3.9 .1h0m-1.5 .4h0m-3.5 .3h0m.2 .1h0m-.4 0h0m4.5 0h0m-3.2 .2h0m0 .1h0m3.3 0h0m-1.6 .2h0m.2 0h0m.6 0h0m.1 .2h0m1.5 0h0m-5 .2h0m4.4 .1h0m-1.4 .2h0m-2.6 0h0m4.5 .2h0m-1.6 0h0m-3.9 0h0m2.4 .1h0m2.9 .1h0m-1.9 0h0m1.1 .2h0m-1.6 .1h0m-.1 .1h0m.3 .1h0m1.7 0h0m-.5 .5h0m-3.1 0h0m3.5 0h0m-2.8 .1h0m-.9 .5h0m3.7 0h0m.6 .1h0m-1.1 .1h0m-1.7 .2h0m2.3 1.2h0m-2.4 .2h0m2.3 0h0m-.9 .3h0m-.5 0h0m2.4 .3h0m-.7 .2h0m.8 .1h0m5.4-42.4h0m-1.4 .3h0m-2.3 .7h0m-.3 .1h0m-.3 .1h0m-.1 0h0m.2 .1h0m3.2 .2h0m-4.3 0h0m.3 .1h0m1.5 .1h0m-1 .3h0m2.1 .1h0m3.1 .1h0m-.5 0h0m-1.4 .5h0m1 0h0m.1 0h0m-2.7 .4h0m.3 .3h0m.5 .1h0m-.9 0h0m-1.1 .3h0m-1.2 .2h0m1 0h0m-.3 .3h0m2.4 0h0m.4 .3h0m-1.5 0h0m-1.3 .2h0m2 .5h0m2.1 .1h0m-.8 .3h0m.3 0h0m-4.2 .4h0m.4 .2h0m1.4 .3h0m-.4 0h0m2.7 .1h0m-.9 .2h0m1.1 .1h0m-3.7 .1h0m0 0h0m1.7 .1h0m-1.9 .2h0m3.1 .1h0m1.1 .2h0m-.4 .1h0m-.7 .1h0m0 .2h0m1.4 .3h0m.6 .2h0m-4.6 .1h0m3.3 .1h0m.7 0h0m-5.1 .1h0m3.6 .2h0m-1 .1h0m2.7 0h0m-1.4 .2h0m-1.5 .1h0m.6 .1h0m.9 .2h0m-.8 0h0m-2.3 .4h0m2.2 .1h0m-.2 .1h0m.4 .1h0m-1 0h0m-1.9 .6h0m3 0h0m.1 .1h0m-.5 0h0m2.5 .1h0m-2.4 0h0m.6 0h0m.1 .1h0m-.9 .2h0m-2.5 .1h0m3 .6h0m.9 .1h0m-1.6 .1h0m-2 .1h0m-.4 .2h0m2.8 .1h0m-.5 .1h0m-.2 0h0m-.4 .1h0m0 .4h0m-1.6 0h0m.1 .2h0m3.7 .2h0m1.4 .1h0m0 0h0m-3.8 .1h0m2.3 .2h0m-.9 0h0m.7 .3h0m-3.5 .1h0m.8 .1h0m4.5 0h0m-2 .2h0m-3.6 .4h0m4.8 .1h0m-1.3 0h0m-3.4 .1h0m4.6 .2h0m-2.1 0h0m.2 0h0m-1.2 0h0m.3 .1h0m1.1 .3h0m1 0h0m1.9 .1h0m-3.6 .2h0m-2.1 .3h0m2.7 .8h0m1.4 .2h0m-3 0h0m4.1 .2h0m-3.2 .1h0m-.4 .1h0m2.1 .1h0m-.5 .1h0m.1 .4h0m2.3 .2h0m-.5 .2h0m-3.9 .1h0m.9 .2h0m-2.3 0h0m2.7 0h0m.7 .2h0m0 .1h0m-3.3 .2h0m2 .2h0m-.5 .3h0m-.6 .5h0m-.9 .1h0m.5 .1h0m3.2 0h0m-3.3 .1h0m-.1 .1h0m1 0h0m4.5 .1h0m-.1 .2h0m-2.6 .1h0m-2.9 0h0m3.1 .7h0m-2.7 .1h0m-.3 .1h0m-.2 0h0m1.9 0h0m1.1 .4h0m-2.4 .2h0m1 .2h0m2.1 .1h0m-1 0h0m-.2 .2h0m-1.5 0h0m.3 .2h0m-.2 .1h0m2.3 .1h0m-1.7 .1h0m.9 0h0m-1.4 .1h0m3.1 .1h0m-4.1 0h0m2.6 .1h0m.5 0h0m2.3 .2h0m-.6 .1h0m-1 .2h0m.1 0h0m1.5 0h0m-.4 0h0m-1.8 .3h0m-3.2 0h0m-.2 .3h0m3.6 .1h0m-2.3 .2h0m3.7 .1h0m-.5 0h0m-2.4 .1h0m-.4 .1h0m-1.2 .3h0m4.7 0h0m.2 .2h0m-1.6 .1h0m1.7 .2h0m-1 .3h0m1.2 .3h0m-1.1 0h0m-3.2 0h0m3.6 .2h0m.1 .2h0m-.6 .2h0m.5 .1h0m.6 .1h0m-5 0h0m-.6 .1h0m4.4 .1h0m.3 0h0m-3.4 0h0m4 .3h0m-2.3 0h0m1.8 .1h0m-1 .3h0m1.8 0h0m-5.3 .1h0m1.9 .1h0m0 .2h0m3.1 .2h0m-4.2 .2h0m4.7 0h0m-.1 .1h0m-2.9 .1h0m-3 .2h0m1.6 .3h0m-.5 .1h0m3.4 .1h0m-4.5 .1h0m4.1 0h0m1.3 .2h0m-4.2 .2h0m2.4 .1h0m-3.5 .1h0m4.5 .1h0m-1.1 0h0m.5 .2h0m-1.6 .1h0m1.8 0h0m-2.8 .2h0m3.5 0h0m0 0h0m1 .2h0m-5.2 .1h0m.9 0h0m-1.6 .1h0m3.1 .2h0m2.9 .1h0m-2.6 .1h0m-1.6 .1h0m.4 .1h0m.7 0h0m-2.8 .3h0m3.2 .1h0m.6 0h0m-3.9 0h0m5.5 .1h0m-5.2 .2h0m.4 .1h0m.9 .3h0m4.3 0h0m-4.8 .2h0m.9 0h0m0 .2h0m1.5 .2h0m1.6 0h0m.7 .1h0m-1.9 .1h0m-1.1 .1h0m1.3 .2h0m.5 .3h0m-3.2 .1h0m4.5 .1h0m-3.4 .1h0m-.6 .3h0m1 .1h0m0 0h0m-1.5 0h0m.8 .1h0m-.1 .2h0m.5 0h0m-2.1 .1h0m2.6 .4h0m.4 0h0m1.2 .5h0m-4.6 .1h0m4.8 .2h0m-4.9 0h0m2.2 .1h0m1.3 .3h0m-1.3 0h0m-2 .1h0m-.2 .1h0m1.9 0h0m-.8 .1h0m.3 .1h0m4.1 0h0m-2.6 .3h0m-.3 0h0m-2.6 .1h0m5.2 0h0m-1.4 .2h0m.6 0h0m-3.9 0h0m3.2 .1h0m.3 0h0m-.9 .1h0m2.2 .3h0m-3.3 .1h0m3.5 0h0m-3.7 .3h0m.5 0h0m3.6 .1h0m-2.9 .1h0m-.9 .1h0m3.1 .1h0m-.2 .1h0m-4.7 0h0m-.1 .1h0m.5 0h0m4.3 .1h0m-.2 0h0m-3.3 0h0m-1.3 .2h0m4.3 0h0m-1.1 0h0m2.2 0h0m-1.5 .2h0m-1.9 0h0m1.3 0h0m2 .1h0m-1.1 .2h0m-3.1 .4h0m2.4 .1h0m-1.8 0h0m3.9 .4h0m-4.1 0h0m1 .1h0m-2.3 .1h0m5.4 0h0m-5 .1h0m.2 .1h0m2 .1h0m-.8 .1h0m1.7 .3h0m.6 .3h0m-3 .1h0m1.4 .4h0m6.9-44.3h0m-2.1 .2h0m1 .1h0m-1.2 .7h0m3.4 .2h0m0 0h0m-3.6 0h0m3.7 .1h0m-3.2 .3h0m4.1 .1h0m-4.9 .1h0m2.1 0h0m1.3 0h0m-2.2 .8h0m3.7 0h0m-5.3 0h0m4 .3h0m-4.3 0h0m.9 0h0m3.9 0h0m-1 .1h0m-3.5 .2h0m5 0h0m-3.4 .1h0m1.7 0h0m.8 .2h0m-2.5 .2h0m1.7 .2h0m-1.1 .2h0m-2.5 0h0m5.2 .1h0m-2.8 .1h0m-.3 0h0m-.9 .1h0m-.7 .3h0m4.3 .4h0m-2.6 .1h0m-.3 .1h0m3.2 .1h0m-2.4 .1h0m1.9 0h0m-1.3 0h0m-3.2 .1h0m-.1 .3h0m.6 0h0m2.8 0h0m1.9 .1h0m-2.1 .4h0m1 0h0m-1.4 .1h0m2.6 .2h0m-5.3 0h0m3.9 .1h0m-1 .1h0m-3.1 .1h0m1.6 .3h0m-1.1 .2h0m.7 0h0m2.2 0h0m-3.4 .1h0m.8 .1h0m-.8 .3h0m5.7 0h0m-1.2 .1h0m-3.6 .1h0m-.2 .1h0m.4 0h0m.4 0h0m-1.3 .1h0m.2 .1h0m4.1 0h0m-.9 .1h0m-3.6 .1h0m1.7 .2h0m1.1 .1h0m-.8 .2h0m-.4 0h0m-.4 .2h0m1 .4h0m3.5 0h0m-.2 .3h0m0 .6h0m-2 0h0m-.6 .2h0m-.8 .3h0m2.6 0h0m-2.1 .4h0m1.5 .2h0m-3.8 0h0m3.6 .1h0m-1.6 0h0m1 .5h0m.1 0h0m-1.2 .1h0m1.4 0h0m.1 0h0m-1.6 0h0m2.2 .1h0m-1.8 .1h0m2.2 .3h0m-2.3 .2h0m-1.9 .1h0m1.6 .5h0m.1 0h0m3.2 .1h0m-2.5 .1h0m1.6 .1h0m.4 0h0m-4.7 .4h0m.9 .4h0m-1.2 .1h0m3.3 .1h0m-1.8 0h0m-1 .3h0m5.2 .1h0m-.3 0h0m-4.8 .1h0m.3 .2h0m2.4 0h0m.1 .6h0m-1.4 .1h0m2.8 .1h0m-3.9 .1h0m3.7 0h0m-3.7 0h0m.4 .2h0m.3 .1h0m-.5 .2h0m-.4 .1h0m4.2 .1h0m-2.4 .2h0m.9 .1h0m.9 0h0m-1.6 .2h0m1.5 .3h0m-4 0h0m5 .2h0m-2.7 .1h0m-1.1 .1h0m4.3 .1h0m-.2 0h0m-2.1 0h0m-1.4 .1h0m1.2 0h0m-1 0h0m1.1 .2h0m-.1 .1h0m-2.4 .1h0m3.3 .2h0m-3.3 .2h0m-.1 .2h0m.2 0h0m1.1 0h0m2.2 0h0m-1.9 .2h0m-.9 .6h0m4 .2h0m-.9 .4h0m.9 .1h0m-5.1 .1h0m2.7 .1h0m-2.7 0h0m1.4 .1h0m3.9 0h0m-4.2 .1h0m4 .1h0m-.2 .3h0m-1.1 0h0m-3.9 .2h0m5.5 0h0m-2.2 .1h0m-.9 .1h0m2.6 0h0m-.6 .1h0m-2.8 .4h0m-.7 0h0m1.5 0h0m-1.7 .2h0m4.3 .2h0m.2 .3h0m-3.5 0h0m-.9 .2h0m1.7 .1h0m1.1 0h0m.6 .1h0m1.2 0h0m-5.6 .1h0m5.8 0h0m-2.9 0h0m1.7 .2h0m-.3 0h0m-1.6 0h0m-1.7 .2h0m.6 0h0m-.8 0h0m4.6 0h0m-2.9 .4h0m1.5 .1h0m-.4 .1h0m-3.1 .1h0m.2 .1h0m2.7 0h0m1.7 .3h0m-2.2 0h0m2.4 .1h0m-4 0h0m2.9 .2h0m-1.8 .1h0m1.4 0h0m-1.5 .2h0m-.6 .1h0m3.3 .1h0m-.3 .1h0m-4 0h0m.6 .2h0m2.6 .1h0m-3.7 .2h0m5.5 0h0m-.9 .1h0m.2 .1h0m-4.9 0h0m4.8 .2h0m-4.8 0h0m5.7 .1h0m-.8 .1h0m-2.9 .1h0m-.3 .1h0m.5 .2h0m-2.3 .7h0m3.6 .2h0m2.1 0h0m-1 0h0m-4.4 .1h0m5.1 .3h0m-2.5 .3h0m-.2 .1h0m.2 0h0m1.7 .1h0m-1.3 0h0m2.2 0h0m-2.8 .2h0m-1.1 .3h0m-.6 .1h0m3.1 .1h0m-1.2 .4h0m.4 .1h0m1.8 0h0m.6 .1h0m-4.4 0h0m2.4 .1h0m2 .2h0m.1 .4h0m-5.2 0h0m-.2 0h0m3.3 .1h0m-2.5 .1h0m.1 .1h0m1.9 0h0m.7 .2h0m-2.4 .1h0m4.1 .1h0m-3.6 0h0m-.8 .3h0m-.2 0h0m2.1 .1h0m-2.5 .1h0m2.7 .3h0m2.3 0h0m-1.2 .4h0m-3.9 0h0m1.9 .1h0m.2 .2h0m1.8 0h0m-.6 .2h0m0 0h0m-2.5 .2h0m1.5 .1h0m2.6 0h0m-.6 .2h0m-2.8 .1h0m3 .3h0m-4.4 0h0m3.1 .1h0m-3.3 .1h0m4.8 0h0m-1.4 .2h0m-.5 .1h0m-1 .1h0m.9 0h0m2.2 .1h0m-.3 .1h0m-.9 .3h0m-2.4 0h0m.6 .1h0m-2.3 0h0m5.4 .3h0m-3.2 0h0m-.3 0h0m1.8 .1h0m-3.7 .1h0m3.9 .1h0m-1.3 .4h0m-.9 .1h0m-.2 .1h0m2.9 0h0m-3.8 0h0m1.7 .1h0m-2.2 .1h0m3.8 .2h0m1.4 0h0m-2.6 0h0m-.8 .1h0m3.8 0h0m-2.7 .1h0m-.2 0h0m2.9 .1h0m-5.1 .3h0m0 .1h0m3 .2h0m-2.9 .2h0m4.6 0h0m-4.4 .1h0m-1 .1h0m4.1 0h0m-1.9 .1h0m-.7 0h0m2.6 .1h0m-1.9 0h0m2.4 .2h0m-4 .3h0m3.8 .1h0m.6 0h0m-1.2 .7h0m.3 .1h0m-2.7 .3h0m-.9 0h0m4.5 .1h0m-4.9 0h0m5 .2h0m-2 .1h0m-2.3 0h0m.8 0h0m3.8 0h0m-.5 .2h0m-4.6 0h0m3.4 .1h0m-2.3 0h0m1.2 .1h0m2.8 .1h0m-.5 0h0m-4.1 .1h0m1.1 0h0m-1.5 0h0m4.5 .1h0m-1.5 0h0m.1 .1h0m.8 .1h0m-2.7 .1h0m-.6 .1h0m4.3 0h0m-2.6 .1h0m-2.1 .1h0m3.5 0h0m-3 0h0m1.1 0h0m1.5 .1h0m0 .4h0m-2.3 .3h0m3.3 .1h0m-2 .1h0m.2 .2h0m1.2 0h0m-.9 0h0m-.9 .1h0m-1.5 .4h0m-.5 0h0m5.8-43.8h0m.4 .1h0m.6 .2h0m-.6 .6h0m-.2 .1h0m1.9 .6h0m-2.2 .3h0m1 0h0m-.5 .1h0m3.7 .1h0m-2.9 .1h0m1.9 .1h0m-2 .1h0m1.8 0h0m2 .1h0m-3 .1h0m.1 .4h0m3.6 .1h0m-.6 .1h0m-5.2 .1h0m.6 .2h0m1.1 0h0m4.1 .2h0m-.3 0h0m.2 .1h0m-3.7 .3h0m-.2 .2h0m4.1 .2h0m-4.7 0h0m4.2 .1h0m-3.6 .2h0m2.6 .1h0m.5 .1h0m-4.9 .1h0m1.8 .4h0m.4 0h0m2.7 0h0m-1.6 .1h0m.7 0h0m-3.9 0h0m2.1 .1h0m3.1 0h0m-.4 0h0m-4.3 .1h0m4.4 0h0m-4.3 .1h0m2.8 .1h0m-1.7 .2h0m2.2 .1h0m.8 0h0m.3 .5h0m-1.3 .1h0m-1.7 .1h0m3.3 .4h0m-1.8 .1h0m-2.5 .2h0m1.5 0h0m-1.5 .1h0m3.7 .2h0m-4 0h0m-.2 .2h0m4.4 0h0m-1 0h0m-4 .1h0m4.3 0h0m1 0h0m-1.7 0h0m-2.6 .1h0m3.7 0h0m.8 .1h0m-5.1 .1h0m3.3 0h0m1.6 .3h0m-5.2 .2h0m4.7 .1h0m-1.4 .2h0m-2.1 .1h0m1.8 .1h0m.2 .2h0m-.5 .1h0m.3 .1h0m-.3 .1h0m-.4 .1h0m-.1 .1h0m-1.1 .1h0m2.3 .1h0m-1.1 0h0m2 .1h0m-3.6 0h0m-.8 .2h0m5.4 .2h0m-3.2 0h0m1.4 .1h0m-3 .1h0m.1 .2h0m-.7 .1h0m5.7 .2h0m-4.9 0h0m4.8 0h0m-5.2 0h0m4.4 .1h0m-.2 0h0m-3.6 0h0m1.7 .3h0m-1.6 .1h0m.4 0h0m1.2 0h0m.4 .1h0m-1.9 .2h0m1.1 .2h0m.4 0h0m3 .1h0m-1.8 .5h0m-.4 .1h0m2.1 0h0m-4.2 .2h0m3.7 .2h0m-.5 .1h0m.7 0h0m-5.3 .1h0m2.9 .1h0m.8 .1h0m2 .2h0m-1.1 0h0m-2.6 0h0m-1.4 .1h0m1.2 0h0m1.5 0h0m.8 .1h0m-1.3 0h0m-2.8 .1h0m.8 .1h0m2.2 0h0m-1.8 0h0m-1.2 .1h0m3.2 .3h0m-2.6 0h0m-.3 .1h0m3.2 .1h0m1.4 .4h0m-1.2 0h0m-1.1 .2h0m.1 .1h0m.1 .1h0m.9 0h0m.1 0h0m-1.2 0h0m2.8 .3h0m-1.9 .1h0m-1.5 .1h0m-.7 .1h0m3.7 .3h0m-.2 .3h0m-3.8 .1h0m-.4 .2h0m2.9 0h0m-.9 0h0m-2 .1h0m1.2 0h0m2 0h0m1.1 0h0m-3.3 .1h0m-1.2 .2h0m5.3 0h0m-2 .1h0m.6 .1h0m-3 .3h0m2.4 .2h0m-3.4 .1h0m1 .1h0m1.6 .1h0m1.6 0h0m-4 .1h0m4.7 .2h0m-.9 .3h0m1.5 .1h0m-3.2 .3h0m1.2 0h0m2 0h0m-.1 .1h0m-1.3 .2h0m-2.3 0h0m2.5 0h0m1 .2h0m-3.1 0h0m-.9 .1h0m-1 0h0m-.4 0h0m3 .1h0m-.8 .7h0m3.1 .2h0m-3.5 0h0m4 .3h0m-2.5 .2h0m-1.4 .1h0m1.7 .2h0m2.1 .1h0m-3.9 .1h0m-1.2 .3h0m3.7 .2h0m-3.1 0h0m4.3 .1h0m-5.7 0h0m5.4 .1h0m-3.2 .1h0m2.3 .3h0m-.3 .1h0m-1.5 .1h0m.7 .1h0m-2.2 .1h0m4.1 0h0m-4.3 .2h0m-.2 .1h0m1.8 .2h0m-2.6 .1h0m1 0h0m2.2 .2h0m-3.1 0h0m.3 .3h0m.6 0h0m3.8 0h0m-1.1 .2h0m1.8 .1h0m-2.7 .1h0m-2.7 .1h0m4.6 .1h0m0 .1h0m-2.7 0h0m2.1 .2h0m.4 0h0m-.8 .2h0m1.1 .4h0m-.4 .3h0m.1 .1h0m-3.1 0h0m4.3 .1h0m0 .3h0m-1.6 .1h0m-3.3 0h0m2.6 .1h0m2.3 0h0m-3.3 0h0m3.5 .1h0m-3.2 0h0m-.2 .1h0m.4 .4h0m-2.1 .1h0m0 .3h0m3.2 .2h0m.7 .5h0m0 .3h0m-1.5 0h0m-3.1 .3h0m-.1 0h0m4.6 0h0m-2 .1h0m2.2 0h0m-1.5 .2h0m-3.1 0h0m.8 .2h0m2.5 0h0m-2.7 .1h0m-.7 0h0m5.2 .3h0m-.9 .1h0m.3 0h0m-.8 .5h0m-.5 0h0m-3.4 .1h0m3 0h0m-1.5 .1h0m4.5 .5h0m-.7 0h0m.2 .1h0m-2.1 .3h0m-3 .1h0m5.6 0h0m-.6 .2h0m-.6 .1h0m-1.8 .1h0m1.6 0h0m-1.9 .1h0m-2.5 0h0m4.8 0h0m.1 .1h0m.2 0h0m-3 .1h0m3 .2h0m.1 .1h0m.2 0h0m-3.7 1.2h0m-1.9 .1h0m5.5 0h0m-1.7 .2h0m2.1 .1h0m-3.9 0h0m2.3 .1h0m1 .3h0m-.9 .2h0m-1.7 .1h0m.8 .2h0m-1.9 .2h0m4.3 0h0m-.2 .1h0m-5 0h0m1.6 .1h0m.2 .3h0m.8 .1h0m-.6 .2h0m1.6 0h0m.9 .1h0m.2 0h0m-4.6 .2h0m-.4 .2h0m3.6 .2h0m-.6 0h0m-.2 0h0m.3 .1h0m-1.8 .1h0m3.8 .3h0m-.6 .1h0m-3.1 0h0m.3 0h0m3.8 .1h0m-3.7 0h0m.5 .7h0m-.5 .1h0m.2 0h0m2.1 .1h0m-2.3 .3h0m-1.1 .3h0m4.2 0h0m-1.7 0h0m-1.7 .1h0m-.8 .1h0m2.2 .2h0m-1.7 .1h0m1.6 .4h0m-.2 .4h0m-1.1 .1h0m.6 .2h0m-2.1 .3h0m.6 .4h0m-.7 .6h0m5.8-38.2h0m.3 .4h0m.1 .4h0m2.8 .2h0m-2.6 .2h0m3 .1h0m-1.3 .1h0m-.8 .8h0m2.7 .1h0m-2.7 .1h0m.1 .1h0m3.4 .1h0m-.8 0h0m-.3 .3h0m.8 .1h0m-.3 .3h0m-1.6 .5h0m1.7 0h0m-2.6 .1h0m-.2 .2h0m-.3 .1h0m3.2 .1h0m-2.1 0h0m2.3 .2h0m-3.4 .1h0m1.5 .2h0m.4 .1h0m.3 0h0m2.1 .1h0m.1 0h0m-1.3 .1h0m-2.9 .2h0m.6 .1h0m-1.2 0h0m2 .2h0m-2 0h0m-.5 .2h0m4.9 .3h0m-4.7 .1h0m-.2 0h0m5.3 .1h0m-.8 0h0m-4.5 0h0m3 0h0m-2.9 .1h0m4.5 0h0m-.7 .5h0m-2.7 0h0m3.9 .1h0m-3.3 0h0m-1 0h0m2 .1h0m.8 .1h0m1.1 .1h0m-3.7 .1h0m-1.2 .1h0m4.6 0h0m.6 .2h0m-4.7 0h0m.2 .1h0m4.2 .1h0m-.9 .1h0m.2 .3h0m-1.3 .2h0m-3.2 .2h0m3.9 .1h0m-3.5 .1h0m4.5 0h0m-1.6 .4h0m1.2 .1h0m-2.1 .1h0m.7 0h0m1.3 0h0m-3.5 .1h0m3.7 .1h0m-2.4 .1h0m1 0h0m-2.4 .1h0m1.5 .4h0m.4 0h0m-2.4 .2h0m.4 .1h0m4.3 0h0m.8 .2h0m-5.4 .1h0m2.8 .4h0m1 .3h0m-1.9 0h0m.8 .1h0m1.3 0h0m-.5 .3h0m-1.7 0h0m3.4 0h0m-3.3 .2h0m2.5 0h0m-.7 .2h0m-1.6 .1h0m2.1 .1h0m1.2 .1h0m-2 0h0m-1.8 .2h0m-.2 .1h0m-.5 .2h0m4.2 0h0m-1.8 .2h0m2 0h0m-.5 .1h0m-.4 .5h0m-2.6 .1h0m3.1 0h0m-.3 .2h0m-3 .6h0m1.6 .2h0m-1.7 .1h0m-.6 0h0m-1.2 0h0m1.8 .2h0m-1.9 .1h0m.3 0h0m4.7 0h0m.5 .2h0m-3 .2h0m2.8 0h0m-.5 .1h0m1 .1h0m-2.9 .1h0m-1.9 0h0m-.4 .4h0m1.9 .1h0m-1.3 0h0m-.4 .1h0m4.1 .1h0m-.6 .1h0m-1 .1h0m2.1 .3h0m.2 .1h0m-4.1 .3h0m.7 .1h0m1.9 0h0m-1.3 .1h0m-.8 0h0m-.5 0h0m2.2 .1h0m1.5 .6h0m-.3 0h0m-4.5 0h0m.5 0h0m3.8 .5h0m-3.7 0h0m4.5 .2h0m-2.8 0h0m-2.1 .2h0m1.3 0h0m3.6 .1h0m-.8 .1h0m-.2 0h0m-2.3 .5h0m2.3 0h0m.5 0h0m.1 .2h0m-3 .2h0m2.9 .3h0m-2.1 0h0m2.7 .1h0m-1.5 .1h0m-3.1 .1h0m-.6 0h0m1.4 .1h0m1.5 .2h0m-1.9 .1h0m3.9 0h0m-4.9 .1h0m1 .1h0m2.2 0h0m-1 .1h0m-1.9 0h0m3 .1h0m-2.8 0h0m1.4 .2h0m-.8 0h0m2.9 0h0m-.5 .3h0m0 0h0m1.7 .5h0m-1.8 .1h0m-2.8 .1h0m-.7 .1h0m.1 0h0m3.2 .1h0m.9 .2h0m-2.7 .1h0m2.6 .1h0m.6 0h0m-5 .1h0m1.5 .1h0m.9 .1h0m1 0h0m.3 0h0m1.2 .1h0m.1 .2h0m-.5 0h0m-.4 .1h0m-.7 0h0m-3.3 .1h0m2.2 .2h0m-2.1 0h0m2.6 0h0m.6 .1h0m-1.8 .4h0m-1 0h0m.2 .2h0m2.3 .2h0m-2.3 .3h0m-.7 0h0m1.9 .1h0m2.1 .4h0m-2.1 .1h0m1.1 0h0m-1.8 .2h0m1.5 0h0m-2.1 .1h0m-.2 .2h0m2.3 .3h0m-2.2 .2h0m5.2 .3h0m-5.5 0h0m3.4 .2h0m-3.7 0h0m4.8 .4h0m-4.5 .1h0m-.3 0h0m.1 .2h0m3.1 .6h0m-1.6 0h0m1.1 .4h0m-.7 .1h0m.9 .1h0m1.7 .2h0m-3.1 .2h0m2.3 .1h0m-.4 .1h0m-2.5 .3h0m2.2 .1h0m-1.2 1h0m1.1 .2h0m.1 0h0m-3 .2h0m2.6 .2h0m-2.1 .1h0m1.9 .2h0m-1.1 .6h0m-.5 .7h0m5.1-29h0m.5 .1h0m.1 .2h0m-.7 .3h0m.8 .1h0m.4 1.1h0m-.2 0h0m-.4 .5h0m1.1 0h0m-.4 .1h0m-1.3 .1h0m.9 .7h0m-.2 .5h0m1.1 .1h0m-.8 .1h0m-.9 .2h0m1 .2h0m.7 .2h0m-.8 .1h0m-.6 .5h0m1.2 0h0m-.6 .2h0m1 .1h0m-1.8 0h0m2.1 .2h0m-.7 .1h0m-.8 0h0m1.2 0h0m-.5 .1h0m0 .2h0m-1.4 .2h0m1.1 .1h0m-1.1 .3h0m2.9 .2h0m-1.9 .3h0m.3 .1h0m-.8 .1h0m1 .2h0m-1.4 .1h0m1.8 .1h0m.7 .2h0m.5 .1h0m-2.2 0h0m.6 .1h0m1.2 .1h0m.5 .3h0m-2.2 0h0m-.3 .5h0m.7 .1h0m1.2 0h0m.3 .1h0m-2.3 0h0m1.9 .1h0m-2.4 0h0m.3 .4h0m0 .2h0m-.5 0h0m.1 .3h0m2.9 0h0m-1.1 0h0m.6 0h0m-1.5 .3h0m2 0h0m-.8 .4h0m.2 .1h0m.5 0h0m-.6 .3h0m.5 0h0m-.6 .4h0m-1.7 .2h0m1 .3h0m-.2 .5h0m-.3 0h0m.6 .1h0m1.3 .3h0m.3 .1h0m-1.6 0h0m-.4 .5h0m.7 0h0m-.7 .1h0m1.5 .2h0m.4 .3h0m-1.9 .2h0m1.6 .2h0m.3 .2h0m-3 .3h0m1.2 0h0m.4 .4h0m.4 .6h0m-1.8 .5h0m-.2 .1h0m1.4 .6h0m-.7 .4h0m1.6 .1h0m-.6 0h0m-.3 .3h0m.8 0h0m-.1 .2h0m-1.7 0h0m-.4 .4h0m.2 .1h0m.6 0h0m.4 .2h0m-.7 .7h0m.6 0h0m-.8 .1h0m.2 1h0m.2 .1h0m.4 .2h0m-.5 .7h0m.2 .1h0m-.1 .1h0m-.4 .2h0m-.3 .5h0" stroke="#f28a36" stroke-width="1.10" stroke-linecap="round" fill="none" opacity="0.8"/>
<path d="M535 91.7h0m-.2 .6h0m-1.2 .1h0m0 .2h0m-.1 .9h0m1.6 .6h0m-.5 .3h0m2.3 .1h0m-.3 .4h0m-.1 .1h0m-2.7 .7h0m2.1 1h0m-.3 .3h0m.9 .3h0m-1.8 .3h0m.6 .2h0m-.1 .6h0m.7 .5h0m-.9 .3h0m1.9 .2h0m-1.3 .6h0m.6 .2h0m-.4 .3h0m-.5 1h0m0 .1h0m7.7-11.3h0m-.6 .1h0m-1.5 .1h0m.4 .4h0m.3 .1h0m.3 .1h0m-4.7 1h0m5 .1h0m.7 0h0m-1.9 0h0m-3.8 .9h0m2.6 0h0m1.2 .7h0m1.4 .1h0m-4 .7h0m-.9 .1h0m2.3 .8h0m-.1 .1h0m0 .6h0m-2.6 .4h0m3.8 .9h0m-1.7 .1h0m-.1 1h0m2.8 .6h0m-4.1 .6h0m2.3 .1h0m.7 .3h0m-3 .1h0m2.1 .1h0m3.1 .2h0m-4.6 .5h0m1.3 .7h0m1.3 .3h0m1.5 .1h0m-4.8 0h0m4.6 .1h0m-4.8 .1h0m4.5 .1h0m-3.5 .1h0m0 .1h0m1.5 .2h0m2.5 .6h0m-2.9 0h0m2.4 .2h0m.2 .9h0m.4 .4h0m-2.4 .1h0m-1.2 .2h0m2.2 1.4h0m-.9 .9h0m1.2 .4h0m-1.6 .3h0m2.6 .1h0m-3.2 .4h0m.8 .5h0m2.2 .4h0m-2.1 .3h0m2 .9h0m-.2 .4h0m6.6-23.2h0m-.7 .6h0m-1.9 0h0m2.9 .4h0m-.8 0h0m.3 .2h0m-2.5 .1h0m-.5 .4h0m-.3 1h0m3 .2h0m-1.3 .2h0m-2.6 .4h0m2.2 0h0m-1.5 .5h0m2.3 .1h0m.2 .1h0m.7 .1h0m-4.6 .1h0m2.9 .5h0m-.7 .2h0m-1.8 2h0m-.7 .4h0m-.1 0h0m4.4 .6h0m.1 .5h0m-3 0h0m1.3 .3h0m-1.3 .5h0m1.3 0h0m2.2 .8h0m.8 .5h0m-1.7 0h0m-2.5 .1h0m-1.2 .2h0m.4 .1h0m1.7 .9h0m1.1 1h0m2.2 .9h0m-.4 .8h0m0 1h0m-3.6 .3h0m-1.5 1.1h0m-.3 .1h0m3.4 .2h0m2.2 .1h0m-.5 0h0m-3.4 .4h0m.3 .3h0m1.8 0h0m-.4 .5h0m-.7 .3h0m.7 .2h0m-.2 1.7h0m-1.4 .4h0m-.8 0h0m2.3 .1h0m-2.8 1.5h0m.5 .5h0m-.7 .4h0m4 .2h0m1 .3h0m-.1 .1h0m-.9 0h0m-.9 0h0m-3.4 .5h0m.3 .2h0m5.4 .2h0m-4.7 .5h0m1 .3h0m3.1 .6h0m.2 1h0m-.9 .8h0m.5 0h0m-1.4 0h0m3.9-27.4h0m1.2 .5h0m.9 .4h0m-1.5 .3h0m.6 0h0m.3 .2h0m-2.8 .9h0m5 .1h0m-2.2 0h0m-.8 .1h0m.6 .1h0m-.9 0h0m2.3 .9h0m-3.4 .3h0m-.3 .6h0m4.6 .1h0m-4.4 .3h0m-.2 .2h0m5.3 .2h0m-.8 .2h0m.2 .1h0m-.9 1h0m.9 1.2h0m-4.8 0h0m.9 .2h0m1.4 .7h0m2.9 .1h0m-4.1 .9h0m2.6 .2h0m1.9 0h0m-2.6 .4h0m-.6 .3h0m3.1 .3h0m-3.3 .2h0m-2.4 .4h0m5.3 .4h0m-2.8 .1h0m1.6 .2h0m-2.5 .5h0m.9 .1h0m1.1 .1h0m-3 .5h0m4.6 1.3h0m-3 .1h0m2.6 .3h0m-4.8 .2h0m-.2 .3h0m5 .1h0m.9 1.3h0m-.9 0h0m-1.1 .1h0m1.1 .1h0m-1.8 0h0m1.6 .9h0m-2.1 .1h0m.1 .5h0m-1.6 .3h0m4.5 .1h0m-.4 .2h0m-2.6 .3h0m-2.1 .4h0m1.8 1.1h0m-.1 .1h0m-.3 .2h0m2.4 .2h0m1.4 .4h0m-1.9 .7h0m-1.6 .1h0m3.3 .1h0m-3.6 .4h0m-1.4 .9h0m.8 .4h0m3.9 .7h0m-3.1 0h0m3 1h0m-1.7 .4h0m1.8 .4h0m-2.4 .1h0m.5 .3h0m-2.7 0h0m.4 .4h0m3 .3h0m-2.5 1h0m-.1 .1h0m2.6 .4h0m1.8 .2h0m-3.4 .3h0m1.7 .5h0m.2 .2h0m1.8-30.2h0m3.3 .6h0m.1 .2h0m.1 .1h0m2.2 .3h0m-.4 .6h0m-4.4 .1h0m1.4 .8h0m-2 .2h0m5.2 0h0m-2.6 .2h0m-1.6 .1h0m-1.3 .2h0m2.2 1.3h0m-1.7 .1h0m0 .1h0m4.7 .1h0m-.8 .4h0m-3.4 .1h0m3 0h0m-2.2 0h0m2.2 .2h0m-3.1 0h0m2.1 .1h0m-1.5 .1h0m1.9 .5h0m-1.5 .2h0m3.7 .1h0m-4.1 .1h0m3.1 .1h0m-3.6 .4h0m1.6 .2h0m-2.3 .4h0m2 .3h0m-2.3 .4h0m3.2 .4h0m-.2 .2h0m1.5 1.1h0m-4.2 .2h0m3.3 1h0m-3.7 .2h0m1.6 .4h0m3.9 .2h0m-.5 0h0m-.1 .3h0m-4.7 .3h0m4.6 0h0m0 .5h0m-.9 .8h0m-2.4 .6h0m-1.5 0h0m2.3 .6h0m-1.8 .1h0m.6 .3h0m1.2 .2h0m-1.5 .1h0m.5 0h0m2.6 .3h0m-3 .6h0m3.1 0h0m1.4 0h0m-.7 .1h0m-.8 .5h0m.7 .2h0m-.7 .2h0m.3 .1h0m-3.1 1.2h0m.3 1.2h0m1 .1h0m1.2 0h0m-2.5 .2h0m-.5 .4h0m.3 .6h0m1.9 .3h0m1.5 .1h0m-3.6 .2h0m4.7 .5h0m-5 .2h0m1.2 0h0m3.5 .1h0m.1 1h0m-4.7 .5h0m1.3 .1h0m-.8 .1h0m2.1 1.5h0m-1.4 .3h0m.1 .6h0m1 .3h0m2.2 .4h0m-1.6 .1h0m1.7 .1h0m.4 0h0m-3.5 0h0m-.1 .2h0m1.9 .1h0m1.9 0h0m-2.8 .5h0m1.2 .3h0m1.1 0h0m.4 .2h0m-.4 .2h0m-4.3 .2h0m4.4 .3h0m-2.7 1h0m-1.3 .4h0m2.1 .2h0m2.4 .9h0m3.4-32.1h0m2.7 1.4h0m-3.5 .3h0m.9 .2h0m-2.1 1h0m2.2 .1h0m-2.1 .3h0m4.5 .2h0m-3.4 0h0m.4 1.1h0m-1.9 .2h0m3.3 .5h0m-.6 .4h0m-1.8 .4h0m-1.2 .5h0m1.7 .5h0m3 0h0m-2.2 .6h0m1.2 .4h0m-2.2 .6h0m-1.7 .5h0m.3 .3h0m-.3 0h0m-.2 .3h0m4.8 0h0m.8 .4h0m-4.8 .5h0m3.4 .1h0m-3.5 0h0m4.4 .2h0m-3.8 .1h0m2.5 0h0m-3 .2h0m3 1h0m-2.6 0h0m1 .3h0m1.9 .9h0m-2.9 .8h0m0 1h0m2.9 .6h0m-4 .2h0m1.1 .2h0m4.5 .1h0m-.2 .6h0m-2.2 0h0m2.1 .5h0m-2.9 .3h0m0 .3h0m-.1 .3h0m1.6 .4h0m-.9 .2h0m2.5 .2h0m-.6 .3h0m-1.3 .1h0m-3.8 .4h0m5.2 0h0m-1.1 .5h0m-3 0h0m-1.2 .1h0m4.2 .6h0m-2.1 .3h0m.4 .1h0m1.9 .2h0m-1.9 .2h0m-1.5 .6h0m4.3 .4h0m-3.7 .2h0m1.3 .1h0m2.9 .3h0m-5.8 .3h0m3.6 .1h0m-2.1 .1h0m-.1 .5h0m4.4 1.3h0m-.8 .2h0m-2.5 .9h0m3.2 0h0m-2.5 .3h0m-1.1 1.6h0m2.4 .2h0m-1.1 0h0m-.2 0h0m-2.1 .4h0m-.5 .4h0m5.2 .2h0m-.4 .6h0m-4 .4h0m-.2 .6h0m7.1-29.7h0m2.3 .6h0m-2 .4h0m-2.6 .3h0m0 .5h0m5.2 0h0m-2.4 .1h0m1.6 .1h0m1.1 .3h0m-1.3 0h0m-2.5 .1h0m2.9 0h0m-2.9 .1h0m2.1 .5h0m1.9 .5h0m-5 .1h0m4.8 1.2h0m-5.4 .8h0m2.2 .7h0m2.6 .5h0m-1.2 .2h0m-1 .1h0m2.6 0h0m-.6 1h0m-1.6 .2h0m1.3 .1h0m.3 1.4h0m.4 .2h0m-3.7 0h0m4.4 .1h0m-.4 1.1h0m-.8 .4h0m.6 .2h0m-.2 .5h0m.7 .1h0m-1.8 .4h0m-1.8 .6h0m-1 1.2h0m3.5 .3h0m-.6 .3h0m-3 .2h0m3.6 .1h0m.6 .1h0m-.1 .7h0m-.2 .4h0m-.1 0h0m-3.3 1.3h0m1.9 1.2h0m.9 .1h0m-1.1 .5h0m2 .3h0m-3.2 .3h0m.7 .5h0m-.5 .3h0m3.2 .2h0m-.7 .2h0m-.1 .3h0m-1.9 .5h0m2.1 .5h0m-3 .1h0m-1.5 .7h0m1.8 .2h0m3.2 .2h0m-3.9 .1h0m1 .3h0m-1.5 .2h0m4.3 .1h0m.1 .2h0m-.6 0h0m-.6 .3h0m.1 1.1h0m-3.3 .4h0m2.3 .3h0m-1.5 .2h0m.9 .2h0m5.2-28h0m2.7 .5h0m-2.2 .2h0m1.9 .3h0m-.5 .1h0m-.8 .1h0m.9 .2h0m-1.3 .1h0m-.8 .3h0m-.5 .6h0m4 .3h0m.1 .5h0m-3.4 0h0m-1 .6h0m.8 .3h0m-1.1 0h0m-.4 .1h0m2.1 .6h0m3.5 .1h0m-.3 .5h0m-2.3 .1h0m-2.7 .5h0m1.8 .1h0m3.5 .1h0m-2.6 .4h0m-2.6 .2h0m3.6 .1h0m-1 .1h0m-2.7 .7h0m-.5 .1h0m2.5 .1h0m-2.2 .8h0m1.7 1.3h0m1.3 .6h0m-2.8 .6h0m.4 .5h0m2.5 .3h0m1.8 .7h0m-1.3 .1h0m-3.9 .3h0m5.5 .1h0m-2.3 .1h0m2.7 .1h0m-.4 .3h0m-3.8 .3h0m-.8 .9h0m.6 1.2h0m-1.5 .4h0m3.2 0h0m-2.1 .2h0m4.2 .5h0m-4.8 .7h0m.3 1.2h0m.6 .7h0m-.4 .4h0m-1.1 0h0m5.8 0h0m-1.1 .2h0m.4 .4h0m-4.7 .7h0m2.5 .6h0m-2.4 .6h0m-.2 0h0m.7 .1h0m.9 .1h0m2.8 .1h0m.5 .8h0m-4.8 1.3h0m.9 .1h0m1.5 .7h0m-2.6 1.2h0m6.2-26.1h0m1.1 .3h0m4 .1h0m-.5 0h0m-4.2 0h0m.9 1.1h0m.2 .2h0m-.8 .2h0m3 .6h0m1.5 .3h0m-3.4 .3h0m2.1 0h0m-1.8 .4h0m-2.4 0h0m4.8 .1h0m.1 .5h0m-3 .1h0m-.5 .1h0m-.2 .3h0m4.3 1.1h0m-3.7 .6h0m3.2 .7h0m-3.8 .1h0m1 .4h0m3.5 .8h0m-3.8 .1h0m3.5 .6h0m-3.3 .1h0m-1.4 .2h0m4 .5h0m-.1 .2h0m-3.4 .1h0m2.1 .1h0m2.4 .3h0m-3.7 .1h0m.4 .8h0m1.8 .3h0m-1.6 .8h0m-.6 .2h0m-.1 1.2h0m-.3 .3h0m1.3 .1h0m1.3 1.6h0m1.4 .2h0m-2.5 .2h0m-1.5 0h0m1.7 .3h0m-2 .3h0m2.1 .9h0m-1.3 .2h0m.8 .7h0m-.1 .1h0m-.6 .5h0m2.6 .1h0m-.7 .3h0m1.6 .1h0m-.9 .2h0m-1.8 .5h0m2.5 .1h0m-2.3 .1h0m2.4 0h0m-1.3 0h0m-.1 .3h0m.6 0h0m-2.8 .1h0m-.5 .4h0m.8 .5h0m-1.6 1.3h0m5.8-22.6h0m-.3 .3h0m5.4 .8h0m-2.3 0h0m-2.6 .3h0m4.5 .7h0m.7 .9h0m-2.6 .2h0m2.2 .2h0m-3.2 1.2h0m-1.9 .8h0m1.6 .3h0m0 .1h0m3.1 .2h0m-3.7 .1h0m1.5 .2h0m2.9 .4h0m-4.7 .2h0m2.6 .1h0m2.1 0h0m-4.5 .5h0m-1 .1h0m.8 .4h0m2 0h0m.9 .4h0m.6 0h0m-1.9 .5h0m1.8 .2h0m-2 .3h0m1 0h0m-1.3 .6h0m-.4 .3h0m-.7 0h0m-1.2 .2h0m2.5 .1h0m-1.7 .4h0m.6 1h0m1.5 .4h0m2.2 0h0m-1.8 .1h0m1.6 .3h0m-2.6 .1h0m2.2 0h0m-3 .5h0m.2 .8h0m3.6 .5h0m-3 1h0m3.1 0h0m-.8 .4h0m-3.5 .1h0m-.6 .3h0m.2 .6h0m1.5 .8h0m.5 .4h0m-.5 .2h0m-1.1 0h0m5.7-16h0m-.2 .3h0m3.2 .7h0m-.3 0h0m.9 .2h0m-.1 0h0m-.5 .6h0m-.8 .2h0m-2.9 .1h0m3.6 .2h0m-2.8 .4h0m4.7 .8h0m-2 .4h0m-3.1 1.1h0m-.1 0h0m1.4 .2h0m-.6 .7h0m1.2 .8h0m.4 .8h0m-2.4 0h0m2.7 .5h0m.1 .3h0m-.9 .1h0m-1.4 .8h0m1.7 .5h0m-.5 .1h0m.6 .1h0m-2.3 .8h0m-.2 .3h0m.5 .1h0m1.1 .1h0m6.3-10.6h0m-.8 1.6h0m1 .5h0m-1.8 .2h0m-.3 1.2h0m.9 .2h0m-.5 3.7h0" stroke="#3ca33c" stroke-width="1.00" stroke-linecap="round" fill="none" opacity="0.6"/>
<path d="M547.7 102.9h0m.4 .2h0m-.1 .2h0m-.2 .2h0m-.5 .1h0m-1.2 0h0m1.9 .6h0m-1.3 0h0m-.6 .5h0m.9 .8h0m.9 .4h0m-.7 .5h0m.6 1h0m1.1 .6h0m-.4 2.1h0m6.2-8.2h0m-.5 .6h0m-1.2 0h0m0 .4h0m1.2 .4h0m.3 .3h0m-4 0h0m3.8 .2h0m.3 .1h0m-5.6 .1h0m4.8 .7h0m-2.2 .1h0m.2 .3h0m.7 .5h0m-.2 .3h0m2.6 .1h0m-2.2 .1h0m-1.6 0h0m3.2 .1h0m-2.6 .3h0m-1.2 .1h0m3.9 .3h0m-3.8 .2h0m.7 0h0m1 .1h0m-1.2 .2h0m3.6 0h0m-4.2 0h0m3.2 .6h0m1 0h0m0 .1h0m-2.2 .1h0m-1.3 .5h0m1.2 .1h0m-2.9 .2h0m1.6 .1h0m2.2 0h0m.1 .1h0m-4.2 0h0m5.2 .2h0m-.2 .1h0m-3.2 0h0m1.5 0h0m.2 .2h0m-.4 0h0m-3.1 .8h0m-.1 .1h0m5.3 .2h0m-2.9 0h0m.7 0h0m1.4 .2h0m.9 .3h0m.4 .1h0m-3.5 .2h0m.3 .1h0m3.2 .2h0m-2.4 .3h0m.6 .1h0m-2.8 .1h0m4.2 .1h0m-3 .2h0m2.7 .9h0m-2.6 .2h0m1.6 .1h0m-1.9 0h0m2.9 .5h0m-2.7 .1h0m1.6 .1h0m.5 .3h0m.8 .1h0m.1 .9h0m-1.1 .2h0m1 .2h0m-.4 .4h0m.8 .5h0m-.5 .2h0m5.5-16h0m.7 .2h0m-3.7 0h0m1.7 0h0m.8 .5h0m.1 .4h0m-3.2 .2h0m.1 .3h0m2.5 0h0m-2.4 .2h0m.5 0h0m-.5 .4h0m-.3 .4h0m-.8 0h0m.7 .4h0m1.9 .1h0m-2.7 .2h0m-.1 0h0m1.5 .1h0m3.2 .5h0m-2.7 .1h0m1.7 .1h0m-1.8 .4h0m.5 .6h0m.8 .4h0m-2.7 .1h0m2.8 .1h0m1.5 .1h0m-.4 .4h0m-2.8 .1h0m1.2 .5h0m-.3 .2h0m-1.1 0h0m1.9 .4h0m1.2 .2h0m-3.5 .2h0m4.1 .2h0m-1.6 .1h0m-1.6 0h0m.8 .1h0m-.9 .2h0m2.7 .1h0m-1.6 .2h0m.4 .3h0m-.1 .1h0m2.6 .2h0m-.7 .4h0m-.7 0h0m1.2 0h0m-3 0h0m.3 .7h0m2.8 .3h0m-.6 0h0m-3.3 .2h0m2.7 .1h0m-3.2 .2h0m3.4 0h0m-2 .2h0m1.3 0h0m-1.5 .3h0m-2.5 .1h0m5.6 .8h0m-2.2 0h0m.5 .1h0m-.7 .1h0m-2.8 .1h0m5.3 .3h0m-2.1 0h0m1 0h0m-1.4 .1h0m.6 .7h0m-1.3 .1h0m-1.2 .2h0m-.2 0h0m-.4 0h0m2.7 .1h0m-1.4 0h0m-1 .4h0m1.7 .2h0m-1.4 .2h0m3.1 .2h0m-.5 .2h0m-3.2 .1h0m-.4 .1h0m3.8 .5h0m-2.5 .6h0m4 0h0m-1.9 .2h0m.6 .3h0m1.4 .6h0m-.9 .1h0m.8 0h0m.2 .6h0m2.9-19.1h0m-.6 .1h0m2.6 0h0m-2.3 0h0m-.3 .3h0m-.4 .1h0m.3 .2h0m2.1 .2h0m-.6 .4h0m2.1 0h0m-2.4 0h0m-.8 .2h0m-2 .4h0m4.3 .1h0m.4 .5h0m-2.5 .7h0m.8 .2h0m-.1 .2h0m.3 .2h0m-.5 .2h0m1.4 .1h0m-2.6 .3h0m3.9 .1h0m-3.6 .1h0m-.4 .1h0m-1.1 0h0m2.8 .5h0m-.5 0h0m-1.3 .1h0m3.4 .1h0m-4.2 .1h0m1.4 .1h0m-1.7 .1h0m2.1 0h0m1.7 0h0m-1.2 .2h0m-.2 .2h0m-2.4 .1h0m.2 .1h0m1.1 .1h0m1.9 .1h0m1 0h0m-2.4 0h0m-1.3 .1h0m3.4 0h0m-.6 0h0m-3.4 .1h0m-.2 .1h0m2.1 0h0m2.4 .6h0m-1.1 .1h0m.7 .1h0m1.3 .1h0m-4.3 .3h0m2.1 .1h0m.3 .1h0m-2.7 0h0m2.3 0h0m1.3 .4h0m1.1 .3h0m-1.7 .2h0m-3.1 .2h0m2.9 .3h0m0 .1h0m.7 .2h0m-4 .2h0m4.5 .2h0m-2 0h0m-2.6 .2h0m3.6 0h0m-2.8 .2h0m.1 .1h0m1.5 .2h0m1.5 .1h0m-.5 .1h0m-1.7 0h0m2.4 .3h0m-3.6 .1h0m.1 .1h0m3.2 .1h0m-3.2 .1h0m1.3 0h0m.5 .1h0m-.8 0h0m-1.9 .7h0m2.5 .2h0m-1.4 .1h0m.1 .1h0m-1.3 .3h0m5 .1h0m-4.4 0h0m5 .2h0m-2.3 .2h0m-.2 .1h0m-1.8 0h0m2.6 .1h0m-.5 .1h0m.8 0h0m-3.2 .1h0m3.3 .3h0m-1.1 0h0m-1.3 .1h0m-.8 .1h0m1.7 .1h0m2.1 .1h0m-.7 0h0m-4.3 .1h0m.2 .3h0m2.3 1h0m3.1 0h0m-1.6 .1h0m1.4 0h0m-1.3 0h0m-2.1 .2h0m3.5 .1h0m-4.6 .1h0m3.1 .4h0m-3.9 .1h0m4.1 .9h0m-3.8 0h0m.5 .3h0m.3 .1h0m-1.3 .3h0m3.5 0h0m-.4 0h0m1.7 .1h0m-1.1 0h0m.2 .2h0m-.5 .2h0m-.3 .3h0m2.5 .2h0m-2 .2h0m-.8 0h0m.5 .2h0m8-20.9h0m-3.7 .2h0m4.1 0h0m-1.2 0h0m-3.3 .3h0m1.3 .1h0m2.6 .4h0m-2.8 0h0m2.1 0h0m-3.8 0h0m3.3 .5h0m.1 .1h0m-2.4 0h0m-.9 0h0m3.1 .2h0m-2.9 .2h0m4.1 0h0m.3 .2h0m-1.9 .4h0m0 0h0m1 .1h0m-1 .1h0m1.9 .1h0m-3.8 .1h0m-1.2 0h0m2.7 .4h0m-1.4 0h0m3.9 .1h0m-4.8 .1h0m.3 0h0m.3 .3h0m-.1 .1h0m1.2 .2h0m-1.4 0h0m1.5 .3h0m1.7 .1h0m-2.5 .2h0m2.1 .1h0m.3 .2h0m-.3 .1h0m1.4 0h0m-3.1 0h0m3.5 0h0m-.3 .2h0m-1.7 .2h0m-1.8 0h0m2.6 .2h0m-.6 .6h0m-1.3 .1h0m-.3 .5h0m-1.6 0h0m2.2 .1h0m.5 0h0m-.6 0h0m2.1 0h0m-2.1 .7h0m.3 .1h0m-1.5 .3h0m2.6 .1h0m-.3 0h0m-2.7 0h0m4.7 .2h0m-5 .1h0m4.7 .1h0m-4 0h0m3.8 .1h0m-3.5 0h0m2.3 0h0m.1 .3h0m1.3 .1h0m-2.5 .1h0m-2.2 0h0m-.4 .1h0m.2 .2h0m3.1 .1h0m.1 .2h0m-2.4 .1h0m4 .1h0m-3 0h0m-.5 0h0m1.5 .4h0m-2.4 .2h0m-.8 .1h0m3.4 .1h0m-1.5 .1h0m-.1 .1h0m-1.4 .2h0m5.1 0h0m.1 .2h0m-1.2 .1h0m-1.5 .2h0m-.3 .2h0m2.1 .1h0m-1.5 0h0m.5 .3h0m-3.8 .1h0m5.5 0h0m-3.3 .2h0m-2.1 .2h0m1.7 0h0m-1.1 .1h0m.2 .5h0m.1 .1h0m3.1 .1h0m-.6 .6h0m.7 .2h0m-1.9 .1h0m3.5 .3h0m-3.4 0h0m1 0h0m-1.9 .2h0m1.2 .1h0m1.6 .5h0m.5 .4h0m-4.4 .2h0m4.8 0h0m-2 .1h0m-3.1 .3h0m1.1 0h0m-.4 .1h0m2.6 0h0m-1.3 .3h0m1.9 .2h0m-.9 .2h0m2.4 .4h0m-5.4 .3h0m3.4 .1h0m1.3 .4h0m-2.4 0h0m2 0h0m-2.9 .3h0m1.6 .4h0m-2.2 .3h0m-.9 .2h0m1.4 0h0m.4 .3h0m4.3-20.7h0m0 0h0m5 .1h0m-.6 .2h0m1.4 .1h0m-5.1 0h0m4.4 .2h0m-.3 0h0m-3.9 .1h0m2.4 .2h0m-.8 .2h0m-.5 0h0m1.2 .1h0m.3 .2h0m-2.1 .2h0m0 .3h0m1.7 .2h0m.8 .1h0m-3.8 .3h0m2.1 .4h0m1.3 .3h0m-2.6 .1h0m-.6 0h0m5 0h0m-5.3 .4h0m2.4 0h0m-2.4 .5h0m5.6 0h0m-4.2 .2h0m3.1 0h0m-2.9 .6h0m4.2 .4h0m-5.8 .2h0m2.2 .2h0m1.8 .4h0m-4 .2h0m5.7 .1h0m-.8 0h0m-3.2 .2h0m1.8 .6h0m-2.3 .1h0m3.1 .2h0m-4 .4h0m-.4 .3h0m4.7 .4h0m-3.8 .3h0m4.9 .5h0m-2.9 .4h0m1.3 .4h0m-3.8 .1h0m3.1 .2h0m1.3 .2h0m-1.8 .1h0m-1.4 .2h0m3.4 .2h0m-5 .1h0m1.5 .3h0m4.4 .1h0m-5.1 0h0m3.9 0h0m0 .1h0m-1.9 0h0m-2.9 .1h0m0 .1h0m1.9 .1h0m2.1 .1h0m-2.5 0h0m2.1 .1h0m-2.6 0h0m4.1 .1h0m.8 .2h0m-3.1 0h0m-.3 .3h0m.1 .2h0m1.6 .3h0m-2.2 0h0m3.4 .4h0m-3.7 .1h0m1.1 .2h0m-.2 0h0m2.6 .1h0m-1.4 0h0m.6 .1h0m-.9 0h0m-.2 .1h0m.4 .3h0m-3.6 .4h0m2.7 .1h0m-1 0h0m3.1 .1h0m1.1 .3h0m-5.1 .1h0m4 .1h0m-3.6 0h0m-1.3 .1h0m2.3 .1h0m1.4 .2h0m-2.4 .1h0m3.5 .2h0m-3.9 .3h0m.8 .9h0m-1.7 .5h0m8.2-18.6h0m1 0h0m2.5 .3h0m-4.7 .5h0m3.4 .1h0m-3.6 .4h0m.2 0h0m3.4 .1h0m-.9 .1h0m-1.8 0h0m.6 .2h0m-1.8 .2h0m.7 .1h0m2.3 .5h0m1.3 0h0m-1.8 .3h0m1.2 0h0m.2 0h0m-2.3 .3h0m.7 0h0m-.4 .2h0m-.2 .1h0m.4 .1h0m-1.7 .2h0m4.6 .2h0m-.7 .3h0m-.9 0h0m-2 .2h0m2.1 0h0m-2 .5h0m3.5 .2h0m-5.2 .6h0m-.1 0h0m1.6 .1h0m3.8 .4h0m-1.5 .1h0m-.9 .3h0m-.2 .8h0m.7 .1h0m-2.9 .2h0m.5 .1h0m-.7 0h0m-.2 .1h0m-.1 .1h0m4.1 0h0m.8 .1h0m-1.9 0h0m.3 .1h0m-2.4 .1h0m2.5 .3h0m-.2 0h0m2.3 0h0m-1.7 0h0m.9 .1h0m-1.5 .2h0m-2 .2h0m.2 0h0m3.3 .1h0m-3.7 .4h0m-.5 0h0m4.6 .1h0m-.5 .4h0m-4.8 0h0m.7 .5h0m1.6 .2h0m-.3 .1h0m-2 .2h0m4.4 .2h0m-.5 .1h0m-2.8 .1h0m4.3 .1h0m-4.6 .5h0m2.8 .3h0m-2.3 .2h0m1 .7h0m2.1 .4h0m-1.7 .5h0m-.5 .3h0m-1 .4h0m5.2-15.1h0m3.8 0h0m-2.8 0h0m3 .1h0m1.3 .1h0m-2.6 0h0m2.8 .1h0m-3.2 .5h0m-2.2 .1h0m5.4 .1h0m-5 .1h0m3.4 0h0m-3.1 0h0m1.1 .2h0m2.2 .1h0m-2.9 0h0m.8 .1h0m.5 0h0m-1.6 .1h0m2.7 .6h0m1.2 .3h0m-3.4 .3h0m-.2 .1h0m.1 .2h0m-1.3 .6h0m1.9 .1h0m2.2 .1h0m1 .1h0m-5.6 0h0m2.4 0h0m.1 .1h0m-2.3 .4h0m.2 .3h0m2.2 .1h0m3 .2h0m-1.4 .1h0m-3.5 0h0m.1 .1h0m3.8 .2h0m.7 .4h0m-1.5 0h0m.2 .1h0m-2.4 .1h0m2 0h0m-3.4 0h0m.1 .1h0m2.2 .3h0m.2 .3h0m-2.1 .1h0m2.5 0h0m-2.6 .4h0m5.2 .1h0m-3.8 0h0m4 .2h0m-5.8 .1h0m2.7 .3h0m3.1 .2h0m-5.1 .4h0m-.2 .2h0m2.9 0h0m-2.4 .1h0m.5 .2h0m1 .2h0m2.2 .2h0m-4.2 .4h0m4.1 0h0m-.2 0h0m-4.3 .8h0m2.2 .2h0m-1.4 0h0m-.1 .1h0m-.1 1.2h0m.3 0h0m-1.1 .7h0m9.2-13.2h0m1.2 0h0m-4.1 .3h0m5.4 0h0m-1.5 .8h0m-.5 .1h0m-3.5 .1h0m1.1 0h0m2.1 .8h0m-.4 0h0m-2.7 .3h0m4.1 .4h0m-4.3 0h0m5.2 .2h0m-4.7 .3h0m2.1 .1h0m.2 .2h0m.1 .2h0m1.6 .7h0m-3.6 .1h0m3.2 .1h0m-.5 0h0m.1 .1h0m-2.5 .2h0m.8 .4h0m-1.8 .2h0m2.7 .4h0m-2.6 0h0m1.6 .1h0m-1.7 .1h0m1.9 .9h0m-2.1 0h0m.7 .4h0m-.4 .6h0m.3 .1h0m.4 0h0m-.7 .6h0m7-8.4h0m-.3 .3h0m-.2 .1h0m-.7 1.3h0" stroke="#34a034" stroke-width="1.10" stroke-linecap="round" fill="none" opacity="0.8"/>
<path d="M494.3 55.3h0m.5 .7h0m-1.1 .1h0m.2 .1h0m.2 .3h0m.2 2h0m-.4 .9h0m.8 .3h0m-.2 1h0m.5 .3h0m5-9.4h0m-2.9 .3h0m2.8 .1h0m0 .5h0m-1.5 .2h0m.6 .1h0m-.5 .2h0m-1 .7h0m-1.2 .2h0m2.3 .2h0m-2 .7h0m3.4 .2h0m-3 .4h0m.7 .3h0m-1.4 0h0m-1.2 .3h0m2 .2h0m2.7 0h0m.9 .1h0m-3.5 0h0m-2.1 .1h0m3.9 .2h0m.5 .1h0m-1.4 .1h0m1.4 .2h0m-2.1 0h0m-1.5 .4h0m1.8 .1h0m3.2 .2h0m-1 .5h0m-1.8 0h0m-2.7 .3h0m3.6 .2h0m-2.3 .2h0m-1.5 .7h0m5.4 .2h0m-3.9 .1h0m-.3 .2h0m3.1 0h0m-1.9 .2h0m1.5 .1h0m-2.6 .8h0m-.3 .3h0m2.1 .4h0m0 .2h0m.5 0h0m-2.5 .3h0m4.2 .7h0m-2.9 0h0m-.6 .4h0m3.7 .3h0m-.6 .1h0m-1.2 0h0m.7 .3h0m-3.9 0h0m3.5 .2h0m-.2 .2h0m.4 .2h0m-1.4 .1h0m1.1 .6h0m-1.9 1h0m1.4 0h0m-.1 .2h0m2.4 .3h0m-1.5 .7h0m.1 0h0m-.8 .5h0m1.9 1.6h0m-.4 0h0m.3 .6h0m-.9 2h0m1 .9h0m2-22.1h0m-1.1 1.3h0m.2 .3h0m4.3 .1h0m-2.9 .4h0m3.2 .6h0m-4.9 .2h0m4.7 .2h0m-3.8 .2h0m4.3 0h0m-3.1 .1h0m2.8 .1h0m-4.6 .1h0m.8 0h0m4.2 .1h0m-4.5 .5h0m-.8 .3h0m2.5 0h0m-2.9 .6h0m1.3 .3h0m2.1 .2h0m-2.6 .1h0m-.2 .1h0m3.5 .2h0m-.1 .4h0m-1 .3h0m2.6 .7h0m-1.2 .1h0m-2.8 0h0m3.8 .3h0m-5.3 .1h0m5.7 .2h0m-3.4 .9h0m3.6 .5h0m-2.6 .1h0m-1.7 .5h0m-1.4 0h0m4.1 .6h0m-.8 .2h0m-2 0h0m-1.6 .1h0m4.2 .1h0m.2 .1h0m1.2 .2h0m-3.1 .1h0m.4 .3h0m1.4 .1h0m1.6 .1h0m-5.3 0h0m1.3 0h0m-1.5 .1h0m.1 .6h0m1.9 .2h0m3.6 .2h0m-.1 .3h0m-4.6 .4h0m2.6 .8h0m-1.7 .1h0m3.3 .1h0m-1.9 1h0m-2.4 .3h0m1.8 .7h0m-.7 .2h0m3.2 .2h0m-3.3 .7h0m3.5 0h0m-2.2 .9h0m2.5 .1h0m-1.2 .2h0m1 .1h0m-1.1 0h0m-.9 .1h0m2 .1h0m-5.6 .3h0m4.3 .1h0m-4.5 .4h0m4.5 .3h0m.8 .1h0m.5 .2h0m-.2 .4h0m-1.2 .2h0m1.1 0h0m-.9 .4h0m-3 0h0m3.6 .1h0m.5 0h0m-2.1 .2h0m-1.2 1h0m3.3 .1h0m-2.3 0h0m-2 .2h0m2.4 .1h0m1.2 .3h0m-.8 .1h0m-.8 0h0m-2.9 .1h0m.2 .3h0m1.5 .5h0m-1.5 .4h0m1.5 0h0m4.6-24.7h0m-.1 .2h0m.9 .4h0m1.7 .3h0m2.3 .3h0m-4.3 1.1h0m1 .7h0m.3 .1h0m.4 .1h0m1.1 .1h0m1.5 .5h0m-5.4 1.1h0m.7 .3h0m5 .6h0m-.3 .5h0m-.2 .1h0m-3.4 0h0m.4 .3h0m-2.2 .5h0m3 .1h0m-2.2 .6h0m1.7 .2h0m-.1 0h0m-1.4 .2h0m3.3 0h0m-2.9 .6h0m1.4 .2h0m-.9 .3h0m-1.4 0h0m2.1 .1h0m-.9 0h0m-.4 .5h0m-.9 0h0m1.1 .4h0m.9 .1h0m1.8 .3h0m-3.7 .2h0m4.7 .4h0m-3.2 .1h0m3.4 .6h0m-4.5 .1h0m3 .1h0m-2 .3h0m3.4 .1h0m-3.5 .4h0m1 .4h0m1.6 0h0m-2.6 .2h0m3.7 0h0m-5.4 .1h0m1.5 .3h0m-1.5 0h0m0 .1h0m.1 .5h0m1.9 .2h0m2.4 0h0m-4.4 .3h0m2.2 0h0m-2 .2h0m5.4 .2h0m-.1 0h0m-3.4 .5h0m-1.9 .1h0m2.2 .4h0m.4 .1h0m-1.9 .1h0m-.1 .5h0m2.8 0h0m1 .1h0m-.5 0h0m-1 .4h0m1.2 .2h0m.9 .1h0m-4.6 .1h0m2.7 .1h0m-2.3 .5h0m-.3 .3h0m-.1 .9h0m-.5 .9h0m0 .2h0m7.2-19.9h0m1.1 .5h0m-1.8 .1h0m3.7 .2h0m-2.2 .1h0m3.1 .4h0m-.1 0h0m0 .4h0m.3 .1h0m-4.1 .1h0m1.5 .2h0m.6 .1h0m-.5 .5h0m.7 .3h0m.7 .5h0m-2.7 .5h0m1.3 .9h0m2.7 .1h0m-4.3 .5h0m3.4 .4h0m-2.4 .4h0m1.6 .1h0m-2.2 0h0m-1.8 .1h0m5.5 1h0m-1 .4h0m1.3 .5h0m-5.3 .1h0m4.5 0h0m-.2 .1h0m-.6 0h0m-3 .6h0m1.8 0h0m-1.9 .5h0m3.4 1.1h0m.5 .1h0m-5.2 .1h0m.9 .1h0m-.3 .6h0m2.2 .1h0m-1.8 0h0m4.1 1.5h0m-1.5 .1h0m-.1 .4h0m2.5 .8h0m-1.9 .1h0m-.4 .3h0m-1.7 .5h0m.5 0h0m2.6 .6h0m-.5 .1h0m-4.3 .3h0m2.7 0h0m.2 .1h0m.8 0h0m0 0h0m-.8 .1h0m-2.5 0h0m.7 .1h0m3.8 .4h0m-1.7 .5h0m1.3 .7h0m-2 .1h0m.8 .8h0m2.2 .4h0m-.2 0h0m-.1 .1h0m.2 .1h0m-2.3 .6h0m2.6 .3h0m-.6 .4h0m.4 1h0m-1.6 .3h0m6.6-24h0m-1.6 .2h0m-.9 .4h0m-.9 .6h0m-1.3 .2h0m3.1 .1h0m-1 .1h0m.6 .3h0m.7 .1h0m-1.8 .1h0m3.3 .2h0m-2.4 .2h0m1.2 .1h0m1.5 .7h0m-3.1 .7h0m1.9 .3h0m-3.7 0h0m3.5 0h0m-2.9 0h0m4.9 .3h0m-3.7 .1h0m-.7 .7h0m.1 .2h0m2.1 .4h0m0 .2h0m.9 .4h0m-2.8 .4h0m-1.2 .2h0m4.5 .4h0m-1.9 .2h0m.3 .1h0m1.3 .2h0m-.1 .1h0m-4.6 0h0m3.9 .2h0m-3.8 .4h0m2.9 .5h0m-2.4 0h0m-.4 .1h0m.1 .4h0m4.5 .1h0m-1.2 1.9h0m-1 .3h0m3.1 .2h0m-2.5 .1h0m.4 0h0m-1.2 .1h0m1 0h0m.5 .1h0m-1.7 0h0m3.2 .1h0m-4.9 .1h0m1.4 .1h0m-1.6 .2h0m.6 .4h0m-.7 .2h0m.3 .1h0m1.6 .1h0m-1.9 .1h0m2.7 0h0m-2.8 0h0m5.1 .2h0m-3.3 .6h0m1.6 .4h0m-.5 .1h0m2.5 .9h0m-4 .5h0m-1.4 .1h0m2.1 .1h0m1 .2h0m1.4 .1h0m-3.4 .3h0m-.1 0h0m.2 .1h0m2 .5h0m-.4 .6h0m-2.2 .2h0m4 .4h0m-.7 .5h0m-1.7 .7h0m1.1 .2h0m.6 .2h0m0 .3h0m-3.5 .1h0m4 .3h0m-2.9 .6h0m3.1 .1h0m.1 .1h0m.4 .3h0m.1 0h0m-3.9 0h0m-.4 .3h0m2 .1h0m.7 .2h0m-1.7 .1h0m2 1.1h0m-2 .8h0m4.5-25h0m-.1 .2h0m4.2 1h0m-4.6 .2h0m-.1 0h0m2.5 .5h0m.6 1.1h0m-1.5 .4h0m4.1 .1h0m-2 .7h0m-1 .1h0m-.6 .5h0m-1.3 .2h0m2.9 .2h0m-3.1 0h0m3.8 .2h0m-1.8 .1h0m.4 .3h0m-1 .2h0m2.3 0h0m-3 .2h0m.6 .3h0m1.8 .6h0m2.3 .1h0m-1.7 .1h0m-3.4 0h0m.3 .1h0m3.8 .1h0m-.6 .2h0m-.8 0h0m-3.5 .1h0m3.2 .3h0m-3.3 .1h0m4.8 .5h0m-2.2 .3h0m.7 .4h0m.4 .2h0m1.2 .2h0m-1.1 .2h0m-2.2 .2h0m1.6 .5h0m2.1 .7h0m-.2 .2h0m-2.7 .6h0m3.2 .3h0m-.2 .2h0m-1.3 0h0m-.6 .9h0m-2.3 .3h0m2.9 .2h0m-3.7 .1h0m4.1 .2h0m-1.7 .1h0m-.6 .5h0m3.7 .3h0m-2.3 .1h0m-2.7 .3h0m2.5 .1h0m1.2 0h0m1.3 .2h0m-5.5 .4h0m3 .3h0m-2.5 .1h0m1.7 .1h0m-.2 0h0m2.5 .1h0m-1.9 .3h0m.2 .3h0m-3.1 .3h0m2.1 .4h0m-1.4 .8h0m1.4 .2h0m-1.2 .1h0m-.4 1h0m1.9 0h0m-2.5 .4h0m.1 0h0m.6 .3h0m0 .2h0m5.5-16.3h0m.9 1.3h0m1.6 .9h0m-.8 1.5h0m-1.7 .1h0m1.8 .7h0m-.9 .1h0m.3 .1h0m-1.1 1.6h0" stroke="#d93a3a" stroke-width="1.00" stroke-linecap="round" fill="none" opacity="0.65"/>
<path d="M495 58h0m5.8-4.1h0m-1.8 .8h0m-2.1 1h0m-.2 .3h0m3.4 .2h0m.7 .4h0m-1.6 .3h0m-1.9 .1h0m3.6 .1h0m-.8 .2h0m-.5 .4h0m.2 0h0m-4.5 0h0m3 .1h0m-2.8 .3h0m2.5 .2h0m2.7 .1h0m-5.1 .2h0m4.2 .5h0m-1.9 .3h0m2.5 0h0m-2.9 .1h0m1.5 .1h0m-2.3 .1h0m1 .1h0m-.7 .5h0m2.5 .5h0m.5 .5h0m-1.5 0h0m-.7 1h0m2.2 .2h0m-2.3 .1h0m1.8 0h0m1.1 .2h0m-.9 .6h0m-.5 .3h0m-.3 .5h0m-.7 .7h0m5.2-11h0m.1 .3h0m-1.6 .3h0m-.8 .8h0m3.6 .1h0m-2.4 .4h0m1.2 .3h0m2 .2h0m-4.1 .2h0m3.4 0h0m-1.9 .1h0m.1 .1h0m2.9 0h0m-2.4 .1h0m-.9 .2h0m4.2 .7h0m-2.7 0h0m-3 .1h0m4.5 0h0m-2.4 .4h0m-1.4 .1h0m.6 .3h0m.3 .2h0m1.4 0h0m-.2 .1h0m1.5 .1h0m-2.2 0h0m1.6 .5h0m-3.3 0h0m4.6 .2h0m-.7 .3h0m-.3 0h0m-1.3 .1h0m-2.5 0h0m2.4 .2h0m-1.3 .2h0m-.5 .1h0m.7 .2h0m4.4 .4h0m-1.2 .1h0m.1 .1h0m-.3 0h0m.6 .1h0m.1 .1h0m-.5 .1h0m-.6 .1h0m-1.5 .1h0m-.4 .1h0m1.2 .1h0m-2.9 .2h0m3.6 .2h0m-1 0h0m2.8 .2h0m-5.3 .3h0m-.2 1h0m2.7 .2h0m-.2 .4h0m-2.7 .4h0m.9 0h0m4.9-8.1h0m2 .3h0m.2 .1h0m-.2 .4h0m1.1 .1h0m-2.9 .5h0m.7 .1h0m2.5 .3h0m-3 .2h0m1.2 .4h0m-1.2 .4h0m2.4 .6h0m-1.7 .3h0m1.3 .1h0m.5 0h0m-2.6 .5h0m2.8 0h0m-.6 .3h0m-2.4 .1h0m1.7 1.2h0m-.2 .3h0m-.8 .6h0" stroke="#d63030" stroke-width="1.10" stroke-linecap="round" fill="none" opacity="0.8"/>
<path d="M530.9 82.5h0m-.3 1.5h0m.1 .6h0m.2 .3h0m-.6 1.1h0m-.4 0h0m-.3 .1h0m.3 .3h0m.3 .9h0m.6 .8h0m0 2.9h0m4.2-13.5h0m.3 .1h0m1.3 .9h0m-1.9 .1h0m2 .9h0m.1 .5h0m-3.9 .2h0m1.7 .1h0m2.3 .2h0m-2.2 .1h0m-1.5 .1h0m1.4 0h0m1.9 .2h0m-2.5 .5h0m1.8 0h0m-3.8 .2h0m2.8 .1h0m-1.7 0h0m.4 .1h0m.6 0h0m.4 .2h0m2.2 .2h0m-1.4 0h0m-3.6 .1h0m2 .2h0m-2.4 .1h0m.8 .1h0m3.1 .3h0m-.1 .3h0m1.7 .1h0m-1 .5h0m-2.6 .2h0m-.1 .4h0m.8 .5h0m-.4 .3h0m-2 .1h0m2.7 .2h0m-2.6 .2h0m.3 .1h0m-.2 .1h0m3.9 .1h0m-2.5 .3h0m-.5 0h0m3.7 .1h0m-2.2 .1h0m2.3 .1h0m-.8 0h0m.7 .2h0m-4.8 .1h0m2.8 0h0m.6 0h0m.6 .1h0m-1 .2h0m-1 .2h0m-1 0h0m-1.1 .1h0m4 .1h0m-1.5 0h0m-.7 .1h0m3.7 0h0m-.2 .1h0m-1.1 .1h0m-2.8 .7h0m.8 0h0m-.9 0h0m-1.3 .4h0m3.4 .4h0m0 .5h0m-1.6 0h0m1.2 .1h0m2.2 0h0m-1.4 .1h0m-2.1 .2h0m-.2 0h0m3.9 .2h0m-1.3 .5h0m-.8 0h0m.1 .4h0m-1.8 .3h0m2.3 .2h0m5.2-17.9h0m2.3 .1h0m-1.8 .5h0m-2.2 .2h0m.7 .1h0m2.2 .3h0m.5 .1h0m-3 .7h0m-1.2 .2h0m.4 .8h0m1.8 .3h0m.3 .1h0m-2.5 .1h0m3.7 .1h0m-1.7 .2h0m-1.2 0h0m1.8 .1h0m2 .2h0m-1 0h0m-.9 .1h0m-2.4 .1h0m-.4 .4h0m3.7 0h0m-2.2 0h0m-.7 .2h0m2.5 .3h0m.8 0h0m-.2 .1h0m-4.5 .1h0m1.6 .2h0m2.1 .1h0m-3.6 .1h0m3.3 .1h0m1.8 .3h0m-5.2 .3h0m4 .1h0m-1.5 .2h0m2.6 0h0m-4.7 .2h0m1.9 .1h0m-1.4 .2h0m1.1 .3h0m.8 .4h0m-.5 .1h0m-1 0h0m-1.1 0h0m4.8 .3h0m-4.2 0h0m3.1 .2h0m.4 0h0m1.3 .1h0m-5.6 0h0m2.1 .3h0m1.3 .6h0m-.6 .1h0m-2.3 .2h0m1.9 .3h0m1.9 .9h0m-3.8 0h0m3.6 .4h0m.2 .1h0m-.4 .1h0m-.6 .4h0m-2.1 .6h0m-.8 .1h0m2 .2h0m2.1 .1h0m.4 .8h0m-3.2 .5h0m2.6 .4h0m1.3 .1h0m-3.9 .6h0m1.4 .1h0m-.7 .2h0m1.5 .3h0m.6 .1h0m-3.6 .5h0m4.3 .1h0m-5.4 0h0m1.7 .1h0m.7 .1h0m-.3 .1h0m1.2 .4h0m.5 .2h0m-1.7 .2h0m-.6 .1h0m1.9 0h0m-2.6 .2h0m1.6 .5h0m6.7-20.4h0m1.7 .1h0m-4.1 0h0m1.9 .1h0m1.3 .4h0m-.9 .1h0m.8 .2h0m-.7 .3h0m2.3 0h0m-.8 0h0m-3.7 .2h0m2.4 .4h0m-1.9 .1h0m2.8 .4h0m1.5 .2h0m-2.5 0h0m.2 .5h0m-1.8 .4h0m.1 .2h0m3.7 .3h0m-3.2 0h0m-1.7 .1h0m2.5 .1h0m2.6 0h0m-1.3 0h0m-2.8 .1h0m2.2 .1h0m-1.7 0h0m-1.6 .1h0m2.6 .2h0m-2.8 .3h0m1.1 .2h0m4.4 .1h0m-2.6 .1h0m1.2 .3h0m-1.9 0h0m1.1 .3h0m-2.5 .2h0m4.6 0h0m.2 0h0m-1.1 .7h0m.7 .8h0m0 0h0m-4.8 .6h0m3.6 .1h0m1.6 .5h0m-4.1 .1h0m-.8 .5h0m1.8 .1h0m.5 .1h0m-.2 0h0m1.3 .1h0m-1.1 .1h0m.7 .1h0m-2.5 0h0m1.8 .5h0m-3 0h0m5.4 .1h0m-2 .1h0m-1.5 0h0m3.7 .2h0m-5 .5h0m.7 .1h0m1.4 .2h0m1.3 .2h0m-1 0h0m0 .1h0m-2.9 .1h0m2.3 0h0m-1.6 .2h0m1.1 .4h0m.3 .2h0m1.7 .1h0m.7 .2h0m-.4 .3h0m-3.5 .1h0m3.9 .3h0m-.4 .2h0m-1.6 .9h0m.4 0h0m-2.8 0h0m-.3 .1h0m.4 0h0m0 1.6h0m.9 .2h0m.3 0h0m-.7 .3h0m-1 .5h0m6.5-17.9h0m2.4 .4h0m-.9 .1h0m-1 .3h0m-1 0h0m.1 .6h0m1.7 0h0m-.6 .1h0m-.8 .3h0m-.3 .3h0m2.1 .1h0m-2 .1h0m3 .1h0m.2 0h0m-2.6 0h0m2.1 .1h0m.3 .2h0m-3.1 .5h0m.2 .1h0m3.5 0h0m-2.8 0h0m2.5 .5h0m-1.1 .2h0m-2.5 .3h0m2.5 .3h0m.8 .6h0m-.1 .1h0m.3 .1h0m-3.5 .1h0m1.2 .2h0m-1 .3h0m.1 .1h0m1.8 0h0m.3 .2h0m.2 .1h0m-.9 0h0m-.3 .2h0m.2 .2h0m-1.2 .3h0m2.3 .3h0m1 0h0m-3.6 .2h0m.2 .8h0m1.4 .5h0m-.2 .4h0m-1.3 .1h0m.4 .1h0m0 .2h0m1.5 .4h0m-.8 .3h0m-.4 .6h0m-.4 1.1h0" stroke="#9a6fc8" stroke-width="1.10" stroke-linecap="round" fill="none" opacity="0.8"/>
<path d="M560.1 72.4h0m-1.2 0h0m-3 1.1h0m2.1 .1h0m1.2 .2h0m-3.2 .1h0m-.2 .4h0m3.8 .2h0m-3.6 .1h0m.8 0h0m1.3 .1h0m1.1 .2h0m-.7 .1h0m-.2 .2h0m-1.7 .2h0m-.4 .1h0m.8 .6h0m-.7 .2h0m.1 0h0m1.4 .2h0m2 0h0m-.5 .1h0m-.4 .2h0m-2.6 .2h0m.6 .1h0m-1.7 .1h0m2.5 .2h0m-1.8 0h0m4.3 0h0m-4.5 .1h0m2.4 .6h0m.5 .1h0m-1.8 .1h0m2.7 .3h0m-3.7 0h0m4.9 .1h0m-3.3 .1h0m-.3 .1h0m3.4 0h0m-2.8 .1h0m-.4 .1h0m-.9 0h0m.1 .3h0m1.8 0h0m0 .1h0m-.5 .1h0m-.7 0h0m1.3 .5h0m-.8 .4h0m2.2 .2h0m.3 0h0m-.9 .3h0m.6 .1h0m-.6 0h0m.9 1h0m.3 .1h0m-.1 .1h0m-.2 0h0m.6 .5h0m1.5-11.5h0m-.5 .5h0m-.3 .1h0m-.2 .3h0m.2 0h0m2.6 .1h0m1.7 .2h0m-2.7 0h0m1.7 .3h0m1.3 .1h0m-.6 .2h0m-1.3 .1h0m-.8 .2h0m-.4 0h0m-.4 .2h0m1.6 0h0m-.9 .2h0m-1.2 0h0m.4 1.3h0m.6 .1h0m.5 .1h0m1 .1h0m-1.1 .2h0m3.6 .1h0m-3 .1h0m-1.7 .2h0m1.1 .5h0m3.4 .1h0m-3.1 0h0m2 0h0m-4.5 .3h0m1 .2h0m3.6 .3h0m.1 0h0m-.4 .1h0m-2.4 0h0m2.7 0h0m-.2 .1h0m-4.6 0h0m2.8 .5h0m3 .1h0m-2.8 0h0m-2.1 .4h0m3.7 .1h0m-4.2 0h0m3 0h0m1.7 .1h0m-2.8 .2h0m.9 .1h0m1 0h0m-.8 .2h0m-2.2 .1h0m2 .3h0m1.6 0h0m-3.3 0h0m3.8 0h0m-4.1 .4h0m1.8 .1h0m1.9 .8h0m1 0h0m-.1 .3h0m-1.3 0h0m-2.6 0h0m-1.3 0h0m2.7 0h0m.8 0h0m1.5 .4h0m-4.3 0h0m1.7 .1h0m.3 0h0m.3 .1h0m-2.9 .3h0m5.2 .1h0m-4.5 .2h0m3.9 .2h0m-.8 .1h0m-2.3 .2h0m1.6 .2h0m-1.6 .1h0m-2.2 0h0m3.4 .4h0m-1.3 .4h0m.5 .4h0m1.1 .3h0m2.9-11.7h0m.6 .6h0m-.8 .2h0m1.6 .2h0m1 .3h0m-.3 .2h0m1.6 .1h0m-2.2 .1h0m.7 .3h0m-2.4 .2h0m3.7 .1h0m.4 .1h0m.6 0h0m-2.6 0h0m-2 0h0m2.3 .1h0m2.7 0h0m-3.7 .6h0m3.8 .3h0m-.3 .2h0m-1.3 .2h0m-3.9 .4h0m5.4 .4h0m-1.6 .1h0m-3 0h0m.2 0h0m0 .2h0m1.7 .2h0m2.5 .3h0m-4.6 .5h0m.3 0h0m3 0h0m-.9 .3h0m2.2 .1h0m-2.3 0h0m-1.4 .2h0m1.9 .2h0m-.6 0h0m-.5 0h0m-.4 .1h0m1.3 .5h0m1.5 .2h0m-3.9 .1h0m1.5 .4h0m1.8 .1h0m1.1 .3h0m-4.7 0h0m3 .1h0m-1.5 .1h0m3 .3h0m-4.1 0h0m0 .1h0m3.5 .2h0m1.3 .2h0m-4.3 .2h0m2.7 .7h0m.2 .1h0m-.4 .2h0m-.3 .1h0m1.6 .2h0m-1.4 .2h0m1.7 .9h0m-3.9 .2h0m.4 .2h0m.1 .1h0m-1.4 .4h0m-.1 .3h0m2.5 .1h0m-1.9 0h0m3.5 .9h0m-1.6 .1h0m1.7 0h0m-1 .2h0m5.4-9.1h0m-2.6 .2h0m1.6 .2h0m1.9 .1h0m.8 .3h0m-3.2 .1h0m3.5 .1h0m-.6 .1h0m-3.7 .1h0m3.3 .3h0m1.5 .1h0m-4.7 0h0m1.9 .1h0m2.9 .1h0m-4.5 0h0m.8 .1h0m1.6 .5h0m-3.6 .5h0m.5 .1h0m4.2 .2h0m-.7 0h0m-3.4 .1h0m.8 0h0m1.8 .3h0m-.3 .2h0m-.4 .1h0m-.9 0h0m-.4 .1h0m-.2 .2h0m.3 .1h0m2 .2h0m.7 .1h0m1.1 .3h0m.1 .7h0m-.1 .1h0m-.1 .1h0m-.2 0h0m-2.2 .1h0m2.1 .1h0m.3 .2h0m-3.2 .1h0m1.2 .1h0m-1.5 0h0m4.3 .1h0m-2 .3h0m1.9 .2h0m-.6 .1h0m-2 .1h0m-2.1 .1h0m2.9 .3h0m-3 .1h0m-1 .1h0m.4 0h0m0 .1h0m.7 .1h0m4.7 0h0m-3.7 0h0m3.3 0h0m-4.8 .1h0m2.5 0h0m-1.5 .1h0m1.2 .2h0m0 .1h0m-1.4 .8h0m.5 0h0m1.8 .4h0m.3 0h0m1.9 .1h0m-3.4 .2h0m2.2 1h0m-.9 0h0m1.7 .1h0m-.1 .1h0m.9-9.1h0m.3 .4h0m1.5 1.5h0m-.4 1.4h0m-.9 .3h0m1 .4h0m-.4 .2h0m-.9 .2h0m1.7 0h0m-1.7 .3h0m2.9 .1h0m-1.6 .6h0m-.5 0h0m.2 .2h0m-.4 .4h0m2.3 0h0m-2.8 .1h0m2.2 .1h0m1.3 .3h0m.4 .1h0m-1.9 0h0m-2 .2h0m1.8 0h0m2 .2h0m-3.9 0h0m4.4 0h0m.2 .2h0m-4 .1h0m.4 .2h0m1.5 .4h0m-2.4 1.6h0" stroke="#9a6a5e" stroke-width="1.00" stroke-linecap="round" fill="none" opacity="0.65"/>
<path d="M541.6 17.6h0m-.3 .6h0m-1 .1h0m1.3 1.1h0m1.1 .4h0m-1 .2h0m.9 .9h0m-.4 .2h0m.3 1.7h0m3.4-7.4h0m2.3 .1h0m-1 .2h0m-2.2 .1h0m1.2 .1h0m.8 .6h0m1.1 .4h0m0 0h0m-4.1 .3h0m1.6 0h0m.7 .1h0m-1.6 .1h0m-.4 0h0m1.4 .1h0m-.3 .1h0m-.7 .2h0m3.6 .1h0m-4.7 0h0m-.2 .1h0m.6 .3h0m4.7 0h0m-.6 .1h0m-2.6 .2h0m.1 0h0m3 .2h0m-1.6 .1h0m-3.5 .1h0m3.4 .3h0m1.6 0h0m-1.1 .5h0m-.3 .6h0m-1 .2h0m1.8 .1h0m-1 0h0m-2.8 .4h0m-.6 .2h0m.3 .3h0m1 .1h0m3.4 .3h0m-.1 .2h0m-1.8 .1h0m-1.4 .3h0m-.8 .2h0m3.2 0h0m-2 .5h0m-1.3 .7h0m0 .3h0m.9 .4h0m.9 .1h0m-.7 .1h0m1.9 .1h0m.2 .1h0m-1.3 .3h0m2.1 .1h0m.8 .1h0m-.4 .1h0m-4.1 .1h0m3.1 .2h0m-.7 .5h0m1.9 .3h0m-1.6 .5h0m.1 1.4h0m-.1 0h0m.6 .7h0m-.2 0h0m.6 .2h0m1-15.2h0m4.1 .3h0m-.1 .1h0m-2.6 .6h0m2.2 0h0m.1 .1h0m-1.9 0h0m2.5 .2h0m1.7 .1h0m-4.8 .4h0m.6 .3h0m1.5 .3h0m.9 .5h0m-2.1 .1h0m1.1 .1h0m2.3 .4h0m-.9 .1h0m.1 .2h0m-4 0h0m-.4 .6h0m5.1 .2h0m0 0h0m-4.5 .2h0m3.9 .5h0m-.9 .6h0m0 .5h0m-1.6 .2h0m1.8 .1h0m1.2 .1h0m-.1 .1h0m-2.2 .1h0m.2 0h0m-.1 .3h0m-1.2 0h0m-.5 .4h0m1.7 .2h0m-1.2 0h0m.3 .2h0m-.1 0h0m3.8 .1h0m-5.4 .6h0m2.1 .4h0m.6 .1h0m2.1 .3h0m-.8 .1h0m-2.7 0h0m-1.4 0h0m3.5 .2h0m-.3 .5h0m-.5 0h0m-2.1 .3h0m2.7 0h0m.7 .3h0m-.7 .6h0m1.7 .1h0m-.4 .1h0m-4.3 0h0m1.3 0h0m-1.3 .2h0m3.1 0h0m1.2 .2h0m-1.1 .3h0m.4 .9h0m1.1 0h0m-3.6 .2h0m-1 .3h0m2.9 .1h0m.3 .9h0m.6 0h0m-1.5 0h0m-.6 .2h0m2.4 .6h0m-4.9 .3h0m.6 .1h0m4.6 .1h0m-3.5 .1h0m2.9 .3h0m-1.1 0h0m-1.6 .2h0m-.3 .2h0m4.2 0h0m-3.4 0h0m.6 .2h0m2.1 .1h0m-.3 1.1h0m.2 .7h0m3.1-18.4h0m1.3 .5h0m.4 .3h0m.3 .3h0m1 .4h0m-3.8 .4h0m2.3 .1h0m-2.2 .2h0m3.8 .1h0m.5 0h0m-.7 .1h0m.4 .1h0m-3.2 .1h0m.4 0h0m-.5 .3h0m0 .2h0m2.8 .1h0m-.7 .1h0m-4 .3h0m2 .3h0m2.3 .2h0m-1.5 .4h0m-1.5 .1h0m.6 .2h0m2.4 .1h0m-.1 .5h0m-3.1 .4h0m1.8 .2h0m1.5 0h0m1 .1h0m-2.8 .1h0m-.9 .4h0m3.6 .1h0m-2.1 .1h0m-1.4 .1h0m2 0h0m-3.4 0h0m.7 .1h0m2.8 .1h0m-1.7 .5h0m-.1 .3h0m-.9 .3h0m-1 .3h0m3.1 .1h0m-2.1 .1h0m.1 .3h0m1.4 .1h0m-1.1 .3h0m1.8 .2h0m-.5 0h0m.2 .4h0m-.6 .4h0m-1.2 .1h0m0 .5h0m4 .8h0m-2.4 .1h0m-2.7 .3h0m2.4 .1h0m1.7 .1h0m-4.2 .1h0m1.3 0h0m2.8 .5h0m-1.8 .7h0m2.2 .1h0m-3.1 .1h0m2.6 .1h0m1 .1h0m-1.5 .5h0m-.9 .5h0m-.1 0h0m3.1 .7h0m-5.6 .4h0m1.3 .1h0m2.8 .1h0m-3.1 .2h0m.5 .2h0m0 0h0m-.5 .1h0m1.4 .1h0m-1.9 0h0m2.9 .4h0m-.4 .5h0m-.3 .6h0m-2.1 .1h0m3.2 .1h0m2.5-15.7h0m1.1 .7h0m-1.7 .1h0m2.8 .3h0m-1 .5h0m1.9 .2h0m-2.9 0h0m2.3 0h0m.8 .9h0m-1.3 .4h0m-1.8 .3h0m1.1 .3h0m-1.8 .4h0m2.2 .3h0m0 .3h0m1.9 .1h0m-1.9 0h0m.2 .6h0m-1 .1h0m2.8 .5h0m-1.7 .3h0m-2.2 .4h0m3.8 .3h0m-.3 .2h0m-3.9 .1h0m2.5 .1h0m.2 .3h0m-1.6 .5h0m-.5 .5h0m-.1 0h0m1.7 .3h0m-1.4 .3h0m1.1 .6h0m2 .1h0m-.9 .3h0m0 .1h0m-1 0h0m-.8 .3h0m1 0h0m-.7 .3h0m-1.5 .1h0m4.3 .1h0m-2.3 0h0m.4 .1h0m-.7 .6h0m1.9 .3h0m-2.7 .1h0m3 .1h0m-1.4 .1h0m.5 .7h0m-1.4 .3h0m-1.6 .7h0m.4 .6h0m0 .7h0" stroke="#d27ac0" stroke-width="1.00" stroke-linecap="round" fill="none" opacity="0.75"/>
<path d="M554.3 44.5h0m.1 .2h0m-1.8 0h0m-1.1 .3h0m-.4 .1h0m.2 .1h0m3.7 0h0m-.6 0h0m.3 .7h0m-3.1 .2h0m2.3 .1h0m-3 .4h0m1.5 .2h0m-.7 .3h0m.2 .6h0m-1.2 .8h0m1.5 .2h0m-1 .4h0m3.5 .2h0m.2 .2h0m-.4 .2h0m-2.8 .1h0m1 .2h0m-2.3 0h0m-.2 .1h0m.4 .1h0m4.3 .1h0m-1.8 .3h0m-1.6 .1h0m1.8 0h0m-.1 .5h0m-1.9 .4h0m-.6 0h0m.1 .1h0m1 .6h0m3 0h0m-2.8 .1h0m2.3 0h0m-1.8 0h0m-.5 .1h0m-.9 0h0m-.2 .1h0m3.6 .4h0m-.5 .4h0m-.2 .2h0m1 0h0m.2 1.5h0m-2.3 .4h0m2.2 .1h0m-2.9 0h0m.5 .8h0m-.2 .4h0m3.1-12.1h0m.2 .2h0m-.2 4.7h0m0 .8h0m0 .8h0m.4 .4h0m.3 1.5h0m-.7 2.9h0" stroke="#c4c436" stroke-width="1.20" stroke-linecap="round" fill="none" opacity="0.9"/>
<path d="M536.6 53.3h0m-1 0h0m.6 .2h0m-.5 .9h0m.8 .6h0m-.6 .6h0m1 1.7h0m-.4 .6h0m-.1 2.7h0m.2 1.6h0m-.1 .5h0m.3 .3h0m5.5-9.1h0m-2 .1h0m-.8 .4h0m3.1 .1h0m.4 .3h0m-1.7 .2h0m-1.3 .3h0m-1 0h0m-.3 .1h0m2.8 .1h0m.9 .1h0m-2.3 .9h0m-2.4 .4h0m5.3 .3h0m-.3 .5h0m-2.4 .1h0m1.7 .2h0m-.2 .2h0m-1 .1h0m-.9 .2h0m-2 .2h0m-.5 0h0m1 .2h0m.8 .3h0m-.9 0h0m1.4 .2h0m3.3 0h0m-1.7 .1h0m-3 .2h0m-.4 .5h0m4.8 .1h0m-5.4 .1h0m.9 0h0m-.4 .1h0m4.7 .1h0m-5.4 .5h0m2.4 .3h0m3.3 .3h0m-1 .1h0m-4.2 .1h0m3.5 0h0m-.8 .5h0m.1 .2h0m-3.4 .1h0m3.8 .6h0m2.9-9.2h0m.2 1.9h0m1 .5h0m-.5 1h0m-1.2 2h0m-.1 1.7h0m1.9 0h0m-.6 .1h0m.3 .9h0m-.4 .4h0m-.2 .5h0m-.5 0h0m.8 .4h0" stroke="#555555" stroke-width="1.00" stroke-linecap="round" fill="none" opacity="0.7"/>
<path d="M590.6 89.5h0m-3.2 .4h0m3.1 .2h0m-2.8 .3h0m1 0h0m-1.1 .5h0m1.3 .5h0m-2 0h0m.3 .2h0m-.3 .1h0m3 .2h0m-.1 .1h0m.3 .2h0m-1.9 .4h0m.9 .1h0m-.3 .6h0m1.9 .6h0m.6-4.1h0m.1 .9h0m.4 .1h0m-.6 .8h0m.8 .3h0m-.5 1.4h0m1.9 .3h0m-1.7 .1h0" stroke="#d83a3a" stroke-width="1.10" stroke-linecap="round" fill="none" opacity="0.8"/>
<path d="M586.1 10.1 586.1 11.6 586.1 13.1 586.2 14.6 586.2 16.1 586.2 17.6 M564.1 53.1 564.6 54.5 565.2 55.9 565.8 57.3 566.3 58.7 566.8 60.1 M566.5 52.9 567.0 54.3 567.4 55.8 567.9 57.2 568.3 58.6 568.8 60.0 M599.3 49.6 598.0 50.2 596.6 50.8 595.2 51.4 593.9 52.0 592.5 52.6 591.1 53.1 589.7 53.6 M587.0 40.4 587.3 41.8 587.6 43.3 587.8 44.8 587.9 46.3 M571.0 58.5 570.5 59.9 570.1 61.3 569.6 62.8 569.2 64.2 568.7 65.6 568.3 67.1 M578.6 42.5 578.7 44.0 578.8 45.5 579.1 47.0 579.4 48.5 579.9 49.9 580.4 51.3 581.1 52.7 581.8 54.0 M569.6 44.6 568.5 45.5 567.3 46.5 566.2 47.5 565.0 48.5 563.9 49.5 562.8 50.4 M575.0 39.7 576.2 40.6 577.4 41.4 578.7 42.3 579.8 43.2 581.0 44.1 582.2 45.1 583.3 46.1 M591.5 27.9 591.1 29.3 590.8 30.8 590.5 32.2 590.3 33.7 590.1 35.2 590.0 36.7 M576.0 44.6 574.8 45.5 573.5 46.2 572.1 46.9 570.7 47.4 569.3 47.8 567.8 48.1 566.3 48.3 M603.0 27.9 603.2 29.4 603.3 30.9 603.3 32.4 603.3 33.9 603.2 35.4 603.0 36.9 602.8 38.3 602.5 39.8 602.2 41.3 M591.9 77.6 591.3 79.0 M572.8 60.4 572.9 61.9 573.0 63.4 573.3 64.9 573.6 66.3 574.1 67.8 574.6 69.2 575.3 70.5 M591.9 41.6 592.9 42.6 594.0 43.7 594.9 44.9 595.8 46.1 596.7 47.3 597.5 48.6 598.2 49.9 M591.8 67.2 590.9 68.4 590.0 69.5 589.0 70.6 587.9 71.7 586.8 72.8 M596.3 57.2 597.8 57.4 599.3 57.7 M576.4 12.9 576.1 14.4 575.8 15.8 575.6 17.3 575.5 18.8 575.4 20.3 575.5 21.8 M583.1 57.2 583.8 58.5 584.5 59.9 585.1 61.2 585.7 62.6 M562.1 46.9 562.4 48.4 562.7 49.8 563.1 51.3 563.7 52.7 M592.3 39.1 592.2 40.6 592.1 42.1 592.0 43.6 591.9 45.1 591.9 46.6 M584.2 40.7 583.8 42.2 583.5 43.7 583.1 45.1 582.8 46.6 M582.6 55.3 583.7 56.3 584.8 57.3 585.9 58.3 587.0 59.3 M591.4 20.2 591.4 21.7 591.3 23.2 591.3 24.7 591.2 26.2 591.2 27.7 591.1 29.2 590.9 30.6 590.8 32.1 590.6 33.6 590.5 35.1 M598.1 34.3 598.3 35.8 598.4 37.3 598.6 38.7 598.8 40.2 M578.7 18.9 578.1 20.2 577.4 21.6 576.8 22.9 576.1 24.3 575.3 25.6 574.6 26.9 573.8 28.1 573.0 29.4 572.1 30.6 M567.0 47.4 566.8 48.9 566.8 50.4 566.8 51.9 566.9 53.4 567.0 54.9 567.2 56.4 567.5 57.8 567.9 59.3 M604.8 23.0 605.0 24.5 605.3 26.0 605.5 27.4 605.7 28.9 605.9 30.4 M589.4 22.6 589.8 24.0 590.1 25.5 590.4 27.0 590.8 28.4 591.1 29.9 591.5 31.3 591.9 32.8 M588.5 47.3 588.0 48.7 587.3 50.0 586.7 51.4 585.9 52.7 585.1 53.9 584.3 55.2 583.4 56.4 M576.4 70.4 576.5 71.9 M576.2 14.3 575.6 15.7 575.0 17.0 574.4 18.4 573.9 19.8 573.3 21.2 572.8 22.6 M594.0 56.1 594.5 57.5 595.1 58.9 595.6 60.3 596.2 61.7 M575.9 24.5 577.0 25.5 578.1 26.6 579.1 27.6 580.2 28.7 581.2 29.8 M574.1 56.3 574.6 57.7 575.2 59.1 575.7 60.5 576.2 61.9 576.7 63.3 577.1 64.8 577.6 66.2 M581.6 34.2 581.8 35.7 581.8 37.2 581.8 38.7 581.8 40.2 581.6 41.7 M570.3 61.3 569.3 62.4 568.4 63.6 567.6 64.8 566.8 66.1 566.1 67.4 565.5 68.8 M569.5 53.7 569.7 55.2 569.9 56.7 570.2 58.1 570.5 59.6 570.8 61.1 M589.6 66.8 589.7 68.3 589.8 69.8 589.8 71.3 589.7 72.8 589.7 74.3 M571.2 53.2 572.0 54.4 572.8 55.7 573.6 57.0 574.4 58.2 575.2 59.5 576.0 60.7 576.9 62.0 577.7 63.2 M567.5 50.3 567.4 51.8 567.4 53.3 567.4 54.8 567.5 56.3 567.6 57.8 567.7 59.3 567.8 60.8 568.0 62.3 M561.9 26.1 562.1 27.6 562.2 29.1 562.3 30.6 562.4 32.1 M572.6 61.5 571.6 62.7 570.6 63.7 569.4 64.7 568.1 65.5 566.8 66.2 565.4 66.7 564.0 67.1 M587.7 11.2 588.2 12.6 588.6 14.1 588.9 15.6 589.1 17.1 M598.7 29.4 598.4 30.9 598.1 32.4 597.7 33.8 597.3 35.3 596.8 36.7 M601.9 17.3 601.9 18.8 601.9 20.3 602.0 21.8 602.1 23.3 602.2 24.8 602.4 26.2 602.6 27.7 602.8 29.2 603.1 30.7 M586.9 55.1 586.8 56.6 586.8 58.1 586.8 59.6 586.9 61.1 587.0 62.6 587.1 64.1 587.2 65.5 M580.3 32.7 579.9 34.2 579.5 35.6 579.3 37.1 579.1 38.6 578.9 40.1 578.9 41.6 578.9 43.1 579.0 44.6 579.1 46.1 M591.1 75.6 590.5 77.0 590.0 78.4 M595.2 52.8 594.0 53.7 592.8 54.6 591.6 55.5 590.4 56.5 589.3 57.4 588.1 58.3 M591.2 46.3 591.1 47.8 591.1 49.3 591.2 50.8 591.4 52.3 M599.5 27.4 600.5 28.5 601.5 29.6 602.6 30.7 603.6 31.8 604.6 32.9 M564.6 47.9 564.4 49.4 564.1 50.9 563.8 52.4 563.4 53.8 562.9 55.2 562.4 56.6 561.8 58.0 561.2 59.4 560.5 60.7 M572.9 61.6 572.9 63.1 572.9 64.6 572.9 66.1 573.0 67.6 573.0 69.1 573.1 70.6 M576.4 64.6 577.1 66.0 577.7 67.3 578.3 68.7 578.7 70.1 579.2 71.6 579.5 73.1 M601.3 20.9 601.8 22.3 602.3 23.7 602.8 25.1 603.3 26.5 603.9 27.9 604.5 29.3 605.1 30.6 M587.7 34.0 588.1 35.4 588.4 36.9 588.6 38.4 588.6 39.9 588.5 41.4 588.3 42.8 588.0 44.3 M581.0 19.1 582.0 20.2 583.0 21.4 584.0 22.4 585.1 23.4 586.3 24.4 587.5 25.3 588.7 26.2 590.0 27.0 591.3 27.7 M560.3 48.1 560.9 49.4 561.7 50.7 562.5 51.9 563.5 53.1 564.5 54.2 565.7 55.2 M570.2 39.5 569.3 40.7 568.4 42.0 567.6 43.2 566.7 44.4 565.8 45.6 565.0 46.9 564.1 48.1 563.2 49.3 M575.5 25.8 575.1 27.2 574.7 28.7 574.5 30.2 574.3 31.6 574.2 33.1 574.3 34.6 574.4 36.1 574.6 37.6 M586.3 35.9 586.7 37.4 587.1 38.8 587.6 40.2 588.3 41.5 589.0 42.9 M571.4 62.6 571.1 64.1 570.9 65.5 570.5 67.0 570.1 68.4 569.5 69.8 M600.8 12.7 600.7 14.2 600.7 15.7 600.8 17.2 600.9 18.7 601.0 20.2 601.2 21.7 601.4 23.2 601.7 24.7 602.0 26.1 602.3 27.6 M571.7 28.8 570.5 29.7 569.4 30.6 568.2 31.6 567.1 32.6 566.0 33.6 565.0 34.7 564.0 35.8 563.0 36.9 M568.8 56.9 569.0 58.4 569.1 59.9 569.3 61.4 569.5 62.9 569.8 64.4 570.0 65.9 570.3 67.3 570.6 68.8 570.9 70.3 M597.2 26.6 597.0 28.1 596.9 29.5 596.8 31.0 596.7 32.5 M570.2 53.1 570.1 54.6 570.0 56.1 569.8 57.6 569.6 59.1 569.4 60.5 569.2 62.0 569.0 63.5 M583.3 70.4 583.8 71.8 584.3 73.2 584.7 74.6 585.0 76.1 M582.0 18.2 582.4 19.7 582.8 21.1 583.1 22.6 583.3 24.1 583.6 25.6 583.8 27.0 583.9 28.5 584.1 30.0 584.1 31.5 M561.7 112.5 560.3 113.0 558.9 113.6 557.5 114.3 556.2 115.0 555.0 115.8 553.7 116.6 552.5 117.6 M572.7 93.5 573.3 94.9 574.0 96.2 574.7 97.6 575.4 98.9 576.1 100.2 576.9 101.5 577.6 102.8 578.4 104.1 579.2 105.4 M577.9 111.2 578.2 112.7 578.6 114.1 579.0 115.5 M546.7 89.4 547.8 90.4 548.8 91.5 549.9 92.5 551.1 93.5 552.2 94.5 553.3 95.4 554.5 96.4 555.7 97.3 556.9 98.2 558.1 99.1 M573.8 104.7 574.7 105.9 575.8 107.0 576.9 107.9 578.1 108.8 579.4 109.6 580.8 110.2 582.2 110.8 M582.5 104.1 583.3 105.3 584.1 106.6 584.9 107.9 585.6 109.2 586.3 110.5 M588.5 109.2 588.7 110.7 M583.5 94.0 583.1 95.5 582.7 96.9 582.3 98.4 581.8 99.8 M565.9 102.5 566.6 103.8 567.4 105.1 568.2 106.3 569.0 107.6 569.8 108.9 M557.9 115.3 558.8 116.5 559.6 117.7 560.5 118.9 561.5 120.1 562.4 121.3 M594.7 97.9 594.5 99.4 594.3 100.9 594.2 102.4 594.0 103.9 M564.6 106.4 564.8 107.9 564.9 109.4 564.9 110.9 564.7 112.4 564.5 113.9 564.1 115.3 563.7 116.8 563.1 118.2 M571.5 115.9 573.0 116.2 574.4 116.5 575.9 116.7 577.4 116.9 M543.4 96.4 544.7 97.2 546.0 98.0 547.2 98.7 548.5 99.5 549.8 100.4 551.0 101.2 552.3 102.0 553.5 102.8 554.8 103.6 556.0 104.5 M542.4 97.4 543.1 98.8 543.9 100.0 544.9 101.2 545.9 102.3 547.1 103.2 M590.1 96.9 590.2 98.4 590.4 99.9 590.7 101.4 591.1 102.8 591.5 104.3 592.0 105.7 592.6 107.0 M551.7 103.2 551.7 104.7 551.6 106.2 551.6 107.7 551.6 109.2 551.5 110.7 M545.3 96.0 546.1 97.3 547.0 98.5 547.9 99.7 548.7 100.9 549.6 102.2 M549.7 114.8 550.4 116.1 551.1 117.4 551.9 118.8 M545.2 99.3 545.5 100.8 545.8 102.3 546.0 103.8 546.2 105.2 546.3 106.7 546.5 108.2 M539.7 93.8 540.3 95.2 540.9 96.6 541.6 97.9 542.2 99.3 542.9 100.6 543.6 101.9 M572.6 93.6 573.9 94.4 575.2 95.1 576.6 95.8 578.0 96.3 579.4 96.7 M542.2 109.4 542.3 110.9 542.6 112.3 M588.3 100.0 588.5 101.5 588.7 103.0 589.0 104.5 589.2 106.0 M570.0 97.4 570.0 98.9 570.1 100.4 570.3 101.9 570.4 103.4 570.6 104.8 570.9 106.3 571.2 107.8 571.5 109.2 M552.5 92.3 552.9 93.8 553.4 95.2 553.9 96.6 554.4 98.0 554.9 99.4 555.5 100.8 M578.5 112.7 579.1 114.1 579.8 115.4 M577.6 93.0 577.8 94.5 577.8 96.0 577.8 97.5 577.7 99.0 577.4 100.5 M571.7 91.5 572.9 92.4 574.1 93.3 575.4 94.0 576.8 94.7 578.2 95.3 M585.0 109.2 585.4 110.7 585.8 112.1 M562.8 89.8 563.0 91.2 563.2 92.7 563.4 94.2 563.5 95.7 563.7 97.2 563.8 98.7 563.9 100.2 M555.8 113.9 555.7 115.4 555.6 116.9 555.3 118.4 554.9 119.8 M554.3 109.6 554.5 111.1 554.8 112.5 555.2 114.0 555.7 115.4 M549.3 101.9 549.4 103.4 549.5 104.9 549.6 106.4 549.6 107.8 549.7 109.3 549.8 110.8 M563.5 104.6 563.3 106.1 563.2 107.6 563.0 109.1 562.9 110.6 562.8 112.1 562.8 113.6 562.7 115.1 M561.2 96.7 561.3 98.2 561.3 99.7 561.4 101.2 561.5 102.7 561.6 104.2 561.7 105.7 561.8 107.2 561.9 108.7 561.9 110.2 M542.7 102.4 542.8 103.9 542.8 105.4 542.8 106.9 542.9 108.4 543.0 109.9 M585.6 100.4 586.1 101.8 586.6 103.2 587.1 104.6 587.7 106.0 588.2 107.4 M584.6 101.6 585.5 102.7 586.4 103.9 587.3 105.1 588.1 106.4 588.9 107.7 589.6 109.0 M575.9 109.0 576.4 110.4 577.0 111.8 577.5 113.2 578.1 114.6 578.7 116.0 M565.2 121.3 566.7 121.7 M514.0 55.9 513.0 57.0 512.1 58.2 511.2 59.4 510.5 60.7 509.8 62.0 509.2 63.4 M527.7 57.9 526.8 56.6 525.8 55.5 524.9 54.3 523.9 53.1 523.0 52.0 M496.4 55.3 495.1 54.6 M505.9 63.8 504.7 64.7 503.4 65.5 502.2 66.3 500.9 67.1 499.6 67.8 498.3 68.6 M520.4 53.3 518.9 53.6 517.5 53.9 516.0 54.3 514.6 54.7 513.2 55.2 511.7 55.7 M517.4 60.4 516.2 59.4 514.9 58.6 513.6 57.9 512.3 57.2 510.9 56.7 509.4 56.2 508.0 55.9 506.5 55.6 M496.7 54.6 495.2 54.3 M508.3 52.0 506.8 52.1 505.4 52.3 503.9 52.5 502.4 52.7 500.9 53.0 M507.1 56.6 505.6 56.6 504.1 56.5 502.6 56.5 501.1 56.4 499.6 56.3 498.1 56.2 496.6 56.1 495.1 56.0 493.6 55.9 M528.7 60.8 527.3 60.4 525.8 60.1 524.3 59.9 522.8 59.8 521.3 59.7 519.8 59.7 518.3 59.8 516.8 60.0 515.3 60.2 513.9 60.6 M498.0 54.0 496.5 53.5 M507.8 70.8 506.4 70.4 504.9 69.9 503.5 69.4 502.1 68.8 500.7 68.3 499.4 67.7 498.0 67.1 M522.2 58.7 520.7 58.7 519.2 58.8 517.7 58.8 516.2 58.8 514.7 58.9 M524.2 68.7 522.7 68.7 521.2 68.7 519.7 68.8 518.2 68.9 516.7 69.1 515.2 69.3 513.7 69.6 512.3 69.9 M499.4 63.1 497.9 62.9 496.4 62.7 494.9 62.5 M530.4 66.0 529.0 65.5 527.6 64.9 526.1 64.5 524.7 64.1 523.2 63.7 M519.1 57.6 517.9 58.5 516.8 59.5 515.7 60.5 514.6 61.6 513.5 62.6 512.4 63.6 511.4 64.7 510.3 65.8 509.3 66.8 508.3 67.9 M546.5 72.4 545.1 72.7 543.6 72.9 542.1 73.1 M536.5 87.4 535.0 87.6 533.5 87.8 532.1 88.1 530.6 88.6 M545.6 80.6 544.2 81.1 542.9 81.8 541.6 82.5 540.3 83.4 539.1 84.3 M540.2 87.8 539.0 88.7 537.8 89.7 536.7 90.6 535.5 91.6 M542.1 86.7 540.6 87.0 539.2 87.3 537.7 87.5 536.2 87.7 534.7 87.9 533.2 88.0 531.7 88.0 530.2 88.1 M550.0 78.8 548.8 79.6 547.6 80.5 546.4 81.5 545.3 82.5 M549.4 72.3 549.3 73.8 549.2 75.3 549.2 76.8 549.2 78.3 549.2 79.8 549.2 81.3 549.2 82.8 549.3 84.3 M546.9 85.1 545.7 86.0 544.4 86.8 543.2 87.7 542.0 88.5 540.7 89.4 539.5 90.3 538.3 91.2 537.1 92.1 M534.0 90.4 532.6 89.8 531.2 89.3 M532.9 81.4 532.4 82.8 531.8 84.2 531.2 85.5 530.6 86.9 M578.2 82.0 577.1 83.0 576.0 84.0 575.0 85.0 573.9 86.1 572.9 87.3 572.0 88.4 M572.0 76.1 570.8 77.0 569.5 77.8 568.3 78.7 567.1 79.6 565.8 80.4 564.6 81.2 563.4 82.1 M566.1 80.8 564.7 81.4 563.4 82.1 562.1 82.9 M575.6 77.4 574.9 78.8 574.2 80.1 573.4 81.4 572.6 82.7 M570.4 86.4 569.1 87.2 M560.6 81.7 559.1 82.1 M568.9 86.0 567.4 86.0 M566.9 84.4 565.9 85.4 M576.4 78.2 574.9 78.5 573.4 78.8 572.0 79.0 570.5 79.3 M549.5 31.0 550.5 29.9 551.6 28.8 552.6 27.7 553.7 26.7 554.8 25.7 M548.2 22.7 549.7 22.6 551.1 22.5 552.6 22.3 554.1 22.2 555.6 22.0 M544.4 26.0 545.8 25.5 547.2 25.0 548.6 24.4 549.9 23.7 551.2 22.9 552.4 22.0 553.6 21.1 554.6 20.0 555.6 18.9 M560.1 34.1 561.1 33.0 562.1 31.9 563.1 30.8 564.0 29.6 564.9 28.4 M553.0 19.4 554.5 19.3 555.9 19.1 557.4 18.8 558.9 18.6 560.4 18.3 M544.0 25.1 545.5 25.0 547.0 24.8 548.5 24.7 550.0 24.7 551.5 24.6 553.0 24.6 M555.3 18.5 556.7 18.1 558.1 17.6 559.6 17.1 M551.6 21.8 553.1 21.9 554.6 21.9 556.1 21.8 557.6 21.6 559.0 21.3 M627.7 80.9 627.8 82.4 628.1 83.9 628.5 85.3 629.1 86.7 629.9 88.0 630.8 89.2 631.8 90.2 M631.8 67.2 633.0 68.0 634.4 68.7 635.8 69.3 M623.7 57.5 625.2 57.4 626.7 57.1 M602.7 71.9 602.4 70.4 601.8 69.0 601.2 67.7 600.3 66.4 599.4 65.3 M623.4 70.3 624.7 71.0 626.1 71.5 627.6 71.9 629.1 72.0 630.6 72.0 632.1 71.8 M607.8 62.5 608.5 61.2 609.1 59.8 609.5 58.4 609.7 56.9 609.8 55.4 609.6 53.9 M609.6 91.4 608.1 91.6 606.7 91.9 605.2 92.4 603.9 93.1 M603.4 74.1 602.9 72.7 602.1 71.3 601.3 70.1 600.3 69.0 599.1 68.0 M607.9 71.7 607.8 70.2 607.6 68.7 607.1 67.3 606.5 65.9 605.8 64.6 604.8 63.4 603.8 62.4 M597.2 77.8 596.3 76.6 595.3 75.5 M605.4 77.7 604.4 76.6 603.3 75.6 602.1 74.7 600.8 74.0 599.4 73.4 598.0 73.0 596.5 72.7 M630.8 71.2 631.8 72.3 633.0 73.2 634.2 74.0 635.6 74.6 M615.1 59.8 616.4 59.0 617.6 58.1 618.6 57.0 619.5 55.8 M625.1 67.6 626.5 68.1 627.9 68.4 629.4 68.6 630.9 68.6 632.4 68.5 633.9 68.1 635.3 67.6 M604.7 67.7 604.9 66.2 604.9 64.7 604.7 63.2 604.3 61.7 603.8 60.3 603.1 59.0 M608.8 70.8 608.9 69.3 608.9 67.8 608.6 66.4 608.2 64.9 607.6 63.5 606.9 62.2 606.0 61.0 M622.9 67.5 624.4 67.8 625.9 68.0 627.4 68.0 628.8 67.8 630.3 67.4 631.7 66.8 M625.6 76.7 626.1 78.1 626.8 79.5 627.6 80.7 628.6 81.8 629.7 82.8 631.0 83.7 632.3 84.4 M614.1 59.0 615.4 58.1 616.5 57.1 617.5 56.0 618.3 54.8 619.0 53.4 M600.7 85.5 599.4 84.8 598.0 84.2 596.5 83.8 M606.5 62.1 607.2 60.8 607.7 59.4 608.0 57.9 608.1 56.4 M603.8 68.0 603.8 66.5 603.8 65.0 603.5 63.6 603.0 62.1 602.4 60.8 601.6 59.5 M619.8 86.3 618.7 87.4 617.9 88.6 617.1 89.9 616.6 91.3 616.2 92.8 M619.2 91.6 618.0 92.6 617.0 93.6 616.1 94.8 615.3 96.1 614.8 97.5 M630.2 66.1 631.5 66.8 632.9 67.4 634.4 67.8 M629.7 65.1 631.1 65.7 632.5 66.1 634.0 66.4 M609.0 87.1 607.5 87.0 606.0 87.1 604.5 87.4 603.1 87.8 601.7 88.4 M609.2 68.3 609.7 66.8 610.0 65.4 610.1 63.9 610.1 62.4 609.8 60.9 M601.7 86.3 600.4 85.6 598.9 85.2 597.5 84.9 M623.2 86.7 622.4 88.0 621.9 89.4 621.5 90.8 621.3 92.3 621.2 93.8 621.3 95.3 621.7 96.8 M630.1 87.8 629.7 89.3 629.6 90.7 629.6 92.2 M620.7 89.6 619.6 90.7 618.7 91.9 618.0 93.2 617.4 94.6 617.0 96.0 616.8 97.5 M615.3 62.8 616.6 62.0 617.8 61.1 618.8 60.1 619.8 58.9 620.5 57.6 621.2 56.2 M609.6 84.2 608.2 83.9 606.7 83.9 605.2 84.0 603.7 84.4 602.3 84.9 M620.5 64.5 622.0 64.4 623.4 64.0 624.8 63.5 626.2 62.9 627.4 62.0 M630.9 66.7 632.2 67.5 633.6 68.1 635.0 68.6 M609.4 78.3 608.3 77.3 607.0 76.5 605.6 75.9 604.2 75.4 602.7 75.1 601.2 75.0 M618.9 89.2 617.8 90.1 616.8 91.2 615.9 92.5 615.1 93.8 614.6 95.2 614.2 96.6 M609.7 58.3 610.7 57.2 611.6 56.0 612.3 54.6 612.8 53.2 M622.7 59.3 624.2 59.1 625.7 58.8 627.1 58.3 628.4 57.7 M624.7 82.0 624.5 83.5 624.5 85.0 624.6 86.5 624.9 87.9 625.4 89.4 M623.5 73.2 624.6 74.2 625.8 75.2 627.1 75.9 628.4 76.6 629.9 77.0 631.3 77.3 M629.8 72.7 630.8 73.8 631.9 74.9 633.1 75.7 634.4 76.5 635.8 77.1 M609.8 91.3 608.3 91.5 606.9 91.9 605.5 92.4 604.2 93.1 M622.1 83.3 621.5 84.7 621.1 86.2 620.8 87.6 620.7 89.1 620.8 90.6 621.1 92.1" stroke="#2a2a2a" stroke-width="0.28" fill="none" opacity="0.5"/>
<path d="M586.0 8.9L586.9 11.0L585.3 11.0ZM563.6 52.0L565.1 53.6L563.7 54.2ZM566.1 51.8L567.5 53.5L566.0 54.0ZM600.4 49.0L598.9 50.7L598.2 49.2ZM586.7 39.2L588.0 41.0L586.4 41.4ZM571.4 57.4L571.5 59.6L570.0 59.1ZM578.7 41.3L579.4 43.5L577.8 43.4ZM570.5 43.8L569.4 45.8L568.4 44.5ZM574.0 39.1L576.2 39.5L575.3 40.9ZM591.9 26.7L592.0 29.0L590.5 28.5ZM577.0 43.9L575.8 45.8L574.8 44.6ZM602.9 26.7L604.0 28.7L602.4 28.9ZM592.4 76.6L592.2 78.8L590.8 78.2ZM572.9 59.2L573.6 61.3L572.0 61.3ZM591.0 40.8L593.1 41.6L592.0 42.8ZM592.5 66.2L592.0 68.4L590.7 67.4ZM595.2 56.9L597.4 56.6L597.0 58.1ZM576.8 11.7L576.9 14.0L575.4 13.5ZM582.4 56.2L584.2 57.6L582.9 58.4ZM562.0 45.7L563.0 47.7L561.4 47.8ZM592.3 37.9L593.0 40.0L591.4 39.9ZM584.5 39.6L584.7 41.8L583.2 41.4ZM581.7 54.4L583.8 55.4L582.7 56.5ZM591.3 19.0L592.2 21.1L590.6 21.1ZM598.1 33.1L599.0 35.1L597.4 35.2ZM579.1 17.8L579.1 20.0L577.6 19.4ZM567.2 46.2L567.6 48.4L566.1 48.2ZM604.6 21.8L605.7 23.7L604.2 24.0ZM589.2 21.4L590.4 23.3L588.9 23.6ZM589.0 46.1L589.0 48.4L587.5 47.8ZM576.3 69.2L577.3 71.2L575.7 71.3ZM576.7 13.2L576.6 15.4L575.1 14.8ZM593.7 54.9L595.1 56.7L593.6 57.2ZM575.0 23.7L577.1 24.5L576.0 25.7ZM573.6 55.2L575.2 56.8L573.7 57.5ZM581.4 33.0L582.5 34.9L580.9 35.2ZM571.2 60.4L570.2 62.5L569.1 61.3ZM569.4 52.5L570.4 54.5L568.8 54.7ZM589.5 65.6L590.5 67.6L588.9 67.8ZM570.6 52.1L572.3 53.5L571.0 54.3ZM567.5 49.1L568.2 51.3L566.6 51.2ZM561.8 24.9L562.8 26.9L561.2 27.1ZM573.2 60.5L572.7 62.7L571.4 61.8ZM587.2 10.2L588.8 11.7L587.4 12.4ZM598.9 28.2L599.4 30.4L597.8 30.2ZM602.0 16.1L602.7 18.2L601.1 18.1ZM586.9 53.9L587.6 56.0L586.0 55.9ZM580.7 31.6L580.8 33.9L579.3 33.3ZM591.6 74.5L591.4 76.8L589.9 76.1ZM596.2 52.2L595.0 54.0L594.0 52.7ZM591.4 45.1L591.8 47.3L590.3 47.0ZM598.7 26.6L600.7 27.6L599.5 28.6ZM564.8 46.7L565.3 48.9L563.8 48.8ZM572.9 60.4L573.7 62.5L572.1 62.5ZM575.8 63.6L577.6 65.0L576.2 65.8ZM600.9 19.7L602.3 21.5L600.8 22.0ZM587.3 32.8L588.8 34.5L587.3 35.1ZM580.3 18.1L582.2 19.3L580.9 20.3ZM559.8 47.0L561.3 48.6L559.8 49.2ZM570.9 38.5L570.3 40.7L569.0 39.8ZM575.9 24.7L575.9 26.9L574.4 26.3ZM586.1 34.7L587.3 36.7L585.7 36.9ZM571.5 61.4L572.1 63.6L570.5 63.4ZM600.8 11.5L601.5 13.7L599.9 13.6ZM572.7 28.1L571.5 30.0L570.5 28.6ZM568.7 55.7L569.7 57.8L568.1 57.9ZM597.4 25.4L597.9 27.6L596.3 27.3ZM570.3 51.9L571.0 54.0L569.4 53.9ZM582.8 69.3L584.4 70.8L582.9 71.5ZM581.7 17.1L583.1 18.9L581.5 19.3ZM562.8 112.1L561.1 113.5L560.6 112.0ZM572.2 92.5L573.8 94.0L572.3 94.7ZM577.7 110.0L578.8 112.0L577.2 112.2ZM545.9 88.5L547.9 89.4L546.7 90.6ZM573.1 103.8L574.9 105.0L573.6 105.9ZM581.8 103.1L583.7 104.4L582.4 105.3ZM588.3 108.0L589.4 110.0L587.8 110.2ZM583.8 92.9L584.1 95.1L582.5 94.7ZM565.2 101.4L567.0 102.9L565.6 103.7ZM557.2 114.3L559.1 115.6L557.7 116.5ZM594.8 96.7L595.3 98.9L593.8 98.7ZM564.4 105.2L565.6 107.1L564.0 107.5ZM570.4 115.5L572.6 115.4L572.1 116.9ZM542.4 95.8L544.6 96.2L543.8 97.5ZM541.9 96.3L543.5 98.0L542.0 98.6ZM590.1 95.7L590.9 97.8L589.3 97.8ZM551.8 102.0L552.5 104.1L550.9 104.1ZM544.6 95.0L546.5 96.3L545.1 97.2ZM549.2 113.7L550.8 115.2L549.4 116.0ZM596.7 103.3L597.6 105.3L596.0 105.4ZM545.0 98.1L546.2 100.0L544.6 100.4ZM539.2 92.7L540.7 94.3L539.3 95.0ZM571.6 93.0L573.8 93.5L572.9 94.8ZM542.2 108.2L543.0 110.3L541.4 110.2ZM588.2 98.8L589.2 100.8L587.6 101.0ZM569.9 96.2L570.8 98.3L569.2 98.3ZM555.7 119.0L556.9 120.9L555.3 121.2ZM552.1 91.2L553.5 93.0L552.0 93.4ZM578.1 111.6L579.5 113.3L578.0 113.8ZM577.4 91.9L578.6 93.8L577.0 94.1ZM570.8 90.7L572.9 91.5L571.8 92.7ZM584.7 108.0L586.0 109.9L584.5 110.3ZM562.6 88.6L563.7 90.5L562.1 90.8ZM555.7 112.7L556.6 114.8L555.0 114.9ZM579.3 114.3L580.8 115.9L579.3 116.5ZM554.2 108.4L555.2 110.4L553.6 110.5ZM549.2 100.7L550.2 102.7L548.6 102.8ZM563.7 103.4L564.2 105.6L562.6 105.4ZM561.1 95.5L562.0 97.5L560.4 97.6ZM542.7 101.2L543.5 103.3L541.9 103.3ZM585.2 99.2L586.7 101.0L585.1 101.5ZM583.7 100.7L585.8 101.7L584.6 102.8ZM568.7 119.7L570.4 121.2L568.9 121.9ZM575.4 107.9L576.9 109.6L575.5 110.1ZM564.0 121.0L566.3 120.7L565.9 122.3ZM514.9 55.1L513.9 57.1L512.8 55.9ZM528.4 58.8L526.5 57.6L527.8 56.7ZM497.4 56.0L495.2 55.5L496.1 54.2ZM506.9 63.1L505.7 65.0L504.7 63.7ZM521.6 53.1L519.6 54.2L519.4 52.6ZM518.3 61.1L516.2 60.4L517.2 59.2ZM497.9 54.8L495.6 55.2L495.9 53.6ZM509.5 52.0L507.5 52.9L507.4 51.3ZM508.3 56.6L506.2 57.4L506.2 55.8ZM529.9 61.2L527.6 61.3L528.1 59.8ZM499.1 54.3L496.9 54.5L497.3 53.0ZM508.9 71.1L506.7 71.3L507.2 69.8ZM523.4 58.6L521.3 59.5L521.3 57.9ZM525.4 68.8L523.2 69.5L523.3 67.9ZM500.5 63.3L498.3 63.7L498.6 62.2ZM498.3 65.6L496.2 66.6L496.1 65.0ZM531.4 66.5L529.2 66.4L529.9 64.9ZM520.0 56.8L518.9 58.7L517.9 57.5ZM547.7 72.1L545.8 73.4L545.5 71.8ZM537.7 87.4L535.6 88.2L535.6 86.6ZM546.7 80.2L545.0 81.6L544.5 80.1ZM541.1 87.0L540.0 89.0L539.0 87.7ZM543.3 86.4L541.4 87.7L541.0 86.1ZM551.0 78.1L549.7 79.9L548.8 78.6ZM549.4 71.1L550.1 73.2L548.5 73.1ZM547.9 84.5L546.6 86.3L545.7 85.0ZM535.1 90.8L532.9 90.8L533.4 89.3ZM533.3 80.2L533.4 82.5L531.9 81.9ZM579.2 81.2L578.1 83.2L577.0 81.9ZM567.9 85.2L567.5 87.4L566.1 86.5ZM573.0 75.4L571.7 77.3L570.8 76.0ZM567.3 80.5L565.5 81.9L565.0 80.4ZM576.1 76.4L575.9 78.6L574.5 77.9ZM571.4 85.8L570.0 87.5L569.2 86.1ZM561.7 81.3L559.9 82.7L559.5 81.1ZM570.1 86.0L568.0 86.8L568.1 85.2ZM567.8 83.5L566.8 85.6L565.7 84.4ZM577.6 78.0L575.7 79.2L575.4 77.6ZM548.7 31.9L549.5 29.8L550.7 30.9ZM547.0 22.8L549.0 21.9L549.1 23.5ZM543.2 26.2L545.1 25.0L545.4 26.6ZM559.2 35.0L560.1 32.9L561.3 34.0ZM551.8 19.5L553.8 18.5L553.9 20.1ZM559.5 18.2L560.3 16.2L561.5 17.3ZM542.8 25.2L544.8 24.2L545.0 25.8ZM554.2 18.9L555.9 17.5L556.4 19.0ZM550.4 21.6L552.6 21.1L552.4 22.7ZM627.8 79.7L628.5 81.9L626.9 81.8ZM630.9 66.4L633.0 67.2L631.9 68.4ZM622.5 57.5L624.6 56.8L624.6 58.4ZM602.8 73.1L601.8 71.1L603.4 70.9ZM622.4 69.7L624.6 70.2L623.7 71.5ZM607.0 63.5L607.7 61.3L608.9 62.2ZM610.8 91.4L608.7 92.2L608.7 90.6ZM603.7 75.2L602.4 73.4L603.9 73.0ZM607.8 72.9L607.1 70.7L608.7 70.9ZM597.8 78.9L596.1 77.4L597.5 76.7ZM606.1 78.7L604.2 77.4L605.6 76.6ZM630.0 70.2L631.9 71.4L630.7 72.4ZM614.0 60.3L615.6 58.7L616.3 60.1ZM624.0 67.0L626.3 67.3L625.5 68.7ZM604.4 68.8L604.1 66.6L605.7 67.0ZM608.5 72.0L608.2 69.8L609.8 70.1ZM621.8 67.1L624.0 67.1L623.5 68.6ZM625.3 75.6L626.6 77.4L625.0 77.8ZM613.1 59.5L614.6 57.8L615.3 59.3ZM601.6 86.2L599.5 85.6L600.4 84.3ZM605.8 63.1L606.3 60.9L607.6 61.8ZM603.6 69.2L603.1 67.0L604.7 67.3ZM620.7 85.5L619.6 87.5L618.5 86.3ZM620.2 91.0L618.9 92.8L618.0 91.4ZM629.2 65.4L631.4 66.0L630.5 67.3ZM628.7 64.4L630.9 64.8L630.1 66.2ZM610.2 87.3L608.0 87.7L608.2 86.1ZM608.7 69.4L608.9 67.1L610.3 67.8ZM602.7 86.9L600.5 86.5L601.4 85.1ZM623.9 85.7L623.3 87.9L622.0 86.9ZM630.5 86.7L630.5 88.9L629.0 88.4ZM621.6 88.9L620.5 90.8L619.5 89.6ZM614.2 63.3L615.8 61.7L616.5 63.2ZM610.8 84.5L608.6 84.7L609.0 83.1ZM619.3 64.5L621.4 63.7L621.4 65.3ZM630.0 66.0L632.1 66.6L631.1 67.9ZM610.3 79.1L608.2 78.2L609.4 77.1ZM619.9 88.5L618.6 90.3L617.7 89.0ZM608.8 59.1L609.9 57.1L610.9 58.3ZM621.5 59.3L623.6 58.5L623.6 60.1ZM625.1 80.8L625.3 83.1L623.7 82.7ZM622.8 72.2L624.7 73.4L623.5 74.4ZM629.2 71.7L631.0 73.0L629.7 73.9ZM611.0 91.3L608.9 92.1L608.9 90.5ZM622.7 82.3L622.3 84.5L621.0 83.7Z" fill="#151515"/>
<line x1="483.6" y1="157.7" x2="483.6" y2="257.5" stroke="#3a3a3a" stroke-width="0.8"/>
<line x1="481.6" y1="179.1" x2="483.6" y2="179.1" stroke="#3a3a3a" stroke-width="0.7"/>
<text x="480.4" y="182.2" font-size="9.0" text-anchor="end" fill="#333">3</text>
<line x1="481.6" y1="203.9" x2="483.6" y2="203.9" stroke="#3a3a3a" stroke-width="0.7"/>
<text x="480.4" y="207.1" font-size="9.0" text-anchor="end" fill="#333">0</text>
<line x1="481.6" y1="228.7" x2="483.6" y2="228.7" stroke="#3a3a3a" stroke-width="0.7"/>
<text x="480.4" y="231.8" font-size="9.0" text-anchor="end" fill="#333">-3</text>
<line x1="481.6" y1="253" x2="483.6" y2="253" stroke="#3a3a3a" stroke-width="0.7"/>
<text x="480.4" y="256.1" font-size="9.0" text-anchor="end" fill="#333">-6</text>
<line x1="483.6" y1="257.5" x2="603.7" y2="257.5" stroke="#3a3a3a" stroke-width="0.8"/>
<line x1="488.4" y1="257.5" x2="488.4" y2="259.5" stroke="#3a3a3a" stroke-width="0.7"/>
<text x="488.4" y="265.8" font-size="9.0" text-anchor="middle" fill="#333">-15</text>
<line x1="512" y1="257.5" x2="512" y2="259.5" stroke="#3a3a3a" stroke-width="0.7"/>
<text x="512" y="265.8" font-size="9.0" text-anchor="middle" fill="#333">-10</text>
<line x1="536" y1="257.5" x2="536" y2="259.5" stroke="#3a3a3a" stroke-width="0.7"/>
<text x="536" y="265.8" font-size="9.0" text-anchor="middle" fill="#333">-5</text>
<line x1="560" y1="257.5" x2="560" y2="259.5" stroke="#3a3a3a" stroke-width="0.7"/>
<text x="560" y="265.8" font-size="9.0" text-anchor="middle" fill="#333">0</text>
<line x1="584.5" y1="257.5" x2="584.5" y2="259.5" stroke="#3a3a3a" stroke-width="0.7"/>
<text x="584.5" y="265.8" font-size="9.0" text-anchor="middle" fill="#333">5</text>
<text x="545.7" y="275.6" font-size="9.2" text-anchor="middle" fill="#222">Component 1</text>
<text x="0" y="0" transform="translate(470,213) rotate(-90)" font-size="9.2" text-anchor="middle" fill="#222" dominant-baseline="middle">Component 2</text>
<text x="612" y="178.6" font-size="7.9" fill="#222">Clusters</text>
<circle cx="616.4" cy="188.7" r="1.5" fill="#f8766d"/>
<text x="622.2" y="191.5" font-size="7.9" fill="#222">C0</text>
<circle cx="616.4" cy="195.8" r="1.5" fill="#cd9600"/>
<text x="622.2" y="198.6" font-size="7.9" fill="#222">C1</text>
<circle cx="616.4" cy="203" r="1.5" fill="#7cae00"/>
<text x="622.2" y="205.8" font-size="7.9" fill="#222">C2</text>
<circle cx="616.4" cy="210.1" r="1.5" fill="#00be67"/>
<text x="622.2" y="212.9" font-size="7.9" fill="#222">C3</text>
<circle cx="616.4" cy="217.3" r="1.5" fill="#00bfc4"/>
<text x="622.2" y="220.1" font-size="7.9" fill="#222">C4</text>
<circle cx="616.4" cy="224.4" r="1.5" fill="#00a9ff"/>
<text x="622.2" y="227.2" font-size="7.9" fill="#222">C5</text>
<circle cx="616.4" cy="231.6" r="1.5" fill="#c77cff"/>
<text x="622.2" y="234.4" font-size="7.9" fill="#222">C7</text>
<circle cx="616.4" cy="238.8" r="1.5" fill="#ff61cc"/>
<text x="622.2" y="241.5" font-size="7.9" fill="#222">C8</text>
<path d="M488.9 201.6h0m-.3 .5h0m.1 .5h0m-1.2 .2h0m.7 .2h0m.7 .2h0m2.8-3.4h0m-1.8 .3h0m2.8 0h0m-1.5 .2h0m-.8 .1h0m-1.1 .4h0m1.1 .1h0m.3 .1h0m.9 0h0m.3 0h0m-2.8 .2h0m4.2 0h0m-3.1 .1h0m-.6 .1h0m-.1 .4h0m1.8 0h0m-.1 .1h0m-1.3 .1h0m3 0h0m-2.8 .1h0m0 0h0m.4 0h0m2.2 .2h0m-.5 .1h0m-2.3 .3h0m3.8 0h0m-2.3 .1h0m1.9 .1h0m1.1 0h0m-.9 .1h0m-2.4 0h0m1.1 .1h0m0 .2h0m-1.8 .1h0m2.2 .1h0m1.3 .1h0m-1 .1h0m.9 .2h0m.3 .2h0m-.5 0h0m1.2 .1h0m-1.4 .2h0m-1.4 .2h0m.4 .1h0m1 .3h0m.9 .1h0m.6 .1h0m-3.2 0h0m3.2 .9h0m-1.5 0h0m.3 .1h0m-1.7 .4h0m2.9 0h0m-3.2 .2h0m3.1 .1h0m-.7 .2h0m.4 .2h0m-.4 .1h0m.1 .4h0m.8 0h0m-1.9 .3h0m1.3 .4h0m-.3 .8h0m1.3-6.3h0m.3 .5h0m.4 1.1h0m2.1 .4h0m-.1 0h0m-1.9 .1h0m-.9 .2h0m5.4 .3h0m-3.7 .5h0m1.7 .1h0m.3 .1h0m-3.8 0h0m2.9 .3h0m-2.7 0h0m2.9 .1h0m-1.1 0h0m.6 .1h0m-1.4 .1h0m-.3 .3h0m2.4 0h0m-1.7 0h0m-.8 .1h0m.6 0h0m-.6 .2h0m1.6 0h0m1.8 .1h0m-2.3 .1h0m1.9 0h0m.7 .1h0m-3.1 0h0m3.5 .2h0m-1.4 0h0m-2.3 0h0m-.6 .2h0m3.3 .1h0m-1.7 .1h0m.4 0h0m1.9 .2h0m-4.2 .1h0m0 0h0m4.7 .1h0m-2.3 .2h0m2.4 .1h0m-4.2 0h0m-.6 .1h0m1.9 0h0m.4 .1h0m-.2 0h0m1 .2h0m1.9 0h0m-2.8 0h0m.7 .1h0m2.2 .2h0m-1.4 0h0m1.3 .2h0m-3.1 .1h0m3.5 0h0m-2.2 .1h0m.1 .2h0m1.7 .2h0m-1.4 0h0m.9 .1h0m-.3 0h0m-.4 .1h0m.8 0h0m-.8 .1h0m.9 .1h0m-2 .2h0m1.3 0h0m-2.1 .7h0m1.3 .6h0m2.1 .1h0m2.1-4.2h0m-1.5 .2h0m1.2 .8h0m-1 .1h0m1.5 .1h0m-1 0h0m0 .5h0m1.5 .1h0m-1.4 0h0m-.3 .1h0m5.1 .1h0m-5.5 .1h0m2.2 .1h0m1.9 .2h0m-2.5 .1h0m.5 .1h0m-.9 0h0m-1.6 .1h0m.7 .1h0m4.4 .1h0m-2.3 0h0m-.3 .1h0m.2 .1h0m.2 .4h0m.8 .1h0m-1.7 .1h0m2.8 .1h0m-1.7 .1h0m-3.2 0h0m3.6 .1h0m-2.9 0h0m2.3 .3h0m2.8 .1h0m-2.6 .1h0m2.2 0h0m-4.4 .2h0m.8 .1h0m2.5 0h0m1.2 .1h0m-.2 0h0m-2.6 .5h0m-2 .1h0m2.9 .1h0m1 .1h0m-1.4 .1h0m.8 0h0m1.7 .1h0m-4.8 .1h0m4.2 .4h0m.7 .1h0m-1.2 0h0m-.5 .3h0m.4 .2h0m.2 0h0m-.5 0h0m1.6 .1h0m0 0h0m-.7 .3h0m-4.6 0h0m2.9 .1h0m2.1 0h0m-1.3 .1h0m.9 .1h0m.8 .4h0m2.2-6.2h0m.5 1.8h0m-2.5 .1h0m2.4 .8h0m-.7 0h0m-.5 .1h0m-.2 .1h0m-.2 .1h0m-.4 .6h0m1.1 .1h0m-.9 .4h0m.3 0h0m2 .1h0m-.4 0h0m1.9 0h0m-3 .2h0m.7 0h0m-1.3 0h0m-.5 .1h0m2.5 .1h0m-2.4 .1h0m.7 .2h0m-1 0h0m1.5 0h0m1 .2h0m-1.7 .1h0m.2 0h0m0 .1h0m4.1 .1h0m-4.9 .1h0m5.2 0h0m-4.1 0h0m1.8 .1h0m1.2 .2h0m-.5 .3h0m-2.1 .3h0m-.3 0h0m4.2 0h0m-2.6 .1h0m-2.8 0h0m3.2 .1h0m-.9 .2h0m1.7 .1h0m-3.7 0h0m.8 .4h0m1.8 0h0m.2 0h0m.5 .1h0m-1.3 0h0m3 .1h0m-5.1 .2h0m4.9 .1h0m-.9 .2h0m-1.8 .4h0m2.4 .4h0m-1.6 .6h0m0 1h0m1.4 .7h0m-.3 .5h0m-.6 0h0m3.8-6.8h0m.6 .2h0m.8 .4h0m-1.9 .5h0m-1.1 .1h0m.4 .1h0m1 0h0m.4 .1h0m.1 .2h0m2.2 .1h0m-4.2 0h0m.6 .3h0m-.6 0h0m1.5 .1h0m-.4 0h0m-1 .2h0m-.1 .5h0m1.6 .3h0m3 .1h0m-3.5 .1h0m-1.1 .1h0m4.3 .1h0m-3.9 .1h0m-.3 0h0m-.2 .2h0m3.4 .1h0m-3.2 0h0m3.5 .4h0m-2.6 0h0m2.6 0h0m-2.4 .1h0m1.2 0h0m3.4 .3h0m-2 .1h0m-3.4 0h0m1.7 .1h0m.2 0h0m-1.1 .3h0m.6 .2h0m1 0h0m.1 .1h0m1.9 .2h0m-2.5 0h0m-1 .3h0m4.2 .1h0m-2.5 0h0m1.9 .3h0m-5.1 .2h0m5.2 .2h0m-3.2 0h0m3.8 .3h0m-.1 .4h0m-1.5 .4h0m1 .4h0m.7 1.4h0m.3-7.6h0m.1 1.5h0m.2 .2h0m3 .2h0m-3.2 .6h0m2.5 .2h0m-2.2 0h0m.4 .5h0m.3 .3h0m4.3 .1h0m-.7 .2h0m-4 .1h0m2.1 0h0m-2.7 .1h0m-.1 .2h0m.5 0h0m1.2 .1h0m3.6 .1h0m-5.2 .2h0m5.4 .1h0m-3.8 0h0m.5 .4h0m2.1 0h0m-2.7 .2h0m-1.5 .1h0m5.3 .1h0m-2.6 0h0m-2 0h0m1.4 .1h0m3 .4h0m-3.2 .1h0m-1.6 0h0m3.5 0h0m1.6 .1h0m-1.8 .2h0m2 .1h0m-.6 .8h0m.2 .1h0m-.5 .4h0m-.9 .1h0m-.1 0h0m-.1 .2h0m-1.8 0h0m1.6 0h0m2.2 .6h0m-.8 .1h0m2.2-4.2h0m2.4 .8h0m-3.2 0h0m4 .3h0m-4.3 .4h0m.5 .5h0m2.2 .1h0m0 0h0m-2.3 .3h0m4.8 0h0m-5.3 .2h0m2.3 0h0m-2.3 .1h0m2.6 0h0m.6 0h0m1.1 .2h0m-1.6 0h0m.5 .2h0m1.7 0h0m-3.8 .1h0m3.5 .6h0m-.2 .1h0m1.4 0h0m-.6 .1h0m-1 .1h0m-.1 .1h0m-2.7 .2h0m.2 .1h0m1.6 .2h0m-1.1 .3h0m1.6 .1h0m1.4 .1h0m-4.1 0h0m3.7 .1h0m.5 .4h0m-2.8 .1h0m1.2 0h0m.6 .2h0m-1.7 .1h0m3.2 .2h0m.6-4.5h0m5.5 .4h0m-5.3 .4h0m-.2 .2h0m.8 .9h0m.3 .2h0m.4 0h0m-1.8 0h0m1.2 .2h0m3.3 .2h0m-1.6 0h0m-.5 0h0m.4 .3h0m-2.2 .2h0m-.3 0h0m3.6 .2h0m-.6 .1h0m-.5 0h0m.6 .2h0m-1.4 .1h0m2.3 0h0m-2.4 .1h0m.1 .1h0m2.2 .2h0m-.1 .1h0m-1.6 0h0m2.3 .1h0m-4.4 0h0m2.9 .1h0m1.7 .1h0m-1.8 0h0m2.6 0h0m-1 .1h0m0 0h0m-.4 .1h0m.8 .1h0m-2.3 .2h0m1.6 .1h0m-.3 .1h0m.7 .1h0m.9 .1h0m-2.7 .1h0m1.1 .4h0m-1.5 .1h0m2.3 .6h0m-2.2 0h0m1.1 .5h0m1.2 0h0m.7 .9h0m.1-5.8h0m5.5 .6h0m-3.5 .3h0m1 .3h0m.4 .2h0m-2.2 .1h0m-1.1 0h0m3.9 .3h0m-2.2 .1h0m1.8 .2h0m-3.6 0h0m.7 0h0m5.3 .1h0m-5.3 .1h0m.6 .1h0m1 .1h0m-.7 0h0m3.1 .2h0m-4 .1h0m3.8 .2h0m-3.2 .1h0m3.8 .1h0m-1.4 .1h0m-2.3 0h0m.9 0h0m1 .1h0m-1.5 .2h0m-.2 .2h0m1.7 .1h0m1.6 .3h0m-.4 .3h0m-.8 .2h0m-.3 .1h0m2.2 .1h0m-4.4 .6h0m2.2 0h0m1.7 2h0m.2 1.4h0m2.2-6.4h0m2.4 .1h0m-2 .7h0m-.6 0h0m1.5 .2h0m-2.4 0h0m2.7 .1h0m1.5 .6h0m-2.1 0h0m-.1 .4h0m3 .2h0m-4.2 .1h0m.6 .4h0m-1.2 .1h0m2.1 .1h0m1.8 .1h0m-1.6 .2h0m1.3 .2h0m-.3 .1h0m-2.8 .1h0m.9 0h0m2.9 .2h0m.3 .3h0m0 0h0m-3.7 0h0m-.1 .1h0m-1.3 .4h0" stroke="#00be67" stroke-width="1.10" stroke-linecap="round" fill="none" opacity="0.85"/>
<path d="M493.5 197.3h0m-.6 .3h0m-.1 .1h0m.3 .1h0m-.6 .1h0m.5 .2h0m-.6 .1h0m.1 .1h0m-.6 0h0m.9 .1h0m-1.2 .2h0m1.8 .2h0m-1.3 .1h0m2 .1h0m.2 0h0m-2.5 0h0m1.4 .2h0m.4 .1h0m1.1 0h0m-3.9 0h0m.1 0h0m-.2 0h0m1 .1h0m.3 0h0m1.2 .3h0m-1.9 0h0m.2 0h0m2.9 0h0m-2.2 .1h0m-.9 .2h0m-.4 .1h0m3.5 .1h0m-2.6 0h0m.1 0h0m1.8 0h0m-2.9 0h0m-.4 0h0m2.1 .1h0m-1.6 0h0m1.8 .1h0m-.7 .1h0m.5 .1h0m.6 0h0m-2.2 0h0m2.9 .1h0m1.2 0h0m-2.5 0h0m.5 0h0m-.1 .1h0m-2.2 .2h0m-.3 0h0m2.4 .1h0m.1 0h0m0 0h0m-.1 .1h0m1.6 .2h0m-.4 .1h0m-.4 0h0m-1.2 .1h0m2.1 0h0m-1 0h0m-1 .2h0m.3 .2h0m.4 .1h0m.1 0h0m1 .2h0m-1.5 0h0m1 .2h0m-1.5 .2h0m2.4 .2h0m.3 .6h0m-.3 .6h0m-.2 .4h0m-.1 .4h0m.4 .1h0m-.6 .3h0m3.5-4.7h0m-2.2 .8h0m1.8 .2h0m-1.5 .1h0m.9 .1h0m.3 0h0m-.6 .1h0m-.7 .1h0m2.2 .2h0m-1.7 .5h0m-.9 0h0m0 .1h0m-.1 .2h0m.9 .1h0m1.1 .1h0m-1.2 0h0m-.9 .3h0m1.5 0h0m-.6 .1h0m.3 0h0m2.2 .2h0m-2.6 .1h0m3.8 0h0m-2.1 .2h0m.1 0h0m-1.7 0h0m2.9 .1h0m.4 .3h0m-1.1 0h0m-1.6 0h0m.3 .2h0m3.8 0h0m-3.8 .1h0m.7 .2h0m-1.1 0h0m4.1 .2h0m-1.1 .1h0m-.4 .1h0m-2.5 .1h0m3.2 .1h0m-1.8 .2h0m-.7 0h0m.2 0h0m1 0h0m-1.2 .1h0m-1.6 .1h0m4.4 .3h0m-.5 .1h0m.7 .1h0m-.8 .2h0m-1.2 .2h0m-.6 0h0m-1.1 .2h0m2.8 0h0m.8 0h0m0 .1h0m-2.9 .1h0m3.6 0h0m-1.1 .1h0m-.6 .1h0m.7 .1h0m-.1 .2h0m-.9 .2h0m.6 .2h0m-2.2 .3h0m2.2 .2h0m.2 .5h0m2.4-3.7h0m1.1 1.3h0m-1.9 .1h0m.8 .2h0m.9 .2h0m.4 .6h0m-2.1 .3h0m2.3 .1h0m-1.2 .2h0m1.6 .2h0m-.7 .2h0m3.7 .1h0m-3.7 0h0m.7 .1h0m2.5 0h0m-5.5 .1h0m3.2 .1h0m-2.7 .1h0m4.2 .3h0m1.3 0h0m-4 .1h0m-.6 0h0m-.2 .2h0m.6 0h0m-1.1 .1h0m2.8 0h0m1.2 .2h0m-1.6 .1h0m1.4 .1h0m-.7 0h0m-3.1 0h0m1.2 .1h0m3.3 .2h0m-5 .1h0m4 0h0m1.7 0h0m-5 .3h0m.8 .2h0m2 .8h0m.8 0h0m-2.2 .2h0m3.1 .2h0m-.1 .1h0m.6 .2h0m-.6 1.3h0m-.6 .4h0m3.1-3.8h0m-.9 .5h0m.1 0h0m.1 0h0m-.4 .1h0m-.1 .2h0m1.5 .1h0m.6 .1h0m-2.2 .1h0m4.3 .5h0m-4.5 .1h0m2.2 .1h0m-.7 0h0m-1 0h0m.6 .1h0m0 .1h0m-.6 .3h0m3.1 .1h0m.7 .2h0m-3.7 .1h0m2.2 .4h0m-.1 .1h0m0 .1h0m2.1 0h0m-2.2 0h0m2.1 .2h0m-4.8 .2h0m.4 0h0m3.3 0h0m1 .1h0m-1.7 .2h0m1.9 .3h0m-2.7 .1h0m2.4 0h0m0 .1h0m.6 0h0m-1.3 0h0m.7 .2h0m-.3 .2h0m.2 .1h0m-.1 .3h0m-1.6 0h0m.3 0h0m.2 .1h0m2.1 .3h0m-1.3 .1h0m-1.2 .1h0m2.7 .1h0m-1.1 .4h0m.3 .2h0m.3 0h0m1-4.1h0m2.2 2h0m2 .1h0m-4.5 .2h0m4.7 .3h0m-2.8 .2h0m-1 .2h0m.2 .3h0m4.1 0h0m-3.6 .1h0m-.5 .1h0m-1.1 .3h0m1.7 .1h0m-1.4 .1h0m3.1 .2h0m-1.4 .2h0m.8 0h0m1 .3h0m-.7 0h0m2 .1h0m-2.6 0h0m3 .1h0m.2 .1h0m-1 .1h0m-2.5 .2h0m2.7 .1h0m-.3 .1h0m1.2 .1h0m-2.8 .2h0m1 .8h0m2 .4h0m.7-4.4h0m0 2.7h0m4 .6h0m-2.5 .2h0m.5 .1h0m1.1 .2h0m-3.4 .1h0m2.3 .1h0m-1.6 .3h0m4.5 .6h0m-1.9 .1h0m-.6 .3h0m-2.7 .2h0m2.9 .5h0m2.1 .4h0m2.7-2.3h0m-2 .1h0m.7 .6h0m2.3 .1h0m2.3 .5h0m-2 .4h0m1 .1h0m-1.6 .5h0m-1.9 0h0m.7 .1h0m.3 .1h0m0 0h0m3.1 0h0m-.3 .1h0m-2.3 0h0m1.9 0h0m.7 .2h0m-1.6 .1h0m2.5 .2h0m-4.8 .1h0m2.6 .1h0m-2.2 0h0m3.9 .2h0m-2.2 .1h0m-2.7 .1h0m5.5 .5h0m-2.3 0h0m2.3 0h0m-.6 .2h0m-.7 .1h0m0 .2h0m-3.4 .1h0m2.6 .1h0m-3.4 .3h0m4.9 .1h0m1.4-3.7h0m1.2 .9h0m-1.1 .5h0m1.9 .7h0m-.2 .3h0m-2.1 .3h0m-.2 .3h0m3.9 .1h0m.6 .1h0m-1 .1h0m-1.1 0h0m2.8 .2h0m-4.3 0h0m4 .1h0m-4.4 0h0m2.3 .1h0m.1 .3h0m-1 .4h0m2.4 .2h0m.5 .4h0m-.6 .1h0m1.2 .2h0m-1.8 .6h0m.8 1h0m4.3-3.7h0m2 .1h0m-2.1 .2h0m-1.2 .2h0m-.8 .3h0m1.7 .4h0m-.6 .2h0m-.2 .7h0m.3 .1h0m.4 .1h0m-.7 0h0m3.8 .1h0m-3.7 0h0m4.1 .2h0m-2.8 .1h0m-.5 .7h0m.6 .1h0m1.8 .3h0m.6 1h0m-4.6 0h0m9.9-1.6h0m-4.1 0h0m3 .4h0m-2.4 .2h0m3.6 .2h0m-1 .2h0m-1.7 .1h0m-2.1 0h0m1.2 .2h0m.9 .5h0m2.2 .4h0m-3.3 .1h0m2.6 .2h0m.9 .1h0m0 0h0" stroke="#cd9600" stroke-width="1.10" stroke-linecap="round" fill="none" opacity="0.85"/>
<path d="M493.1 197.7h0m-1 .5h0m.3 .2h0m-.1 .2h0m.1 .5h0m-1.4 0h0m.4 .1h0m-.6 0h0m.3 0h0m-.2 0h0m-.1 .2h0m-.4 .4h0m3.2 0h0m-2.3 .1h0m-.8 .1h0m-.8 .2h0m2.5 0h0m1.2 .1h0m.3 .1h0m-.9 .1h0m-2.4 .1h0m.1 .2h0m.1 0h0m2 .2h0m-1.1 0h0m-2.4 .1h0m1.1 .3h0m.1 0h0m3.4 .3h0m-2.3 .1h0m2.3 0h0m.1 .1h0m1 .3h0m-2.1 .1h0m1 0h0m1.1 0h0m.1 .3h0m-2.9 0h0m-.7 .1h0m-.8 .1h0m3.3 .1h0m.5 0h0m-.2 0h0m-.5 .1h0m1.3 .6h0m-1.5 .3h0m-1.1 .4h0m-1.4 .8h0m3.6 .1h0m.3 .4h0m.5-4.5h0m.4 .3h0m-.5 .9h0m.2 .1h0m-.1 .4h0m0 .5h0m.2 .1h0m0 .2h0m-.1 .3h0m1.4 .2h0m-1.4 .1h0m2.7 0h0m-.8 .4h0m1.7 .2h0m-1.7 .1h0m-1.6 .1h0m1.6 .2h0m2.5 .2h0m-.3 .3h0m-1.6 0h0m-1.4 0h0m.7 .1h0m2.7 .4h0m-3.9 0h0m1.9 0h0m1.4 .5h0m.7 .1h0m-2.4 .1h0m.2 .1h0m-.4 .1h0m2.7 .2h0m-2.5 .4h0m2.4 .1h0m-1.2 .3h0m0 0h0m1.2 .2h0m-.6 .5h0m1.3 0h0m-2.4 .8h0m.6 .1h0m4.8-3.1h0m-.2 0h0m1.1 .6h0m-1.6 .4h0m-1.6 1.4h0m0 .2h0m5 .1h0m-3.5 .5h0m1.3 0h0m.8 .1h0m1.3 .1h0m-4 .4h0m.9 0h0m.4 .3h0m1.2 0h0m-.4 .1h0m.1 0h0m1.5 0h0m-1.6 .5h0m1.6 0h0m-3.7 .1h0m.4 .2h0m2.5 .3h0m-1.3 0h0m-.1 .3h0m1.3 .1h0m.3 .2h0m1.2 .1h0m-.7 .4h0m.2 .6h0m-.4 .7h0m1.2 .6h0m-.9 1.1h0m1.6-5.3h0m.8 .4h0m.6 .7h0m-1.4 .4h0m-.2 0h0m-.1 .2h0m3.9 .2h0m-4.1 0h0m.1 .2h0m1.6 .1h0m-.1 .1h0m.7 .2h0m-.4 .2h0m.3 0h0m.4 .1h0m-1.6 .3h0m2.6 .2h0m-1.2 .1h0m-.5 .2h0m-.3 0h0m1 .2h0m1.9 0h0m-1.8 .1h0m1.4 .5h0m-1.7 0h0m-.8 0h0m1.6 .5h0m-.4 .1h0m2.4 0h0m-3.1 .1h0m3 .1h0m-1.3 .1h0m1.5 0h0m-1.3 .1h0m-2.8 0h0m4.5 0h0m-.5 1.3h0m.4 2.3h0m3.6-4.7h0m-3.2 1.4h0m-.1 0h0m3.3 .1h0m-.7 .2h0m-2.6 .2h0m3.2 .1h0m-.7 0h0m2.1 .1h0m-3.6 0h0m-.9 .1h0m1.6 .1h0m.4 0h0m3.1 0h0m-4.6 .3h0m4.3 .2h0m.4 .2h0m-5.1 .2h0m3.7 .1h0m1 .3h0m-2 0h0m.8 0h0m1.7 .4h0m-4 .6h0m1 .1h0m.8 .1h0m1.6 0h0m1 2.3h0m.5-4.4h0m3.2 .5h0m-1.1 .9h0m.9 .1h0m-3.1 .2h0m4.8 .6h0m-1.9 .2h0m.4 .1h0m-2.9 .3h0m3.1 .4h0m1.8 0h0m-4.3 0h0m0 0h0m1.9 .2h0m-.2 0h0m-1.9 0h0m4.1 0h0m-1.9 .1h0m-1.9 .2h0m3 0h0m-1.1 .2h0m2.5 .2h0m-2.1 .2h0m.8 0h0m-.6 0h0m1.3 0h0m-.2 .4h0m-.9 .3h0m.4 .4h0m1.4 0h0m-1.7 .6h0m-.8 1.5h0m2.7-7.8h0m.4 2.8h0m-.1 .4h0m3.9 .4h0m-1.1 .4h0m.8 .1h0m-1.4 .4h0m-.1 .3h0m2.3 .1h0m-1.7 0h0m2.3 .2h0m-5.1 0h0m-.1 0h0m.7 .1h0m2.8 .1h0m-1.4 .4h0m-1 .1h0m2.2 .5h0m-2.3 .3h0m3.3 .3h0m1.6 .3h0m-2.6 .4h0m1.4 0h0m-.7 .1h0m1.6 .8h0m1.2-2.1h0m-.6 .9h0m.8 .1h0m.2 .3h0m2.3 0h0m-1.1 .2h0m.5 .2h0m-.9 .1h0m2.5 .2h0m-2.3 .1h0m.6 .6h0m2.1 .5h0m0 .2h0m-1.5 0h0m2.3 .2h0m-4.2 0h0m2.1 .3h0m1 .7h0m-2.8 1.4h0m8.8-4.6h0m-2.2 .7h0m3.4 .5h0m-5.1 .1h0m3.9 .1h0m-1 .1h0m-1.8 0h0m3 .1h0m-3.9 .5h0m3.9 .2h0m-1.7 .2h0m-2.4 .1h0m3.6 .8h0m-4.1 .1h0m3.8 .3h0m1.2 .2h0m-1.8 0h0m1.5 .1h0m.3 .2h0m.1 .3h0m.1 .5h0m.3 .6h0m.1 .2h0m2.9-4.1h0m.8 .6h0m-2 .7h0m.7 .4h0m3.6 .7h0m-5.4 .1h0m.1 .4h0m.3 .2h0m2.6 .1h0m-2.9 .1h0m5.1 .1h0m-1.4 2.6h0" stroke="#7cae00" stroke-width="1.10" stroke-linecap="round" fill="none" opacity="0.8"/>
<path d="M487.2 202.5h0m1 .4h0m.3 .1h0m-1.1 .4h0m-.7 1.2h0m-.8 .5h0m2.6 .6h0m1.7-5.1h0m2.9 .1h0m-1.6 0h0m.4 1.2h0m-2.4 .9h0m5.1 1h0m-3.1 .1h0m.9 .8h0m.2 0h0m-.1 .2h0m1.7 .1h0m-4.8 .8h0m2.3 .1h0m1.4 .2h0m-.4 .2h0m2.3 .3h0m-1.1 .6h0m-2.1 0h0m2.2 .1h0m.1 1.3h0m0 1.4h0m.1 .1h0m-1.8 .5h0m1.4 .1h0m2.7-8.3h0m1.3 5.3h0m-.9 .1h0m1.8 .2h0m-.2 .4h0m.6 1.1h0m-3.5 .2h0m.2 .1h0m1.3 .2h0m2.8 0h0m-3.8 .1h0m2.8 .7h0m-2.5 .2h0m.9 0h0m-1.1 .1h0m-.3 .5h0m-.4 0h0m.5 .4h0m-.9 .2h0m5.1 .1h0m-.8 .1h0m-.9 1.3h0m1 .7h0m-1.1 .3h0m-1.6 .6h0m4.7-9.7h0m.2 5.1h0m1 .2h0m-.6 .4h0m.5 .6h0m1 .8h0m-2.3 .3h0m5.1 .4h0m-2 1.2h0m.8 1h0m1.6 0h0m-1.1 .5h0m-.9 .2h0m-1.1 .7h0m-.1 .1h0m.8 .1h0m2 1.6h0m.1 .3h0m.2 1.1h0m-1.9 .2h0m4.1-4.7h0m.4 .1h0m.1 .6h0m.7 .2h0m1.3 0h0m-3.7 .2h0m2.6 .5h0m.5 .1h0m-3.4 .3h0m1.2 .4h0m-.4 .1h0m3.8 .2h0m-.3 .3h0m.6 .8h0m-1 .1h0m-2 .3h0m.5 .2h0m.4 .3h0m1.1 .4h0m-2.9 1.3h0m1.8 .7h0m2 .9h0m4.2-4.9h0m-2 .4h0m.5 .8h0m3.9 1.5h0m-2.6 .3h0m.8 .3h0m1.6 .1h0m-3.5 .1h0m3.9 .4h0m-4.3 .6h0m2.4 .3h0m.1 .4h0m1.2 .2h0m-1.5 .2h0m1.2 .5h0m.5 .2h0m.2 .3h0m1-7.2h0m-.5 1.2h0m.2 .7h0m-.3 .9h0m.8 .7h0m-.1 1h0m3.6 .2h0m-.4 .1h0m-.8 .1h0m-1.2 .7h0m-.6 .6h0m4.2 .6h0m-.3 .2h0m-4.9 .1h0m0 .5h0m-.2 .5h0m3.4 .1h0m.5 1.8h0m-.3 1.8h0m2.5-7h0m.1 1.5h0m1.2 .1h0m1.5 .4h0m1.7 .7h0m.3 .3h0m-4.2 .4h0m.7 .2h0m3.6 .2h0m-3.4 .4h0m-1.7 .5h0m5 1h0m.7 2.2h0m1.2-6.8h0m2.9 .5h0m-3.3 .2h0m1.2 1.4h0m-1.1 0h0m4.7 .7h0m.3 .6h0m-3.1 .6h0m1.1 .1h0m-2.1 .6h0m-.4 .2h0m-.6 .5h0m3.3 .3h0m-.8 0h0m1.3 1.8h0m.7 0h0m5.4-5.5h0m-4.5 1.5h0m3.5 2h0m-2.1 0h0m1.9 .4h0m.5 .5h0m.3 .1h0m-1 .2h0m-2.4 .1h0m4.1 .2h0m-2.9 .1h0m.9 .1h0m.8 0h0m-2.3 .5h0m-.7 .2h0m2 .6h0m1.1 .4h0m-2.6 0h0m1.7 .4h0m-1.1 .1h0m3.4 .4h0m-.4 .3h0m3.1-4.3h0m-1.7 .6h0m.9 .1h0m-.3 .5h0m.2 .2h0m-.8 0h0m2.7 .4h0m-.4 .5h0m-2.3 .1h0m.1 .1h0m-.1 .7h0m-.1 .7h0m4.3 .1h0m-2.7 1.5h0m1.2 .5h0" stroke="#00be67" stroke-width="0.90" stroke-linecap="round" fill="none" opacity="0.7"/>
<path d="M488.7 201.1h0m-.1 .1h0m-.5 .4h0m-.3 .4h0m-.2 .1h0m4.8-4h0m-.5 .4h0m-.3 0h0m.6 .2h0m-1 .2h0m-.1 .1h0m.4 0h0m1.5 0h0m-1.6 0h0m.1 .1h0m1.7 0h0m-2.2 0h0m0 .1h0m.2 0h0m2.6 .1h0m-3.1 0h0m1 0h0m1.1 .1h0m-1.8 .1h0m.2 0h0m-.7 0h0m.2 0h0m-.1 .1h0m1.1 0h0m-1.2 .1h0m-.3 0h0m.9 .1h0m-.9 0h0m.1 .1h0m.2 .1h0m.2 0h0m.6 0h0m-1.2 0h0m.3 0h0m-.4 0h0m2 0h0m-1.9 .1h0m1.2 0h0m2.8 0h0m-3.6 .1h0m.3 .2h0m-1.3 0h0m0 .1h0m0 0h0m1.2 .1h0m-1.5 .2h0m-.1 0h0m4 0h0m-3.8 0h0m4.5 .1h0m-4.7 0h0m.8 .3h0m.3 .2h0m.6 0h0m2.1 0h0m-1.4 .2h0m2.5 .1h0m-3.1 .2h0m-.2 .1h0m.1 0h0m.8 .1h0m-.5 .1h0m2.1 0h0m-2.1 .1h0m2.8 .2h0m1 .3h0m-1 0h0m-.4 .2h0m-1.8 0h0m3.1 .1h0m-1.8 0h0m-.3 .2h0m2.3 .1h0m-.1 .2h0m-.3 .1h0m0 .1h0m-2.1 0h0m1.1 .2h0m-1.3 .3h0m1.3 1.8h0m2.1-3.3h0m.8 .5h0m-1.4 .6h0m4.3 .1h0m-4.1 .1h0m2.6 0h0m-1.1 1.2h0m-1.4 .1h0m.7 .2h0m2.8 .2h0m-.8 0h0m-1.5 .5h0m2.2 .5h0m-2 0h0m1.4 .2h0m-1.8 .1h0m3.5 1h0m-3.4 .2h0m3.5 1.1h0m2.3-1.1h0m-.9 .7h0m.1 .2h0m.7 1.4h0m3.4 .9h0m-1.4 .2h0m-.8 .3h0m.4 .1h0m1.2 .2h0m1.6 .4h0m-1.9 .1h0m-1 .7h0m1.5 .8h0m1.5 .5h0m4.2-2.8h0m-3 .1h0m2.6 .2h0m-2.8 1.2h0m.9 .6h0m-.4 .1h0m3.8 .2h0m-1.1 .4h0m-.6 .8h0m.5 .8h0m-1.9 .2h0m2.4 0h0m3.9-1.3h0m-1 .9h0m-.5 .7h0m1.7 .6h0m-2.3 .2h0m2.6 .4h0m-.4 .2h0m-1 .2h0m4.2 .9h0m-1.2 1.9h0" stroke="#00bfc4" stroke-width="1.10" stroke-linecap="round" fill="none" opacity="0.8"/>
<path d="M488.8 201.7h0m3.3-3.6h0m-.5 .4h0m.1 0h0m-.1 .1h0m1.3 0h0m-.8 .1h0m-.3 0h0m-.2 .1h0m-.1 0h0m-.4 .2h0m0 0h0m.1 .1h0m-.2 0h0m.1 .1h0m.5 .1h0m0 0h0m-.9 .1h0m1.2 .1h0m-1.4 0h0m.5 .1h0m-.2 0h0m-.2 0h0m.5 .1h0m-.9 .1h0m-.1 .1h0m1.2 0h0m-1.4 .1h0m.2 0h0m.3 0h0m-.2 0h0m.9 .1h0m-1.2 0h0m.6 0h0m-.3 0h0m-.3 .1h0m1.2 0h0m-1.5 .1h0m2.9 0h0m-2.8 0h0m.9 0h0m-1.1 .1h0m1.3 0h0m1.3 0h0m-1.1 .1h0m.9 .3h0m-2 .1h0m.6 0h0m1.2 0h0m-2.1 .3h0m2.4 .1h0m0 .1h0m.1 0h0m.2 0h0m-.2 0h0m1.1 0h0m-2.4 .3h0m2.3 .2h0m-3.4 .4h0m2.5 0h0m1.5 .3h0m-.6 0h0m-.2 .2h0m1.5 .2h0m-4.1 .4h0m3.9 .2h0m-.1 .2h0m-2.9 .1h0m2.3 .5h0m.5 .1h0m-.5 1.5h0m2.6-3.7h0m1.1 .9h0m-1.8 .3h0m-.2 .2h0m1.6 .3h0m-.7 .3h0m0 .5h0m.1 .2h0m.3 .3h0m1.6 0h0m-1.1 .1h0m-1.5 .4h0m1.9 .1h0m-.1 .3h0m-1.4 .2h0m1.9 .1h0m-2.4 0h0m4.7 .7h0m-4.4 .3h0m4.3 .8h0m-.5 1.3h0m-1.4 .2h0m1.2 .8h0m2.4-4.6h0m.8 2.7h0m-1.3 .4h0m.5 .6h0m.9 .4h0m2.5 0h0m-2.7 .2h0m.8 .5h0m.6 .5h0m.5 .2h0m.5 .4h0m.8 .5h0m.6 .1h0m-2.6 .3h0m1.4 0h0m2 .6h0" stroke="#00a9ff" stroke-width="1.10" stroke-linecap="round" fill="none" opacity="0.8"/>
<path d="M490.8 196.5h0m.8 .2h0m.7 .2h0m-2 .1h0m1.9 .3h0m.4 0h0m-1 .1h0m-.2 .1h0m1.5 0h0m-.6 .1h0m-.1 .1h0m-1.2 .1h0m2.4 0h0m-1.7 0h0m-1.2 .1h0m2.8 .1h0m-1.1 0h0m-1.5 .1h0m-.3 .1h0m-.5 0h0m.3 .1h0m3 .1h0m-3.5 0h0m0 0h0m3.4 .2h0m-.8 0h0m.5 .1h0m.6 0h0m-.9 .1h0m-.7 .1h0m1.6 0h0m-.5 0h0m-.4 .1h0m-1.5 0h0m1.2 0h0m1.2 .1h0m-.9 .3h0m-.4 0h0m1.2 .1h0m-.1 .3h0m.3 0h0m-1.2 .1h0m-2.1 .1h0m2.2 .2h0m-2.4 .2h0m1.1 0h0m1.7 .1h0m-.7 0h0m1.2 0h0m-2.2 0h0m1.3 .1h0m-1.5 .1h0m-1.1 0h0m3.5 .2h0m-2 .1h0m-.2 .2h0m.4 .1h0m-1.2 .1h0m.6 .1h0m0 .2h0m1.1 .1h0m1.1 0h0m-.6 .1h0m-2.3 0h0m1.7 .1h0m-1.3 .1h0m1.3 .1h0m.7 0h0m-1 0h0m0 .3h0" stroke="#c77cff" stroke-width="1.20" stroke-linecap="round" fill="none" opacity="0.9"/>
<path d="M489.5 199.5h0m1.1 .1h0m.4 .1h0m-1.6 .2h0m1 0h0m.5 .1h0m-.7 .1h0m1.5 0h0m-2.2 .2h0m-.3 .2h0m2.4 0h0m-1.2 .1h0m-.6 .1h0m.3 .1h0m1.5 .2h0m-.1 0h0m-1.1 0h0m-.5 .1h0m2 .1h0m-.9 .2h0m-.3 .5h0m.8 .2h0m-.7 .1h0m-.1 .4h0m-.6 .2h0" stroke="#00a9ff" stroke-width="1.10" stroke-linecap="round" fill="none" opacity="0.9"/>
<path d="M548.6 231.0 L588.7 227.6" stroke="#333" stroke-width="0.6" fill="none"/>
<path d="M590.6 165.8h0m.4 3.5h0m-.2 4h0m3.7-7.9h0m-1.7 .4h0m.6 .1h0m1 0h0m-1.1 .2h0m.4 .1h0m.8 0h0m-.5 .1h0m-.9 0h0m-.8 .1h0m.1 0h0m.5 .1h0m.1 .1h0m-.6 0h0m.5 .2h0m.9 0h0m0 .2h0m-.3 0h0m.9 .1h0m-2.8 0h0m.8 .2h0m.2 .2h0m0 .1h0m-.9 0h0m1.8 0h0m-.2 .1h0m.1 .3h0m-.8 0h0m.2 0h0m-1.4 0h0m1.6 .2h0m-1.4 0h0m1.4 0h0m-.1 0h0m.2 .2h0m-1.4 0h0m2.7 0h0m-1 .1h0m.4 0h0m.3 0h0m-1.8 0h0m.3 0h0m.7 0h0m-.1 .1h0m.3 0h0m.5 .1h0m-1.5 .1h0m2.3 0h0m-.9 .1h0m-.4 .2h0m.7 0h0m-.5 0h0m-1.2 .1h0m2.2 0h0m-1.2 .1h0m1 0h0m-1.5 .2h0m.7 0h0m-1.1 0h0m1.1 .1h0m1.7 0h0m-3.3 0h0m.5 .1h0m-.3 .1h0m.5 0h0m-.1 0h0m1 0h0m-1.5 .1h0m2.2 0h0m-1.7 0h0m1.5 0h0m-.8 .4h0m.2 .2h0m1.1 0h0m-.5 .1h0m-1.6 0h0m-.4 .2h0m3.2 .1h0m-3.3 0h0m-.3 0h0m1.5 .1h0m-.5 0h0m.4 .2h0m-.4 0h0m.8 0h0m-1.1 .1h0m2.2 .1h0m-3 .1h0m1.2 .2h0m.8 0h0m-1.5 .1h0m2.1 .1h0m-1.6 .1h0m.5 .1h0m-.1 0h0m-.2 0h0m1.1 .1h0m-.7 .1h0m.4 .2h0m.9 0h0m.7 0h0m-1.6 0h0m-.2 .1h0m1.1 .1h0m-2 .1h0m1 0h0m.4 .1h0m0 .1h0m-.3 0h0m-.6 .1h0m.8 .1h0m-.9 .1h0m-1.1 0h0m1.7 .2h0m-.2 0h0m.8 .1h0m-.8 .1h0m1.5 .1h0m-.5 0h0m-1.6 0h0m.6 .1h0m0 0h0m.7 .1h0m1.1 0h0m-.3 .1h0m-2.2 0h0m1.7 .2h0" stroke="#00bfc4" stroke-width="1.20" stroke-linecap="round" fill="none" opacity="0.9"/>
<path d="M592.5 172.5h0m-.3 .1h0m-.3 0h0m1.5 .5h0m1.4 .2h0m-.9 .3h0m-.9 .1h0m.6 .1h0m.9 0h0m0 .3h0m-1.5 .1h0m.7 .1h0m.1 0h0m-2.4 .2h0m1.4 .2h0m1 0h0m-.3 .1h0m-1.8 .2h0m2.2 0h0m.5 .3h0m1 .1h0m-2.6 0h0m.6 0h0m1.2 0h0m-.7 .2h0m-.2 .1h0m0 0h0m.4 .1h0m-.5 .4h0m.9 .4h0m-.9 0h0m-.8 .2h0m-.2 .2h0m1.1 0h0m-.2 .4h0m.8 .2h0m-1.2 .2h0m.6 0h0m-.7 0h0m1 .2h0m-.7 0h0m.8 .1h0m-.7 0h0m.7 .2h0m-.6 0h0m1.7 .2h0m-1.7 0h0m.5 .1h0m-.8 .3h0m.4 .2h0m.4 0h0m-.4 .2h0m-.4 0h0m0 0h0m2.1 .4h0m-.9 .1h0m-.4 0h0m-.5 .2h0m-.8 0h0m.2 0h0m.1 .2h0m1.3 .1h0m-.9 0h0m1.8 .1h0m-3.1 .4h0m1.8 .1h0m.1 .1h0m-.9 .1h0m-.3 .1h0m.7 0h0m1 .1h0m-1.6 .4h0m1.8 .1h0m-.3 .2h0m.1 .4h0m-.1 0h0m-2 .2h0m.7 .1h0m-.6 .1h0m2.3 0h0m-2.8 .1h0m1 .1h0m.8 .1h0m-.1 .3h0m1 .2h0m-.7 .1h0m-.8 .2h0m-.4 .4h0m.1 0h0m1 0h0m-.3 0h0m.5 .1h0m0 .1h0m-.5 0h0m.2 .1h0m-.4 0h0m1.8 .1h0m-2.6 .1h0m2.2 .2h0m-2.7 .4h0m.9 0h0m1.3 .1h0m-1.3 .2h0m2.3 .1h0m-2 0h0m.9 .1h0m-1.1 .1h0m.7 0h0m-.1 .1h0m-.2 0h0m-.3 .1h0m-.4 .5h0m.8 0h0m.4 .1h0m1 0h0m-1.3 .2h0m.5 0h0m-.3 .2h0m.3 0h0m.5 .1h0m-.6 .4h0m-.5 0h0m.9 .4h0m-.6 .2h0m.9 .1h0m-1.9 .2h0m1.1 .2h0m-1.7 0h0m2.3 .5h0m-.4 .2h0m2 0h0m-1.5 .1h0m-.3 .1h0m-.1 .2h0m-1.8 .2h0m1.3 0h0m-.1 .1h0m1.1 0h0m-.7 .3h0m-.5 .2h0m1.5 .1h0m-.8 0h0m-.9 0h0m.5 .1h0m-.3 0h0m.8 .2h0m-.7 .1h0m-.2 0h0m.1 .1h0m.1 .2h0m.6 .1h0m1.2 .2h0m-2.3 0h0m.5 .1h0m.2 0h0m.1 .1h0m.4 .1h0m-.4 .5h0m1.2 .2h0m-1.3 .1h0m.9 .2h0m-1 0h0m.9 .2h0m-1.3 .1h0m-.4 .1h0m.3 .2h0m.7 .1h0m-.8 .1h0m.9 .3h0m.4 0h0m-.4 .1h0m-1.5 0h0m.1 .2h0m.4 .1h0m.9 .1h0m-.7 .1h0m-.7 .1h0m2.6 .1h0m-1.1 .1h0m.2 0h0m.2 .2h0m-.2 .1h0m-1.2 0h0m1.3 .4h0m-.9 .1h0m-1.1 .1h0m0 .2h0m2.4 .1h0m0 0h0m.4 .1h0m-1.6 .3h0m.6 .1h0m.7 0h0m1.5 0h0m-4.3 .1h0m2.7 .1h0m-2.1 .1h0m.6 0h0m1 .1h0m-1.3 .1h0m-.3 .1h0m2.4 .1h0m-1.6 .1h0m-.7 .1h0m.3 .2h0m1 0h0m-1 .1h0m1.3 0h0m-.8 .1h0m.1 .3h0m.5 0h0m-.9 .1h0m.8 .2h0m.6 .1h0m-.2 0h0m.6 0h0m-2 0h0m-.4 0h0m.5 0h0m1.1 .2h0m-.2 .1h0m1 .3h0m-1.2 0h0m-.8 .1h0m.1 .1h0m-.7 .1h0m-.1 .1h0m1.7 .5h0m-.4 0h0m.3 .1h0m0 0h0m1.2 .3h0m-1.5 .1h0m.2 .3h0m-.6 0h0m.9 .1h0m-1 .2h0m.4 .2h0m-.6 .2h0m.5 0h0m-1.3 0h0m1.4 .1h0m1.1 .3h0m.4 .1h0m-2.6 0h0m1.8 .1h0m-1 .3h0m.3 .1h0m-.1 0h0m-.7 .2h0m.7 .1h0m.3 0h0m-.2 .1h0m-1.4 0h0m1.3 .3h0m1.1 0h0m-1.1 .4h0m1.1 .2h0m-1.2 0h0m1.2 .1h0m-1.4 .7h0m-.8 0h0m.9 .2h0m-.4 0h0m1.1 .1h0m.4 .1h0m-.9 .1h0m-.7 .2h0m-.6 0h0m.8 .1h0m.3 .3h0m-.1 0h0m-.6 .2h0m.2 .1h0m.4 .1h0m-.2 .1h0m.3 0h0m.3 .5h0m-1 .1h0m1.6 .1h0m-1 0h0m-.9 .5h0m1.9 0h0m-1.8 .3h0m1.3 .3h0m-.1 .4h0m.3 0h0m-.3 .1h0m-1 .2h0m.3 0h0m.4 .1h0m-1.1 .2h0m-1 .4h0m.3 0h0m3 .2h0m-1.3 .1h0m-.4 .1h0m.3 0h0m-.2 .3h0m-.2 .1h0" stroke="#00be67" stroke-width="1.10" stroke-linecap="round" fill="none" opacity="0.9"/>
<path d="M590.3 219.2h0m-.8 .4h0m.3 1.4h0m.9 .2h0m-.2 .4h0m.1 .3h0m3.5-49.3h0m-.1 .3h0m0 .5h0m-2.4 .3h0m1.9 .1h0m-1.5 .5h0m1.5 .2h0m1.6 .2h0m.9 .5h0m-2 .4h0m-.4 .1h0m0 .4h0m0 .4h0m1.2 .1h0m.1 .2h0m-1 .6h0m.8 .1h0m-2 .7h0m.5 .5h0m.5 .1h0m.5 .3h0m.9 .7h0m-.5 .1h0m.6 .4h0m-.1 .9h0m-.4 .3h0m.4 .1h0m-.7 .1h0m.4 0h0m-1.4 0h0m1.7 .4h0m-.4 .2h0m.2 .1h0m-.6 0h0m-.3 .9h0m-.1 .5h0m1.4 .1h0m-.3 .3h0m-1.3 .1h0m1.7 .9h0m-1.3 .1h0m-.2 .3h0m-.7 .1h0m.9 .2h0m-.1 1h0m-.1 0h0m-.7 0h0m2.8 .1h0m-1.2 .1h0m.4 .7h0m-.3 .4h0m-.3 .1h0m.4 .6h0m-.8 0h0m1.1 .7h0m-1.1 0h0m-.5 .3h0m-.2 .4h0m1.3 .2h0m-.8 .1h0m0 .6h0m1.1 .2h0m-.5 .2h0m-1.2 1.1h0m.6 .1h0m-.6 0h0m.6 .4h0m-.5 .1h0m.5 .6h0m-.4 .3h0m.7 .1h0m1.1 0h0m-1.2 1.1h0m-.3 .2h0m.6 0h0m.5 .1h0m-1.3 .2h0m.2 .6h0m-.2 .3h0m2.4 .1h0m-2.2 .1h0m0 .4h0m.2 .3h0m.4 .2h0m-.6 .5h0m.8 .5h0m-.1 1.1h0m-1.4 .9h0m.8 .6h0m.3 .9h0m.4 .5h0m-.2 .4h0m-1.4 .1h0m-.1 .2h0m1.6 .4h0m-1.1 .1h0m1.4 .7h0m-.5 .1h0m.8 .2h0m-1.3 .4h0m-1.8 .2h0m.5 .6h0m.9 .6h0m.8 .2h0m-.5 .7h0m-.7 0h0m.1 .1h0m.5 .1h0m-.5 .6h0m-.2 .3h0m-.5 1h0m2.3 .1h0m-.9 1.1h0m-.7 .3h0m-.7 .1h0m.4 .2h0m-1.8 .2h0m3 .3h0m-.5 .1h0m.4 .1h0m-1.4 0h0m.1 0h0m2.1 .3h0m-.9 0h0m-.6 .1h0m.2 0h0m-2.3 .1h0m1.1 2.3h0m1.3 .9h0m-1.6 .2h0m.1 .4h0m-.4 0h0m.8 .6h0m.4 .1h0m-.6 .5h0m-.1 .6h0m.8 0h0m-.7 .2h0m-.4 .1h0m1.5 .6h0m-1.4 .2h0m-.7 .9h0m.7 .5h0m-.2 1.8h0" stroke="#7cae00" stroke-width="1.00" stroke-linecap="round" fill="none" opacity="0.8"/>
<path d="M590.3 220.4h0m.4 1.3h0m.2 1.1h0m0 .4h0m.1 .2h0m-.3 .1h0m-.3 .4h0m.4 .1h0m-.7 .8h0m.5 .1h0m.2 .1h0m-.3 .1h0m.2 .3h0m-.6 0h0m.9 .3h0m-.9 .3h0m-.4 .1h0m.3 .1h0m.2 .1h0m-.1 .2h0m.7 0h0m-.2 0h0m.2 0h0m-.4 .6h0m.1 .2h0m.2 .1h0m-1 .1h0m1.2 0h0m-1 .1h0m0 .2h0m.6 0h0m-.2 .4h0m-.4 0h0m.6 .2h0m-.1 .1h0m4.9-26.8h0m-1.5 .3h0m.7 0h0m-1.5 .1h0m1.4 0h0m-2 .2h0m1.3 .1h0m-.1 0h0m1.2 .2h0m-1.2 .1h0m.2 0h0m.1 0h0m-.3 0h0m-.3 .1h0m.9 0h0m.1 .1h0m-.7 0h0m0 .2h0m.9 .4h0m-1.7 .3h0m1.3 .1h0m-.5 .1h0m-.6 .1h0m2.5 .1h0m-2 .1h0m-.1 0h0m1.4 .1h0m0 0h0m-1.4 .1h0m0 0h0m.2 .1h0m-.3 .2h0m.2 .1h0m1 .1h0m.4 .1h0m0 .2h0m-2 .1h0m1.2 0h0m.7 .2h0m.6 0h0m-.1 .2h0m-1.1 0h0m.2 .3h0m1.4 .4h0m-3.7 0h0m2.4 0h0m-2.6 .2h0m2.1 .1h0m1 0h0m-1.6 .2h0m.7 0h0m-1.1 .1h0m1 .1h0m-.6 .1h0m.6 0h0m-2.5 .1h0m2.5 .2h0m-1 .1h0m.6 .1h0m-.5 .1h0m1.9 0h0m-.1 0h0m-2 .1h0m.1 .1h0m1.9 0h0m-1.7 .2h0m.6 .2h0m.8 .2h0m-.9 0h0m.3 0h0m.7 .1h0m.9 0h0m-.5 0h0m-1.5 .1h0m1.7 .2h0m-1 .3h0m1.1 0h0m-1.7 .2h0m1.1 0h0m-.5 .2h0m-1 0h0m1.6 0h0m-1.5 .3h0m.6 0h0m-.1 .1h0m-.6 .1h0m.4 .1h0m-.4 .1h0m-.1 .2h0m-.7 .1h0m3.1 0h0m-2.3 .1h0m.9 0h0m-.5 .1h0m.3 .2h0m-1 .1h0m.7 .1h0m-.5 0h0m2.9 0h0m-3.1 .1h0m.9 .2h0m-.6 .1h0m-.5 .1h0m.9 .4h0m2.1 .1h0m-1.7 .1h0m-1.4 0h0m1.6 .1h0m.5 .1h0m-1.4 0h0m-2 0h0m2.7 0h0m-1 .3h0m-.1 .2h0m-.3 0h0m2.3 .1h0m-.2 0h0m-.7 .3h0m0 .5h0m-2.6 0h0m1.8 .2h0m.2 .1h0m-1.7 .1h0m.9 0h0m-.4 .4h0m1.9 .2h0m-.8 .1h0m1.5 0h0m-1.2 .1h0m-1.9 .2h0m.4 0h0m1.8 .2h0m-1.5 .4h0m1.1 0h0m-.5 .1h0m-.1 .1h0m-1.8 .1h0m3.4 .1h0m-1.6 0h0m-1.7 .2h0m1.2 0h0m.3 .2h0m-.4 .1h0m-.3 .1h0m1.1 .1h0m-.1 .1h0m-1.5 .4h0m3 0h0m-2.5 .2h0m2 0h0m-1.7 0h0m.6 .1h0m-1.3 .1h0m1.5 .1h0m-.6 0h0m.6 .1h0m-.5 .2h0m-.2 .5h0m.3 .3h0m-.2 .1h0m1 0h0m-1 0h0m.7 .1h0m.3 0h0m-1.4 .1h0m-.1 .2h0m1.1 .3h0m-1.9 .1h0m.8 0h0m.5 0h0m-1.3 .2h0m.6 0h0m.3 .1h0m-.9 .3h0m1.5 .2h0m-1 .1h0m-.3 .2h0m2 0h0m-.9 .1h0m.3 0h0m-1.4 .2h0m-.1 0h0m.9 .3h0m.8 .1h0m-1.8 .6h0m1.3 .1h0m-1.3 0h0m.6 .3h0m.2 0h0m.6 0h0m-.7 .2h0m0 .1h0m1.2 .1h0m-2.1 .1h0m.2 .3h0m.6 .4h0m.3 .1h0m-.2 .2h0m.2 0h0m-.8 .2h0m-.3 .1h0m0 .1h0m.5 0h0m.3 .2h0m-.6 .1h0m.5 .1h0m-.3 0h0m.3 .2h0m-.2 0h0m0 .2h0m-.3 .1h0m1.4 .2h0m-.8 .5h0m-.5 0h0m.3 .1h0m.7 .3h0m-1.3 .2h0m.1 .3h0m.7 .1h0m-.4 .2h0m-.4 0h0m.6 .2h0m.7 .5h0m-.8 .3h0m5.7-21.3h0" stroke="#cd9600" stroke-width="1.20" stroke-linecap="round" fill="none" opacity="0.9"/>
<path d="M590.8 230.1h0m-.6 .4h0m.1 .1h0m-.4 .1h0m.4 .1h0m.2 .1h0m-.1 0h0m.4 .1h0m-.5 .1h0m.1 .1h0m.5 .2h0m-.2 .1h0m-.6 0h0m.3 .6h0m-2 .1h0m2.6 .1h0m-.8 .1h0m-1.2 0h0m.7 .1h0m1.1 .2h0m-.3 .2h0m-.5 .5h0m0 0h0m.7 .5h0m-.2 .1h0m-1.2 .3h0m1 0h0m.7 0h0m-.7 .2h0m-.5 .2h0m.1 .3h0m.3 .2h0m.1 1h0m0 .2h0m0 .2h0m-.1 .1h0m.5 .7h0m0 1.2h0m-.2 .8h0m-.5 .7h0m.1 1.4h0m1.6-11.5h0m1.6 .6h0m-.8 .1h0m-1.4 0h0m.7 .1h0m.3 .1h0m-.3 .1h0m1.4 .1h0m-1.8 .1h0m.1 .2h0m-.1 .4h0m.5 .2h0m.1 0h0m-.3 .1h0m1.3 .1h0m1.4 .1h0m-2.8 0h0m.8 .1h0m-1 .5h0m1.2 .2h0m-.1 0h0m.8 .1h0m-2.2 0h0m.5 0h0m1.1 .3h0m-1.2 .2h0m1 .1h0m1 .1h0m-1.8 .1h0m-.1 .1h0m.7 .6h0m-.1 .1h0m-.1 .1h0m1.8 0h0m-2.2 0h0m1.1 .1h0m.4 .1h0m-1.8 0h0m.4 .1h0m1.8 0h0m.7 .1h0m-2.6 0h0m1.9 0h0m-.8 0h0m-1.3 .1h0m1.5 0h0m1.1 .1h0m-1.2 0h0m-.7 .6h0m.5 0h0m1.1 0h0m-.3 0h0m-2.2 .2h0m3.3 0h0m-2.8 .1h0m.3 .1h0m2.8 0h0m-1.2 0h0m-.3 0h0m-.8 .1h0m.1 .1h0m2 .1h0m-1.3 .1h0m-.1 0h0m-1.1 .2h0m-.9 0h0m-.1 .1h0m2 0h0m-2 0h0m1.8 0h0m.5 0h0m.7 .1h0m-1.7 .1h0m.4 0h0m-1.1 0h0m1.8 .3h0m.6 0h0m1.1 .2h0m-2.6 0h0m3.1 .2h0m-4.1 0h0m4.3 .2h0m-3.2 0h0m0 .1h0m-1.5 .1h0m.6 0h0m1.1 .1h0m.5 .2h0m1.2 .1h0m-2.5 .1h0m2.3 .1h0m-2.1 0h0m1 .1h0m-1.5 0h0m1.6 .1h0m-.6 0h0m.1 .1h0m-1.9 .1h0m2.3 .1h0m1.6 .1h0m-1.1 .1h0m-.8 .1h0m.7 0h0m1.2 0h0m-3.4 .3h0m1.5 0h0m-1.4 0h0m.9 .2h0m2.1 .1h0m1.3 0h0m-1.5 .1h0m.7 0h0m0 .2h0m-.2 .2h0m-2.4 .2h0m-.3 0h0m3.3 .1h0m-2.3 .1h0m.2 0h0m-1.6 .2h0m4 0h0m-4.1 0h0m2.2 0h0m.4 .1h0m-.2 0h0m-1.1 .1h0m1.2 0h0m1 .1h0m-1.3 0h0m-.1 .1h0m2 0h0m-1.4 0h0m-2 0h0m2 .1h0m.1 .2h0m-2 0h0m.4 .1h0m0 0h0m2.4 .1h0m-3.7 0h0m4.3 0h0m-1.7 0h0m.1 .1h0m-1.5 0h0m1.8 .1h0m-3.3 .2h0m3.5 0h0m.4 .1h0m-1.2 0h0m.6 .2h0m-1.6 0h0m-.7 .1h0m1.3 .2h0m1.4 .1h0m.4 .1h0m-1.5 0h0m-.4 0h0m-.2 .1h0m.7 0h0m1.8 .1h0m-3.3 .1h0m3.4 0h0m-2.9 0h0m1 .3h0m.2 0h0m-.4 0h0m1.5 .2h0m-1.4 .1h0m-1.7 .1h0m3 .1h0m-.4 0h0m.8 .1h0m-1.8 .2h0m.9 0h0m-1.1 .1h0m1.1 .1h0m.1 0h0m-1 0h0m-.5 .1h0m3.1 .1h0m-2.6 .1h0m.7 .3h0m0 0h0m2.3 0h0m-.3 0h0m-2 .1h0m-1.9 0h0m2.5 0h0m-1.9 .2h0m3.4 0h0m.1 .1h0m-2.9 .2h0m-.4 0h0m1.1 .1h0m1.7 0h0m-2.4 0h0m-.1 0h0m.9 .1h0m.2 0h0m.2 .1h0m-.5 .1h0m1 .2h0m.3 .1h0m-.8 0h0m1.4 0h0m-4.6 0h0m3 .1h0m1.4 .1h0m-2.2 .3h0m-.8 0h0m.8 .2h0m1.8 0h0m-2.5 .2h0m-.2 0h0m.5 .2h0m3.8-4.3h0m2.3 .2h0m-2.4 1.4h0m-.3 .2h0" stroke="#00be67" stroke-width="1.10" stroke-linecap="round" fill="none" opacity="0.9"/>
<path d="M551.5 235.4h0m.3 .4h0m-.9 .1h0m1.6 .6h0m-1.8 .1h0m1.4 .1h0m-.9 .1h0m-.3 0h0m.9 .3h0m-.9 .1h0m-.3 0h0m.4 0h0m.9 .1h0m-.4 0h0m-1.2 .1h0m1.6 .1h0m.8 0h0m-.3 .1h0m-.7 .2h0m-1.6 .4h0m1.7 0h0m-1.4 0h0m.6 .1h0m-.3 .1h0m.9 .2h0m-.4 .1h0m1.6 0h0m-.5 0h0m.7 .3h0m-2.2 0h0m-.8 .2h0m2.1 .3h0m-1.9 .1h0m2.4 .2h0m-.6 .2h0m.8 0h0m-.8 .2h0m-.4 0h0m-.3 .1h0m-1.3 0h0m.4 .1h0m2 0h0m-.1 0h0m-1.1 0h0m-.1 .1h0m1.2 0h0m-.5 .1h0m1 0h0m-1.5 0h0m-.6 .2h0m2.1 0h0m-.5 0h0m.4 .2h0m-.3 .1h0m.7 0h0m-2.8 0h0m1.5 .1h0m.7 0h0m.3 0h0m-2 0h0m-.3 .1h0m1.5 .3h0m-2.2 0h0m1.4 .2h0m.3 0h0m.7 .1h0m-2 0h0m-.1 .1h0m1.5 .2h0m-1.4 0h0m.9 .2h0m-.9 .2h0m.9 0h0m1.9 .3h0m-1.8 0h0m1.2 .1h0m.9 0h0m-2 0h0m.9 .2h0m-1.3 0h0m0 .2h0m2.1 0h0m.1 .1h0m-3.2 0h0m.2 .2h0m-.1 0h0m.6 .1h0m.8 0h0m0 .1h0m1.8 0h0m-.4 0h0m-2.5 .3h0m2 .2h0m.4 0h0m-2.4 0h0m.3 0h0m2.3 .4h0m-1.7 .2h0m-.2 0h0m.7 .1h0m-1.2 .1h0m1.2 0h0m-1.8 0h0m1.5 0h0m0 0h0m-.5 .1h0m-.8 0h0m.7 .2h0m1.2 .1h0m1 0h0m-2.3 0h0m.6 .1h0m-1.4 0h0m1.4 .1h0m1.8 0h0m-3 .2h0m2.5 .1h0m-.8 .1h0m-1.1 0h0m-.8 0h0m1.7 .1h0m.3 .1h0m-1.3 .1h0m0 .1h0m-.4 .1h0m2.1 .2h0m-.4 .1h0m-.3 0h0m-1.6 .1h0m.5 .2h0m.6 0h0m1.1 0h0m-1.7 0h0m1.1 .2h0m1.4 0h0m-1.7 .1h0m.5 .5h0m-1.5 0h0m2.4 .1h0m-.6 0h0m.4 .1h0m-2.1 0h0m.8 .1h0m.4 0h0m.2 0h0m-1.3 0h0m1.8 .3h0m-1.9 .1h0m.3 .1h0m.6 0h0m1.5 .3h0m-2.3 0h0m-.1 0h0m2.3 .2h0m-.7 .1h0m.2 0h0m-.2 .1h0m-1.7 .2h0m.8 .8h0m.7 0h0m.4 .1h0m-.2 .1h0m-1 .1h0m-.2 .1h0m1.5 .1h0m-1.6 .1h0m.4 .2h0m-.1 .1h0m.1 .2h0m.4 .2h0" stroke="#00be67" stroke-width="1.00" stroke-linecap="round" fill="none" opacity="0.85"/>
<path d="M578.7 245.1h0m.1 1.3h0m-.1 .2h0m.2 .9h0m3.4-3.1h0m-2.6 .1h0m3.1 0h0m-3.2 .1h0m-.5 0h0m3.8 .6h0m.6 0h0m-.8 .1h0m-1 .1h0m-2.5 .2h0m.8 .2h0m1.3 0h0m1.9 0h0m.6 0h0m-1.7 .1h0m-2.5 .1h0m3.6 .2h0m-2.9 .1h0m.6 0h0m-.4 .3h0m-.4 .1h0m2.3 .1h0m-3 .1h0m2.3 .2h0m2.1 0h0m-4.6 .3h0m3.6 0h0m.1 0h0m-3 0h0m1.1 .3h0m.3 .5h0m.8 .2h0m-2.3 .2h0m.7 .1h0m1.5 0h0m.3 0h0" stroke="#00be67" stroke-width="0.90" stroke-linecap="round" fill="none" opacity="0.7"/>
<text x="0" y="0" transform="translate(372.8,412.3) rotate(-90)" font-size="8.6" text-anchor="middle" font-weight="bold" fill="#222">Component 2</text>
<text x="539.4" y="542.5" font-size="8.6" text-anchor="middle" font-weight="bold" fill="#222">Component 1</text>
<line x1="389.5" y1="305.8" x2="389.5" y2="348.6" stroke="#3a3a3a" stroke-width="0.8"/>
<line x1="387.7" y1="313.5" x2="389.5" y2="313.5" stroke="#3a3a3a" stroke-width="0.7"/>
<text x="386.5" y="316.2" font-size="7.6" text-anchor="end" fill="#333">3</text>
<line x1="387.7" y1="324.6" x2="389.5" y2="324.6" stroke="#3a3a3a" stroke-width="0.7"/>
<text x="386.5" y="327.3" font-size="7.6" text-anchor="end" fill="#333">0</text>
<line x1="387.7" y1="335.7" x2="389.5" y2="335.7" stroke="#3a3a3a" stroke-width="0.7"/>
<text x="386.5" y="338.4" font-size="7.6" text-anchor="end" fill="#333">−3</text>
<line x1="387.7" y1="346.8" x2="389.5" y2="346.8" stroke="#3a3a3a" stroke-width="0.7"/>
<text x="386.5" y="349.5" font-size="7.6" text-anchor="end" fill="#333">−6</text>
<text x="462.8" y="306.4" font-size="8.6" text-anchor="middle" fill="#222">C0</text>
<path d="M396.4 319.6h0m-.5 .4h0m-.3 .5h0m1.3 .1h0m-1.6 .2h0m-.2 .1h0m0 0h0m.4 0h0m.3 .1h0m-.3 0h0m-.5 .1h0m-.1 0h0m.1 .1h0m-.1 .1h0m0 0h0m.6 0h0m.4 .1h0m.7 0h0m-1.7 .1h0m.4 0h0m1.6 .1h0m-1.5 0h0m.3 0h0m-.6 .1h0m1.1 0h0m-1.1 0h0m-.4 .1h0m0 0h0m.2 .1h0m.6 0h0m1.9 .1h0m-2 0h0m3.6 .1h0m-4.3 .1h0m2.5 0h0m-.9 .1h0m-1 .1h0m1.3 0h0m.3 .1h0m-2.4 .1h0m.8 0h0m-.3 0h0m1.2 .1h0m2 .1h0m-3.7 0h0m.4 0h0m-.4 0h0m.1 0h0m4.1 .1h0m-4.3 0h0m-.1 .2h0m1.8 0h0m2.1 .3h0m-1.8 .1h0m1.1 0h0m-1.1 .1h0m-2.3 .1h0m1 .1h0m.8 .3h0m3.2-2.8h0m1.9 .3h0m.8 .4h0m-2.3 .1h0m.4 .5h0m3.6 0h0m.6 .4h0m-2.4 0h0m-1.2 .3h0m2.5 .3h0m-.4 0h0m-3.4 0h0m4.6 .1h0m-2.7 0h0m.5 .1h0m1.6 0h0m.9 .2h0m-1.4 .2h0m0 0h0m-.1 .1h0m-.5 0h0m1.4 .5h0m-1.7 0h0m1.7 .3h0m1.4 .1h0m-.8 0h0m-1 .1h0m.6 .3h0m-.4 0h0m2.2-2.3h0m1.5 .5h0m2.2 .5h0m-3.7 0h0m2.7 .1h0m-.7 .1h0m-2.3 .1h0m0 .1h0m3.9 .2h0m-.8 .1h0m.5 0h0m-2.3 0h0m.8 .1h0m2.6 .1h0m-.3 .1h0m.6 0h0m-1.9 .1h0m-3.2 .1h0m5.6 .1h0m-3.5 1.3h0m7.1-1.5h0m-2.6 .3h0m1.3 .1h0m-1 .5h0m4.6 .1h0m-3.6 .4h0m1.6 .2h0m1.5 0h0m-4.3 0h0m1.6 0h0m1.4 0h0m-2.2 .1h0m.4 .5h0m2.4 .1h0m.5 0h0m0 .1h0m-4.1 .1h0m3.1 0h0m-3.4 .1h0m3.4 .2h0m.4 .1h0m1 .5h0m-.2 .1h0m-.2 .7h0m1.8-3.6h0m.3 .4h0m-1 .2h0m.2 1.3h0m.8 .4h0m4.1 0h0m-1.8 .1h0m-3.3 .2h0m4.2 .1h0m-3.2 0h0m.2 0h0m2.5 .1h0m1.7 .5h0m-2.7 .3h0m-.5 .1h0m2.9 0h0m-.8 .1h0m0 .6h0m1.1 .3h0m1.4-2.4h0m3.6 .7h0m-4 .2h0m2.2 0h0m-2.2 .1h0m.3 0h0m-.6 .2h0m5.2 .3h0m-5 .1h0m2.7 0h0m-1.2 .3h0m-.9 .2h0m5 .1h0m-1.9 .2h0m-1.3 .1h0m-1.5 .1h0m2.8 0h0m-1.1 .2h0m.2 1h0m2.1 0h0m3.4-2.2h0m1.7 .4h0m1.7 .6h0m0 .1h0m-4.6 .2h0m-.1 .1h0m-1.3 .3h0m3.4 .4h0m1.6 0h0m.5 .4h0m-5.3 .3h0m5.6 .4h0m-.6 .1h0m-.2 0h0m.8 .1h0m6.1-3.2h0m-4.2 .7h0m.3 .1h0m3.4 .2h0m-.8 .5h0m-1.3 .5h0m1.5 .2h0m-3.9 .6h0m4.6 .1h0m-3.5 0h0m1.4 .1h0m-1 0h0m3.2 .4h0m.1 .2h0m-.7 .1h0m-.5 .2h0m-3 .1h0m5.3-1.6h0m1 .4h0m.7 .3h0m-2.2 .2h0m0 .1h0m4.6 0h0m-4.4 .4h0m1.9 .1h0m2.3 .1h0m-4.7 .3h0m.2 .2h0m4.4 .3h0m.9 .1h0m0 .3h0m1-2.7h0m4.2 .4h0m-.6 1.3h0m-3 0h0m-.2 .1h0m2.4 .3h0m1.2 .3h0m-1.5 .2h0m-1.7 0h0m.5 .2h0m1.1 0h0m1.8 .1h0m-2.9 1.1h0" stroke="#f8766d" stroke-width="1.10" stroke-linecap="round" fill="none" opacity="0.9"/>
<path d="M394.6 322.0 Q434.9 335.0 469.4 337.6 L514.6 336.0 C519.4 333.5 521.7 323.5 521.1 310.5" stroke="#1a1a1a" stroke-width="0.75" fill="none"/>
<circle cx="469.4" cy="337.6" r="3" fill="#111"/>
<text x="469.4" y="338.8" font-size="3.5" text-anchor="middle" fill="#fff" style="stroke:none">2</text>
<circle cx="514.6" cy="336" r="3" fill="#111"/>
<text x="514.6" y="337.2" font-size="3.5" text-anchor="middle" fill="#fff" style="stroke:none">1</text>
<line x1="535.5" y1="305.8" x2="535.5" y2="348.6" stroke="#3a3a3a" stroke-width="0.8"/>
<line x1="533.7" y1="313.5" x2="535.5" y2="313.5" stroke="#3a3a3a" stroke-width="0.7"/>
<line x1="533.7" y1="324.6" x2="535.5" y2="324.6" stroke="#3a3a3a" stroke-width="0.7"/>
<line x1="533.7" y1="335.7" x2="535.5" y2="335.7" stroke="#3a3a3a" stroke-width="0.7"/>
<line x1="533.7" y1="346.8" x2="535.5" y2="346.8" stroke="#3a3a3a" stroke-width="0.7"/>
<text x="608.8" y="306.4" font-size="8.6" text-anchor="middle" fill="#222">C1</text>
<path d="M541.6 319.3h0m-.1 .2h0m.4 .6h0m.9 0h0m-1.3 .2h0m.9 .1h0m.1 .1h0m-.4 0h0m0 .1h0m-.4 0h0m-.1 0h0m-.3 .1h0m0 .1h0m1 .2h0m.6 0h0m-.6 .1h0m.1 0h0m.5 .2h0m-1.9 .1h0m1.3 .2h0m-.4 .1h0m.6 0h0m-1.2 0h0m1.3 .1h0m-1.3 .2h0m-.2 0h0m.9 0h0m-.1 0h0m-.1 .1h0m-.1 .1h0m-.9 0h0m2 .1h0m-.6 0h0m-.5 .1h0m0 .1h0m-.9 0h0m-.2 0h0m1.8 0h0m0 .1h0m-.8 .1h0m.6 .2h0m-1.6 0h0m1.5 .1h0m.3 0h0m-.8 .1h0m-.9 .1h0m1.5 .2h0m-.4 .2h0m.7 .3h0m-1.8 0h0m1.8 .1h0m.3 .2h0m.6-5.3h0m1.7 .3h0m.3 .8h0m-1 .6h0m-1.3 .1h0m.5 0h0m1.8 .2h0m-1.4 .4h0m3 .2h0m-.6 0h0m2.5 .2h0m-3.7 .1h0m1.4 .1h0m-3 .1h0m.5 0h0m.7 .1h0m-.7 0h0m-.8 0h0m4.7 .1h0m-2.8 .1h0m-1 0h0m1.2 0h0m-.7 .1h0m-.6 0h0m3.5 0h0m-4.3 .1h0m5.4 0h0m-4.7 0h0m1 0h0m-1.9 0h0m.5 .1h0m1.7 .1h0m-1.3 .1h0m3.3 0h0m.4 0h0m-2.6 .1h0m1.3 0h0m-.5 0h0m2.3 0h0m-3.7 0h0m-1 .1h0m.5 0h0m.4 0h0m-.2 .1h0m2.6 0h0m-.9 0h0m2.4 .1h0m.3 .1h0m-.9 .1h0m.1 .2h0m.6 0h0m-1.7 0h0m-1.4 .1h0m.7 0h0m2.5 .1h0m-5.3 .1h0m2.5 0h0m-.9 .1h0m.1 0h0m-.8 0h0m.5 0h0m-.4 .1h0m2.3 .1h0m.6 0h0m-1 .1h0m-1.8 0h0m2 0h0m.7 .1h0m-1.4 .1h0m-.3 .1h0m.2 .1h0m.4 .2h0m2.1 .1h0m-.6 .1h0m-4.1 .2h0m4.9 .9h0m-.6 .3h0m1.2 0h0m-.2 .2h0m-.4 .7h0m4.4-6.2h0m1.8 .6h0m-5.4 .3h0m3 .1h0m-2.5 0h0m0 .1h0m.4 .3h0m1.2 .1h0m.4 0h0m-.7 .3h0m-1.5 .2h0m-.1 .1h0m-.1 0h0m4.1 0h0m-.8 .3h0m-3.1 .1h0m1.8 .2h0m2.1 0h0m-1 0h0m-2.6 0h0m1.3 .1h0m.9 0h0m-.6 0h0m-.1 .1h0m3.9 .1h0m-2 0h0m-.3 0h0m-1.5 .1h0m2.3 0h0m-1.2 .1h0m-1.2 0h0m2.3 0h0m-1.5 0h0m-.5 .1h0m1.5 .1h0m-2.7 0h0m.9 .1h0m-1.8 0h0m2.3 .2h0m-.9 0h0m.5 0h0m.6 0h0m0 0h0m-.3 0h0m.6 .2h0m1.9 0h0m-4.7 0h0m.1 0h0m-.1 .1h0m5 0h0m-2.2 .1h0m1.3 0h0m1.1 .1h0m-4.8 0h0m2.5 0h0m-2.4 0h0m3.8 0h0m-3.5 .1h0m.3 0h0m3.9 .1h0m-2.2 0h0m-1.7 .1h0m4 0h0m-.4 0h0m-1.8 0h0m-2.2 0h0m4.8 .2h0m-.9 0h0m-1.3 0h0m1.9 .2h0m-1 0h0m-.4 .2h0m-3.9 0h0m-.2 .2h0m4.9 .1h0m-2.5 0h0m2.6 0h0m-.1 .1h0m-.9 0h0m1.8 .1h0m-.4 .2h0m-2.7 .1h0m2.9 .2h0m-.6 .1h0m0 .1h0m-2.1 .5h0m3 .1h0m-.4 .4h0m1.3-5.4h0m-.1 .4h0m3 .8h0m-3.5 0h0m.1 .2h0m3 0h0m-1 0h0m1.3 .3h0m.1 0h0m-2.1 .1h0m1 .2h0m.4 .2h0m-.5 .1h0m-.6 .1h0m3 0h0m-2.7 .1h0m2.3 0h0m.6 0h0m-3 0h0m-1.6 .1h0m3.6 .1h0m-2 0h0m-1.4 .1h0m-.3 .1h0m5.3 0h0m-2.5 0h0m.4 .1h0m-.1 .1h0m.4 .1h0m1.3 0h0m.5 .1h0m-4.2 .1h0m3.2 .1h0m-.5 0h0m-1.1 .1h0m2.8 0h0m-5.1 0h0m4.4 .1h0m-2.3 0h0m2.6 .1h0m-2.4 0h0m-2.5 .1h0m2.8 0h0m-1.9 0h0m.5 .1h0m-1.2 .1h0m.6 0h0m4.3 0h0m-.5 .1h0m-2.2 .1h0m1.7 0h0m-4.2 .1h0m1.8 0h0m2.7 0h0m-1.1 .1h0m-1.9 0h0m-1.2 .1h0m4.4 .1h0m-4.9 0h0m1.3 .1h0m2.8 .1h0m1.3 .1h0m-.8 0h0m.8 .2h0m-2.4 .1h0m-2.6 .1h0m4.6 .2h0m.6 0h0m-.2 .3h0m-1.3 .1h0m-3.4 .4h0m-.5 .1h0m3.5 .1h0m3.5-4.1h0m2.5 .2h0m-1.1 .1h0m-1.1 .1h0m2.4 .1h0m1.2 .2h0m-5.2 0h0m.5 .3h0m1.3 .1h0m2 .1h0m1.1 .1h0m-.8 0h0m-3.3 .1h0m1.3 0h0m1.3 0h0m-2.8 0h0m-.7 .1h0m3.9 0h0m-1.7 0h0m.6 .2h0m2.6 0h0m-3 .1h0m-2.4 .1h0m5.4 .1h0m-.4 0h0m-5.1 .2h0m5.6 0h0m-5.1 .1h0m1.8 0h0m1.4 0h0m-1.8 0h0m-.5 .1h0m0 0h0m4.3 0h0m-5.7 0h0m4.4 0h0m-2.8 .1h0m1 0h0m-.7 .2h0m4.1 0h0m-2.3 .1h0m.2 .1h0m-.5 0h0m2.5 .1h0m-2.1 0h0m1.4 0h0m.4 0h0m-4.7 .1h0m4.1 0h0m-5 0h0m5.6 0h0m-3.4 .1h0m1.3 .1h0m1.4 .4h0m-2.7 0h0m-1.3 0h0m3.8 .2h0m-4.6 0h0m5.9 .1h0m-1.3 0h0m-2.3 .1h0m1.9 0h0m.4 0h0m-2.5 .1h0m2.3 .1h0m-1.9 .1h0m3.4 0h0m-2.4 .3h0m1.8 .3h0m-3.3 .1h0m2 0h0m1.7 .3h0m-.1 .5h0m.6-5.1h0m2.1 .3h0m-.2 .7h0m.6 .4h0m-.5 .4h0m1.4 .1h0m-3.1 .1h0m-.3 0h0m.5 .4h0m2.5 .1h0m-1.4 0h0m2.3 .2h0m-3.4 0h0m2 .1h0m-2.5 .1h0m.3 0h0m1.6 0h0m1.8 .1h0m-2.7 .1h0m3.6 0h0m-2.1 .1h0m.7 .2h0m-2.7 .1h0m4.8 0h0m-3.9 0h0m0 0h0m.2 .1h0m1.8 .1h0m-1.9 .1h0m3.2 0h0m-4.8 .5h0m5.6 .1h0m-4.2 0h0m1.6 .2h0m1.1 .3h0m-.4 .3h0m1.7 .2h0m-.9 .1h0m.6 .5h0m.5 0h0m-2.2 .1h0m1 .7h0m5.1-5.2h0m-1.2 .5h0m.6 .6h0m1 0h0m0 .1h0m.3 .2h0m-2.1 0h0m.3 0h0m-.6 .1h0m0 .1h0m-.6 0h0m4.6 .1h0m-3.9 0h0m-1.3 0h0m1.2 .1h0m-1.6 .4h0m1.2 0h0m-1.2 0h0m1.1 .1h0m-.1 0h0m4.4 .1h0m-5.6 0h0m3.1 .1h0m-1.5 0h0m-.6 0h0m.2 0h0m-.2 .1h0m.9 0h0m-.8 .1h0m-.4 0h0m.2 0h0m.6 .1h0m2.7 .1h0m-2.5 .1h0m-.9 .1h0m-.8 0h0m2.6 0h0m-2.1 .1h0m4.2 .2h0m-4.6 0h0m4.6 .4h0m-3.8 .1h0m1.6 0h0m2.1 .3h0m-1.4 0h0m-.5 .2h0m-2.8 0h0m4.3 .2h0m-3.6 0h0m-.3 0h0m4.7 0h0m-3.4 .4h0m-.5 .1h0m2.9 .6h0m.7 .4h0m1.4-4.8h0m.3 .1h0m1.1 .7h0m-1.2 .1h0m.9 .1h0m.8 .4h0m2.6 .4h0m-3 .3h0m4 .2h0m-4.2 0h0m1.7 .1h0m.5 0h0m1.6 .1h0m-2.5 .1h0m-.7 0h0m2.8 .1h0m.5 0h0m-4.7 0h0m.7 .1h0m-.6 .1h0m.2 0h0m2.2 .1h0m-2.6 0h0m.7 .1h0m.6 .1h0m2 .4h0m1.1 0h0m-4.6 .2h0m4.1 0h0m-1.9 .4h0m2.8 .1h0m-3.1 .1h0m2.3 0h0m-2.4 .1h0m.6 0h0m.8 .1h0m-.7 .6h0m2.4 .4h0m-1 .4h0m5.8-5.8h0m-4.2 1.1h0m4.9 .3h0m.1 0h0m-1.4 .1h0m-3 .2h0m5.2 .1h0m-5.3 .1h0m3.3 0h0m-1.4 .2h0m3.6 .6h0m-1.2 0h0m-2.8 .1h0m3.6 0h0m-3.7 0h0m-.7 0h0m-.2 0h0m1 .1h0m3.7 0h0m-2.6 .2h0m1.5 0h0m-4 .1h0m3.5 0h0m-1.6 .1h0m-.5 0h0m-.4 .1h0m1 .2h0m-.1 0h0m-2.3 .1h0m4.8 0h0m-1.7 .1h0m-.6 0h0m-.7 0h0m-.2 .1h0m-.8 .1h0m-.8 .1h0m.4 0h0m4.7 0h0m-1.6 .1h0m-1.2 0h0m-.3 .1h0m-.6 .1h0m1.5 0h0m2.8 .1h0m-3.6 .1h0m2.3 .2h0m.8 .2h0m-1.9 .1h0m2.1 0h0m-2 .1h0m.5 .7h0m-2.4 .2h0m1.5 .1h0m1 .4h0m1.2 .1h0m3.9-5.6h0m-3 .6h0m2.8 .8h0m-2.6 .8h0m.6 0h0m3.3 .2h0m-.2 0h0m-1.2 0h0m-2.9 0h0m2.2 .1h0m-.4 0h0m-.3 .1h0m-.4 0h0m2.6 .1h0m-3 .1h0m3.2 .1h0m.8 .2h0m-4.3 0h0m-.1 0h0m1.6 .2h0m3.2 .1h0m-4.3 .2h0m1.8 0h0m-1.1 .1h0m-1.4 0h0m2.3 0h0m.9 .1h0m.1 .1h0m0 .1h0m-1.8 0h0m.8 .1h0m3.2 .1h0m-4.7 .1h0m3.9 0h0m-3.9 .1h0m2.6 0h0m-1.2 0h0m2.3 .1h0m-4.3 .2h0m.9 0h0m3.4 .2h0m-2.8 .7h0m2.2 0h0m-1.6 .1h0m.4 .1h0m-1.5 .9h0m1.6 .1h0m-.4 .4h0m6.6-4.7h0m-2.4 .2h0m2.5 0h0m-1.3 .2h0m.3 0h0m-.1 0h0m2.6 .3h0m-4.7 .2h0m1.4 .1h0m2.3 .1h0m-2.7 .4h0m4.1 .1h0m-2.1 .1h0m-.6 0h0m-.5 .2h0m.9 .1h0m-2.1 .1h0m-.7 0h0m.1 .1h0m4.3 .1h0m.5 0h0m-.8 0h0m1.1 .1h0m-5.2 .1h0m2.8 0h0m-2.2 .1h0m2.2 .2h0m1.7 .1h0m-2.2 0h0m-2 0h0m4.1 0h0m1.5 .1h0m-3.2 0h0m-1.7 .2h0m3.6 .1h0m-3.5 0h0m.9 0h0m2.8 .2h0m-2.1 0h0m.8 .1h0m1.2 0h0m.8 .2h0m-3.1 .4h0m-1.8 .3h0m2.4 .2h0m2.2 1.2h0m.8-5h0m3.9 0h0m-2 .3h0m2.6 .1h0m-.3 .1h0m-1.6 .2h0m-2.1 .2h0m5.3 0h0m-1 0h0m-3.1 .1h0m-.7 0h0m4.6 0h0m-3.9 .1h0m.5 .1h0m3 .5h0m-3.9 .1h0m-.9 0h0m2.1 .1h0m-2.3 0h0m.7 0h0m.3 0h0m.3 0h0m1.2 .2h0m-1.4 0h0m-1.2 .6h0m.8 .1h0m1.1 .1h0m-1.4 0h0m2.7 .1h0m.6 0h0m1.7 .3h0m-2.9 .1h0m0 .3h0m-1.7 .4h0m4.1 .3h0m-1.9 .8h0m.2 .8h0m3.4-5.5h0m-.7 .1h0m.6 0h0m.2 .2h0m-.5 .3h0m.2 .4h0m-.1 .6h0m-.2 .3h0m.3 .5h0m-.2 0h0m.2 1.2h0m-.2 .4h0" stroke="#d39200" stroke-width="1.30" stroke-linecap="round" fill="none" opacity="0.95"/>
<path d="M667.9 308.6h0m-.5 .5h0m.7 .5h0m-.6 .3h0m1 .3h0m.4 .4h0m-.7 0h0m-.2 .2h0m0 0h0m.9 .1h0m0 .1h0m-.8 0h0m.8 .2h0m-1.8 0h0m1.6 .3h0m-.9 0h0m-.2 .3h0m-1.8 .1h0m.7 .1h0m2.2 .6h0m-.1 .2h0m-1.2 .1h0m.6 .1h0m-2.6 .1h0m1.8 .3h0m.8 .3h0m-.4 .2h0m1.3 .9h0m-2.6 0h0m2.4 .4h0m-.1 .3h0m-.6 .1h0m0 .2h0m-2.2 0h0m3 .1h0m-.4 .1h0m-.5 .2h0m.8 .1h0m-1.7 .1h0m0 0h0m0 .2h0m1 0h0m.8 .2h0m-1.9 0h0m.2 0h0m1.1 .1h0m-.1 .2h0m.5 .5h0m-.9 .1h0m.4 0h0m-2.7 .1h0m1.2 0h0m1.6 .2h0m.1 .2h0m-4.2 .2h0m4.4 .2h0m-1.5 .1h0m1.4 .2h0m.1 0h0m-.9 .1h0m-.4 .2h0m-.2 .2h0m1.9 .1h0m-.6 .1h0m-1.2 0h0m1.8 .2h0m-2.6 .1h0m-1.4 .1h0m3.7 .1h0m-1.5 0h0m.1 .1h0m.5 .3h0m-.4 .1h0m.1 .1h0m-2.3 .2h0m3 0h0m-.7 .3h0m.8 0h0m.3 0h0m-.3 0h0m-.1 .2h0m0 .5h0m.1 0h0m.7 0h0m0 .4h0m-.4 0h0m-.1 .1h0m-1.3 .2h0m1.3 .1h0m.4 0h0m-2.6 .2h0m1.7 .1h0m.5 0h0m-1.1 .3h0m1.1 0h0m-.3 .1h0m-.4 .3h0m-.5 .2h0m.9 0h0m.2 0h0m-.6 0h0m-.4 .1h0m.1 0h0m-.5 0h0m1.7 0h0m-1.8 .1h0m1.3 .1h0m.6 .2h0m.2 0h0m-2.5 .1h0m1.7 0h0m0 .1h0m.2 0h0m-1.2 .1h0m-.1 0h0m1.5 0h0m-1.1 .1h0m.4 .1h0m.7 .1h0m-.4 .3h0m-.2 0h0m.7 0h0m-.3 .1h0m-.1 .3h0m-.1 .2h0m-.8 0h0m1.5 0h0m-1.5 .4h0m-1 .1h0m1.9 .1h0m-2.4 .1h0m.7 .1h0m2.1 0h0m-.6 .1h0m.8 0h0m-1.9 0h0m-1.1 0h0m2.3 .3h0m.4 0h0m-.9 .2h0m1.3 .1h0m-1 0h0m-2.8 .2h0m1.1 .2h0m2.6 .2h0m-.5 0h0m-2.1 0h0m1.3 .3h0m0 .2h0m1.1 .1h0m-.5 0h0m0 0h0m.4 .1h0m-3 .1h0m2.5 0h0m-2 0h0m.9 0h0m.6 .1h0m-.1 0h0m-1.7 .1h0m1.1 .1h0m.9 .2h0m-.4 0h0m.7 0h0m-.9 .2h0m-.5 0h0m-1.5 .3h0m.5 .1h0m.9 0h0m-1 .1h0m1.8 0h0m-1.3 .1h0m2.9 .1h0m-1.2 .1h0m-2.3 0h0m.9 .1h0m.5 .1h0m1.6 .3h0m-.1 0h0m-1.7 0h0m.4 0h0m-.6 .1h0m.6 0h0m1.4 .1h0m-1.3 0h0m-.2 0h0m-2.1 0h0m3.2 .2h0m.1 0h0m-1.2 0h0m.6 0h0m-.7 .1h0m-1.6 .1h0m3 .3h0m-1.7 .2h0m-.5 .1h0m.3 0h0m-.5 0h0m1 0h0m1.8 .1h0m-2.1 .3h0m1.6 0h0m-2.7 .2h0m1.6 .1h0m0 0h0m.3 .1h0m.7 .2h0m-.6 0h0m-1.7 .1h0m-.5 0h0m-.5 0h0m3.8 0h0m-.3 .1h0m-.9 .1h0m-.1 .1h0m.1 0h0m-3.5 .1h0m5 .1h0m-.6 0h0m-.9 0h0m-.2 0h0m.4 .3h0m1.2 .1h0m-1.3 0h0m-.1 .1h0m.3 0h0m.1 .1h0m-.2 0h0m.7 0h0m-2.5 .1h0m2 0h0m-1.9 0h0m3.1 .1h0m-.6 0h0m-.4 .1h0m-.2 .1h0m-.9 0h0m-2.3 0h0m3.5 .2h0m-2.8 .4h0m2 .1h0m-3.2 0h0m2.2 0h0m1.4 .2h0m-.4 .2h0m1.1 0h0m-1 0h0m1 0h0m.5 .1h0m.5-27.3h0m1.1 0h0m1.6 .1h0m-3 .1h0m3.4 0h0m-.3 .1h0m.1 .3h0m-1.5 .2h0m-1.6 .1h0m2.7 .1h0m-1.1 .2h0m.6 0h0m-1.7 .2h0m-.5 0h0m.3 0h0m1 0h0m-.6 .2h0m.8 0h0m-1.1 .2h0m.3 .1h0m.3 .3h0m-.3 0h0m.7 0h0m.8 0h0m-1.4 .1h0m.8 .2h0m0 .1h0m-1 .2h0m.4 .2h0m-1.1 .1h0m1.4 .1h0m.2 .2h0m-1.1 .2h0m.8 0h0m-.9 .2h0m.2 .2h0m.2 0h0m.8 .2h0m-1.6 .1h0m.8 .1h0m2.5 0h0m-1.4 .1h0m-1.8 .2h0m.9 0h0m-.9 .1h0m2.1 .1h0m-1.6 0h0m.3 0h0m-.8 .1h0m.1 .1h0m.2 0h0m1.6 0h0m-1.2 0h0m-.7 .3h0m.9 .2h0m-.4 0h0m-.2 0h0m.2 .2h0m2.3 0h0m-1.6 .2h0m-.3 .2h0m-.7 0h0m.8 .2h0m.5 0h0m1.2 .2h0m1.9 .2h0m-2.3 0h0m.3 .1h0m-1.8 0h0m-.2 0h0m1.5 .3h0m-2.1 .3h0m.6 0h0m-.3 .1h0m1 .1h0m-.6 .1h0m-.5 .1h0m1.5 .1h0m-1.3 .1h0m1.8 .1h0m-2 .1h0m-.1 .3h0m.8 .2h0m-.6 0h0m1.6 .1h0m-1.4 .1h0m2.1 0h0m-1.8 .2h0m.1 .1h0m-.6 0h0m1.9 .1h0m-1.9 .3h0m1.4 .2h0m-1.2 .1h0m0 .1h0m.5 .1h0m-.9 0h0m1.3 0h0m-.8 .2h0m-.7 .3h0m3.1 .3h0m-.6 .3h0m-2.1 .1h0m.8 .1h0m-1 0h0m0 .3h0m2 .1h0m.7 .1h0m-.1 .3h0m-2.7 .2h0m1.5 .2h0m0 .1h0m-1 .1h0m-.1 .1h0m-.5 .1h0m0 0h0m1.1 .3h0m1.4 .3h0m-2.2 .1h0m.8 .2h0m-.5 .1h0m1.4 0h0m-1.5 .2h0m.5 .3h0m.3 .1h0m-1.3 .3h0m.5 0h0m.1 .1h0m.3 .1h0m.5 0h0m-.9 .2h0m.2 0h0m.3 .3h0m.5 0h0m.1 0h0m-.3 .3h0m-.1 .1h0m1.1 .2h0m0 .1h0m-2.3 .1h0m1.8 .5h0m-1.4 .1h0m-.1 .4h0m.5 .2h0m.9 .1h0m-1.6 .4h0m.2 .2h0m1.7 .1h0m-.4 .2h0m-.5 0h0m-.4 .3h0m-.2 .3h0m-.4 .1h0m1.4 .2h0m-1.4 .1h0m2.2 0h0m-.7 .5h0m-.9 .2h0m1.7 .1h0m-1.6 0h0m.8 .3h0m-.2 .1h0m-1.4 .5h0m1.6 .4h0m-.2 .1h0m-.6 .1h0m-.8 .5h0m.4 1.7h0m1.4 .9h0m-1.1 .4h0m-.7 1.3h0" stroke="#d39200" stroke-width="1.30" stroke-linecap="round" fill="none" opacity="0.95"/>
<path d="M672.1 337.9h0m.1 .1h0m-1 0h0m.7 .1h0m.2 0h0m0 .1h0m.8 0h0m-1 0h0m-1.1 .1h0m.9 .1h0m-1.4 0h0m1.6 0h0m.3 0h0m-.1 .1h0m1 0h0m-1.6 .2h0m.9 0h0m-.1 0h0m-.8 .1h0m.2 0h0m-.2 0h0m1.4 0h0m-.6 0h0m-1.7 0h0m-.1 .1h0m.9 .1h0m-.9 0h0m1.6 .1h0m-1.2 0h0m-.2 0h0m.2 0h0m.4 .1h0m2.1 0h0m-.9 .1h0m-2.3 .1h0m3.1 .1h0m-3.3 0h0m2 .1h0m.6 0h0m-2.2 .1h0m1.5 .1h0m1.6 .1h0m-2.3 .1h0m-.5 0h0m2 0h0m-1.9 0h0m-.3 .1h0m.9 .1h0m1.7 0h0m-2.2 .1h0m.9 .1h0m-1.5 0h0m1.1 .2h0m.7 .1h0m-.4 .1h0m-.4 0h0m-.6 0h0m1.6 .1h0m-.2 .1h0m.3 0h0" stroke="#d39200" stroke-width="1.20" stroke-linecap="round" fill="none" opacity="1.0"/>
<path d="M620.6 335.3h0m-.5 .4h0m-4 1h0m.5 .3h0m2.3 .8h0m-.4 .1h0m.2 .3h0m.7 .6h0m-.6 .5h0m2.6-3.5h0m4.5 1h0m-3.5 .5h0m.7 .1h0m1.5 0h0m-1.3 .1h0m-.8 .1h0m1.8 .2h0m1.3 .3h0m-.8 .2h0m3.4-2.1h0m3.2 .6h0m-2.6 0h0m1.3 .9h0m1.2 1.2h0m-2 1.2h0" stroke="#d39200" stroke-width="1.00" stroke-linecap="round" fill="none" opacity="1.0"/>
<path d="M540.6 322.0 Q580.9 335.0 615.4 337.6 L660.6 336.0 C665.4 333.5 667.7 323.5 667.1 310.5" stroke="#1a1a1a" stroke-width="0.75" fill="none"/>
<circle cx="615.4" cy="337.6" r="3" fill="#111"/>
<text x="615.4" y="338.8" font-size="3.5" text-anchor="middle" fill="#fff" style="stroke:none">2</text>
<circle cx="660.6" cy="336" r="3" fill="#111"/>
<text x="660.6" y="337.2" font-size="3.5" text-anchor="middle" fill="#fff" style="stroke:none">1</text>
<line x1="389.5" y1="363.2" x2="389.5" y2="406" stroke="#3a3a3a" stroke-width="0.8"/>
<line x1="387.7" y1="370.9" x2="389.5" y2="370.9" stroke="#3a3a3a" stroke-width="0.7"/>
<text x="386.5" y="373.6" font-size="7.6" text-anchor="end" fill="#333">3</text>
<line x1="387.7" y1="382" x2="389.5" y2="382" stroke="#3a3a3a" stroke-width="0.7"/>
<text x="386.5" y="384.7" font-size="7.6" text-anchor="end" fill="#333">0</text>
<line x1="387.7" y1="393.1" x2="389.5" y2="393.1" stroke="#3a3a3a" stroke-width="0.7"/>
<text x="386.5" y="395.8" font-size="7.6" text-anchor="end" fill="#333">−3</text>
<line x1="387.7" y1="404.2" x2="389.5" y2="404.2" stroke="#3a3a3a" stroke-width="0.7"/>
<text x="386.5" y="406.9" font-size="7.6" text-anchor="end" fill="#333">−6</text>
<text x="462.8" y="363.8" font-size="8.6" text-anchor="middle" fill="#222">C2</text>
<path d="M397.8 376.3h0m-1.7 .1h0m2.4 .1h0m-1.7 .2h0m-1.2 0h0m.8 .2h0m.6 .4h0m-.6 0h0m1.3 0h0m-1.8 .3h0m.7 .1h0m-.9 0h0m-.1 0h0m1.1 .1h0m-.7 .1h0m-.8 0h0m.6 0h0m-.7 .2h0m.3 0h0m3.3 0h0m-2.1 .1h0m1.5 .1h0m-1.3 0h0m-1.8 .1h0m0 0h0m3 0h0m-.1 0h0m-1.6 .1h0m-.2 0h0m-.9 .1h0m1.1 0h0m-.9 0h0m-.5 .1h0m1.5 0h0m.7 0h0m-1.9 0h0m2.3 .1h0m-.8 0h0m-1.3 0h0m-.1 .1h0m.2 .1h0m.5 0h0m.5 0h0m.1 0h0m-1.5 0h0m1.8 0h0m-2.2 .1h0m2.9 0h0m-1 0h0m-1.1 0h0m-.1 0h0m1.5 0h0m-2 .1h0m.4 0h0m3.6 .1h0m-3.9 .1h0m1.7 .1h0m1.7 0h0m-3.8 .2h0m1.4 0h0m-1 0h0m.5 .1h0m2.5 0h0m-2.3 0h0m-.2 0h0m.9 0h0m-.7 0h0m1.7 .1h0m-2.9 .1h0m.6 0h0m.4 .2h0m2 0h0m-.3 0h0m-1.5 0h0m-1.2 .1h0m2.6 0h0m-.2 0h0m1.5 .1h0m-3.4 0h0m1.8 .1h0m1.9 .2h0m-3 0h0m-1.1 0h0m1.3 0h0m-.6 .1h0m2.4 0h0m-1.1 0h0m2.3 .1h0m-4.6 .1h0m1.8 .1h0m.5 0h0m1.4 .4h0m-3.6 0h0m0 .1h0m.7 .2h0m1.4 0h0m-2.6 .1h0m5 .6h0m-1.4 .6h0m2.6-6.1h0m.1 .3h0m2.6 0h0m-3.4 .1h0m1.1 0h0m-1.4 .1h0m.8 .1h0m2.8 .1h0m-1.4 .1h0m-1.7 .2h0m.2 .1h0m2.2 0h0m-1.9 0h0m2.9 .2h0m-3.6 .1h0m1 0h0m2.7 0h0m.8 .2h0m-2.4 .2h0m-1.7 0h0m4.7 .2h0m-4.9 .1h0m.4 .1h0m-.2 0h0m2.6 .1h0m.4 0h0m-.5 0h0m-1.1 .1h0m3.5 0h0m-3.3 0h0m1.9 .1h0m-3.2 .1h0m-.7 .1h0m2.7 .1h0m-2.4 .2h0m1.2 .1h0m3.8 0h0m-3.2 .1h0m2 .1h0m1.3 0h0m-4.4 .1h0m2.4 .1h0m-2.6 0h0m.9 0h0m1.2 .1h0m1.2 .1h0m-.1 .1h0m-4 .1h0m5 0h0m-3.4 0h0m.4 .1h0m1.3 .1h0m-1.4 0h0m.2 0h0m3.3 0h0m-5 0h0m4.8 .1h0m-1.1 0h0m-.8 .1h0m-3.3 0h0m3.7 .1h0m.3 .1h0m-3.5 0h0m3.8 .2h0m-3.1 0h0m-.8 .1h0m3.3 .1h0m1.8 0h0m0 .1h0m-1.6 0h0m-2.8 0h0m-.4 0h0m.2 .2h0m.1 .1h0m.7 .4h0m1.9 0h0m1.8 0h0m-3.1 .2h0m2.2 0h0m-.1 0h0m-2.4 .2h0m2.6 .4h0m-3.2 .3h0m3.6 0h0m-2.9 .4h0m1.4 .1h0m1.1 .3h0m-1.7 .2h0m3.1-5.8h0m.1 .5h0m.8 .2h0m-1.3 .5h0m1.6 .1h0m-1.4 0h0m1.4 .1h0m3 0h0m-.1 0h0m1.3 .1h0m-2.6 0h0m.2 .3h0m-3.1 0h0m1.5 .2h0m2 0h0m-.9 .1h0m2.2 .1h0m-1.4 0h0m-1 0h0m.8 .1h0m-2.8 0h0m3.5 0h0m-3.9 .1h0m-.3 0h0m4.2 .2h0m-2.5 0h0m4.3 0h0m-3.2 0h0m-.9 0h0m2.1 .1h0m-1.5 0h0m3.5 0h0m-6 .1h0m0 0h0m6 0h0m-3.7 .1h0m.7 .1h0m1.5 0h0m.1 0h0m-.9 .1h0m-2.1 .1h0m3.5 .1h0m-2.1 0h0m.6 0h0m-2 .1h0m-1.3 0h0m4.2 .1h0m-1.2 0h0m-3.3 .1h0m3 0h0m2.1 .1h0m-4.2 .3h0m.1 0h0m3.1 .1h0m-1.8 .1h0m3.7 .3h0m-5.6 .2h0m5.2 0h0m-1.1 0h0m-1.5 0h0m1.7 .1h0m-.8 .2h0m-2.8 .1h0m4.9 0h0m-2 0h0m1.4 0h0m-4.5 .1h0m.7 0h0m-1.2 0h0m4.1 .1h0m-2.5 .2h0m3.6 0h0m-.3 0h0m-5.2 0h0m3.2 0h0m-2.2 .1h0m3.2 .7h0m.6 .2h0m.7 0h0m-1.8 .2h0m-.4 0h0m-1.7 .2h0m1.9 0h0m2.2 .4h0m-.1 .2h0m3.1-6.4h0m-2.5 .8h0m2.7 .2h0m-.5 .2h0m-.5 .2h0m-.8 .7h0m.2 .2h0m.3 0h0m-1.2 .6h0m2 .4h0m-2.1 0h0m2.1 0h0m2.3 .1h0m-.5 .1h0m.8 .1h0m-4.4 .1h0m4.9 .2h0m-2.2 .4h0m-.4 .1h0m.6 0h0m-.9 0h0m-1.7 0h0m-.1 .1h0m1.2 .1h0m-1.5 0h0m1.8 .2h0m1.4 .1h0m-.8 0h0m2.3 0h0m-2.8 .1h0m1 0h0m-1.7 0h0m-.2 0h0m-.3 .1h0m-1 .3h0m3.9 0h0m-3.2 0h0m3.1 0h0m1.1 .1h0m.3 0h0m-1.6 .1h0m-1.7 0h0m1.4 .1h0m1.8 0h0m-.2 0h0m.3 .2h0m-2.4 0h0m1.1 0h0m1.3 0h0m-.2 .5h0m-.9 0h0m-.5 .2h0m-2.7 .2h0m3.9 0h0m-4.5 .2h0m3.8 .1h0m3.5-5.3h0m-.8 .8h0m.2 1.2h0m-.7 .3h0m.1 0h0m1.9 0h0m-2.1 .1h0m.9 0h0m4.2 .1h0m-1.4 .1h0m-2.1 .1h0m1.9 .1h0m-1.8 0h0m-1.3 .1h0m-.1 0h0m.6 .1h0m3.2 .1h0m-1.9 .1h0m-1.8 .1h0m-.6 .1h0m1.8 0h0m.1 .1h0m1.9 .2h0m-2.2 .2h0m-.8 0h0m3.9 .1h0m-3.1 .1h0m-.7 0h0m0 .1h0m3.9 0h0m-2 0h0m1.7 .1h0m-3.7 0h0m1.2 .4h0m-2.3 0h0m1.6 0h0m1.4 0h0m2.9 .2h0m-.4 .1h0m-2.2 0h0m-1.3 0h0m3 .1h0m-4.8 0h0m4.3 0h0m-2.6 .1h0m.3 0h0m3.3 0h0m-4.6 0h0m-.7 .1h0m4.8 .8h0m-1 .1h0m.6 .4h0m-3 .3h0m3.7 .3h0m-1.1 .3h0m2.7-5.3h0m-.4 .8h0m1 0h0m3.4 .5h0m-3.3 .3h0m3.1 0h0m.6 .1h0m.2 .2h0m-1.9 .2h0m-2.6 .1h0m.6 .1h0m-.8 0h0m3 .1h0m-2.4 .1h0m1 0h0m.9 .1h0m.8 .2h0m-1.8 .1h0m1 .1h0m-2.5 0h0m1.6 .3h0m-1.9 0h0m3.8 .1h0m-4.2 0h0m5.4 .1h0m-.3 .2h0m0 0h0m-2.4 .1h0m.2 .1h0m1.4 .1h0m-2.4 0h0m2.6 .2h0m.2 .2h0m-3.5 0h0m-.4 0h0m2.1 0h0m2.9 .1h0m-3.9 0h0m3.6 .1h0m-1 .2h0m1 .1h0m-3.7 0h0m2.4 .2h0m.2 0h0m-2.9 .4h0m3 .6h0m-1.2 0h0m-.9 1.7h0m3.8-5.8h0m.4 0h0m-.3 .3h0m.5 .3h0m3.5 .3h0m-.6 .1h0m-2.4 .1h0m3.3 .3h0m1.2 .3h0m-1.9 .1h0m-2.9 .2h0m-.6 0h0m2.4 .2h0m.4 .2h0m1.3 0h0m-1.7 0h0m.8 .1h0m2.3 0h0m-4.7 0h0m3.3 0h0m-3.8 .1h0m1.4 0h0m-1.3 0h0m-.9 0h0m4.3 .1h0m-4.2 .2h0m1.4 0h0m1 .1h0m-1.8 0h0m.5 .2h0m2.3 .2h0m1.5 0h0m-2.1 .1h0m-1.9 .1h0m3.9 0h0m-.1 0h0m-.1 .4h0m-3.7 .1h0m-.1 .2h0m4.9 0h0m-2.1 .1h0m-.6 0h0m-.3 .1h0m.5 0h0m.3 .1h0m-3.6 .1h0m4.3 .1h0m-1.4 .3h0m-1.2 .3h0m-.1 .3h0m8.6-4h0m-3.3 .1h0m2.8 0h0m2 .1h0m-3.5 .2h0m3 .1h0m-4.3 0h0m3.4 .1h0m0 .1h0m.2 0h0m-4.1 .1h0m1.5 .1h0m-.1 .1h0m0 .1h0m2.2 0h0m1.9 .2h0m-3.9 .3h0m3.5 .1h0m-2.7 0h0m2.3 .2h0m-3 0h0m-.8 .1h0m1.3 .1h0m-1.5 .1h0m1.3 0h0m-1.9 .4h0m4.8 .2h0m-1.4 0h0m.4 0h0m.2 0h0m-2.4 .1h0m.2 0h0m.6 .1h0m2.8 0h0m-1.2 .2h0m-.2 .1h0m1.3 .1h0m-.7 0h0m-1.7 0h0m.3 0h0m1.1 .1h0m-1.7 .1h0m1.6 0h0m-.3 .1h0m-3.3 .1h0m.5 .2h0m3.9 .2h0m.4 .2h0m-1.9 .1h0m1.7 .1h0m-5.2 .1h0m4 .3h0m-3.5 .1h0m5 1.2h0m.6-7.8h0m-.1 2.1h0m3.6 .8h0m-1 .1h0m.1 0h0m.8 .1h0m-1.9 .2h0m1 .1h0m-1.3 .1h0m.7 0h0m-.7 .2h0m-1.3 0h0m1.2 .3h0m1.6 .1h0m-1.2 .1h0m3.3 0h0m.5 .1h0m-5.2 0h0m1.7 0h0m-.1 0h0m3.5 0h0m-3.1 .1h0m-2.3 .1h0m.7 .1h0m-.1 .1h0m1.7 0h0m2.9 0h0m-2.3 0h0m-2.1 0h0m-.8 .1h0m4 0h0m1.4 .1h0m-2.3 0h0m1.9 .1h0m.5 .2h0m-2.4 .1h0m1.4 .1h0m-.3 0h0m.5 0h0m-4.8 0h0m4.4 .1h0m-1.5 .1h0m.8 0h0m-2.8 .1h0m1.5 0h0m-2.1 0h0m1.1 .1h0m4.1 0h0m-5 .1h0m3.1 .5h0m-3.5 .2h0m5 .4h0m-5 0h0m4.4 .1h0m2.3-4.9h0m4.3 .6h0m-.2 .4h0m-4 .2h0m.6 .1h0m3.3 .1h0m-2.1 .2h0m-.1 .5h0m2.2 0h0m-4.2 .3h0m1.1 .1h0m3.9 0h0m-.6 .2h0m-1.2 0h0m.6 .1h0m-2.4 .1h0m-1.3 0h0m4.2 .2h0m-.6 .1h0m.4 .1h0m.3 .1h0m-3.5 .1h0m3.5 .1h0m-2.6 .1h0m-.8 0h0m-1 .1h0m3.7 0h0m1.5 .2h0m-1.5 .1h0m-1.2 .1h0m2.2 0h0m-3.8 .2h0m2.8 .2h0m-2.6 0h0m-.8 .1h0m.8 .3h0m-1 .4h0m2.5 .1h0m.7 0h0m-1.6 .2h0m3.5 .1h0m-2.4 .2h0m1.7 .7h0m-2.2 .4h0m5.2-6.7h0m1 1.5h0m-.9 .6h0m-1.2 0h0m1.8 .4h0m1.2 .1h0m.7 .3h0m-1.1 .2h0m.5 .1h0m1.5 0h0m-.8 .2h0m-1.6 .1h0m-2.1 .1h0m-.6 0h0m-.6 .1h0m3.1 0h0m2.4 .2h0m-4 0h0m1 0h0m-.1 .1h0m2.3 .1h0m-2 0h0m-1.6 .1h0m-.4 .1h0m4.5 0h0m-3.7 .1h0m-1.4 .1h0m2.6 0h0m-.8 .1h0m-1.3 .2h0m4.7 0h0m-3.5 0h0m0 .2h0m2.9 0h0m-.2 .1h0m-.4 0h0m.6 .1h0m-4.4 .1h0m4.1 .2h0m-1.2 0h0m-2.8 .1h0m4.2 .3h0m-1.1 0h0m.5 .2h0m-2.5 .1h0m4.2 .1h0m-1.8 .3h0m-.6 .5h0m3-4.7h0m3.9 .4h0m-.2 .2h0m-.3 .1h0m-1.6 0h0m-1.4 .1h0m2 0h0m.9 .3h0m1.2 0h0m-3 .1h0m2.8 .2h0m-2.7 .1h0m-1.3 .2h0m1 .1h0m1.5 .1h0m-2 .1h0m2.4 0h0m.7 0h0m-4 .3h0m1.5 .1h0m.6 0h0m.2 .4h0m-1.4 0h0m.1 .1h0m-.5 0h0m1.2 0h0m2.4 .1h0m-3.5 .1h0m3.3 0h0m-2.8 .3h0m0 .1h0m2.9 .5h0m-1.7 0h0m-.4 .3h0m.4 .1h0m1.2 .2h0m-3.1 .1h0m1.4 .3h0m.8 .1h0" stroke="#93aa00" stroke-width="1.30" stroke-linecap="round" fill="none" opacity="0.95"/>
<path d="M518.6 370.5h0m-.6 .3h0m.8 12.8h0m3.5-17.8h0m1.5 0h0m-.9 .1h0m-.6 0h0m1.2 .1h0m.7 0h0m-1.9 .1h0m-.4 0h0m2.1 0h0m-.4 .1h0m.4 .2h0m.9 0h0m-2.2 .1h0m1.8 .2h0m-1.7 0h0m.2 .2h0m-1 .1h0m2.2 .1h0m-1.6 .1h0m-.9 0h0m1 0h0m1.7 .1h0m-2.4 0h0m1.8 0h0m.2 .1h0m-.2 0h0m.2 0h0m-2.2 .1h0m1.2 .1h0m-.4 .1h0m1.7 .2h0m-.4 .1h0m.8 0h0m-4.1 0h0m2.8 .1h0m.8 0h0m.7 0h0m-1.4 0h0m-.1 .2h0m0 0h0m.5 .1h0m-3.1 .1h0m3.5 0h0m-1.1 .1h0m1.1 .1h0m-.9 .1h0m-2.4 0h0m-.6 .1h0m4 .1h0m-1.9 0h0m-.8 0h0m-.1 .1h0m.5 0h0m-1.7 0h0m4.2 0h0m-.4 .2h0m-1.4 .1h0m1.6 .1h0m.3 .1h0m-2.2 .1h0m2 0h0m-3.6 0h0m.8 0h0m2.4 .1h0m-3.4 .2h0m1.3 .1h0m-.6 .1h0m1.7 0h0m-2.2 0h0m.7 .1h0m.1 .2h0m-.1 0h0m3.1 0h0m-.5 0h0m-.5 .1h0m.7 .4h0m0 0h0m-3.1 0h0m1.1 .1h0m-1.2 .1h0m1.7 .1h0m1.3 0h0m-3.6 .1h0m3.9 .1h0m-.1 0h0m-.3 0h0m-.2 .1h0m.2 0h0m-1.1 0h0m1.7 .1h0m-1 0h0m-2.4 .1h0m1.6 0h0m-.9 .1h0m.5 0h0m-1.3 .1h0m1.7 .1h0m-1.9 0h0m2 .1h0m-1.5 0h0m2.9 .3h0m.1 0h0m0 0h0m-1.3 .1h0m-.4 0h0m1.5 0h0m-2 .1h0m1 0h0m-.4 .1h0m-.6 0h0m-1.5 0h0m3.2 .1h0m-3.1 .1h0m1.4 0h0m.2 0h0m.6 .2h0m1.6 .2h0m-2.7 .1h0m-1.1 0h0m2.9 0h0m-1.3 .1h0m.6 .1h0m1 0h0m-1.4 0h0m-2.7 0h0m3 0h0m-.1 .1h0m.2 0h0m-.2 0h0m-2.7 0h0m3.6 .1h0m-1.7 .1h0m.4 0h0m-2 0h0m3.4 .1h0m-1.7 .1h0m1.4 0h0m-2.5 .1h0m-.1 0h0m3.8 0h0m-4.2 .1h0m4.3 0h0m-2.1 .2h0m1.6 0h0m-2.5 .1h0m-.3 0h0m-.6 .1h0m1.2 0h0m-1 0h0m3 .1h0m-2.4 0h0m1.3 0h0m-.5 0h0m-.5 .1h0m-.3 0h0m.3 0h0m1.8 .1h0m-1.2 0h0m.6 0h0m1.1 .1h0m-.2 0h0m.2 .1h0m-1 0h0m-1.5 .1h0m2.8 0h0m-.6 0h0m.1 .1h0m-.6 0h0m.9 .1h0m-.2 .1h0m-.5 0h0m-1.6 .1h0m-1 .1h0m.5 0h0m1.2 0h0m-1.3 0h0m2.5 .1h0m-1.4 .1h0m.1 .1h0m-2.8 .1h0m4.2 0h0m-3.6 .1h0m1.6 .1h0m-.2 .1h0m-1.2 .1h0m-.6 0h0m3.6 .1h0m1 .1h0m-2.6 0h0m1.8 .2h0m-4 .2h0m3.1 .1h0m.9 0h0m-1.7 .1h0m1.9 .1h0m-3.2 0h0m1 .3h0m1.2 0h0m.6 .1h0m-1.3 0h0m1.8 .2h0m-.9 0h0m-.8 0h0m-2 0h0m3.2 .1h0m-.4 0h0m-.6 .2h0m-1.1 0h0m1.7 .1h0m.7 0h0m-.5 .3h0m-3 0h0m2 .1h0m1.4 .1h0m.3 0h0m-.3 0h0m.8 0h0m-.1 0h0m-3.6 .2h0m1.8 .2h0m1.4 0h0m.5 0h0m-.8 0h0m-2.5 .1h0m2.9 .1h0m-2.6 .2h0m.3 0h0m-1 0h0m.3 0h0m.8 .1h0m-2.2 0h0m1.1 0h0m2.2 .1h0m.6 0h0m-.3 .1h0m.5 0h0m-1.5 0h0m-.1 0h0m-.7 .2h0m-.9 .1h0m-.6 .1h0m2.8 .1h0m.7 .1h0m-3 0h0m.5 .1h0m2.2 0h0m-.6 .2h0m-.2 0h0m-.8 0h0m-.4 0h0m-1 .1h0m3 .2h0m-2.3 0h0m1.5 .1h0m-.2 .2h0m-.5 .1h0m-.5 .1h0m2.6 0h0m-2.9 .1h0m1.5 .2h0m.7 0h0m.3 0h0m-.3 0h0m1.1 .2h0m-.3 .1h0m-3.1 .1h0m-.4 0h0m3.3 .2h0m.1 .1h0m.6 0h0m-1.2 0h0m-1 0h0m1.1 0h0m-.1 .1h0m.2 .1h0m1 0h0m-4.3 0h0m3.9 .1h0m-1.7 0h0m1.7 .1h0m-1.6 0h0m1.1 0h0m-1 .1h0m-.1 0h0m-.5 .2h0m-.6 0h0m1 0h0m.3 0h0m-.4 0h0m1.9 0h0m-2.6 .2h0m.5 .1h0m.7 .1h0m-.2 .1h0m-.7 .1h0m.5 .2h0m-.5 .1h0m.1 0h0m2.6 .1h0m-.3 0h0m-1.5 .1h0m-1.2 0h0m2.3 .1h0m-4 0h0m3.5 0h0m-.3 0h0m-1.2 .1h0m.1 .1h0m-.2 0h0m-1.4 .2h0m.6 0h0m.9 .1h0m-1.4 0h0m3.1 0h0m0 .2h0m-.1 0h0m-1 0h0m1.4 .1h0m-1 .1h0m1.4 0h0m-1.6 0h0m-2.9 0h0m3.3 0h0m-1.2 0h0m.7 .1h0m-1.6 0h0m2.9 0h0m0 0h0m-1.3 .1h0m.6 .1h0m-3.4 0h0m4.3 .2h0m-2.1 .1h0m-.7 0h0m.3 0h0m2 0h0m-1.7 0h0m1.1 0h0m.9 .2h0m-1.1 0h0m-.1 0h0m-2 .1h0m2.4 .2h0m.2 .1h0m.8 .1h0m-1.4 .1h0m-1.2 0h0m-.5 0h0m3.7 .1h0m-3.9 0h0m-1.8 0h0m3.7 .1h0m.2 0h0m-.9 0h0m2 0h0m-1 0h0m-1.4 .1h0m.1 0h0m1.2 .1h0m1.1 .1h0m.9-21.7h0m0 0h0m1.1 .3h0m-.9 .1h0m.4 .9h0m0 .1h0m.8 .2h0m-1.2 .1h0m.3 .1h0m-.5 .3h0m.6 .3h0m0 .1h0m-.3 .6h0m-.4 .5h0m1.7 .1h0m-1 .3h0m0 1.8h0m.8 .1h0m-1.1 0h0m-.2 .5h0m.3 .3h0m1.5 .4h0m-1.5 .4h0m.6 .4h0m-.8 .3h0m.3 .1h0m-.1 .6h0m-.2 .2h0m-.3 1.3h0m1.2 .4h0m-.8 0h0m1.2 .2h0m-.6 1.3h0m-.4 .1h0m-.5 0h0m.4 .4h0m-.3 .4h0m0 .1h0m.2 .1h0m1 2h0m-.6 .1h0m-.2 .5h0m1 .3h0m-1.2 0h0m-.2 .5h0m.6 .2h0m.4 .1h0m-1.1 2.6h0m0 .3h0m2.4 .1h0m-2.1 .2h0m-.1 .2h0m.5 0h0m-.3 0h0m.2 .2h0m-.3 .6h0m-.3 .3h0" stroke="#93aa00" stroke-width="1.30" stroke-linecap="round" fill="none" opacity="0.95"/>
<path d="M524 393.6h0m0 0h0m-.9 .2h0m-.6 0h0m1.6 .1h0m-2.2 0h0m.9 0h0m.7 .1h0m0 0h0m.6 0h0m-1.2 .1h0m-1.4 .2h0m.2 0h0m.1 .1h0m3.1 0h0m-3.5 .3h0m1.3 0h0m.8 0h0m.6 .1h0m-2.2 .1h0m3 .3h0m-1.1 .1h0m-2.1 0h0m3 0h0m-2.1 0h0m2.2 .2h0m-3.4 .1h0m1.3 .1h0m-.1 .1h0m1.6 0h0m-1.5 0h0m.8 .1h0m-1.1 .1h0m.3 0h0m-.4 0h0m.1 0h0m-.4 0h0m1.6 0h0m-1 0h0m.9 .2h0m.9 0h0m-2.1 0h0m1.7 .1h0m1.3-2h0m-.2 .2h0m.8 .2h0m-.9 .3h0m.1 .1h0m.2 .4h0m-.3 .6h0" stroke="#93aa00" stroke-width="1.10" stroke-linecap="round" fill="none" opacity="1.0"/>
<path d="M514.6 402.2h0m2 .2h0m.6 .4h0m-3.5 .9h0m2.1 0h0m.5 .3h0m-1.3 .5h0m-.5 .1h0" stroke="#93aa00" stroke-width="1.00" stroke-linecap="round" fill="none" opacity="1.0"/>
<path d="M474.8 402h0m.2 .8h0m-.3 0h0m.4 .1h0" stroke="#93aa00" stroke-width="1.00" stroke-linecap="round" fill="none" opacity="1.0"/>
<path d="M394.6 379.4 Q434.9 392.4 469.4 394.9 L514.6 393.4 C519.4 390.9 521.7 380.9 521.1 367.9" stroke="#1a1a1a" stroke-width="0.75" fill="none"/>
<circle cx="469.4" cy="394.9" r="3" fill="#111"/>
<text x="469.4" y="396.2" font-size="3.5" text-anchor="middle" fill="#fff" style="stroke:none">2</text>
<circle cx="514.6" cy="393.4" r="3" fill="#111"/>
<text x="514.6" y="394.6" font-size="3.5" text-anchor="middle" fill="#fff" style="stroke:none">1</text>
<line x1="535.5" y1="363.2" x2="535.5" y2="406" stroke="#3a3a3a" stroke-width="0.8"/>
<line x1="533.7" y1="370.9" x2="535.5" y2="370.9" stroke="#3a3a3a" stroke-width="0.7"/>
<line x1="533.7" y1="382" x2="535.5" y2="382" stroke="#3a3a3a" stroke-width="0.7"/>
<line x1="533.7" y1="393.1" x2="535.5" y2="393.1" stroke="#3a3a3a" stroke-width="0.7"/>
<line x1="533.7" y1="404.2" x2="535.5" y2="404.2" stroke="#3a3a3a" stroke-width="0.7"/>
<text x="608.8" y="363.8" font-size="8.6" text-anchor="middle" fill="#222">C3</text>
<path d="M541.7 376.6h0m1 .5h0m-.9 .4h0m-.5 .1h0m.8 1h0m-.6 .1h0m.1 .1h0m.7 .2h0m-1.5 0h0m1.2 .5h0m.8 .2h0m-.9 .2h0m.6 .1h0m-.1 .3h0m.6 0h0m-1 .1h0m-1.3 .3h0m1.6 .8h0m-1.9 .3h0m1.5 0h0m.7 .4h0m-.3 .4h0m.3 .3h0m-3.2 1h0m5.5-6.3h0m-1.5 .2h0m3.4 .4h0m-2.4 0h0m1.2 .3h0m1.7 .2h0m-3.3 0h0m2.4 .4h0m2.3 .2h0m-3.5 .4h0m3.2 0h0m-5.3 .1h0m4.1 .1h0m1.3 .1h0m-1.2 0h0m1.6 .2h0m-3.5 .1h0m2.4 0h0m-2.6 .1h0m1.4 .2h0m-3.2 .5h0m3.8 .1h0m-3.6 0h0m-.4 .2h0m1.4 0h0m-.4 .1h0m3.4 0h0m-.7 .1h0m.4 .1h0m.4 .1h0m-3.5 .1h0m2.7 0h0m-.3 .1h0m-2 0h0m.9 .1h0m2 .1h0m-.4 .2h0m-2.6 .4h0m1.3 .1h0m1.2 0h0m1.1 .2h0m.3 .3h0m-4.1 .1h0m.4 .2h0m2.7 .2h0m-.4 0h0m.5 1.6h0m-1.5 .3h0m4.1-8h0m-.8 1h0m1.2 .6h0m-.9 .3h0m.7 .1h0m1.3 0h0m-2.2 .3h0m3.1 .1h0m.5 .1h0m-3.1 .1h0m4.1 .2h0m-.3 0h0m-.6 .2h0m1.3 .1h0m-1.9 0h0m1.7 0h0m-3.7 .1h0m2.1 .1h0m-2.1 0h0m-.8 .1h0m-.6 0h0m5.3 .1h0m.1 .2h0m-4.3 0h0m1.5 .1h0m.7 .1h0m-3.1 0h0m-.2 .3h0m3.6 .1h0m.3 .1h0m1.2 .2h0m-.3 .1h0m1.1 .1h0m-.9 .1h0m-4.9 0h0m4.8 .1h0m0 .1h0m-3.8 0h0m4.4 .1h0m-1.6 .3h0m-1.6 0h0m3 .1h0m-2.1 .1h0m.4 0h0m-2.3 0h0m4.6 .1h0m-3.4 0h0m3 .1h0m-3 .1h0m3.2 .1h0m-5 .1h0m3.3 0h0m.4 .1h0m-2.7 1.1h0m-.1 .3h0m2.7 .2h0m.8 0h0m-2.7 .3h0m3.1 0h0m-1.3 .1h0m-1.9 .6h0m.6 .1h0m2.3 .5h0m.7 1.7h0m2.9-9.3h0m-2.3 0h0m4 .8h0m-2 0h0m-1.9 1h0m-.1 .2h0m-.1 .4h0m2.7 .2h0m1.4 0h0m-2.2 .2h0m-1.9 .1h0m5.4 0h0m-4 0h0m.4 .1h0m3.2 .3h0m-2.6 0h0m-.2 .3h0m-1.6 0h0m-1 .1h0m2.6 .1h0m1.1 0h0m-1.9 .1h0m1.7 0h0m.3 .1h0m-1.1 .1h0m-2.4 .1h0m1.8 0h0m.5 .1h0m.5 .3h0m-.6 0h0m.6 0h0m1 .3h0m-1.6 .1h0m.6 .1h0m-.3 .2h0m2.8 .1h0m.1 .2h0m-.5 0h0m-1.8 0h0m-1.5 .2h0m-1.1 .4h0m.8 .2h0m1 0h0m2.8 .1h0m-3.5 0h0m.4 .1h0m-.1 .1h0m-.5 .1h0m3.3 .5h0m.2 .4h0m-3 0h0m1.9 .8h0m1.7 0h0m.5-6.3h0m3.2 .3h0m-3.2 .3h0m3.3 .4h0m-.7 .1h0m-1.5 .3h0m-.8 .3h0m.3 0h0m-.9 .1h0m-.1 .2h0m.4 0h0m2.3 0h0m-.5 .1h0m3.1 0h0m.6 .2h0m-2.9 .2h0m-2.6 .3h0m4.7 0h0m-4.8 .3h0m1.3 .1h0m.1 .1h0m-.3 0h0m.3 .1h0m-.3 0h0m-.7 .3h0m1.4 .3h0m-1.1 .3h0m1.6 0h0m.4 .1h0m-.5 0h0m-1.2 .2h0m1.6 .1h0m-1.7 0h0m3.8 .1h0m-1 .3h0m-2.6 0h0m1.5 .2h0m1.1 0h0m1.2 0h0m-2.2 .5h0m1.2 0h0m-1.7 0h0m2.8 .1h0m-2.1 .3h0m2.8 .2h0m0 0h0m-2.9 .2h0m-.4 .3h0m-1 .2h0m-.2 .1h0m2.8 .1h0m-.8 .6h0m1.8 0h0m-1.7 .9h0m-3.1 .3h0m10.2-9.5h0m-2.5 2h0m-.2 .7h0m1.9 .6h0m-2.9 .3h0m2.2 0h0m0 .1h0m2.1 .2h0m-4.2 0h0m2.9 .1h0m-2.5 .1h0m.8 .2h0m.7 .1h0m.8 .2h0m-.6 .3h0m-1.9 .1h0m2.8 .3h0m-4 0h0m4 .1h0m-3.7 0h0m1.5 0h0m1.2 .3h0m1.8 0h0m-4.4 .1h0m-.4 .1h0m1.4 .1h0m-1.4 .1h0m2.2 0h0m2.9 .1h0m-2.6 .1h0m-1.1 .1h0m3.3 0h0m.7 0h0m-3.3 0h0m.1 0h0m-1.6 .1h0m3.6 .2h0m-3 .1h0m3 .2h0m-2.6 .1h0m4 0h0m-.3 .1h0m-3.9 0h0m1.8 .5h0m2.6 .1h0m-4.8 .3h0m3.4 .4h0m.9 0h0m-2.4 .4h0m-.5 .3h0m1.3 .8h0m.3 .3h0m3-7.7h0m-.1 .6h0m.3 0h0m2.6 .7h0m-3 .2h0m1.5 0h0m2.5 .3h0m-1.4 .2h0m-2.7 .2h0m-.7 .2h0m3.1 .4h0m-1.1 .1h0m-1.5 .2h0m-.6 .2h0m.8 .1h0m1.6 .1h0m-1.6 .1h0m5.2 .1h0m-1.9 .1h0m-1.4 .1h0m-1.7 .1h0m1.2 0h0m-1.9 .1h0m1.7 .2h0m1.9 .2h0m-1.3 0h0m1.4 .1h0m-1.4 .1h0m-1.1 .1h0m2.2 0h0m-1.6 .2h0m.4 0h0m1.8 .1h0m-4 0h0m2.5 .1h0m2.5 0h0m-.4 .1h0m-3 0h0m.1 .3h0m-1.4 .3h0m4.3 .1h0m-1 .3h0m1.3 .9h0m-1.9 .2h0m.2 .5h0m-.2 .6h0m1.2 1.3h0m5.2-8.9h0m-.2 .8h0m-1.6 .5h0m3 .1h0m-3.6 .2h0m1.3 .1h0m-2.3 0h0m4.6 .3h0m-3.2 .3h0m-.9 .2h0m3.9 .2h0m-3.1 .2h0m.9 .2h0m3.4 0h0m-1.2 .1h0m-1.4 .9h0m-1.7 .2h0m2.6 0h0m-1.4 0h0m2.5 .1h0m-2.6 .3h0m1.7 .1h0m-2 0h0m.8 .1h0m-2.9 .1h0m.8 .1h0m1.9 .1h0m.4 .2h0m0 .1h0m1.7 .3h0m-2.3 .1h0m-1.6 .1h0m2.8 0h0m-1.1 .2h0m-.6 .1h0m.4 0h0m-1.7 .1h0m.5 .1h0m2 0h0m.1 .1h0m-3 .4h0m4.1 .2h0m1.2 .1h0m-.6 .1h0m-4.1 .2h0m.4 .1h0m1.6 0h0m0 .8h0m.3 1.6h0m4.8-8.4h0m-1.9 1.1h0m.1 .3h0m5.1 0h0m-4.5 .3h0m-.1 0h0m4.2 .2h0m-.7 .3h0m-.7 .1h0m-3.3 .1h0m-.4 .1h0m1.2 .3h0m-.2 .1h0m.4 0h0m1.6 .4h0m-1 0h0m2.5 .1h0m-4.6 0h0m3 .1h0m.6 0h0m-2.5 .1h0m.9 .1h0m1.1 .2h0m-1 0h0m3.6 0h0m0 .2h0m-.4 .1h0m-.7 .2h0m-3.5 0h0m.7 .1h0m.6 .1h0m-1.8 .1h0m.3 0h0m-.4 0h0m4.2 0h0m1 .1h0m-4.8 .1h0m-.9 .1h0m4.6 .1h0m-.9 .2h0m2.2 .2h0m-1.8 .1h0m1.1 .4h0m-5.2 .4h0m5.1 0h0m-3.4 .6h0m1.7 .1h0m2 .3h0m-1.4 .7h0m-2.2 1.9h0m7.4-10.4h0m-2.1 1.7h0m4.6 1.3h0m-.6 .6h0m-4.9 .1h0m.6 .1h0m.7 .2h0m-1 .3h0m3.6 0h0m-2.3 .1h0m3.9 .2h0m-1.2 .1h0m-2.7 .1h0m.3 0h0m2.5 0h0m-.6 .1h0m-.9 .1h0m2 .1h0m-2.8 0h0m3 .1h0m-2.6 .1h0m.1 .1h0m1 0h0m1.5 0h0m-.8 0h0m-3.1 .1h0m4.1 0h0m-.5 0h0m-.3 0h0m.7 .1h0m-3.8 .1h0m1.6 0h0m.1 0h0m1 .1h0m-4.2 .3h0m.2 .1h0m4.7 0h0m.6 0h0m-2.5 0h0m2.7 .1h0m-5.7 .2h0m5 .1h0m-1.9 .2h0m-2.4 .4h0m.3 0h0m2 .1h0m1.7 .2h0m.7 0h0m-2.5 .2h0m.7 .1h0m0 .1h0m-2.2 .9h0m-.7 0h0m5 .6h0m-1 1.7h0m4.3-10h0m.5 .7h0m-1.1 .2h0m-2 .7h0m4.5 .8h0m-2.8 .2h0m2 0h0m1.2 0h0m-2.3 .6h0m.8 .4h0m-1.8 0h0m3 .1h0m-.7 .1h0m.2 0h0m-2.6 0h0m.4 .2h0m-1.6 0h0m2.2 0h0m1.2 .2h0m1.7 0h0m-5.2 .6h0m3.8 0h0m-2.2 .4h0m3.1 0h0m-4.6 .1h0m1.7 .1h0m2.4 0h0m.4 .1h0m.3 .2h0m-1.5 .2h0m-3.5 0h0m3.7 .1h0m-1.4 .2h0m-.4 .1h0m1.7 .1h0m-2.3 .3h0m3.5 .1h0m-5.1 0h0m4.1 .2h0m-4.3 .4h0m4.7 .3h0m-2.2 0h0m3.3 .4h0m-2.6 .1h0m2.1 0h0m-1.9 .4h0m-2.3 .9h0m1.8 .6h0m6.6-8h0m-1.9 .3h0m.6 .4h0m.3 .3h0m-1.1 0h0m1.9 .1h0m.9 .4h0m-3.4 .3h0m.1 .1h0m4.7 .1h0m-4.3 .1h0m3.3 .1h0m-2 .2h0m-.4 .1h0m1 .4h0m.9 .1h0m.2 .1h0m.8 .1h0m-1.2 0h0m.1 .4h0m-3.4 .1h0m2.8 0h0m2.4 .1h0m-1 .3h0m-.9 0h0m-2.3 0h0m3.2 .2h0m-4.1 .1h0m2.8 .1h0m-1.9 .1h0m.4 .2h0m.8 .2h0m.9 .2h0m1.1 .2h0m-.2 .1h0m.8 .1h0m-1.6 .1h0m-3.1 0h0m3.7 .2h0m-3.3 .1h0m2.3 .1h0m-.5 0h0m1.2 0h0m-1.3 .2h0m1.9 .1h0m1.1 .3h0m-3.3 .3h0m9-7h0m-3.2 1h0m-.5 .4h0m-1.3 .2h0m1.5 .3h0m-.6 .3h0m4.2 .1h0m-2.4 .2h0m-.9 .4h0m3 .3h0m-4.9 .3h0m3.3 0h0m-1 0h0m3.2 .1h0m-.9 .1h0m-4.7 .2h0m5.4 0h0m-.6 0h0m-5 .2h0m4.4 .1h0m-1.8 .1h0m-1.9 0h0m1.7 0h0m.8 0h0m.6 .1h0m1.5 .2h0m-3.1 .1h0m.3 .1h0m.1 .1h0m-2.6 .3h0m.1 .1h0m4.8 .1h0m-.2 .2h0m-1.2 .1h0m-.5 .2h0m2.3 .1h0m-5.2 0h0m4.8 .2h0m.7 .1h0m-5.3 .1h0m.4 0h0m-.4 0h0m.3 0h0m1.8 .1h0m0 .2h0m1 .2h0m-2 0h0m0 .1h0m3 .3h0m1 0h0m-3.9 .2h0m.6 0h0m-.2 .5h0m-2 .1h0m3.2 .3h0m-1.3 1.6h0m4.1-6.4h0m0 1.8h0" stroke="#00ba38" stroke-width="1.20" stroke-linecap="round" fill="none" opacity="0.9"/>
<path d="M548.2 381.3h0m-3.4 1.1h0m3.5 1.7h0m.4 1.3h0m3.6-4.4h0m-1.6 1.9h0m.5 0h0m-.9 1.3h0m3 1.3h0m2.5-2.6h0m.6 .9h0m2 .9h0m0 .2h0m-.3 .2h0m-1.3 0h0m1.5 .2h0m1 .1h0m0 .3h0m-3.8 .9h0m2.2 0h0m-.1 .5h0m2.7 .5h0m-.6 .2h0m-2 .9h0m1.9 .3h0m-3 1.2h0m3.7 1h0m2.4-6.9h0m-.9 0h0m-.5 2.1h0m4.8 0h0m-.1 .1h0m-4.2 .1h0m2.5 .3h0m-.2 .5h0m.2 1.1h0m2.5 0h0m.1 .4h0m-1.6 .8h0m.5 .3h0m-1.8 .2h0m3 3.7h0m1.3-8h0m1.1 .5h0m-.2 .4h0m-1.1 .1h0m1.3 .2h0m-1.2 .5h0m3.8 .7h0m-3 .2h0m.1 .1h0m2 .6h0m1 1.7h0m-.5 .1h0m.1 .3h0m-2.2 .2h0m8.8-6.3h0m-3.3 1.7h0m1.7 1.4h0m-2.4 .2h0m4.1 .4h0m-1.5 .3h0m-.3 .1h0m-1.5 .8h0m2.9 .2h0m-5 .5h0m1.1 .1h0m4.5 .4h0m-1.6 1h0m-.7 .8h0m-1.4 .5h0m3.6 0h0m-5.2 .3h0m4.7 .1h0m1.4-4.3h0m4.9 .7h0m-.1 .3h0m-4.9 .9h0m4 1h0m-.6 .7h0m-.3 .1h0m.6 .6h0m1.1 .2h0m1.1-6.6h0m1.7 .7h0m1 1.6h0m2.9 .2h0m-5.7 .2h0m2.8 .2h0m-1.1 1.3h0m3.8 0h0m-4.1 .1h0m4.1 .3h0m-3.8 .4h0m1.1 0h0m.1 0h0m.3 .6h0m2 .2h0m.7 0h0m-.8 .2h0m-1.4 .2h0m-2.7 0h0m4 .3h0m-2.8 .2h0m2.6 .2h0m-4.4 0h0m3 .3h0m.8 .4h0m1.5 .8h0m-1.7 1.4h0m2-9.3h0m1.3 3.5h0m-.6 .4h0m-.5 0h0m.1 1.1h0m2.4 .3h0m.5 .2h0m-.7 .1h0m-1.4 .1h0m-1.1 .6h0m4.7 .2h0m-4.6 0h0m5.4 .2h0m-1.7 .2h0m-1.6 .1h0m2.2 .4h0m-3.1 .1h0m-1.2 1.2h0m5.4 .1h0m0 .3h0m.1 0h0m.5-5.5h0m3.8 .1h0m-.4 0h0m-3.3 .2h0m5 1h0m-3.6 .3h0m-1.7 .1h0m5 .6h0m-1.7 0h0m-1.5 .2h0m3.7 .1h0m-2.7 0h0m-1.8 .2h0m2.6 .1h0m-3.1 0h0m.3 .3h0m3.9 .1h0m1.1 .1h0m-1.5 .3h0m.2 .1h0m-1.6 .4h0m-2.4 .2h0m1.6 0h0m3 0h0m-1.5 .1h0m-.4 0h0m1.2 .2h0m-3.4 .8h0m2.4 .2h0m-.2 .4h0m2.1 0h0m-2 .5h0m5.6-6.3h0m2.5 1.6h0m-2.8 .2h0m.5 .5h0m1.2 .4h0m-.3 .3h0m-2.1 0h0m3.9 .1h0m.1 .1h0m-5.5 0h0m2.8 .4h0m1.4 .2h0m-1.7 .7h0m1.5 .1h0m1 0h0m-2.5 .2h0m1 0h0m-.6 .2h0m-2.2 .1h0m4.7 0h0m-1.7 .2h0m.2 .1h0m.9 .3h0m.1 .3h0m-2.6 1.8h0m4.5-5.6h0m4.7 .3h0m-2.9 .1h0m1.2 .6h0m-.6 .6h0m1.7 .5h0m-4.7 0h0m4.6 .1h0m-2.4 .2h0m3.2 .2h0m-5.5 .2h0m1.8 .1h0m-1.9 .1h0m1.4 .2h0m2.6 0h0m1 .1h0m-2.3 .3h0m1.4 0h0m-1.1 .1h0m-.5 .2h0m-1.5 0h0m-.2 .1h0m1 .2h0m3.6 .1h0m.2 .5h0m-3.1 .4h0m-.7 0h0m.1 .2h0m3.3 .4h0m-.4 0h0m-3.5 1.1h0m4.5-3.7h0" stroke="#00ba38" stroke-width="1.10" stroke-linecap="round" fill="none" opacity="0.8"/>
<path d="M668.5 366.8h0m-.2 1.4h0m.3 1.3h0m.3 .1h0m0 .2h0m-.8 0h0m-.4 .4h0m.3 .4h0m.6 .5h0m.1 .5h0m-.1 .1h0m0 .3h0m-.4 .5h0m-.2 .5h0m.2 0h0m.4 .5h0m-1.5 0h0m1.8 .2h0m0 0h0m-.1 .2h0m0 0h0m-.5 .2h0m-.2 .1h0m-.4 .5h0m-1 .2h0m2.2 .1h0m-.3 .2h0m-.1 0h0m.3 .1h0m-.5 .1h0m-.4 .2h0m.5 1.2h0m-.6 .4h0m0 .1h0m.8 .7h0m-1.2 .4h0m1.4 .1h0m-.4 .5h0m-.1 .1h0m-.5 .1h0m.1 .1h0m-.3 .1h0m-.3 .1h0m.6 0h0m.4 .3h0m-.2 .3h0m-1.5 .6h0m1.8 .3h0m-1.1 0h0m.5 .1h0m-.7 .3h0m.9 .5h0m-.1 .2h0m.2 .1h0m-.6 0h0m-.2 .1h0m.8 .1h0m.4 .1h0m-.3 .2h0m0 0h0m-.8 .6h0m1 0h0m.4 .3h0m-2.1 .2h0m-.9 .1h0m2.9 .2h0m-.5 .2h0m-1 .2h0m.2 .4h0m.2 .1h0m.5 .1h0m.7 .5h0m-1.8 0h0m.1 .2h0m1.4 0h0m-.6 .1h0m-.2 .2h0m-.4 .1h0m1.4 .1h0m-.2 .2h0m-2.6 0h0m2.3 .1h0m-1.4 .1h0m1.6 .6h0m-.7 0h0m.7 .1h0m-.1 0h0m-1.6 .3h0m2.2 0h0m-.1 .2h0m-1 .7h0m-.6 .2h0m.7 .2h0m.4 .1h0m-.7 .2h0m-.1 .3h0m.1 .1h0m-.2 .1h0m-.7 .1h0m.1 .1h0m1 0h0m-1.2 .2h0m1.2 .2h0m-.6 .3h0m-.4 .2h0m.5 .2h0m.2 .6h0m-.7 1.1h0m-.1 0h0m2.8-27h0m.3 .7h0m-.2 .2h0m.7 .1h0m-.1 .1h0m-.6 .2h0m.2 .1h0m-.4 .1h0m1.1 0h0m-.4 0h0m.6 .2h0m-.5 0h0m-.7 .2h0m.2 0h0m-.3 .4h0m-.1 0h0m.9 .6h0m-.3 .1h0m.8 .3h0m-1 .6h0m-.4 .6h0m-.3 .5h0m.2 1h0m1.4 .2h0m-1.5 .2h0m.4 .4h0m.4 0h0m0 .1h0m.4 .7h0m-1 1.6h0m.4 1.7h0m.2 .1h0m-.6 .9h0m.1 .3h0m-.3 1.1h0m.3 2.8h0m0 4.1h0m-.2 1.5h0m-.1 .3h0m-.1 2h0m0 .8h0" stroke="#00ba38" stroke-width="1.10" stroke-linecap="round" fill="none" opacity="0.9"/>
<path d="M614.5 398.4h0m.2 .2h0m-1 .1h0m.3 .1h0m.6 .1h0m-.4 0h0m-.2 0h0m-.6 .1h0m1.3 .1h0m-.5 0h0m.8 0h0m-.3 .1h0m.2 .5h0m-.1 .2h0m-1.9 .2h0m.7 0h0m-.3 .1h0m1.1 .1h0m-1 .2h0m-.5 0h0m1.9 0h0m-.6 .1h0m-1.1 0h0m1.9 .1h0m-1.4 0h0m-.2 0h0m.3 .1h0m.5 0h0m-.1 0h0m.8 .1h0m-.9 .1h0m-.6 0h0m1.5 0h0m-1.6 .1h0m1 .1h0m-.5 0h0m-.2 0h0m1.1 .1h0m-1 0h0m1.3 .1h0m-.5 0h0m-.5 0h0m.6 0h0m.1 .1h0m.2 0h0m-1.6 0h0m0 .2h0m.2 .1h0m1.5 .1h0m-.1 0h0m-.3 .1h0m.4 .1h0m-1.4 0h0m.3 .2h0m-.4 0h0m.6 .2h0m.8 .1h0m-.2 .1h0m-.6 0h0m.4 0h0m1.9-4.6h0m-.7 .3h0m.5 .2h0m-.8 0h0m.7 0h0m.6 .1h0m-.2 0h0m.4 0h0m-.1 .1h0m0 .1h0m0 .1h0m-.1 .2h0m-.9 .2h0m-.5 .1h0m.9 .1h0m-.1 0h0m.8 .1h0m.2 0h0m.5 0h0m-.4 .1h0m-1 .1h0m1.2 0h0m-2 .1h0m2.4 .1h0m-.5 .2h0m-.6 0h0m-1.6 .1h0m.9 .2h0m1.7 .1h0m-.1 0h0m-1.1 .1h0m-.3 .1h0m-.9 .2h0m1 .2h0m1.5 .2h0m-1.3 .3h0m1 .1h0m.1 0h0m-.8 .1h0m-1.7 .1h0m.7 0h0m1.2 0h0m-1.8 0h0m1 .1h0m-.2 .2h0m-.6 .1h0m.8 .1h0m-.1 0h0m.5 .1h0m-.5 .2h0" stroke="#00ba38" stroke-width="1.20" stroke-linecap="round" fill="none" opacity="1.0"/>
<path d="M666.3 397.2h0m1.3 0h0m-.3 .1h0m-1.4 .1h0m1.6 0h0m-1.7 0h0m.2 0h0m0 0h0m1.3 0h0m-.6 .1h0m-.4 0h0m2.1 .1h0m-1.4 .1h0m.7 0h0m-.7 0h0m1.7 0h0m-3.5 .1h0m3.2 0h0m-2.6 0h0m3 .1h0m-.8 0h0m-3 .1h0m3 .1h0m-1.5 0h0m2.4 0h0m-3.8 .1h0m1.1 0h0m1.1 0h0m-1.5 .1h0m2.2 0h0m-1.2 0h0m-.7 0h0m.1 0h0m-.7 .1h0m.9 0h0m-1.3 .1h0m1.7 0h0m1.2 .1h0m0 0h0m-3.6 .1h0m.3 0h0m.2 0h0m3.9 0h0m-2.8 0h0m2.5 .1h0m-1.4 .1h0m.1 0h0m1.5 0h0m-2.6 0h0m-.4 .1h0m2.3 0h0m-.2 0h0m-1.7 0h0m-.5 .1h0m1.7 0h0m-.6 0h0m1.7 .1h0m-3.1 0h0m1.8 .1h0m-2 0h0m2 .1h0m-.2 0h0m-2.8 .1h0m-.1 0h0m.4 0h0m2.3 .1h0m-2.3 .1h0m1.8 0h0m2 0h0m.7 .1h0m-1.5 0h0m1.5 0h0m-3.5 0h0m3.5 .1h0m-2 0h0m1.1 0h0m-2.5 .1h0m1.9 0h0m-.8 0h0m-.7 0h0m1.3 0h0m-1.7 0h0m3.2 .1h0m-4.2 0h0m2.2 0h0m-1 .1h0m-.5 0h0m-.9 0h0m3.7 0h0m-1.7 .1h0m1.3 .1h0m-1.1 0h0m.1 .1h0m1.1 0h0m1.1 0h0m-.1 0h0m-.2 .1h0m-4.2 0h0m1.8 0h0m1.8 0h0m.3 0h0m-1.4 .1h0m.3 0h0m.6 0h0m-3.5 .1h0m1.6 0h0m1.9 .1h0m-.6 0h0m1.1 .1h0m.5 0h0m-1.8 0h0m.2 0h0m-.9 .1h0m1.7 0h0m-1 0h0m1.2 .1h0m-2.5 0h0m.4 .1h0m1.9 .2h0m-1.2 0h0m.1 0h0m1 0h0m.6 0h0m.1 .1h0m-3.1 0h0m1.2 0h0m.6 0h0m.8 0h0m-2.7 .1h0m-.2 0h0m2.9 0h0m-3.3 0h0m.3 .1h0m1.1 .1h0m-.2 .1h0m.9 0h0m-.3 0h0m1.2 0h0m.3 .1h0m.6 0h0m-.2 0h0m-3.3 0h0m2.4 .1h0m-.1 0h0m-1.3 0h0m2.2 0h0m-2.9 .1h0m2.7 .1h0m-.9 0h0m-.6 0h0m-.5 .1h0m1.3 .1h0m-1.4 .1h0m2.7 0h0m-.4 0h0m-.7 .1h0m-.5 0h0m.8 0h0m-2.1 0h0m.8 0h0m-.5 0h0m.9 .2h0m-.1 0h0m2.1-5.3h0m.2 .1h0m.6 1h0m.1 .2h0m-.6 .1h0m.1 .2h0m.8 .4h0m-.5 .5h0m-.3 .1h0m.8 .1h0m-.6 0h0m.2 .3h0m-.3 .1h0m-.5 0h0m1 .1h0m0 .1h0m-.5 0h0m.5 .2h0m.1 .1h0m-.9 .1h0m-.2 .1h0m.8 0h0m0 0h0m-.4 .1h0m0 0h0m-.3 0h0m.5 .2h0" stroke="#00ba38" stroke-width="1.20" stroke-linecap="round" fill="none" opacity="1.0"/>
<path d="M644 400.2h0m.4 .2h0m-.4 0h0m0 .2h0m3.9-1.4h0m-2.3 0h0m2.6 .1h0m-2.7 0h0m.7 .1h0m-.7 .2h0m2.6 0h0m1.4 0h0m-2.5 0h0m.7 .1h0m-.5 0h0m-1.4 .3h0m2 0h0m1.8 .1h0m-3 .1h0m-.1 0h0m.3 .1h0m.5 0h0m-.4 0h0m1.8 0h0m-1.3 .1h0m-1.6 .1h0m3.3 0h0m-2.6 .1h0m1.2 .1h0m-2.6 .1h0m.3 0h0m-.4 .1h0m4.1 0h0m.1 .2h0m.7 0h0m-4.6 .1h0m4.8 0h0m-1.7 .2h0m-2 0h0m1.2 0h0m-1.4 .1h0m2.2 0h0m-2.6 .1h0m2.2 0h0m-2.4 .2h0" stroke="#00ba38" stroke-width="1.10" stroke-linecap="round" fill="none" opacity="1.0"/>
<path d="M670.5 376h0m.1 .4h0m-.5 .2h0m.6 0h0m.3 .1h0m-.5 .1h0m1 .2h0m-.9 0h0m-.9 .3h0m.4 0h0m-.2 .2h0m1.2 .1h0m.4 .2h0m-1.4 0h0m-.2 .1h0m.3 .3h0m.5 0h0m-.5 .5h0m.5 .1h0m-.4 .2h0m1.1 .1h0m-.9 .4h0m.7 .4h0m-.4 .3h0m-.5 0h0" stroke="#00ba38" stroke-width="1.00" stroke-linecap="round" fill="none" opacity="1.0"/>
<path d="M540.6 379.4 Q580.9 392.4 615.4 394.9 L660.6 393.4 C665.4 390.9 667.7 380.9 667.1 367.9" stroke="#1a1a1a" stroke-width="0.75" fill="none"/>
<circle cx="615.4" cy="394.9" r="3" fill="#111"/>
<text x="615.4" y="396.2" font-size="3.5" text-anchor="middle" fill="#fff" style="stroke:none">2</text>
<circle cx="660.6" cy="393.4" r="3" fill="#111"/>
<text x="660.6" y="394.6" font-size="3.5" text-anchor="middle" fill="#fff" style="stroke:none">1</text>
<line x1="389.5" y1="420.4" x2="389.5" y2="463.2" stroke="#3a3a3a" stroke-width="0.8"/>
<line x1="387.7" y1="428.1" x2="389.5" y2="428.1" stroke="#3a3a3a" stroke-width="0.7"/>
<text x="386.5" y="430.8" font-size="7.6" text-anchor="end" fill="#333">3</text>
<line x1="387.7" y1="439.2" x2="389.5" y2="439.2" stroke="#3a3a3a" stroke-width="0.7"/>
<text x="386.5" y="441.9" font-size="7.6" text-anchor="end" fill="#333">0</text>
<line x1="387.7" y1="450.3" x2="389.5" y2="450.3" stroke="#3a3a3a" stroke-width="0.7"/>
<text x="386.5" y="453" font-size="7.6" text-anchor="end" fill="#333">−3</text>
<line x1="387.7" y1="461.4" x2="389.5" y2="461.4" stroke="#3a3a3a" stroke-width="0.7"/>
<text x="386.5" y="464.1" font-size="7.6" text-anchor="end" fill="#333">−6</text>
<text x="462.8" y="421" font-size="8.6" text-anchor="middle" fill="#222">C4</text>
<path d="M395.6 433.7h0m2.5 .6h0m-2.1 0h0m-.6 .1h0m1.8 .1h0m-1.8 0h0m1.3 0h0m-1.3 .1h0m-.1 0h0m.1 .1h0m1.1 .1h0m-.4 0h0m-.2 0h0m.5 .4h0m.1 .1h0m-1.4 .1h0m.3 0h0m-.1 0h0m-.2 .1h0m.9 0h0m.6 0h0m.5 0h0m-1.3 .1h0m-.8 0h0m0 0h0m1 .1h0m-1.1 .1h0m.9 0h0m-.9 0h0m1 .1h0m-.3 0h0m-.5 .1h0m2 0h0m-.8 0h0m-1.5 .1h0m1.7 0h0m-.2 0h0m-1.4 .1h0m4 0h0m-3 0h0m2.1 .1h0m-1.1 0h0m-2 0h0m.2 0h0m.9 .1h0m2.5 .1h0m-3.1 0h0m-.4 .1h0m.4 0h0m-.3 0h0m.6 0h0m-.4 .1h0m-.5 0h0m-.2 0h0m3.1 .1h0m-2.7 0h0m2.8 0h0m.1 0h0m-3.2 .1h0m2.5 0h0m-2.5 0h0m1.8 0h0m-.9 .1h0m.1 0h0m-.4 .1h0m.8 0h0m2.2 0h0m-.8 .1h0m-2.7 0h0m.3 0h0m3 0h0m-1.7 0h0m1.7 .2h0m-1.5 0h0m-1.1 0h0m.1 .1h0m-.7 .2h0m-.5 .1h0m0 0h0m0 .1h0m4.6 0h0m-3.7 0h0m.1 .1h0m.7 .1h0m2.2 0h0m-3.8 0h0m4.5 .1h0m-3.6 .3h0m-1.3 .5h0m3.7 0h0m.3 0h0m1.9-3.1h0m1 .3h0m-1.7 0h0m4.3 .3h0m-4.4 .1h0m.5 .1h0m.1 0h0m4 .1h0m-1.5 .2h0m-2.2 .2h0m-.8 .1h0m1 .1h0m.3 0h0m.6 0h0m2.5 .1h0m-3.1 .1h0m1.7 .1h0m2.4 .1h0m-4.4 .1h0m.2 .1h0m2.3 0h0m-2.9 .1h0m3.8 .1h0m-.9 0h0m1.7 .1h0m-2.9 .4h0m-1.3 .1h0m0 0h0m4.1 0h0m-1 .7h0m1.2 .1h0m-.7 0h0m-.2 .3h0m-.7 .3h0m1.4 .3h0m-1.6 1.2h0m4.2-4.9h0m.2 .4h0m-2 .3h0m3.7 .6h0m-3.1 .3h0m-.1 0h0m2.9 .2h0m-1.2 .2h0m-.9 0h0m-1 .2h0m1.4 .1h0m3.4 .1h0m-3.6 .2h0m1.8 0h0m-.6 .3h0m-2.3 0h0m2.6 .1h0m-3.1 0h0m2.6 .2h0m1 .1h0m-2.9 .1h0m4.4 .2h0m-2.6 0h0m2.9 .2h0m-5.5 0h0m4 .3h0m0 0h0m.1 0h0m.6 .1h0m-.7 .1h0m-2.4 .4h0m3.3 .1h0m-3.8 .3h0m.6 .1h0m3.3 0h0m2.2-2.3h0m-.3 .1h0m4 .1h0m-3.8 .3h0m2.8 .1h0m-3.8 .1h0m3 0h0m-2.1 .1h0m3 .2h0m-.9 .1h0m-.9 .2h0m.3 .2h0m2.3 0h0m-.6 .1h0m-3.6 0h0m2.1 .1h0m-.4 .1h0m2.3 .2h0m-1.7 .1h0m1.1 0h0m1.7 0h0m-2.5 .1h0m-3 .1h0m1.4 .1h0m1.9 0h0m-.2 .1h0m.6 0h0m-2 .1h0m0 .1h0m-.9 0h0m3.9 .2h0m-.6 .2h0m.6 .1h0m-1.9 0h0m-.8 .4h0m4.1-3h0m-.3 .4h0m3.7 1h0m.1 .3h0m-1.3 .1h0m-1.9 .1h0m.7 .2h0m-.2 .6h0m.6 0h0m.1 .2h0m3.1 0h0m-.5 0h0m-.7 .1h0m1.8 0h0m-1.1 0h0m-3.8 .5h0m4.7 .1h0m-1.8 .3h0m-.8 1.6h0m-2 .4h0m5.9-5h0m1.4 .5h0m-.1 .4h0m-1.5 .1h0m3.5 .5h0m-2 .3h0m.5 .2h0m-1.5 0h0m-.3 .1h0m1 .1h0m-.7 .3h0m1.5 .2h0m0 .2h0m-.3 .1h0m3.4 0h0m-1.8 .2h0m-3 0h0m-.4 .1h0m3.1 .4h0m-2.3 .1h0m3 0h0m-.6 .3h0m-1.3 0h0m-1.8 .1h0m.7 0h0m3.2 .2h0m1.4 .7h0m-2.2 1.7h0m2.5-2.8h0m4.7 .1h0m-3.7 .1h0m3.5 .1h0m-1.9 .2h0m0 .1h0m.4 0h0m.5 .1h0m-2.2 .4h0m.7 .1h0m-1 .1h0m2.6 .4h0m-1 .1h0m.5 .1h0m.6 1.3h0" stroke="#00c19f" stroke-width="1.20" stroke-linecap="round" fill="none" opacity="0.9"/>
<path d="M522.4 422.2h0m1.1 0h0m-1.8 .1h0m0 0h0m-1.2 .2h0m1.9 0h0m-.6 .1h0m-1 0h0m.1 .1h0m-.3 0h0m1.1 .1h0m-.9 0h0m3.1 0h0m-2.4 .2h0m.5 .1h0m1 0h0m-.2 0h0m.4 0h0m-.3 .1h0m-.2 .1h0m.5 .1h0m.8 .1h0m-1.3 .1h0m.8 .1h0m-1.8 .1h0m1.5 0h0m.5 .1h0m1.2 .3h0m-1.3 0h0m-.9 .1h0m1.5 .1h0m-3.3 0h0m2.6 .1h0m-.6 0h0m-.3 .1h0m.8 0h0m.2 0h0m.5 .1h0m-1.2 .1h0m-.6 0h0m-.6 .1h0m2.1 0h0m-.1 .1h0m-.5 0h0m-.6 .2h0m-.9 .1h0m-.2 0h0m1.8 .1h0m-2.5 .1h0m-.9 .1h0m4.1 .1h0m-1.2 0h0m0 .1h0m-1.2 0h0m2.4 .3h0m-1.4 0h0m-.8 .2h0m.4 0h0m.8 .1h0m0 0h0m1.3 .1h0m-1.4 0h0m1 .1h0m-.4 0h0m-.8 .1h0m1.5 .2h0m-2.3 0h0m-.4 .3h0m0 .1h0m1.8 .1h0m-2.5 0h0m2 .2h0m1 0h0m-1.8 .1h0m1.2 0h0m1 .1h0m-2.6 0h0m1.4 0h0m-.4 .1h0m0 .1h0m.4 .1h0m.8 .1h0m-1.7 0h0m1.3 0h0m-.7 0h0m.5 .1h0m.1 .1h0m-2.2 0h0m.8 0h0m.2 .1h0m2.2 .2h0m-1.8 .1h0m-.2 .1h0m2 0h0m-1.5 0h0m-.2 0h0m1.4 .1h0m-1.5 0h0m-.4 0h0m-.1 .1h0m2.3 0h0m.4 .1h0m-.4 .1h0m-3 0h0m2.3 0h0m1.1 .2h0m-1.2 0h0m.1 .1h0m-.3 .2h0m1.5 .3h0m-1.9 .2h0m1.6 0h0m-1.7 .1h0m-1.5 .1h0m2.5 0h0m-1.3 .1h0m1.6 0h0m-.7 .1h0m.1 0h0m-.5 .2h0m1.3 0h0m-2.7 0h0m2 .1h0m.6 0h0m-.4 .1h0m-.1 0h0m.3 .2h0m-.1 0h0m-1.3 0h0m-1.4 .1h0m3.1 .1h0m-1.3 0h0m.8 .1h0m-.5 .2h0m.1 .1h0m-1.8 .3h0m2.1 0h0m-2.6 .1h0m1.5 .1h0m.1 0h0m2.1 0h0m-1.4 .1h0m.2 0h0m.8 .1h0m-2.1 .1h0m.6 0h0m2 0h0m-1.3 .1h0m-1.1 0h0m.5 .1h0m-1.8 .1h0m2.6 0h0m-.5 .1h0m-1.6 .1h0m.7 .2h0m2 0h0m-.6 .2h0m-1.3 .2h0m.8 .5h0m1.4 .2h0m-.2 .1h0m-3 0h0m.2 0h0m2.9 0h0m-.2 .1h0m-.6 .1h0m-1.6 .1h0m2 .2h0m-.4 .1h0m-.5 .1h0m.5 .1h0m.4 0h0m-3.5 0h0m2.6 .1h0m.3 .1h0m.5 0h0m-.4 .1h0m-1.1 0h0m1.3 .4h0m-1.7 0h0m.3 .1h0m1.8 0h0m-2.4 .1h0m-1.3 .2h0m3.8 0h0m-2.3 0h0m.7 .1h0m1.3 0h0m-.4 .1h0m.1 0h0m.5 0h0m0 .3h0m-1.3 0h0m.3 0h0m-1.3 .2h0m.9 .1h0m-2 0h0m2 .2h0m-.4 0h0m1 .2h0m-1.3 .1h0m1.1 0h0m.4 .1h0m.4 0h0m.6 0h0m-.9 .4h0m.7 0h0m-.2 0h0m-1.6 0h0m-1.3 .1h0m3.5 0h0m-2 .1h0m-.8 0h0m0 0h0m.2 0h0m1.6 .1h0m-.4 .1h0m-.6 .1h0m-1.8 .1h0m3.1 .2h0m.3 0h0m-.9 0h0m0 .1h0m1.4-16.5h0m.5 2.5h0m-.5 3.9h0m.4 .4h0m0 5.3h0m-.1 2.3h0m.4 .7h0" stroke="#00c19f" stroke-width="1.20" stroke-linecap="round" fill="none" opacity="0.95"/>
<path d="M396.4 434.3h0m.4 1.7h0m7.7 2.8h0m-4.3 1.2h0m5.8-1.9h0m3.1 1.9h0m4 1.4h0m-1.2 .4h0m4.9 1.6h0m.6-2.4h0m1.4 1.6h0m.9 .6h0m-1.4 1.6h0m13.2 .9h0m3.8 .1h0m.4 .4h0m3.3 .9h0m-.9 .5h0m7.2 2.4h0m2.5-2.1h0m0 2h0m4 .7h0m1.3-2.1h0m2.4 .5h0m.3 .5h0m2.1 1.5h0m1.6-2.1h0m2.2 1.8h0m2.5 1.8h0m4.6-.6h0" stroke="#00c19f" stroke-width="1.00" stroke-linecap="round" fill="none" opacity="0.7"/>
<path d="M518.9 450.9h0m1.1-1.5h0m.3 .2h0m-.9 0h0m1 .7h0m.1 0h0m.7 0h0m-1.6 .1h0m1.4 .1h0m.1 0h0m.1 .2h0m-1.1 .1h0m.2 0h0m-.3 .3h0m.2 0h0" stroke="#00c19f" stroke-width="1.00" stroke-linecap="round" fill="none" opacity="1.0"/>
<path d="M394.6 436.6 Q434.9 449.6 469.4 452.1 L514.6 450.6 C519.4 448.1 521.7 438.1 521.1 425.1" stroke="#1a1a1a" stroke-width="0.75" fill="none"/>
<circle cx="469.4" cy="452.1" r="3" fill="#111"/>
<text x="469.4" y="453.4" font-size="3.5" text-anchor="middle" fill="#fff" style="stroke:none">2</text>
<circle cx="514.6" cy="450.6" r="3" fill="#111"/>
<text x="514.6" y="451.8" font-size="3.5" text-anchor="middle" fill="#fff" style="stroke:none">1</text>
<line x1="535.5" y1="420.4" x2="535.5" y2="463.2" stroke="#3a3a3a" stroke-width="0.8"/>
<line x1="533.7" y1="428.1" x2="535.5" y2="428.1" stroke="#3a3a3a" stroke-width="0.7"/>
<line x1="533.7" y1="439.2" x2="535.5" y2="439.2" stroke="#3a3a3a" stroke-width="0.7"/>
<line x1="533.7" y1="450.3" x2="535.5" y2="450.3" stroke="#3a3a3a" stroke-width="0.7"/>
<line x1="533.7" y1="461.4" x2="535.5" y2="461.4" stroke="#3a3a3a" stroke-width="0.7"/>
<text x="608.8" y="421" font-size="8.6" text-anchor="middle" fill="#222">C5</text>
<path d="M541.5 433.9h0m-.1 .3h0m.8 .1h0m-.8 .2h0m0 .1h0m.9 .1h0m-1.1 .1h0m.3 .1h0m.9 0h0m-1.1 .1h0m.6 0h0m-.2 .1h0m-.4 0h0m.4 0h0m.1 .1h0m1 0h0m-.4 .1h0m-1 0h0m0 0h0m-.4 .1h0m.5 0h0m-.3 .1h0m.8 0h0m-1 0h0m.9 0h0m.2 .1h0m.7 0h0m-1.8 0h0m0 .1h0m1.1 0h0m-.6 .1h0m.8 0h0m-1.4 0h0m.5 0h0m-.5 .1h0m0 0h0m1.4 0h0m-1 0h0m-.4 .1h0m.1 0h0m2 .1h0m-2.2 0h0m.1 0h0m.4 .1h0m1.7 .1h0m-2 .1h0m-.2 0h0m0 0h0m-.1 .1h0m2.2 0h0m-2.2 0h0m0 .1h0m.2 0h0m-.3 0h0m.3 .2h0m.2 0h0m-.4 0h0m-.1 0h0m1.4 .1h0m-.7 0h0m-.4 0h0m.3 0h0m-.7 .1h0m.4 0h0m-.3 0h0m-.1 0h0m.2 0h0m1.6 .1h0m0 0h0m-1.4 0h0m1.7 .1h0m-1.4 0h0m.1 0h0m-.8 0h0m.2 .1h0m-.2 0h0m.6 0h0m.5 0h0m.5 0h0m-.2 .1h0m-.3 0h0m.1 0h0m-1.3 .1h0m0 0h0m0 0h0m2.5 0h0m-2.4 0h0m1 .1h0m.8 0h0m-.7 0h0m-1.1 .2h0m2.4 .1h0m.1 .3h0m-.9 0h0m-1.9 .1h0m.1 .1h0m1.5 0h0m.9 .1h0m-.1 .2h0m-1.2 .2h0m-.6 .4h0m.9 .1h0m-1.8 .1h0m2.8 .5h0m.7-4.6h0m2.7 .1h0m-.6 .2h0m3.2 0h0m-4.7 .2h0m-.3 .1h0m-.3 0h0m.7 .1h0m0 0h0m-.9 .1h0m.3 0h0m1.5 0h0m2.5 .1h0m-3.6 .1h0m.4 .1h0m-.6 0h0m1.3 .1h0m1 .1h0m-2.2 .1h0m.9 0h0m.4 .1h0m-1.9 0h0m1.1 .1h0m.8 0h0m2 0h0m.4 .1h0m-3.3 0h0m4.5 0h0m-3.5 0h0m3.5 .2h0m-2.4 .2h0m-1.1 .1h0m-1.5 .1h0m-.2 0h0m.6 0h0m.3 0h0m-1 0h0m3.8 0h0m-1.9 .2h0m-2.1 .1h0m4.2 .1h0m-3.2 0h0m2.2 .1h0m.4 .1h0m-2.3 .1h0m-1.2 0h0m3.2 0h0m-.3 .1h0m-1.8 .1h0m-.5 .1h0m.2 0h0m3.7 .5h0m.9 .1h0m-2.8 0h0m2.6 0h0m-1.9 .3h0m1 0h0m1.2 .3h0m-1.5 .4h0m.9 .2h0m-3 0h0m3.2 0h0m-.8 .5h0m.8 .3h0m.8-4.5h0m.3 .6h0m2.4 .2h0m-.2 .1h0m.3 .3h0m-1.9 0h0m1.9 .2h0m-2.1 0h0m.5 .1h0m.1 .4h0m-.4 0h0m1.9 .2h0m-2.5 0h0m.2 .4h0m3 .2h0m0 0h0m.4 .1h0m-.1 0h0m-1.1 .1h0m-1 0h0m3.9 .2h0m-5.3 .1h0m1.5 0h0m3.9 .2h0m-.3 0h0m-1.6 0h0m2 .5h0m-4.8 0h0m1.3 .1h0m2.1 .1h0m-3.2 0h0m2.5 .1h0m-.8 0h0m.8 .1h0m.8 .4h0m.1 .4h0m-.8 .2h0m4.7-3.8h0m.3 1h0m2.3 .3h0m-1.9 .2h0m-2 0h0m-.5 .2h0m-.8 .3h0m.5 0h0m.4 .1h0m4.3 0h0m-5 0h0m1.7 0h0m3.2 .1h0m-2 .1h0m-.4 0h0m-.6 .1h0m-1.2 0h0m3.5 .1h0m-3.5 .4h0m3.5 .2h0m1.2 0h0m-.3 .1h0m-.5 0h0m.3 0h0m-5.1 .1h0m2.3 0h0m3 .1h0m-5.1 .1h0m2.5 .1h0m-.3 0h0m-.8 .2h0m2.4 .1h0m-1.6 .5h0m3.3 1.1h0m-.6 .6h0m-.7 .6h0m-.9 .1h0m6.2-5.7h0m-.2 .2h0m-.8 .9h0m-2.5 .3h0m.3 .1h0m2.2 .3h0m-2 0h0m2.5 .3h0m-2.2 .2h0m.5 0h0m-1 .4h0m3.8 0h0m-4.3 0h0m3.3 .2h0m-2.7 .3h0m5 0h0m-1.2 0h0m-3.7 .1h0m.7 0h0m-.7 0h0m1.8 .3h0m3.1 .3h0m-3.1 .1h0m-1.4 .2h0m4 .2h0m-2.6 0h0m3.4 .5h0m-3.7 .3h0m.2 .3h0m2 0h0m-1.3 .1h0m.1 .1h0m.3 .6h0m1.8 .3h0m1.1-6.2h0m-.3 1.4h0m.7 .7h0m2.5 .2h0m-.2 .5h0m-1.3 .4h0m2.4 0h0m-3.2 .1h0m.8 .2h0m.6 .1h0m.6 .1h0m-1.9 .3h0m1.6 0h0m2.4 .1h0m-3.9 .1h0m-.3 .1h0m2 .2h0m-1.6 0h0m2.5 0h0m.4 0h0m-2.5 .1h0m4 .2h0m-3.3 0h0m3.1 .4h0m-.1 .2h0m.2 .2h0m-1.8 .2h0m1 .3h0m-1 .2h0m4.9-2.3h0m-2.6 .6h0m1.7 .2h0m-.3 .2h0m1.8 .2h0m-1.5 .6h0m2.1 .1h0m-2.4 .1h0m1.3 .1h0m1.3 .1h0m-.9 0h0m-3.2 .2h0m3.9 .4h0m1.8 .1h0m.2 0h0m0 .5h0m-2.8 .9h0m1.8 .3h0m3.2-4.5h0m-.9 .1h0m-.2 .9h0m-.5 .2h0m1.8 .2h0m-2.1 0h0m2.3 .1h0m-1.4 .1h0m-.1 .1h0m.7 .1h0m-.3 .2h0m1.7 .2h0m2.7 .2h0m-3.2 .2h0m-1.1 0h0m2.1 .2h0m-1.4 .1h0m1 .1h0m1.7 0h0m.4 .4h0m-3.8 .1h0m-1.3 0h0m.5 0h0m1.6 .1h0m-.3 .1h0m2.7 .1h0m.1 .1h0m-4.3 .2h0m4.2 0h0m-3.5 .6h0m3.2 .7h0m.7 .1h0m2.9-4.1h0m-1.5 .6h0m.9 1h0m-.8 .1h0m-.3 1.7h0" stroke="#00b9e3" stroke-width="1.20" stroke-linecap="round" fill="none" opacity="0.95"/>
<path d="M544 437h0m2.6 .5h0m2 .8h0m5.8 3.1h0m9.3 1.5h0m7.3 2.6h0m5.6-1h0m-3.5 1.1h0m2.8 .8h0m.7 .5h0m.8 .4h0m6.6-.2h0m-3.5 .5h0m-1.4 .1h0m5.7 1.3h0m8.9-.5h0m.6 .3h0m6.1 .4h0m2.6 .2h0m-3.3 0h0m-2.3 1.1h0m9.3-.3h0m3.3 .6h0m-.5 .7h0m2.4 0h0" stroke="#00b9e3" stroke-width="1.00" stroke-linecap="round" fill="none" opacity="0.7"/>
<path d="M540.6 436.6 Q580.9 449.6 615.4 452.1 L660.6 450.6 C665.4 448.1 667.7 438.1 667.1 425.1" stroke="#1a1a1a" stroke-width="0.75" fill="none"/>
<circle cx="615.4" cy="452.1" r="3" fill="#111"/>
<text x="615.4" y="453.4" font-size="3.5" text-anchor="middle" fill="#fff" style="stroke:none">2</text>
<circle cx="660.6" cy="450.6" r="3" fill="#111"/>
<text x="660.6" y="451.8" font-size="3.5" text-anchor="middle" fill="#fff" style="stroke:none">1</text>
<line x1="389.5" y1="477.2" x2="389.5" y2="521.6" stroke="#3a3a3a" stroke-width="0.8"/>
<line x1="387.7" y1="484.9" x2="389.5" y2="484.9" stroke="#3a3a3a" stroke-width="0.7"/>
<text x="386.5" y="487.6" font-size="7.6" text-anchor="end" fill="#333">3</text>
<line x1="387.7" y1="496" x2="389.5" y2="496" stroke="#3a3a3a" stroke-width="0.7"/>
<text x="386.5" y="498.7" font-size="7.6" text-anchor="end" fill="#333">0</text>
<line x1="387.7" y1="507.1" x2="389.5" y2="507.1" stroke="#3a3a3a" stroke-width="0.7"/>
<text x="386.5" y="509.8" font-size="7.6" text-anchor="end" fill="#333">−3</text>
<line x1="387.7" y1="518.2" x2="389.5" y2="518.2" stroke="#3a3a3a" stroke-width="0.7"/>
<text x="386.5" y="520.9" font-size="7.6" text-anchor="end" fill="#333">−6</text>
<text x="462.8" y="477.8" font-size="8.6" text-anchor="middle" fill="#222">C7</text>
<path d="M398.2 492.5h0m-.4 .3h0m-.2 .1h0m-.1 0h0m.4 .2h0m.7 0h0m-.1 .1h0m0 .1h0m-.3 .1h0m-.2 0h0m.6 0h0m-.1 .1h0m-.6 .1h0m-.8 0h0m.6 0h0m.8 .1h0m.3 0h0m-1.5 .1h0m.3 0h0m.4 0h0m-.1 .2h0m.1 0h0m-.1 0h0m-1 0h0m1.8 0h0m-.3 .1h0m.2 0h0m-.3 .1h0m0 0h0m-1.6 0h0m0 .1h0m.9 0h0m.8 .1h0m-1.4 0h0m.6 .1h0m-.5 .1h0m.2 0h0m1 .1h0m-1.4 0h0m1.3 .1h0m-.7 .1h0m.3 .1h0m.1 .1h0m.5 0h0m-1.3 0h0m1.6 .1h0m-1.6 0h0m.8 0h0m1.1 .1h0m-1.3 0h0m.6 0h0m-.2 .2h0m.4 0h0m-.1 .3h0m1.6-3.3h0m.1 .2h0m-.2 .2h0m1.4 .1h0m-.4 .1h0m-.1 .1h0m-1.3 0h0m.2 0h0m1.2 0h0m-.1 .2h0m-.8 0h0m-.7 0h0m2.4 .1h0m-.9 0h0m.6 0h0m-1 0h0m-.6 0h0m-.4 0h0m.4 .1h0m1.3 .1h0m-.5 0h0m-.1 0h0m.1 0h0m.6 0h0m-1 .3h0m.3 0h0m1.1 0h0m-.6 .2h0m-1.6 0h0m1 0h0m.7 0h0m-1 .2h0m-.8 .1h0m2.3 0h0m-1.9 0h0m-.2 0h0m1.4 0h0m.3 .1h0m-.5 .1h0m.5 0h0m-1.5 .1h0m.2 .1h0m-.7 0h0m1.9 0h0m-.6 .1h0m.2 0h0m-1.1 .3h0m.7 .1h0m-.3 0h0m-.6 0h0m1.3 .1h0m-1.5 0h0m.9 .1h0m-.9 0h0m.9 .1h0m-.8 .2h0" stroke="#db72fb" stroke-width="1.30" stroke-linecap="round" fill="none" opacity="1.0"/>
<path d="M397.3 494.1h0m10.3 3.3h0m3.6-.8h0m-.1 1.5h0m1.4 .4h0m1.5 .4h0m2.4 .8h0m.9-1.8h0m6.4 3h0m1.3 1h0m2.6 1h0m5.7 1.5h0" stroke="#db72fb" stroke-width="1.00" stroke-linecap="round" fill="none" opacity="0.9"/>
<path d="M394.6 493.4 Q434.9 506.4 469.4 508.9 L514.6 507.4 C519.4 504.9 521.7 494.9 521.1 481.9" stroke="#1a1a1a" stroke-width="0.75" fill="none"/>
<circle cx="469.4" cy="508.9" r="3" fill="#111"/>
<text x="469.4" y="510.2" font-size="3.5" text-anchor="middle" fill="#fff" style="stroke:none">2</text>
<circle cx="514.6" cy="507.4" r="3" fill="#111"/>
<text x="514.6" y="508.6" font-size="3.5" text-anchor="middle" fill="#fff" style="stroke:none">1</text>
<line x1="535.5" y1="477.2" x2="535.5" y2="521.6" stroke="#3a3a3a" stroke-width="0.8"/>
<line x1="533.7" y1="484.9" x2="535.5" y2="484.9" stroke="#3a3a3a" stroke-width="0.7"/>
<line x1="533.7" y1="496" x2="535.5" y2="496" stroke="#3a3a3a" stroke-width="0.7"/>
<line x1="533.7" y1="507.1" x2="535.5" y2="507.1" stroke="#3a3a3a" stroke-width="0.7"/>
<line x1="533.7" y1="518.2" x2="535.5" y2="518.2" stroke="#3a3a3a" stroke-width="0.7"/>
<text x="608.8" y="477.8" font-size="8.6" text-anchor="middle" fill="#222">C8</text>
<path d="M541.7 493.6h0m-.3 .4h0m.4 0h0m-.7 .1h0m.2 .3h0m.5 0h0m.3 .1h0m.3 .1h0m-1 0h0m1.1 .1h0m-.9 .1h0m-.6 .2h0m1.3 0h0m-.3 .4h0" stroke="#ff61c3" stroke-width="1.10" stroke-linecap="round" fill="none" opacity="1.0"/>
<path d="M664.7 479.9h0m.2 .3h0" stroke="#ff61c3" stroke-width="1.00" stroke-linecap="round" fill="none" opacity="1.0"/>
<path d="M540.6 493.4 Q580.9 506.4 615.4 508.9 L660.6 507.4 C665.4 504.9 667.7 494.9 667.1 481.9" stroke="#1a1a1a" stroke-width="0.75" fill="none"/>
<circle cx="615.4" cy="508.9" r="3" fill="#111"/>
<text x="615.4" y="510.2" font-size="3.5" text-anchor="middle" fill="#fff" style="stroke:none">2</text>
<circle cx="660.6" cy="507.4" r="3" fill="#111"/>
<text x="660.6" y="508.6" font-size="3.5" text-anchor="middle" fill="#fff" style="stroke:none">1</text>
<line x1="389.5" y1="521.6" x2="532.3" y2="521.6" stroke="#3a3a3a" stroke-width="0.8"/>
<line x1="394.6" y1="521.6" x2="394.6" y2="523.4" stroke="#3a3a3a" stroke-width="0.7"/>
<text x="394.6" y="530.3" font-size="7.8" text-anchor="middle" fill="#333">−15</text>
<line x1="423.4" y1="521.6" x2="423.4" y2="523.4" stroke="#3a3a3a" stroke-width="0.7"/>
<text x="423.4" y="530.3" font-size="7.8" text-anchor="middle" fill="#333">−10</text>
<line x1="452.1" y1="521.6" x2="452.1" y2="523.4" stroke="#3a3a3a" stroke-width="0.7"/>
<text x="452.1" y="530.3" font-size="7.8" text-anchor="middle" fill="#333">−5</text>
<line x1="480.9" y1="521.6" x2="480.9" y2="523.4" stroke="#3a3a3a" stroke-width="0.7"/>
<text x="480.9" y="530.3" font-size="7.8" text-anchor="middle" fill="#333">0</text>
<line x1="509.6" y1="521.6" x2="509.6" y2="523.4" stroke="#3a3a3a" stroke-width="0.7"/>
<text x="509.6" y="530.3" font-size="7.8" text-anchor="middle" fill="#333">5</text>
<line x1="535.5" y1="521.6" x2="678.3" y2="521.6" stroke="#3a3a3a" stroke-width="0.8"/>
<line x1="540.6" y1="521.6" x2="540.6" y2="523.4" stroke="#3a3a3a" stroke-width="0.7"/>
<text x="540.6" y="530.3" font-size="7.8" text-anchor="middle" fill="#333">−15</text>
<line x1="569.4" y1="521.6" x2="569.4" y2="523.4" stroke="#3a3a3a" stroke-width="0.7"/>
<text x="569.4" y="530.3" font-size="7.8" text-anchor="middle" fill="#333">−10</text>
<line x1="598.1" y1="521.6" x2="598.1" y2="523.4" stroke="#3a3a3a" stroke-width="0.7"/>
<text x="598.1" y="530.3" font-size="7.8" text-anchor="middle" fill="#333">−5</text>
<line x1="626.9" y1="521.6" x2="626.9" y2="523.4" stroke="#3a3a3a" stroke-width="0.7"/>
<text x="626.9" y="530.3" font-size="7.8" text-anchor="middle" fill="#333">0</text>
<line x1="655.6" y1="521.6" x2="655.6" y2="523.4" stroke="#3a3a3a" stroke-width="0.7"/>
<text x="655.6" y="530.3" font-size="7.8" text-anchor="middle" fill="#333">5</text></svg></body></html>
